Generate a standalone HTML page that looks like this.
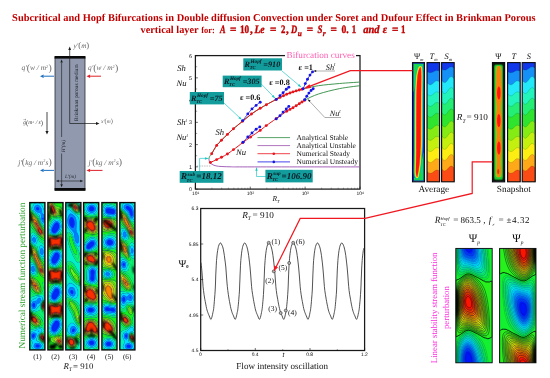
<!DOCTYPE html>
<html><head><meta charset="utf-8"><title>Graphical abstract</title>
<style>
html,body{margin:0;padding:0;background:#fff;}
body{width:550px;height:378px;overflow:hidden;font-family:"Liberation Serif", "DejaVu Serif", serif;}
svg{display:block;}
text{white-space:pre;text-rendering:geometricPrecision;}
</style></head><body>
<svg width="550" height="378" viewBox="0 0 550 378">
<defs>
<filter id="b1" x="-50%" y="-50%" width="200%" height="200%"><feGaussianBlur stdDeviation="1"/></filter>
<filter id="b15" x="-50%" y="-50%" width="200%" height="200%"><feGaussianBlur stdDeviation="1.5"/></filter>
<filter id="b2" x="-50%" y="-50%" width="200%" height="200%"><feGaussianBlur stdDeviation="2"/></filter>
<filter id="b3" x="-50%" y="-50%" width="200%" height="200%"><feGaussianBlur stdDeviation="3"/></filter>
<filter id="b4" x="-50%" y="-50%" width="200%" height="200%"><feGaussianBlur stdDeviation="4"/></filter>
<filter id="b05" x="-50%" y="-50%" width="200%" height="200%"><feGaussianBlur stdDeviation="0.5"/></filter>
<filter id="soft" x="-60%" y="-10%" width="220%" height="120%"><feGaussianBlur stdDeviation="0.35"/></filter>
</defs>
<rect x="0" y="0" width="550" height="378" fill="#fff"/>
<g id="title">
<text x="273.8" y="21.2" font-size="10.42" font-family='"Liberation Serif", "DejaVu Serif", serif' fill="#c00000" font-weight="bold" font-style="normal" text-anchor="middle" textLength="523.4" lengthAdjust="spacingAndGlyphs">Subcritical and Hopf Bifurcations in Double diffusion Convection under Soret and Dufour Effect in Brinkman Porous</text>
<text x="140.6" y="33.3" font-size="10.42" font-family='"Liberation Serif", "DejaVu Serif", serif' fill="#c00000" font-weight="bold" font-style="normal" text-anchor="start" textLength="58" lengthAdjust="spacingAndGlyphs">vertical layer</text>
<text x="201.3" y="33.3" font-size="9.0" font-family='"Liberation Serif", "DejaVu Serif", serif' fill="#c00000" font-weight="bold" font-style="normal" text-anchor="start" textLength="13.6" lengthAdjust="spacingAndGlyphs">for:</text>
<text x="220" y="33.3" font-size="11.3" font-family='"Liberation Serif", "DejaVu Serif", serif' fill="#c00000" font-weight="bold" font-style="italic" text-anchor="start" textLength="5.6" lengthAdjust="spacingAndGlyphs" stroke="#c00000" stroke-width="0.35">A</text>
<text x="230" y="33.3" font-size="11.3" font-family='"Liberation Serif", "DejaVu Serif", serif' fill="#c00000" font-weight="bold" font-style="normal" text-anchor="start" textLength="6.4" lengthAdjust="spacingAndGlyphs" stroke="#c00000" stroke-width="0.35">=</text>
<text x="240" y="33.3" font-size="11.3" font-family='"Liberation Serif", "DejaVu Serif", serif' fill="#c00000" font-weight="bold" font-style="normal" text-anchor="start" textLength="9.2" lengthAdjust="spacingAndGlyphs" stroke="#c00000" stroke-width="0.35">10</text>
<text x="250" y="33.3" font-size="11.3" font-family='"Liberation Serif", "DejaVu Serif", serif' fill="#c00000" font-weight="bold" font-style="normal" text-anchor="start" stroke="#c00000" stroke-width="0.35">,</text>
<text x="254.4" y="33.3" font-size="11.3" font-family='"Liberation Serif", "DejaVu Serif", serif' fill="#c00000" font-weight="bold" font-style="italic" text-anchor="start" textLength="10.2" lengthAdjust="spacingAndGlyphs" stroke="#c00000" stroke-width="0.35">Le</text>
<text x="270" y="33.3" font-size="11.3" font-family='"Liberation Serif", "DejaVu Serif", serif' fill="#c00000" font-weight="bold" font-style="normal" text-anchor="start" textLength="6.4" lengthAdjust="spacingAndGlyphs" stroke="#c00000" stroke-width="0.35">=</text>
<text x="281" y="33.3" font-size="11.3" font-family='"Liberation Serif", "DejaVu Serif", serif' fill="#c00000" font-weight="bold" font-style="normal" text-anchor="start" textLength="4.4" lengthAdjust="spacingAndGlyphs" stroke="#c00000" stroke-width="0.35">2</text>
<text x="286" y="33.3" font-size="11.3" font-family='"Liberation Serif", "DejaVu Serif", serif' fill="#c00000" font-weight="bold" font-style="normal" text-anchor="start" stroke="#c00000" stroke-width="0.35">,</text>
<text x="291" y="33.3" font-size="11.3" font-family='"Liberation Serif", "DejaVu Serif", serif' fill="#c00000" font-weight="bold" font-style="italic" text-anchor="start" textLength="6.2" lengthAdjust="spacingAndGlyphs" stroke="#c00000" stroke-width="0.35">D</text>
<text x="297.8" y="35.8" font-size="8.0" font-family='"Liberation Serif", "DejaVu Serif", serif' fill="#c00000" font-weight="bold" font-style="italic" text-anchor="start" textLength="4.0" lengthAdjust="spacingAndGlyphs" stroke="#c00000" stroke-width="0.35">u</text>
<text x="306.8" y="33.3" font-size="11.3" font-family='"Liberation Serif", "DejaVu Serif", serif' fill="#c00000" font-weight="bold" font-style="normal" text-anchor="start" textLength="6.4" lengthAdjust="spacingAndGlyphs" stroke="#c00000" stroke-width="0.35">=</text>
<text x="317.4" y="33.3" font-size="11.3" font-family='"Liberation Serif", "DejaVu Serif", serif' fill="#c00000" font-weight="bold" font-style="italic" text-anchor="start" textLength="5.0" lengthAdjust="spacingAndGlyphs" stroke="#c00000" stroke-width="0.35">S</text>
<text x="322.8" y="35.8" font-size="8.0" font-family='"Liberation Serif", "DejaVu Serif", serif' fill="#c00000" font-weight="bold" font-style="italic" text-anchor="start" textLength="2.8" lengthAdjust="spacingAndGlyphs" stroke="#c00000" stroke-width="0.35">r</text>
<text x="330.5" y="33.3" font-size="11.3" font-family='"Liberation Serif", "DejaVu Serif", serif' fill="#c00000" font-weight="bold" font-style="normal" text-anchor="start" textLength="6.4" lengthAdjust="spacingAndGlyphs" stroke="#c00000" stroke-width="0.35">=</text>
<text x="341.4" y="33.3" font-size="11.3" font-family='"Liberation Serif", "DejaVu Serif", serif' fill="#c00000" font-weight="bold" font-style="normal" text-anchor="start" textLength="7.2" lengthAdjust="spacingAndGlyphs" stroke="#c00000" stroke-width="0.35">0.</text>
<text x="351.8" y="33.3" font-size="11.3" font-family='"Liberation Serif", "DejaVu Serif", serif' fill="#c00000" font-weight="bold" font-style="normal" text-anchor="start" textLength="4.4" lengthAdjust="spacingAndGlyphs" stroke="#c00000" stroke-width="0.35">1</text>
<text x="363.2" y="33.3" font-size="11.3" font-family='"Liberation Serif", "DejaVu Serif", serif' fill="#c00000" font-weight="bold" font-style="italic" text-anchor="start" textLength="16.4" lengthAdjust="spacingAndGlyphs" stroke="#c00000" stroke-width="0.35">and</text>
<text x="382.8" y="33.3" font-size="11.3" font-family='"Liberation Serif", "DejaVu Serif", serif' fill="#c00000" font-weight="bold" font-style="italic" text-anchor="start" textLength="4.2" lengthAdjust="spacingAndGlyphs" stroke="#c00000" stroke-width="0.35">ε</text>
<text x="392" y="33.3" font-size="11.3" font-family='"Liberation Serif", "DejaVu Serif", serif' fill="#c00000" font-weight="bold" font-style="normal" text-anchor="start" textLength="6.4" lengthAdjust="spacingAndGlyphs" stroke="#c00000" stroke-width="0.35">=</text>
<text x="401.0" y="33.3" font-size="11.3" font-family='"Liberation Serif", "DejaVu Serif", serif' fill="#c00000" font-weight="bold" font-style="normal" text-anchor="start" textLength="4.4" lengthAdjust="spacingAndGlyphs" stroke="#c00000" stroke-width="0.35">1</text>
</g>
<g id="schematic">
<rect x="55" y="57" width="30" height="133" fill="#9099ae" stroke="#2a2d36" stroke-width="0.8"/>
<rect x="54.6" y="56" width="30.8" height="2.6" fill="#0a0a0a"/>
<rect x="54.6" y="188" width="30.8" height="2.8" fill="#0a0a0a"/>
<line x1="69.7" y1="123.5" x2="69.70" y2="50.00" stroke="#1a1a1a" stroke-width="0.7"/>
<polygon points="69.7,46.5 71.10,50.00 68.30,50.00" fill="#1a1a1a"/>
<line x1="69.7" y1="123.5" x2="96.00" y2="123.50" stroke="#1a1a1a" stroke-width="0.7"/>
<polygon points="99.5,123.5 96.00,124.90 96.00,122.10" fill="#1a1a1a"/>
<line x1="61.6" y1="137" x2="61.60" y2="62.50" stroke="#1a1a1a" stroke-width="0.6"/>
<polygon points="61.6,59.5 62.80,62.50 60.40,62.50" fill="#1a1a1a"/>
<line x1="61.6" y1="153.5" x2="61.60" y2="184.30" stroke="#1a1a1a" stroke-width="0.6"/>
<polygon points="61.6,187.3 60.40,184.30 62.80,184.30" fill="#1a1a1a"/>
<line x1="70" y1="181" x2="58.80" y2="181.00" stroke="#1a1a1a" stroke-width="0.6"/>
<polygon points="55.8,181 58.80,179.80 58.80,182.20" fill="#1a1a1a"/>
<line x1="70" y1="181" x2="80.20" y2="181.00" stroke="#1a1a1a" stroke-width="0.6"/>
<polygon points="83.2,181 80.20,182.20 80.20,179.80" fill="#1a1a1a"/>
<line x1="101" y1="76.2" x2="90.10" y2="76.20" stroke="#e0202a" stroke-width="1.0"/>
<polygon points="86.5,76.2 90.10,74.50 90.10,77.90" fill="#e0202a"/>
<line x1="54" y1="76.2" x2="43.60" y2="76.20" stroke="#1f6fc0" stroke-width="1.0"/>
<polygon points="40,76.2 43.60,74.50 43.60,77.90" fill="#1f6fc0"/>
<line x1="102.5" y1="170.4" x2="90.10" y2="170.40" stroke="#e0202a" stroke-width="1.0"/>
<polygon points="86.5,170.4 90.10,168.70 90.10,172.10" fill="#e0202a"/>
<line x1="54" y1="170.4" x2="43.60" y2="170.40" stroke="#1f6fc0" stroke-width="1.0"/>
<polygon points="40,170.4 43.60,168.70 43.60,172.10" fill="#1f6fc0"/>
<line x1="47" y1="112" x2="47.00" y2="130.90" stroke="#1a1a1a" stroke-width="0.8"/>
<polygon points="47,134.5 45.40,130.90 48.60,130.90" fill="#1a1a1a"/>
<text x="73.5" y="47.5" font-size="7.2" font-family='"Liberation Serif", "DejaVu Serif", serif' fill="#666" font-style="italic">y′<tspan font-size="8.6" font-style="normal" dy="0.8">(</tspan><tspan dy="-0.8">m</tspan><tspan font-size="8.6" font-style="normal" dy="0.8">)</tspan></text>
<text x="101" y="122.6" font-size="5.4" font-family='"Liberation Serif", "DejaVu Serif", serif' fill="#666" font-style="italic">x′<tspan font-size="6.4" font-style="normal" dy="0.8">(</tspan><tspan dy="-0.8">m</tspan><tspan font-size="6.4" font-style="normal" dy="0.8">)</tspan></text>
<text x="21.5" y="70.2" font-size="7.4" font-family='"Liberation Serif", "DejaVu Serif", serif' fill="#666" font-style="italic">q′<tspan font-size="9.8" font-style="normal" dy="0.8">(</tspan><tspan dy="-0.8">w / m<tspan font-size="4.2" dy="-2.4">2</tspan><tspan dy="2.4" font-size="1"> </tspan></tspan><tspan font-size="9.8" font-style="normal" dy="0.8">)</tspan></text>
<text x="88" y="70.2" font-size="7.4" font-family='"Liberation Serif", "DejaVu Serif", serif' fill="#666" font-style="italic">q′<tspan font-size="9.8" font-style="normal" dy="0.8">(</tspan><tspan dy="-0.8">w / m<tspan font-size="4.2" dy="-2.4">2</tspan><tspan dy="2.4" font-size="1"> </tspan></tspan><tspan font-size="9.8" font-style="normal" dy="0.8">)</tspan></text>
<text x="23.3" y="124.3" font-size="5.6" font-family='"Liberation Serif", "DejaVu Serif", serif' fill="#444" font-style="italic">g<tspan font-size="6.8" font-style="normal" dy="0.8">(</tspan><tspan dy="-0.8">m<tspan font-size="3.2" dy="-1.8">2</tspan><tspan dy="1.8" font-size="1"> </tspan> / s</tspan><tspan font-size="6.8" font-style="normal" dy="0.8">)</tspan></text>
<path d="M23.4,119.6 h2.6 m-0.9,-0.7 l0.9,0.7 l-0.9,0.7" stroke="#555" stroke-width="0.35" fill="none"/>
<text x="18.2" y="164.6" font-size="7.4" font-family='"Liberation Serif", "DejaVu Serif", serif' fill="#666" font-style="italic">j′<tspan font-size="9.8" font-style="normal" dy="0.8">(</tspan><tspan dy="-0.8">kg / m<tspan font-size="4.2" dy="-2.4">2</tspan><tspan dy="2.4" font-size="1"> </tspan>s</tspan><tspan font-size="9.8" font-style="normal" dy="0.8">)</tspan></text>
<text x="88.6" y="164.6" font-size="7.4" font-family='"Liberation Serif", "DejaVu Serif", serif' fill="#666" font-style="italic">j′<tspan font-size="9.8" font-style="normal" dy="0.8">(</tspan><tspan dy="-0.8">kg / m<tspan font-size="4.2" dy="-2.4">2</tspan><tspan dy="2.4" font-size="1"> </tspan>s</tspan><tspan font-size="9.8" font-style="normal" dy="0.8">)</tspan></text>
<text x="0" y="0" font-size="5.4" font-family='"Liberation Serif", "DejaVu Serif", serif' fill="#14161c" font-weight="normal" font-style="normal" text-anchor="start" transform="translate(77.6,121) rotate(-90)">Brinkman porous medium</text>
<text x="0" y="0" font-size="5.3" font-family='"Liberation Serif", "DejaVu Serif", serif' fill="#22252c" font-weight="normal" font-style="italic" text-anchor="start" transform="translate(65.0,152.2) rotate(-90)">H′(m)</text>
<text x="65" y="178.3" font-size="5.0" font-family='"Liberation Serif", "DejaVu Serif", serif' fill="#22252c" font-weight="normal" font-style="italic" text-anchor="start" >L′(m)</text>
</g>
<g id="bif">
<rect x="195.4" y="55.6" width="164.6" height="133.5" fill="#fff" stroke="#1a1a1a" stroke-width="1.25"/>
<line x1="195.4" y1="189.1" x2="197.9" y2="189.1" stroke="#111" stroke-width="0.6"/>
<text x="192.0" y="191.0" font-size="5.4" font-family='"Liberation Sans", "DejaVu Sans", sans-serif' fill="#111" font-weight="normal" font-style="normal" text-anchor="end" >0</text>
<line x1="195.4" y1="177.97" x2="197.20000000000002" y2="177.97" stroke="#111" stroke-width="0.4"/>
<line x1="195.4" y1="166.85" x2="197.9" y2="166.85" stroke="#111" stroke-width="0.6"/>
<text x="192.0" y="168.75" font-size="5.4" font-family='"Liberation Sans", "DejaVu Sans", sans-serif' fill="#111" font-weight="normal" font-style="normal" text-anchor="end" >1</text>
<line x1="195.4" y1="155.72" x2="197.20000000000002" y2="155.72" stroke="#111" stroke-width="0.4"/>
<line x1="195.4" y1="144.6" x2="197.9" y2="144.6" stroke="#111" stroke-width="0.6"/>
<text x="192.0" y="146.5" font-size="5.4" font-family='"Liberation Sans", "DejaVu Sans", sans-serif' fill="#111" font-weight="normal" font-style="normal" text-anchor="end" >2</text>
<line x1="195.4" y1="133.47" x2="197.20000000000002" y2="133.47" stroke="#111" stroke-width="0.4"/>
<line x1="195.4" y1="122.35" x2="197.9" y2="122.35" stroke="#111" stroke-width="0.6"/>
<text x="192.0" y="124.25" font-size="5.4" font-family='"Liberation Sans", "DejaVu Sans", sans-serif' fill="#111" font-weight="normal" font-style="normal" text-anchor="end" >3</text>
<line x1="195.4" y1="111.22" x2="197.20000000000002" y2="111.22" stroke="#111" stroke-width="0.4"/>
<line x1="195.4" y1="100.1" x2="197.9" y2="100.1" stroke="#111" stroke-width="0.6"/>
<text x="192.0" y="102.0" font-size="5.4" font-family='"Liberation Sans", "DejaVu Sans", sans-serif' fill="#111" font-weight="normal" font-style="normal" text-anchor="end" >4</text>
<line x1="195.4" y1="88.97" x2="197.20000000000002" y2="88.97" stroke="#111" stroke-width="0.4"/>
<line x1="195.4" y1="77.85" x2="197.9" y2="77.85" stroke="#111" stroke-width="0.6"/>
<text x="192.0" y="79.75" font-size="5.4" font-family='"Liberation Sans", "DejaVu Sans", sans-serif' fill="#111" font-weight="normal" font-style="normal" text-anchor="end" >5</text>
<line x1="195.4" y1="66.72" x2="197.20000000000002" y2="66.72" stroke="#111" stroke-width="0.4"/>
<line x1="195.4" y1="55.599999999999994" x2="197.9" y2="55.599999999999994" stroke="#111" stroke-width="0.6"/>
<text x="192.0" y="57.49999999999999" font-size="5.4" font-family='"Liberation Sans", "DejaVu Sans", sans-serif' fill="#111" font-weight="normal" font-style="normal" text-anchor="end" >6</text>
<line x1="195.4" y1="189.1" x2="195.4" y2="186.6" stroke="#111" stroke-width="0.6"/>
<text x="195.6" y="195.2" font-size="4.9" font-family='"Liberation Sans", "DejaVu Sans", sans-serif' fill="#000" text-anchor="middle">10<tspan font-size="3.3" dy="-1.7">1</tspan></text>
<line x1="211.9" y1="189.1" x2="211.9" y2="187.7" stroke="#111" stroke-width="0.35"/>
<line x1="221.6" y1="189.1" x2="221.6" y2="187.7" stroke="#111" stroke-width="0.35"/>
<line x1="228.4" y1="189.1" x2="228.4" y2="187.7" stroke="#111" stroke-width="0.35"/>
<line x1="233.8" y1="189.1" x2="233.8" y2="187.7" stroke="#111" stroke-width="0.35"/>
<line x1="238.1" y1="189.1" x2="238.1" y2="187.7" stroke="#111" stroke-width="0.35"/>
<line x1="241.8" y1="189.1" x2="241.8" y2="187.7" stroke="#111" stroke-width="0.35"/>
<line x1="244.9" y1="189.1" x2="244.9" y2="187.7" stroke="#111" stroke-width="0.35"/>
<line x1="247.8" y1="189.1" x2="247.8" y2="187.7" stroke="#111" stroke-width="0.35"/>
<line x1="250.26666666666668" y1="189.1" x2="250.26666666666668" y2="186.6" stroke="#111" stroke-width="0.6"/>
<text x="250.5" y="195.2" font-size="4.9" font-family='"Liberation Sans", "DejaVu Sans", sans-serif' fill="#000" text-anchor="middle">10<tspan font-size="3.3" dy="-1.7">2</tspan></text>
<line x1="266.8" y1="189.1" x2="266.8" y2="187.7" stroke="#111" stroke-width="0.35"/>
<line x1="276.4" y1="189.1" x2="276.4" y2="187.7" stroke="#111" stroke-width="0.35"/>
<line x1="283.3" y1="189.1" x2="283.3" y2="187.7" stroke="#111" stroke-width="0.35"/>
<line x1="288.6" y1="189.1" x2="288.6" y2="187.7" stroke="#111" stroke-width="0.35"/>
<line x1="293.0" y1="189.1" x2="293.0" y2="187.7" stroke="#111" stroke-width="0.35"/>
<line x1="296.6" y1="189.1" x2="296.6" y2="187.7" stroke="#111" stroke-width="0.35"/>
<line x1="299.8" y1="189.1" x2="299.8" y2="187.7" stroke="#111" stroke-width="0.35"/>
<line x1="302.6" y1="189.1" x2="302.6" y2="187.7" stroke="#111" stroke-width="0.35"/>
<line x1="305.1333333333333" y1="189.1" x2="305.1333333333333" y2="186.6" stroke="#111" stroke-width="0.6"/>
<text x="305.3" y="195.2" font-size="4.9" font-family='"Liberation Sans", "DejaVu Sans", sans-serif' fill="#000" text-anchor="middle">10<tspan font-size="3.3" dy="-1.7">3</tspan></text>
<line x1="321.6" y1="189.1" x2="321.6" y2="187.7" stroke="#111" stroke-width="0.35"/>
<line x1="331.3" y1="189.1" x2="331.3" y2="187.7" stroke="#111" stroke-width="0.35"/>
<line x1="338.2" y1="189.1" x2="338.2" y2="187.7" stroke="#111" stroke-width="0.35"/>
<line x1="343.5" y1="189.1" x2="343.5" y2="187.7" stroke="#111" stroke-width="0.35"/>
<line x1="347.8" y1="189.1" x2="347.8" y2="187.7" stroke="#111" stroke-width="0.35"/>
<line x1="351.5" y1="189.1" x2="351.5" y2="187.7" stroke="#111" stroke-width="0.35"/>
<line x1="354.7" y1="189.1" x2="354.7" y2="187.7" stroke="#111" stroke-width="0.35"/>
<line x1="357.5" y1="189.1" x2="357.5" y2="187.7" stroke="#111" stroke-width="0.35"/>
<line x1="360.0" y1="189.1" x2="360.0" y2="186.6" stroke="#111" stroke-width="0.6"/>
<text x="360.2" y="195.2" font-size="4.9" font-family='"Liberation Sans", "DejaVu Sans", sans-serif' fill="#000" text-anchor="middle">10<tspan font-size="3.3" dy="-1.7">4</tspan></text>
<text x="177.2" y="70.8" font-size="8.6" font-family='"Liberation Serif", "DejaVu Serif", serif' fill="#111" font-style="italic" font-weight="normal" text-anchor="start">Sh</text>
<text x="176.6" y="85.8" font-size="8.6" font-family='"Liberation Serif", "DejaVu Serif", serif' fill="#111" font-style="italic" font-weight="normal" text-anchor="start">Nu</text>
<text x="177.0" y="125.2" font-size="8.6" font-family='"Liberation Serif", "DejaVu Serif", serif' fill="#111" font-style="italic" font-weight="normal" text-anchor="start">Sh<tspan font-size="5.159999999999999" dy="-3.61">t</tspan><tspan dy="3.61" font-size="0.5"> </tspan></text>
<text x="176.4" y="140.2" font-size="8.6" font-family='"Liberation Serif", "DejaVu Serif", serif' fill="#111" font-style="italic" font-weight="normal" text-anchor="start">Nu<tspan font-size="5.159999999999999" dy="-3.61">t</tspan><tspan dy="3.61" font-size="0.5"> </tspan></text>
<text x="272.5" y="201" font-size="7.5" font-family='"Liberation Serif", "DejaVu Serif", serif' fill="#111" font-style="italic" font-weight="normal" text-anchor="start">R<tspan font-size="4.5" dy="1.88">T</tspan></text>
<line x1="195.4" y1="166" x2="211" y2="166" stroke="#555" stroke-width="0.5" stroke-dasharray="0.8,0.9"/>
<path d="M208.9,158.9 C209.0,158.5 209.1,157.4 209.6,156.5 C210.1,155.6 210.5,155.5 211.7,153.7 C212.9,151.8 215.1,147.7 216.7,145.4 C218.3,143.2 219.7,142.0 221.5,140.2 C223.3,138.4 225.4,136.3 227.4,134.4 C229.4,132.5 231.0,130.9 233.5,128.7 C236.0,126.5 239.5,123.8 242.5,121.3 C245.5,118.8 248.6,116.2 251.5,114.0 C254.4,111.8 257.7,109.8 260.2,108.3 C262.7,106.8 263.7,106.2 266.4,104.7 C269.1,103.2 272.8,101.2 276.2,99.4 C279.6,97.7 283.5,95.6 286.7,94.2 C289.9,92.8 292.4,92.1 295.2,91.2 C297.9,90.3 301.9,89.2 303.2,88.8" fill="none" stroke="#2e8b40" stroke-width="0.9"/>
<path d="M295.2,91.2 C296.5,90.8 299.3,89.7 303.2,88.8 C307.1,87.9 312.4,86.6 318.5,85.7 C324.6,84.8 332.7,84.1 339.6,83.5 C346.5,82.9 356.4,82.3 359.7,82.1" fill="none" stroke="#2e8b40" stroke-width="0.9"/>
<path d="M295.2,106.4 C296.8,105.4 300.8,102.3 304.7,100.2 C308.6,98.1 312.7,95.9 318.5,94.0 C324.3,92.1 332.7,90.0 339.6,88.6 C346.5,87.2 356.4,86.2 359.7,85.7" fill="none" stroke="#2e8b40" stroke-width="0.9"/>
<path d="M208.9,158.9 C209.0,159.3 209.0,160.7 209.4,161.5 C209.8,162.3 210.6,163.3 211.5,164.0 C212.4,164.7 213.6,165.2 215.0,165.6 C216.4,166.0 217.5,166.2 220.0,166.4 C222.5,166.6 225.0,166.7 230.0,166.8 C235.0,166.9 228.4,166.9 250.0,166.9 C271.6,166.9 341.4,166.9 359.7,166.9" fill="none" stroke="#9b4fb0" stroke-width="0.9"/>
<path d="M211.7,153.7 C212.5,152.3 215.1,147.7 216.7,145.4 C218.3,143.2 219.7,142.0 221.5,140.2 C223.3,138.4 225.4,136.3 227.4,134.4 C229.4,132.5 231.0,130.9 233.5,128.7 C236.0,126.5 239.5,123.8 242.5,121.3 C245.5,118.8 248.6,116.2 251.5,114.0 C254.4,111.8 257.7,109.8 260.2,108.3 C262.7,106.8 263.7,106.2 266.4,104.7 C269.1,103.2 272.8,101.2 276.2,99.4 C279.6,97.7 283.5,95.6 286.7,94.2 C289.9,92.8 292.4,92.1 295.2,91.2 C297.9,90.3 301.9,89.2 303.2,88.8" fill="none" stroke="#e8131b" stroke-width="1.0"/>
<path d="M210.4,162.5 C211.4,162.0 214.8,160.5 216.7,159.6 C218.5,158.7 219.7,158.1 221.5,157.2 C223.3,156.3 225.4,155.3 227.4,154.0 C229.4,152.7 230.9,151.5 233.5,149.6 C236.1,147.7 240.0,144.7 242.8,142.6 C245.7,140.5 247.7,139.0 250.6,137.0 C253.5,135.0 257.6,132.3 260.2,130.4 C262.8,128.5 263.6,127.6 266.3,125.6 C269.0,123.6 272.8,121.0 276.2,118.6 C279.6,116.2 283.5,113.2 286.7,111.2 C289.9,109.2 292.2,108.2 295.2,106.4 C298.2,104.6 303.1,101.2 304.7,100.2" fill="none" stroke="#e8131b" stroke-width="1.0"/>
<circle cx="211.7" cy="153.7" r="1.45" fill="#e8131b"/>
<circle cx="216.7" cy="145.4" r="1.45" fill="#e8131b"/>
<circle cx="221.5" cy="140.2" r="1.45" fill="#e8131b"/>
<circle cx="227.4" cy="134.4" r="1.45" fill="#e8131b"/>
<circle cx="233.5" cy="128.7" r="1.45" fill="#e8131b"/>
<circle cx="242.5" cy="121.3" r="1.45" fill="#e8131b"/>
<circle cx="251.5" cy="114.0" r="1.45" fill="#e8131b"/>
<circle cx="260.2" cy="108.3" r="1.45" fill="#e8131b"/>
<circle cx="266.4" cy="104.7" r="1.45" fill="#e8131b"/>
<circle cx="276.2" cy="99.4" r="1.45" fill="#e8131b"/>
<circle cx="280" cy="97.4" r="1.45" fill="#e8131b"/>
<circle cx="283.5" cy="95.8" r="1.45" fill="#e8131b"/>
<circle cx="286.7" cy="94.2" r="1.45" fill="#e8131b"/>
<circle cx="290" cy="93" r="1.45" fill="#e8131b"/>
<circle cx="293" cy="91.9" r="1.45" fill="#e8131b"/>
<circle cx="296.2" cy="90.9" r="1.45" fill="#e8131b"/>
<circle cx="299.3" cy="90" r="1.45" fill="#e8131b"/>
<circle cx="302" cy="89.2" r="1.45" fill="#e8131b"/>
<circle cx="210.4" cy="162.5" r="1.45" fill="#e8131b"/>
<circle cx="216.7" cy="159.6" r="1.45" fill="#e8131b"/>
<circle cx="221.5" cy="157.2" r="1.45" fill="#e8131b"/>
<circle cx="227.4" cy="154.0" r="1.45" fill="#e8131b"/>
<circle cx="233.5" cy="149.6" r="1.45" fill="#e8131b"/>
<circle cx="242.8" cy="142.6" r="1.45" fill="#e8131b"/>
<circle cx="250.6" cy="137.0" r="1.45" fill="#e8131b"/>
<circle cx="260.2" cy="130.4" r="1.45" fill="#e8131b"/>
<circle cx="266.3" cy="125.6" r="1.45" fill="#e8131b"/>
<circle cx="276.2" cy="118.6" r="1.45" fill="#e8131b"/>
<circle cx="286.7" cy="111.2" r="1.45" fill="#e8131b"/>
<circle cx="290" cy="109.4" r="1.45" fill="#e8131b"/>
<circle cx="293" cy="107.7" r="1.45" fill="#e8131b"/>
<circle cx="296.2" cy="105.8" r="1.45" fill="#e8131b"/>
<circle cx="299.3" cy="103.8" r="1.45" fill="#e8131b"/>
<circle cx="302" cy="102" r="1.45" fill="#e8131b"/>
<circle cx="304.7" cy="100.2" r="1.45" fill="#e8131b"/>
<path d="M242.8,120.6 C243.6,119.5 246.3,115.9 247.8,113.9 C249.3,112.0 250.6,110.3 252.0,108.9 C253.4,107.5 254.7,106.5 256.1,105.4 C257.5,104.3 259.5,102.7 260.2,102.2" fill="none" stroke="#1414e6" stroke-width="0.8"/>
<circle cx="242.8" cy="120.6" r="1.45" fill="#1414e6"/>
<circle cx="247.8" cy="113.9" r="1.45" fill="#1414e6"/>
<circle cx="252" cy="108.9" r="1.45" fill="#1414e6"/>
<circle cx="256.1" cy="105.4" r="1.45" fill="#1414e6"/>
<circle cx="260.2" cy="102.2" r="1.45" fill="#1414e6"/>
<path d="M243.1,142.2 C243.9,141.3 246.3,138.5 247.8,137.0 C249.3,135.5 250.6,134.3 252.0,133.0 C253.4,131.7 254.8,130.3 256.1,129.3 C257.4,128.3 259.2,127.3 259.8,126.9" fill="none" stroke="#1414e6" stroke-width="0.8"/>
<circle cx="243.1" cy="142.2" r="1.45" fill="#1414e6"/>
<circle cx="247.8" cy="137" r="1.45" fill="#1414e6"/>
<circle cx="252" cy="133" r="1.45" fill="#1414e6"/>
<circle cx="256.1" cy="129.3" r="1.45" fill="#1414e6"/>
<circle cx="259.8" cy="126.9" r="1.45" fill="#1414e6"/>
<path d="M276.2,99.4 C276.8,98.8 278.9,96.7 280.0,95.6 C281.1,94.5 282.1,93.8 283.1,92.7 C284.2,91.7 285.4,90.2 286.3,89.3 C287.2,88.4 288.4,87.5 288.8,87.2" fill="none" stroke="#1414e6" stroke-width="0.8"/>
<circle cx="276.2" cy="99.4" r="1.45" fill="#1414e6"/>
<circle cx="280" cy="95.6" r="1.45" fill="#1414e6"/>
<circle cx="283.1" cy="92.7" r="1.45" fill="#1414e6"/>
<circle cx="286.3" cy="89.3" r="1.45" fill="#1414e6"/>
<circle cx="288.8" cy="87.2" r="1.45" fill="#1414e6"/>
<path d="M276.2,118.9 C276.8,118.4 278.9,116.8 280.0,115.7 C281.1,114.6 282.1,113.2 283.1,112.1 C284.2,111.0 285.4,110.0 286.3,109.0 C287.2,108.0 288.4,106.8 288.8,106.4" fill="none" stroke="#1414e6" stroke-width="0.8"/>
<circle cx="276.2" cy="118.9" r="1.45" fill="#1414e6"/>
<circle cx="280" cy="115.7" r="1.45" fill="#1414e6"/>
<circle cx="283.1" cy="112.1" r="1.45" fill="#1414e6"/>
<circle cx="286.3" cy="109" r="1.45" fill="#1414e6"/>
<circle cx="288.8" cy="106.4" r="1.45" fill="#1414e6"/>
<path d="M303.2,88.8 C303.6,87.9 304.6,85.2 305.3,83.6 C306.0,82.0 306.7,80.7 307.5,79.3 C308.3,77.9 309.2,76.3 310.0,75.1 C310.8,73.9 312.1,72.4 312.5,71.9" fill="none" stroke="#1414e6" stroke-width="0.8"/>
<circle cx="303.2" cy="88.8" r="1.45" fill="#1414e6"/>
<circle cx="305.3" cy="83.6" r="1.45" fill="#1414e6"/>
<circle cx="307.5" cy="79.3" r="1.45" fill="#1414e6"/>
<circle cx="310" cy="75.1" r="1.45" fill="#1414e6"/>
<circle cx="312.5" cy="71.9" r="1.45" fill="#1414e6"/>
<path d="M304.7,99.8 C305.1,99.2 306.1,97.4 306.8,96.3 C307.5,95.2 308.2,94.1 308.9,93.1 C309.6,92.1 310.4,91.2 311.1,90.5 C311.8,89.8 312.9,89.1 313.2,88.8" fill="none" stroke="#1414e6" stroke-width="0.8"/>
<circle cx="304.7" cy="99.8" r="1.45" fill="#1414e6"/>
<circle cx="306.8" cy="96.3" r="1.45" fill="#1414e6"/>
<circle cx="308.9" cy="93.1" r="1.45" fill="#1414e6"/>
<circle cx="311.1" cy="90.5" r="1.45" fill="#1414e6"/>
<circle cx="313.2" cy="88.8" r="1.45" fill="#1414e6"/>
<line x1="257.5" y1="137.6" x2="290" y2="137.6" stroke="#2e8b40" stroke-width="0.8"/>
<text x="296.6" y="139.9" font-size="7.45" font-family='"Liberation Serif", "DejaVu Serif", serif' fill="#111" font-weight="normal" font-style="normal" text-anchor="start" >Analytical Stable</text>
<line x1="257.5" y1="145.6" x2="290" y2="145.6" stroke="#9b4fb0" stroke-width="0.8"/>
<text x="296.6" y="147.9" font-size="7.45" font-family='"Liberation Serif", "DejaVu Serif", serif' fill="#111" font-weight="normal" font-style="normal" text-anchor="start" >Analytical Unstable</text>
<line x1="257.5" y1="153.7" x2="290" y2="153.7" stroke="#e8131b" stroke-width="0.8"/>
<circle cx="273.8" cy="153.7" r="1.3" fill="#e8131b"/>
<text x="296.6" y="156.0" font-size="7.45" font-family='"Liberation Serif", "DejaVu Serif", serif' fill="#111" font-weight="normal" font-style="normal" text-anchor="start" >Numerical Steady</text>
<line x1="257.5" y1="161.9" x2="290" y2="161.9" stroke="#1414e6" stroke-width="0.8"/>
<circle cx="273.8" cy="161.9" r="1.3" fill="#1414e6"/>
<text x="296.6" y="164.20000000000002" font-size="7.45" font-family='"Liberation Serif", "DejaVu Serif", serif' fill="#111" font-weight="normal" font-style="normal" text-anchor="start" >Numerical Unsteady</text>
<path d="M282,71 L301,87" fill="none" stroke="#18c4c4" stroke-width="0.65"/>
<polygon points="301,87 297.75,85.89 299.36,83.98" fill="#18c4c4"/>
<path d="M261.3,84 L275,98.2" fill="none" stroke="#18c4c4" stroke-width="0.65"/>
<polygon points="275,98.2 271.88,96.76 273.68,95.03" fill="#18c4c4"/>
<path d="M224,103 L241.5,119.5" fill="none" stroke="#18c4c4" stroke-width="0.65"/>
<polygon points="241.5,119.5 238.31,118.21 240.03,116.40" fill="#18c4c4"/>
<path d="M199.6,171 L199.6,158.4 L208.2,158.4" fill="none" stroke="#18c4c4" stroke-width="0.65"/>
<polygon points="208.2,158.4 205.00,159.65 205.00,157.15" fill="#18c4c4"/>
<path d="M268,176.5 L256.5,176.5 L256.5,167.6" fill="none" stroke="#18c4c4" stroke-width="0.65"/>
<polygon points="256.5,167.6 257.75,170.80 255.25,170.80" fill="#18c4c4"/>
<rect x="243.3" y="58.3" width="38.7" height="12.2" fill="#129c9c"/>
<text x="244.6" y="66.8" font-size="8.2" font-family='"Liberation Serif", "DejaVu Serif", serif' fill="#0a1822" font-style="italic" font-weight="bold">R</text>
<text x="249.7" y="69.0" font-size="4.6" font-family='"Liberation Serif", "DejaVu Serif", serif' fill="#0a1822" font-style="italic" font-weight="bold">TC</text>
<text x="250.5" y="63.4" font-size="5.2" font-family='"Liberation Serif", "DejaVu Serif", serif' fill="#0a1822" font-style="italic" font-weight="bold">Hopf</text>
<text x="263.3" y="66.8" font-size="8.2" font-family='"Liberation Serif", "DejaVu Serif", serif' fill="#0a1822" font-style="italic" font-weight="bold">=910</text>
<rect x="222.7" y="75.6" width="38.9" height="11.6" fill="#129c9c"/>
<text x="224.0" y="83.7" font-size="8.2" font-family='"Liberation Serif", "DejaVu Serif", serif' fill="#0a1822" font-style="italic" font-weight="bold">R</text>
<text x="229.1" y="85.9" font-size="4.6" font-family='"Liberation Serif", "DejaVu Serif", serif' fill="#0a1822" font-style="italic" font-weight="bold">TC</text>
<text x="229.9" y="80.3" font-size="5.2" font-family='"Liberation Serif", "DejaVu Serif", serif' fill="#0a1822" font-style="italic" font-weight="bold">Hopf</text>
<text x="242.7" y="83.7" font-size="8.2" font-family='"Liberation Serif", "DejaVu Serif", serif' fill="#0a1822" font-style="italic" font-weight="bold">=305</text>
<rect x="189.8" y="92" width="34.2" height="12.4" fill="#129c9c"/>
<text x="191.1" y="100.7" font-size="8.2" font-family='"Liberation Serif", "DejaVu Serif", serif' fill="#0a1822" font-style="italic" font-weight="bold">R</text>
<text x="196.2" y="102.9" font-size="4.6" font-family='"Liberation Serif", "DejaVu Serif", serif' fill="#0a1822" font-style="italic" font-weight="bold">TC</text>
<text x="197.0" y="97.2" font-size="5.2" font-family='"Liberation Serif", "DejaVu Serif", serif' fill="#0a1822" font-style="italic" font-weight="bold">Hopf</text>
<text x="209.8" y="100.7" font-size="8.2" font-family='"Liberation Serif", "DejaVu Serif", serif' fill="#0a1822" font-style="italic" font-weight="bold">=75</text>
<rect x="179.7" y="171" width="43.7" height="11.8" fill="#129c9c"/>
<text x="181.0" y="179.3" font-size="9.0" font-family='"Liberation Serif", "DejaVu Serif", serif' fill="#0a1822" font-style="italic" font-weight="bold">R</text>
<text x="186.6" y="181.5" font-size="4.6" font-family='"Liberation Serif", "DejaVu Serif", serif' fill="#0a1822" font-style="italic" font-weight="bold">TC</text>
<text x="187.5" y="175.5" font-size="5.2" font-family='"Liberation Serif", "DejaVu Serif", serif' fill="#0a1822" font-style="italic" font-weight="bold">sub</text>
<text x="196.3" y="179.3" font-size="9.0" font-family='"Liberation Serif", "DejaVu Serif", serif' fill="#0a1822" font-style="italic" font-weight="bold">=18.12</text>
<rect x="265.4" y="169.8" width="47.3" height="12.6" fill="#129c9c"/>
<text x="266.7" y="178.6" font-size="9.0" font-family='"Liberation Serif", "DejaVu Serif", serif' fill="#0a1822" font-style="italic" font-weight="bold">R</text>
<text x="272.3" y="180.8" font-size="4.6" font-family='"Liberation Serif", "DejaVu Serif", serif' fill="#0a1822" font-style="italic" font-weight="bold">TC</text>
<text x="273.2" y="174.8" font-size="5.2" font-family='"Liberation Serif", "DejaVu Serif", serif' fill="#0a1822" font-style="italic" font-weight="bold">sup</text>
<text x="281.6" y="178.6" font-size="9.0" font-family='"Liberation Serif", "DejaVu Serif", serif' fill="#0a1822" font-style="italic" font-weight="bold">=106.90</text>
<text x="240" y="100" font-size="8.2" font-family='"Liberation Serif", "DejaVu Serif", serif' fill="#111" font-weight="bold" font-style="normal" text-anchor="start" >ε =0.6</text>
<text x="269.3" y="85" font-size="8.2" font-family='"Liberation Serif", "DejaVu Serif", serif' fill="#111" font-weight="bold" font-style="normal" text-anchor="start" >ε =0.8</text>
<text x="298.6" y="70" font-size="8.2" font-family='"Liberation Serif", "DejaVu Serif", serif' fill="#111" font-weight="bold" font-style="normal" text-anchor="start" >ε =1</text>
<text x="215.5" y="135.4" font-size="8.6" font-family='"Liberation Serif", "DejaVu Serif", serif' fill="#111" font-style="italic" font-weight="normal" text-anchor="start">Sh</text>
<text x="236" y="154.8" font-size="8.6" font-family='"Liberation Serif", "DejaVu Serif", serif' fill="#111" font-style="italic" font-weight="normal" text-anchor="start">Nu</text>
<text x="325.8" y="69.6" font-size="8.2" font-family='"Liberation Serif", "DejaVu Serif", serif' fill="#111" font-style="italic" font-weight="normal" text-anchor="start">Sh<tspan font-size="4.919999999999999" dy="-3.44">t</tspan><tspan dy="3.44" font-size="0.5"> </tspan></text>
<line x1="315.5" y1="71" x2="335" y2="71" stroke="#333" stroke-width="0.4"/>
<polygon points="313,71 316.2,70 316.2,72" fill="#111"/>
<text x="329.8" y="116.2" font-size="8.2" font-family='"Liberation Serif", "DejaVu Serif", serif' fill="#111" font-style="italic" font-weight="normal" text-anchor="start">Nu<tspan font-size="4.919999999999999" dy="-3.44">t</tspan><tspan dy="3.44" font-size="0.5"> </tspan></text>
<path d="M341,117.5 L324.8,117.5 L308.6,100.2" stroke="#333" stroke-width="0.4" fill="none"/>
<polygon points="307.6,99.2 310.6,100.6 309.2,102.0" fill="#111"/>
<rect x="285" y="50" width="71" height="9" fill="#fff"/>
<text x="286.6" y="58.2" font-size="9.2" font-family='"Liberation Serif", "DejaVu Serif", serif' fill="#ff5cb0" font-weight="normal" font-style="normal" text-anchor="start" >Bifurcation curves</text>
</g>
<g id="osc">
<rect x="200.7" y="208.5" width="163.90000000000003" height="142.0" fill="#fff" stroke="#1a1a1a" stroke-width="1.25"/>
<line x1="200.7" y1="350.5" x2="203.2" y2="350.5" stroke="#111" stroke-width="0.6"/>
<text x="198.39999999999998" y="352.3" font-size="4.9" font-family='"Liberation Sans", "DejaVu Sans", sans-serif' fill="#000" font-weight="normal" font-style="normal" text-anchor="end" >4.5</text>
<line x1="200.7" y1="315.0" x2="203.2" y2="315.0" stroke="#111" stroke-width="0.6"/>
<text x="198.39999999999998" y="316.8" font-size="4.9" font-family='"Liberation Sans", "DejaVu Sans", sans-serif' fill="#000" font-weight="normal" font-style="normal" text-anchor="end" >4.95</text>
<line x1="200.7" y1="279.5" x2="203.2" y2="279.5" stroke="#111" stroke-width="0.6"/>
<text x="198.39999999999998" y="281.3" font-size="4.9" font-family='"Liberation Sans", "DejaVu Sans", sans-serif' fill="#000" font-weight="normal" font-style="normal" text-anchor="end" >5.4</text>
<line x1="200.7" y1="244.0" x2="203.2" y2="244.0" stroke="#111" stroke-width="0.6"/>
<text x="198.39999999999998" y="245.8" font-size="4.9" font-family='"Liberation Sans", "DejaVu Sans", sans-serif' fill="#000" font-weight="normal" font-style="normal" text-anchor="end" >5.85</text>
<line x1="200.7" y1="208.5" x2="203.2" y2="208.5" stroke="#111" stroke-width="0.6"/>
<text x="198.39999999999998" y="210.3" font-size="4.9" font-family='"Liberation Sans", "DejaVu Sans", sans-serif' fill="#000" font-weight="normal" font-style="normal" text-anchor="end" >6.3</text>
<line x1="200.7" y1="350.5" x2="200.7" y2="348.0" stroke="#111" stroke-width="0.6"/>
<text x="200.39999999999998" y="356.1" font-size="4.9" font-family='"Liberation Sans", "DejaVu Sans", sans-serif' fill="#000" font-weight="normal" font-style="normal" text-anchor="middle" >0</text>
<line x1="228.0" y1="350.5" x2="228.0" y2="349.0" stroke="#111" stroke-width="0.4"/>
<line x1="255.3" y1="350.5" x2="255.3" y2="348.0" stroke="#111" stroke-width="0.6"/>
<text x="255.03333333333333" y="356.1" font-size="4.9" font-family='"Liberation Sans", "DejaVu Sans", sans-serif' fill="#000" font-weight="normal" font-style="normal" text-anchor="middle" >0.4</text>
<line x1="282.7" y1="350.5" x2="282.7" y2="349.0" stroke="#111" stroke-width="0.4"/>
<line x1="310.0" y1="350.5" x2="310.0" y2="348.0" stroke="#111" stroke-width="0.6"/>
<text x="309.6666666666667" y="356.1" font-size="4.9" font-family='"Liberation Sans", "DejaVu Sans", sans-serif' fill="#000" font-weight="normal" font-style="normal" text-anchor="middle" >0.8</text>
<line x1="337.3" y1="350.5" x2="337.3" y2="349.0" stroke="#111" stroke-width="0.4"/>
<line x1="364.6" y1="350.5" x2="364.6" y2="348.0" stroke="#111" stroke-width="0.6"/>
<text x="364.3" y="356.1" font-size="4.9" font-family='"Liberation Sans", "DejaVu Sans", sans-serif' fill="#000" font-weight="normal" font-style="normal" text-anchor="middle" >1.2</text>
<path d="M201.0,262.7 C201.1,263.4 201.3,265.0 201.5,267.0 C201.7,269.0 202.0,272.3 202.2,275.0 C202.4,277.7 202.6,280.4 202.8,283.0 C203.0,285.6 203.1,287.8 203.5,290.5 C203.8,293.2 204.3,296.2 204.8,299.2 C205.4,302.2 206.1,306.2 206.6,308.5 C207.2,310.8 207.6,312.0 208.1,313.2 C208.5,314.4 208.9,315.1 209.2,315.9 C209.6,316.7 209.8,317.5 210.1,318.1 C210.3,318.7 210.6,319.4 210.8,319.4 C211.1,319.4 211.3,318.9 211.5,318.3 C211.8,317.7 212.0,316.9 212.2,315.9 C212.5,314.9 212.7,313.7 212.9,312.5 C213.2,311.3 213.4,310.7 213.7,308.5 C213.9,306.3 214.3,302.3 214.5,299.2 C214.8,296.1 215.0,293.2 215.2,290.0 C215.4,286.8 215.5,283.3 215.6,280.0 C215.7,276.7 215.8,273.2 216.0,270.0 C216.2,266.8 216.3,263.5 216.5,260.5 C216.8,257.5 217.1,254.3 217.4,252.0 C217.8,249.7 218.1,248.0 218.4,246.6 C218.8,245.2 219.2,244.4 219.5,243.8 C219.9,243.2 220.1,242.9 220.4,242.9 C220.8,242.9 221.1,243.3 221.4,244.0 C221.8,244.7 222.2,245.5 222.7,246.8 C223.1,248.1 223.5,250.0 223.8,252.0 C224.2,254.0 224.5,256.5 224.8,259.0 C225.2,261.5 225.5,264.3 225.8,267.0 C226.0,269.7 226.2,272.3 226.4,275.0 C226.7,277.7 226.8,280.4 227.0,283.0 C227.3,285.6 227.4,287.8 227.8,290.5 C228.1,293.2 228.6,296.2 229.1,299.2 C229.6,302.2 230.4,306.2 230.9,308.5 C231.5,310.8 231.9,312.0 232.3,313.2 C232.8,314.4 233.2,315.1 233.5,315.9 C233.9,316.7 234.1,317.5 234.3,318.1 C234.6,318.7 234.9,319.4 235.1,319.4 C235.4,319.4 235.6,318.9 235.8,318.3 C236.1,317.7 236.3,316.9 236.5,315.9 C236.8,314.9 237.0,313.7 237.2,312.5 C237.5,311.3 237.7,310.7 237.9,308.5 C238.2,306.3 238.6,302.3 238.8,299.2 C239.1,296.1 239.3,293.2 239.5,290.0 C239.6,286.8 239.7,283.3 239.9,280.0 C240.0,276.7 240.1,273.2 240.3,270.0 C240.4,266.8 240.6,263.5 240.8,260.5 C241.1,257.5 241.4,254.3 241.7,252.0 C242.0,249.7 242.4,248.0 242.7,246.6 C243.1,245.2 243.5,244.4 243.8,243.8 C244.2,243.2 244.4,242.9 244.7,242.9 C245.0,242.9 245.4,243.3 245.7,244.0 C246.1,244.7 246.5,245.5 246.9,246.8 C247.3,248.1 247.8,250.0 248.1,252.0 C248.5,254.0 248.8,256.5 249.1,259.0 C249.4,261.5 249.8,264.3 250.0,267.0 C250.3,269.7 250.5,272.3 250.7,275.0 C250.9,277.7 251.1,280.4 251.3,283.0 C251.5,285.6 251.7,287.8 252.0,290.5 C252.4,293.2 252.9,296.2 253.4,299.2 C253.9,302.2 254.7,306.2 255.2,308.5 C255.7,310.8 256.2,312.0 256.6,313.2 C257.1,314.4 257.5,315.1 257.8,315.9 C258.1,316.7 258.4,317.5 258.6,318.1 C258.9,318.7 259.1,319.4 259.4,319.4 C259.6,319.4 259.9,318.9 260.1,318.3 C260.3,317.7 260.6,316.9 260.8,315.9 C261.0,314.9 261.3,313.7 261.5,312.5 C261.7,311.3 261.9,310.7 262.2,308.5 C262.5,306.3 262.8,302.3 263.1,299.2 C263.3,296.1 263.6,293.2 263.7,290.0 C263.9,286.8 264.0,283.3 264.1,280.0 C264.3,276.7 264.4,273.2 264.5,270.0 C264.7,266.8 264.8,263.5 265.1,260.5 C265.3,257.5 265.7,254.3 266.0,252.0 C266.3,249.7 266.6,248.0 267.0,246.6 C267.3,245.2 267.8,244.4 268.1,243.8 C268.4,243.2 268.7,242.9 269.0,242.9 C269.3,242.9 269.6,243.3 270.0,244.0 C270.4,244.7 270.8,245.5 271.2,246.8 C271.6,248.1 272.0,250.0 272.4,252.0 C272.8,254.0 273.1,256.5 273.4,259.0 C273.7,261.5 274.0,264.3 274.3,267.0 C274.6,269.7 274.8,272.3 275.0,275.0 C275.2,277.7 275.4,280.4 275.6,283.0 C275.8,285.6 275.9,287.8 276.3,290.5 C276.6,293.2 277.1,296.2 277.7,299.2 C278.2,302.2 278.9,306.2 279.5,308.5 C280.0,310.8 280.5,312.0 280.9,313.2 C281.3,314.4 281.7,315.1 282.1,315.9 C282.4,316.7 282.6,317.5 282.9,318.1 C283.2,318.7 283.4,319.4 283.7,319.4 C283.9,319.4 284.1,318.9 284.4,318.3 C284.6,317.7 284.8,316.9 285.1,315.9 C285.3,314.9 285.5,313.7 285.8,312.5 C286.0,311.3 286.2,310.7 286.5,308.5 C286.7,306.3 287.1,302.3 287.4,299.2 C287.6,296.1 287.8,293.2 288.0,290.0 C288.2,286.8 288.3,283.3 288.4,280.0 C288.5,276.7 288.7,273.2 288.8,270.0 C289.0,266.8 289.1,263.5 289.4,260.5 C289.6,257.5 289.9,254.3 290.3,252.0 C290.6,249.7 290.9,248.0 291.3,246.6 C291.6,245.2 292.0,244.4 292.4,243.8 C292.7,243.2 292.9,242.9 293.3,242.9 C293.6,242.9 293.9,243.3 294.3,244.0 C294.6,244.7 295.1,245.5 295.5,246.8 C295.9,248.1 296.3,250.0 296.7,252.0 C297.0,254.0 297.3,256.5 297.7,259.0 C298.0,261.5 298.3,264.3 298.6,267.0 C298.8,269.7 299.0,272.3 299.3,275.0 C299.5,277.7 299.6,280.4 299.9,283.0 C300.1,285.6 300.2,287.8 300.6,290.5 C300.9,293.2 301.4,296.2 301.9,299.2 C302.5,302.2 303.2,306.2 303.7,308.5 C304.3,310.8 304.7,312.0 305.2,313.2 C305.6,314.4 306.0,315.1 306.3,315.9 C306.7,316.7 306.9,317.5 307.2,318.1 C307.4,318.7 307.7,319.4 307.9,319.4 C308.2,319.4 308.4,318.9 308.6,318.3 C308.9,317.7 309.1,316.9 309.3,315.9 C309.6,314.9 309.8,313.7 310.0,312.5 C310.3,311.3 310.5,310.7 310.7,308.5 C311.0,306.3 311.4,302.3 311.6,299.2 C311.9,296.1 312.1,293.2 312.3,290.0 C312.5,286.8 312.5,283.3 312.7,280.0 C312.8,276.7 312.9,273.2 313.1,270.0 C313.2,266.8 313.4,263.5 313.6,260.5 C313.9,257.5 314.2,254.3 314.5,252.0 C314.8,249.7 315.2,248.0 315.5,246.6 C315.9,245.2 316.3,244.4 316.6,243.8 C317.0,243.2 317.2,242.9 317.5,242.9 C317.8,242.9 318.2,243.3 318.5,244.0 C318.9,244.7 319.3,245.5 319.7,246.8 C320.1,248.1 320.6,250.0 320.9,252.0 C321.3,254.0 321.6,256.5 321.9,259.0 C322.2,261.5 322.6,264.3 322.8,267.0 C323.1,269.7 323.3,272.3 323.5,275.0 C323.7,277.7 323.9,280.4 324.1,283.0 C324.3,285.6 324.5,287.8 324.8,290.5 C325.2,293.2 325.7,296.2 326.2,299.2 C326.7,302.2 327.5,306.2 328.0,308.5 C328.5,310.8 329.0,312.0 329.4,313.2 C329.9,314.4 330.3,315.1 330.6,315.9 C330.9,316.7 331.2,317.5 331.4,318.1 C331.7,318.7 332.0,319.4 332.2,319.4 C332.4,319.4 332.7,318.9 332.9,318.3 C333.1,317.7 333.4,316.9 333.6,315.9 C333.8,314.9 334.1,313.7 334.3,312.5 C334.5,311.3 334.7,310.7 335.0,308.5 C335.3,306.3 335.6,302.3 335.9,299.2 C336.2,296.1 336.4,293.2 336.6,290.0 C336.7,286.8 336.8,283.3 336.9,280.0 C337.1,276.7 337.2,273.2 337.3,270.0 C337.5,266.8 337.7,263.5 337.9,260.5 C338.1,257.5 338.5,254.3 338.8,252.0 C339.1,249.7 339.5,248.0 339.8,246.6 C340.1,245.2 340.6,244.4 340.9,243.8 C341.2,243.2 341.5,242.9 341.8,242.9 C342.1,242.9 342.4,243.3 342.8,244.0 C343.2,244.7 343.6,245.5 344.0,246.8 C344.4,248.1 344.8,250.0 345.2,252.0 C345.6,254.0 345.9,256.5 346.2,259.0 C346.5,261.5 346.8,264.3 347.1,267.0 C347.4,269.7 347.6,272.3 347.8,275.0 C348.0,277.7 348.2,280.4 348.4,283.0 C348.6,285.6 348.8,287.8 349.1,290.5 C349.4,293.2 349.9,296.2 350.5,299.2 C351.0,302.2 351.7,306.2 352.3,308.5 C352.8,310.8 353.3,312.0 353.7,313.2 C354.1,314.4 354.5,315.1 354.9,315.9 C355.2,316.7 355.4,317.5 355.7,318.1 C356.0,318.7 356.2,319.4 356.5,319.4 C356.7,319.4 356.9,318.9 357.2,318.3 C357.4,317.7 357.6,316.9 357.9,315.9 C358.1,314.9 358.3,313.7 358.6,312.5 C358.8,311.3 359.0,310.7 359.3,308.5 C359.5,306.3 359.9,302.3 360.2,299.2 C360.4,296.1 360.6,293.2 360.8,290.0 C361.0,286.8 361.1,283.3 361.2,280.0 C361.4,276.7 361.5,273.2 361.6,270.0 C361.8,266.8 361.9,263.5 362.2,260.5 C362.4,257.5 362.8,254.1 363.1,252.0 C363.3,249.9 363.7,248.7 363.8,248.1" fill="none" stroke="#333" stroke-width="0.85" stroke-linejoin="round"/>
<circle cx="268.7" cy="242.8" r="1.5" fill="#b8b8b8" stroke="#222" stroke-width="0.55"/>
<circle cx="273.8" cy="271.3" r="1.5" fill="#b8b8b8" stroke="#222" stroke-width="0.55"/>
<circle cx="280.7" cy="313" r="1.5" fill="#b8b8b8" stroke="#222" stroke-width="0.55"/>
<circle cx="285.8" cy="310.5" r="1.5" fill="#b8b8b8" stroke="#222" stroke-width="0.55"/>
<circle cx="289.2" cy="263" r="1.5" fill="#b8b8b8" stroke="#222" stroke-width="0.55"/>
<circle cx="293.2" cy="242.8" r="1.5" fill="#b8b8b8" stroke="#222" stroke-width="0.55"/>
<text x="271.6" y="243.8" font-size="7.5" font-family='"Liberation Serif", "DejaVu Serif", serif' fill="#111" font-weight="normal" font-style="normal" text-anchor="start" >(1)</text>
<text x="265.2" y="282.6" font-size="7.5" font-family='"Liberation Serif", "DejaVu Serif", serif' fill="#111" font-weight="normal" font-style="normal" text-anchor="start" >(2)</text>
<text x="268.2" y="311.4" font-size="7.5" font-family='"Liberation Serif", "DejaVu Serif", serif' fill="#111" font-weight="normal" font-style="normal" text-anchor="start" >(3)</text>
<text x="288.0" y="314.6" font-size="7.5" font-family='"Liberation Serif", "DejaVu Serif", serif' fill="#111" font-weight="normal" font-style="normal" text-anchor="start" >(4)</text>
<text x="278.4" y="270.0" font-size="7.5" font-family='"Liberation Serif", "DejaVu Serif", serif' fill="#111" font-weight="normal" font-style="normal" text-anchor="start" >(5)</text>
<text x="296.0" y="244.4" font-size="7.5" font-family='"Liberation Serif", "DejaVu Serif", serif' fill="#111" font-weight="normal" font-style="normal" text-anchor="start" >(6)</text>
<text x="242.2" y="217.6" font-size="9.2" font-family='"Liberation Serif", "DejaVu Serif", serif' fill="#111" font-style="italic" font-weight="normal" text-anchor="start">R<tspan font-size="5.52" dy="2.30">T</tspan></text>
<text x="252.6" y="217.6" font-size="9.2" font-family='"Liberation Serif", "DejaVu Serif", serif' fill="#111" font-weight="normal" font-style="normal" text-anchor="start" >= 910</text>
<text x="178.6" y="266.5" font-size="10.5" font-family='"Liberation Serif", "DejaVu Serif", serif' fill="#111">Ψ<tspan font-size="4.6" dy="1.8" font-weight="bold">0</tspan></text>
<text x="283.4" y="356.8" font-size="6.5" font-family='"Liberation Sans", "DejaVu Sans", sans-serif' fill="#111" font-weight="normal" font-style="italic" text-anchor="middle" >t</text>
<text x="282.2" y="368.6" font-size="9.03" font-family='"Liberation Serif", "DejaVu Serif", serif' fill="#111" font-weight="normal" font-style="normal" text-anchor="middle" >Flow intensity oscillation</text>
</g>
<g id="avg">
<clipPath id="cp1"><rect x="412.5" y="62.6" width="12.0" height="119.2"/></clipPath>
<g clip-path="url(#cp1)">
<rect x="412.5" y="62.6" width="12.0" height="119.2" fill="#0a2ad0"/>
<path d="M413.5,63.800000000000004 L423.5,63.800000000000004 L423.5,70.6 L418.5,68.6 L415.5,84.6 L413.5,92.6 Z" fill="#18d848" filter="url(#b05)"/>
<path d="M423.5,180.60000000000002 L414.0,180.60000000000002 L414.0,177.8 L418.5,175.8 L421.5,161.8 L423.5,151.8 Z" fill="#18d848" filter="url(#b05)"/>
<path d="M420.0,67.4 C419.8,67.8 419.2,68.6 418.8,70.0 C418.4,71.4 417.9,73.5 417.6,76.0 C417.3,78.5 417.1,81.0 416.9,85.0 C416.7,89.0 416.6,89.2 416.5,100.0 C416.4,110.8 416.4,138.8 416.3,150.0 C416.2,161.2 416.1,163.2 416.0,167.0 C415.9,170.8 415.9,171.5 416.0,173.0 C416.1,174.5 416.4,175.6 416.6,176.2 C416.8,176.8 417.1,177.3 417.4,176.4 C417.7,175.5 418.0,173.2 418.4,171.0 C418.8,168.8 419.2,166.2 419.5,163.0 C419.8,159.8 420.1,156.2 420.3,152.0 C420.5,147.8 420.7,146.7 420.8,138.0 C420.9,129.3 420.9,110.3 421.0,100.0 C421.1,89.7 421.2,81.1 421.2,76.0 C421.2,70.9 421.1,71.0 421.0,69.5 C420.9,68.0 420.7,67.6 420.6,67.2 Z" fill="#10b0e8" stroke="#10b0e8" stroke-width="4.6" stroke-linejoin="round" filter="url(#soft)"/>
<path d="M420.0,67.4 C419.8,67.8 419.2,68.6 418.8,70.0 C418.4,71.4 417.9,73.5 417.6,76.0 C417.3,78.5 417.1,81.0 416.9,85.0 C416.7,89.0 416.6,89.2 416.5,100.0 C416.4,110.8 416.4,138.8 416.3,150.0 C416.2,161.2 416.1,163.2 416.0,167.0 C415.9,170.8 415.9,171.5 416.0,173.0 C416.1,174.5 416.4,175.6 416.6,176.2 C416.8,176.8 417.1,177.3 417.4,176.4 C417.7,175.5 418.0,173.2 418.4,171.0 C418.8,168.8 419.2,166.2 419.5,163.0 C419.8,159.8 420.1,156.2 420.3,152.0 C420.5,147.8 420.7,146.7 420.8,138.0 C420.9,129.3 420.9,110.3 421.0,100.0 C421.1,89.7 421.2,81.1 421.2,76.0 C421.2,70.9 421.1,71.0 421.0,69.5 C420.9,68.0 420.7,67.6 420.6,67.2 Z" fill="#14dc50" stroke="#14dc50" stroke-width="3.6" stroke-linejoin="round" filter="url(#soft)"/>
<path d="M420.0,67.4 C419.8,67.8 419.2,68.6 418.8,70.0 C418.4,71.4 417.9,73.5 417.6,76.0 C417.3,78.5 417.1,81.0 416.9,85.0 C416.7,89.0 416.6,89.2 416.5,100.0 C416.4,110.8 416.4,138.8 416.3,150.0 C416.2,161.2 416.1,163.2 416.0,167.0 C415.9,170.8 415.9,171.5 416.0,173.0 C416.1,174.5 416.4,175.6 416.6,176.2 C416.8,176.8 417.1,177.3 417.4,176.4 C417.7,175.5 418.0,173.2 418.4,171.0 C418.8,168.8 419.2,166.2 419.5,163.0 C419.8,159.8 420.1,156.2 420.3,152.0 C420.5,147.8 420.7,146.7 420.8,138.0 C420.9,129.3 420.9,110.3 421.0,100.0 C421.1,89.7 421.2,81.1 421.2,76.0 C421.2,70.9 421.1,71.0 421.0,69.5 C420.9,68.0 420.7,67.6 420.6,67.2 Z" fill="#a8f018" stroke="#a8f018" stroke-width="2.6" stroke-linejoin="round" filter="url(#soft)"/>
<path d="M420.0,67.4 C419.8,67.8 419.2,68.6 418.8,70.0 C418.4,71.4 417.9,73.5 417.6,76.0 C417.3,78.5 417.1,81.0 416.9,85.0 C416.7,89.0 416.6,89.2 416.5,100.0 C416.4,110.8 416.4,138.8 416.3,150.0 C416.2,161.2 416.1,163.2 416.0,167.0 C415.9,170.8 415.9,171.5 416.0,173.0 C416.1,174.5 416.4,175.6 416.6,176.2 C416.8,176.8 417.1,177.3 417.4,176.4 C417.7,175.5 418.0,173.2 418.4,171.0 C418.8,168.8 419.2,166.2 419.5,163.0 C419.8,159.8 420.1,156.2 420.3,152.0 C420.5,147.8 420.7,146.7 420.8,138.0 C420.9,129.3 420.9,110.3 421.0,100.0 C421.1,89.7 421.2,81.1 421.2,76.0 C421.2,70.9 421.1,71.0 421.0,69.5 C420.9,68.0 420.7,67.6 420.6,67.2 Z" fill="#f4f010" stroke="#f4f010" stroke-width="1.8" stroke-linejoin="round" filter="url(#soft)"/>
<path d="M420.0,67.4 C419.8,67.8 419.2,68.6 418.8,70.0 C418.4,71.4 417.9,73.5 417.6,76.0 C417.3,78.5 417.1,81.0 416.9,85.0 C416.7,89.0 416.6,89.2 416.5,100.0 C416.4,110.8 416.4,138.8 416.3,150.0 C416.2,161.2 416.1,163.2 416.0,167.0 C415.9,170.8 415.9,171.5 416.0,173.0 C416.1,174.5 416.4,175.6 416.6,176.2 C416.8,176.8 417.1,177.3 417.4,176.4 C417.7,175.5 418.0,173.2 418.4,171.0 C418.8,168.8 419.2,166.2 419.5,163.0 C419.8,159.8 420.1,156.2 420.3,152.0 C420.5,147.8 420.7,146.7 420.8,138.0 C420.9,129.3 420.9,110.3 421.0,100.0 C421.1,89.7 421.2,81.1 421.2,76.0 C421.2,70.9 421.1,71.0 421.0,69.5 C420.9,68.0 420.7,67.6 420.6,67.2 Z" fill="#ffa010" stroke="#ffa010" stroke-width="1.0" stroke-linejoin="round" filter="url(#soft)"/>
<path d="M420.0,67.4 C419.8,67.8 419.2,68.6 418.8,70.0 C418.4,71.4 417.9,73.5 417.6,76.0 C417.3,78.5 417.1,81.0 416.9,85.0 C416.7,89.0 416.6,89.2 416.5,100.0 C416.4,110.8 416.4,138.8 416.3,150.0 C416.2,161.2 416.1,163.2 416.0,167.0 C415.9,170.8 415.9,171.5 416.0,173.0 C416.1,174.5 416.4,175.6 416.6,176.2 C416.8,176.8 417.1,177.3 417.4,176.4 C417.7,175.5 418.0,173.2 418.4,171.0 C418.8,168.8 419.2,166.2 419.5,163.0 C419.8,159.8 420.1,156.2 420.3,152.0 C420.5,147.8 420.7,146.7 420.8,138.0 C420.9,129.3 420.9,110.3 421.0,100.0 C421.1,89.7 421.2,81.1 421.2,76.0 C421.2,70.9 421.1,71.0 421.0,69.5 C420.9,68.0 420.7,67.6 420.6,67.2 Z" fill="#ff1810" filter="url(#soft)"/>
</g>
<rect x="412.5" y="62.6" width="12.0" height="119.2" fill="none" stroke="#0a0a14" stroke-width="1.1"/>
<clipPath id="cp2"><rect x="427.0" y="62.6" width="12.6" height="119.2"/></clipPath>
<g clip-path="url(#cp2)">
<rect x="427.0" y="62.6" width="12.6" height="119.2" fill="#1038ea"/>
<path d="M427.0,71.6 C427.2,71.7 427.7,72.0 428.1,72.1 C428.4,72.3 428.8,72.4 429.1,72.5 C429.5,72.6 429.8,72.7 430.1,72.7 C430.5,72.7 430.8,72.7 431.2,72.6 C431.6,72.5 431.9,72.4 432.2,72.2 C432.6,72.1 432.9,71.9 433.3,71.8 C433.7,71.6 434.0,71.4 434.4,71.2 C434.7,71.0 435.1,70.9 435.4,70.8 C435.8,70.6 436.1,70.6 436.5,70.5 C436.8,70.5 437.1,70.5 437.5,70.5 C437.9,70.6 438.2,70.7 438.6,70.8 C438.9,70.9 439.4,71.2 439.6,71.2 L439.6,182.8 L427.0,182.8 Z" fill="#1490f6" stroke="#103018" stroke-opacity="0.45" stroke-width="0.35"/>
<path d="M427.0,82.8 C427.2,83.0 427.7,83.5 428.1,83.8 C428.4,84.0 428.8,84.3 429.1,84.5 C429.5,84.7 429.8,84.8 430.1,84.8 C430.5,84.8 430.8,84.8 431.2,84.6 C431.6,84.5 431.9,84.3 432.2,84.0 C432.6,83.8 432.9,83.4 433.3,83.1 C433.7,82.8 434.0,82.4 434.4,82.1 C434.7,81.8 435.1,81.5 435.4,81.3 C435.8,81.1 436.1,80.9 436.5,80.9 C436.8,80.8 437.1,80.8 437.5,80.9 C437.9,81.0 438.2,81.1 438.6,81.3 C438.9,81.6 439.4,82.0 439.6,82.2 L439.6,182.8 L427.0,182.8 Z" fill="#22e8fa" stroke="#103018" stroke-opacity="0.45" stroke-width="0.35"/>
<path d="M427.0,93.8 C427.2,94.0 427.7,94.5 428.1,94.8 C428.4,95.0 428.8,95.3 429.1,95.5 C429.5,95.7 429.8,95.8 430.1,95.8 C430.5,95.8 430.8,95.8 431.2,95.6 C431.6,95.5 431.9,95.3 432.2,95.0 C432.6,94.8 432.9,94.4 433.3,94.1 C433.7,93.8 434.0,93.4 434.4,93.1 C434.7,92.8 435.1,92.5 435.4,92.3 C435.8,92.1 436.1,91.9 436.5,91.9 C436.8,91.8 437.1,91.8 437.5,91.9 C437.9,92.0 438.2,92.1 438.6,92.3 C438.9,92.6 439.4,93.0 439.6,93.2 L439.6,182.8 L427.0,182.8 Z" fill="#22f4bc" stroke="#103018" stroke-opacity="0.45" stroke-width="0.35"/>
<path d="M427.0,104.4 C427.2,104.6 427.7,105.1 428.1,105.4 C428.4,105.6 428.8,105.9 429.1,106.1 C429.5,106.3 429.8,106.4 430.1,106.4 C430.5,106.4 430.8,106.4 431.2,106.2 C431.6,106.1 431.9,105.9 432.2,105.6 C432.6,105.4 432.9,105.0 433.3,104.7 C433.7,104.4 434.0,104.0 434.4,103.7 C434.7,103.4 435.1,103.1 435.4,102.9 C435.8,102.7 436.1,102.5 436.5,102.5 C436.8,102.4 437.1,102.4 437.5,102.5 C437.9,102.6 438.2,102.7 438.6,102.9 C438.9,103.2 439.4,103.6 439.6,103.8 L439.6,182.8 L427.0,182.8 Z" fill="#24ee74" stroke="#103018" stroke-opacity="0.45" stroke-width="0.35"/>
<path d="M427.0,115.2 C427.2,115.4 427.7,115.9 428.1,116.2 C428.4,116.4 428.8,116.7 429.1,116.9 C429.5,117.1 429.8,117.2 430.1,117.2 C430.5,117.2 430.8,117.2 431.2,117.0 C431.6,116.9 431.9,116.7 432.2,116.4 C432.6,116.2 432.9,115.8 433.3,115.5 C433.7,115.2 434.0,114.8 434.4,114.5 C434.7,114.2 435.1,113.9 435.4,113.7 C435.8,113.5 436.1,113.3 436.5,113.3 C436.8,113.2 437.1,113.2 437.5,113.3 C437.9,113.4 438.2,113.5 438.6,113.7 C438.9,114.0 439.4,114.4 439.6,114.6 L439.6,182.8 L427.0,182.8 Z" fill="#2ee42e" stroke="#103018" stroke-opacity="0.45" stroke-width="0.35"/>
<path d="M427.0,127.2 C427.2,127.4 427.7,127.9 428.1,128.2 C428.4,128.4 428.8,128.7 429.1,128.9 C429.5,129.1 429.8,129.2 430.1,129.2 C430.5,129.2 430.8,129.2 431.2,129.0 C431.6,128.9 431.9,128.7 432.2,128.4 C432.6,128.2 432.9,127.8 433.3,127.5 C433.7,127.2 434.0,126.8 434.4,126.5 C434.7,126.2 435.1,125.9 435.4,125.7 C435.8,125.5 436.1,125.3 436.5,125.3 C436.8,125.2 437.1,125.2 437.5,125.3 C437.9,125.4 438.2,125.5 438.6,125.7 C438.9,126.0 439.4,126.4 439.6,126.6 L439.6,182.8 L427.0,182.8 Z" fill="#84ec14" stroke="#103018" stroke-opacity="0.45" stroke-width="0.35"/>
<path d="M427.0,138.4 C427.2,138.6 427.7,139.1 428.1,139.4 C428.4,139.6 428.8,139.9 429.1,140.1 C429.5,140.3 429.8,140.4 430.1,140.4 C430.5,140.4 430.8,140.4 431.2,140.2 C431.6,140.1 431.9,139.9 432.2,139.6 C432.6,139.4 432.9,139.0 433.3,138.7 C433.7,138.4 434.0,138.0 434.4,137.7 C434.7,137.4 435.1,137.1 435.4,136.9 C435.8,136.7 436.1,136.5 436.5,136.5 C436.8,136.4 437.1,136.4 437.5,136.5 C437.9,136.6 438.2,136.7 438.6,136.9 C438.9,137.2 439.4,137.6 439.6,137.8 L439.6,182.8 L427.0,182.8 Z" fill="#c4f010" stroke="#103018" stroke-opacity="0.45" stroke-width="0.35"/>
<path d="M427.0,149.6 C427.2,149.8 427.7,150.3 428.1,150.6 C428.4,150.8 428.8,151.1 429.1,151.3 C429.5,151.5 429.8,151.6 430.1,151.6 C430.5,151.6 430.8,151.6 431.2,151.4 C431.6,151.3 431.9,151.1 432.2,150.8 C432.6,150.6 432.9,150.2 433.3,149.9 C433.7,149.6 434.0,149.2 434.4,148.9 C434.7,148.6 435.1,148.3 435.4,148.1 C435.8,147.9 436.1,147.7 436.5,147.7 C436.8,147.6 437.1,147.6 437.5,147.7 C437.9,147.8 438.2,147.9 438.6,148.1 C438.9,148.4 439.4,148.8 439.6,149.0 L439.6,182.8 L427.0,182.8 Z" fill="#fcee12" stroke="#103018" stroke-opacity="0.45" stroke-width="0.35"/>
<path d="M427.0,160.6 C427.2,160.8 427.7,161.3 428.1,161.6 C428.4,161.8 428.8,162.1 429.1,162.3 C429.5,162.5 429.8,162.6 430.1,162.6 C430.5,162.6 430.8,162.6 431.2,162.4 C431.6,162.3 431.9,162.1 432.2,161.8 C432.6,161.6 432.9,161.2 433.3,160.9 C433.7,160.6 434.0,160.2 434.4,159.9 C434.7,159.6 435.1,159.3 435.4,159.1 C435.8,158.9 436.1,158.7 436.5,158.7 C436.8,158.6 437.1,158.6 437.5,158.7 C437.9,158.8 438.2,158.9 438.6,159.1 C438.9,159.4 439.4,159.8 439.6,160.0 L439.6,182.8 L427.0,182.8 Z" fill="#ffa818" stroke="#103018" stroke-opacity="0.45" stroke-width="0.35"/>
<path d="M427.0,171.7 C427.2,171.8 427.7,172.2 428.1,172.4 C428.4,172.7 428.8,172.9 429.1,173.0 C429.5,173.2 429.8,173.3 430.1,173.3 C430.5,173.3 430.8,173.2 431.2,173.1 C431.6,173.0 431.9,172.9 432.2,172.7 C432.6,172.5 432.9,172.2 433.3,171.9 C433.7,171.7 434.0,171.4 434.4,171.1 C434.7,170.9 435.1,170.7 435.4,170.5 C435.8,170.3 436.1,170.2 436.5,170.1 C436.8,170.1 437.1,170.1 437.5,170.1 C437.9,170.2 438.2,170.3 438.6,170.5 C438.9,170.7 439.4,171.1 439.6,171.2 L439.6,182.8 L427.0,182.8 Z" fill="#fa4c14" stroke="#103018" stroke-opacity="0.45" stroke-width="0.35"/>
</g>
<rect x="427.0" y="62.6" width="12.6" height="119.2" fill="none" stroke="#0a0a14" stroke-width="1.1"/>
<clipPath id="cp3"><rect x="441.6" y="62.6" width="12.6" height="119.2"/></clipPath>
<g clip-path="url(#cp3)">
<rect x="441.6" y="62.6" width="12.6" height="119.2" fill="#1038ea"/>
<path d="M441.6,68.7 C441.8,68.8 442.3,69.2 442.7,69.4 C443.0,69.6 443.4,69.8 443.7,70.0 C444.1,70.1 444.4,70.1 444.8,70.1 C445.1,70.1 445.4,70.0 445.8,69.9 C446.2,69.7 446.5,69.5 446.9,69.3 C447.2,69.1 447.5,68.8 447.9,68.5 C448.2,68.3 448.6,68.0 448.9,67.7 C449.3,67.5 449.6,67.3 450.0,67.1 C450.4,67.0 450.7,66.9 451.1,66.8 C451.4,66.8 451.8,66.8 452.1,66.9 C452.5,67.0 452.8,67.2 453.1,67.4 C453.5,67.6 454.0,68.0 454.2,68.2 L454.2,182.8 L441.6,182.8 Z" fill="#1490f6" stroke="#103018" stroke-opacity="0.45" stroke-width="0.35"/>
<path d="M441.6,80.0 C441.8,80.2 442.3,81.0 442.7,81.4 C443.0,81.7 443.4,82.1 443.7,82.3 C444.1,82.5 444.4,82.6 444.8,82.6 C445.1,82.6 445.4,82.4 445.8,82.2 C446.2,81.9 446.5,81.5 446.9,81.1 C447.2,80.7 447.5,80.2 447.9,79.7 C448.2,79.2 448.6,78.7 448.9,78.3 C449.3,77.8 449.6,77.4 450.0,77.1 C450.4,76.9 450.7,76.7 451.1,76.6 C451.4,76.6 451.8,76.6 452.1,76.8 C452.5,77.0 452.8,77.3 453.1,77.7 C453.5,78.1 454.0,78.8 454.2,79.0 L454.2,182.8 L441.6,182.8 Z" fill="#22e8fa" stroke="#103018" stroke-opacity="0.45" stroke-width="0.35"/>
<path d="M441.6,91.0 C441.8,91.2 442.3,92.0 442.7,92.4 C443.0,92.7 443.4,93.1 443.7,93.3 C444.1,93.5 444.4,93.6 444.8,93.6 C445.1,93.6 445.4,93.4 445.8,93.2 C446.2,92.9 446.5,92.5 446.9,92.1 C447.2,91.7 447.5,91.2 447.9,90.7 C448.2,90.2 448.6,89.7 448.9,89.3 C449.3,88.8 449.6,88.4 450.0,88.1 C450.4,87.9 450.7,87.7 451.1,87.6 C451.4,87.6 451.8,87.6 452.1,87.8 C452.5,88.0 452.8,88.3 453.1,88.7 C453.5,89.1 454.0,89.8 454.2,90.0 L454.2,182.8 L441.6,182.8 Z" fill="#22f4bc" stroke="#103018" stroke-opacity="0.45" stroke-width="0.35"/>
<path d="M441.6,101.6 C441.8,101.8 442.3,102.6 442.7,103.0 C443.0,103.3 443.4,103.7 443.7,103.9 C444.1,104.1 444.4,104.2 444.8,104.2 C445.1,104.2 445.4,104.0 445.8,103.8 C446.2,103.5 446.5,103.1 446.9,102.7 C447.2,102.3 447.5,101.8 447.9,101.3 C448.2,100.8 448.6,100.3 448.9,99.9 C449.3,99.4 449.6,99.0 450.0,98.7 C450.4,98.5 450.7,98.3 451.1,98.2 C451.4,98.2 451.8,98.2 452.1,98.4 C452.5,98.6 452.8,98.9 453.1,99.3 C453.5,99.7 454.0,100.4 454.2,100.6 L454.2,182.8 L441.6,182.8 Z" fill="#24ee74" stroke="#103018" stroke-opacity="0.45" stroke-width="0.35"/>
<path d="M441.6,112.4 C441.8,112.6 442.3,113.4 442.7,113.8 C443.0,114.1 443.4,114.5 443.7,114.7 C444.1,114.9 444.4,115.0 444.8,115.0 C445.1,115.0 445.4,114.8 445.8,114.6 C446.2,114.3 446.5,113.9 446.9,113.5 C447.2,113.1 447.5,112.6 447.9,112.1 C448.2,111.6 448.6,111.1 448.9,110.7 C449.3,110.2 449.6,109.8 450.0,109.5 C450.4,109.3 450.7,109.1 451.1,109.0 C451.4,109.0 451.8,109.0 452.1,109.2 C452.5,109.4 452.8,109.7 453.1,110.1 C453.5,110.5 454.0,111.2 454.2,111.4 L454.2,182.8 L441.6,182.8 Z" fill="#2ee42e" stroke="#103018" stroke-opacity="0.45" stroke-width="0.35"/>
<path d="M441.6,124.4 C441.8,124.6 442.3,125.4 442.7,125.8 C443.0,126.1 443.4,126.5 443.7,126.7 C444.1,126.9 444.4,127.0 444.8,127.0 C445.1,127.0 445.4,126.8 445.8,126.6 C446.2,126.3 446.5,125.9 446.9,125.5 C447.2,125.1 447.5,124.6 447.9,124.1 C448.2,123.6 448.6,123.1 448.9,122.7 C449.3,122.2 449.6,121.8 450.0,121.5 C450.4,121.3 450.7,121.1 451.1,121.0 C451.4,121.0 451.8,121.0 452.1,121.2 C452.5,121.4 452.8,121.7 453.1,122.1 C453.5,122.5 454.0,123.2 454.2,123.4 L454.2,182.8 L441.6,182.8 Z" fill="#84ec14" stroke="#103018" stroke-opacity="0.45" stroke-width="0.35"/>
<path d="M441.6,135.6 C441.8,135.8 442.3,136.6 442.7,137.0 C443.0,137.3 443.4,137.7 443.7,137.9 C444.1,138.1 444.4,138.2 444.8,138.2 C445.1,138.2 445.4,138.0 445.8,137.8 C446.2,137.5 446.5,137.1 446.9,136.7 C447.2,136.3 447.5,135.8 447.9,135.3 C448.2,134.8 448.6,134.3 448.9,133.9 C449.3,133.4 449.6,133.0 450.0,132.7 C450.4,132.5 450.7,132.3 451.1,132.2 C451.4,132.2 451.8,132.2 452.1,132.4 C452.5,132.6 452.8,132.9 453.1,133.3 C453.5,133.7 454.0,134.4 454.2,134.6 L454.2,182.8 L441.6,182.8 Z" fill="#c4f010" stroke="#103018" stroke-opacity="0.45" stroke-width="0.35"/>
<path d="M441.6,146.8 C441.8,147.0 442.3,147.8 442.7,148.2 C443.0,148.5 443.4,148.9 443.7,149.1 C444.1,149.3 444.4,149.4 444.8,149.4 C445.1,149.4 445.4,149.2 445.8,149.0 C446.2,148.7 446.5,148.3 446.9,147.9 C447.2,147.5 447.5,147.0 447.9,146.5 C448.2,146.0 448.6,145.5 448.9,145.1 C449.3,144.6 449.6,144.2 450.0,143.9 C450.4,143.7 450.7,143.5 451.1,143.4 C451.4,143.4 451.8,143.4 452.1,143.6 C452.5,143.8 452.8,144.1 453.1,144.5 C453.5,144.9 454.0,145.6 454.2,145.8 L454.2,182.8 L441.6,182.8 Z" fill="#fcee12" stroke="#103018" stroke-opacity="0.45" stroke-width="0.35"/>
<path d="M441.6,157.8 C441.8,158.0 442.3,158.8 442.7,159.2 C443.0,159.5 443.4,159.9 443.7,160.1 C444.1,160.3 444.4,160.4 444.8,160.4 C445.1,160.4 445.4,160.2 445.8,160.0 C446.2,159.7 446.5,159.3 446.9,158.9 C447.2,158.5 447.5,158.0 447.9,157.5 C448.2,157.0 448.6,156.5 448.9,156.1 C449.3,155.6 449.6,155.2 450.0,154.9 C450.4,154.7 450.7,154.5 451.1,154.4 C451.4,154.4 451.8,154.4 452.1,154.6 C452.5,154.8 452.8,155.1 453.1,155.5 C453.5,155.9 454.0,156.6 454.2,156.8 L454.2,182.8 L441.6,182.8 Z" fill="#ffa818" stroke="#103018" stroke-opacity="0.45" stroke-width="0.35"/>
<path d="M441.6,168.8 C441.8,169.0 442.3,169.6 442.7,169.9 C443.0,170.2 443.4,170.5 443.7,170.7 C444.1,170.8 444.4,170.9 444.8,170.9 C445.1,170.9 445.4,170.8 445.8,170.6 C446.2,170.4 446.5,170.1 446.9,169.7 C447.2,169.4 447.5,169.0 447.9,168.6 C448.2,168.2 448.6,167.8 448.9,167.4 C449.3,167.1 449.6,166.8 450.0,166.5 C450.4,166.3 450.7,166.2 451.1,166.1 C451.4,166.1 451.8,166.2 452.1,166.3 C452.5,166.4 452.8,166.7 453.1,167.0 C453.5,167.3 454.0,167.9 454.2,168.1 L454.2,182.8 L441.6,182.8 Z" fill="#fa4c14" stroke="#103018" stroke-opacity="0.45" stroke-width="0.35"/>
</g>
<rect x="441.6" y="62.6" width="12.6" height="119.2" fill="none" stroke="#0a0a14" stroke-width="1.1"/>
<clipPath id="cp4"><rect x="492.5" y="62.6" width="12.1" height="119.2"/></clipPath>
<g clip-path="url(#cp4)">
<rect x="492.5" y="62.6" width="12.1" height="119.2" fill="#0a1408"/>
<rect x="494.0" y="64.2" width="9.1" height="116.0" rx="2" fill="#14781e" filter="url(#b05)"/>
<rect x="494.6" y="64.9" width="7.9" height="114.4" rx="2.2" fill="#20c832" filter="url(#b05)"/>
<rect x="495.5" y="65.8" width="6.1" height="111.8" rx="2.5" fill="#8cc81a" filter="url(#b05)"/>
<path d="M497.9,66.0 C497.7,67.0 496.9,69.7 496.7,72.0 C496.4,74.3 496.5,77.7 496.5,80.0 C496.4,82.3 496.3,83.8 496.2,86.0 C496.1,88.2 495.8,90.7 495.9,93.0 C495.9,95.3 496.1,97.7 496.2,100.0 C496.4,102.3 497.0,104.7 497.1,107.0 C497.1,109.3 496.6,111.7 496.4,114.0 C496.2,116.3 495.9,118.7 495.9,121.0 C495.9,123.3 496.1,125.8 496.4,128.0 C496.6,130.2 497.2,132.3 497.2,134.5 C497.2,136.7 496.6,138.8 496.4,141.0 C496.2,143.2 495.9,145.7 496.0,148.0 C496.0,150.3 496.3,152.7 496.6,155.0 C496.8,157.3 497.2,159.8 497.2,162.0 C497.3,164.2 496.9,166.2 496.8,168.0 C496.6,169.8 496.4,171.5 496.7,173.0 C496.9,174.5 497.8,176.3 498.1,177.0 L499.7,177.0 C499.9,176.3 500.8,174.5 501.1,173.0 C501.3,171.5 501.1,169.8 501.0,168.0 C500.9,166.2 500.4,164.2 500.5,162.0 C500.5,159.8 500.9,157.3 501.2,155.0 C501.4,152.7 501.7,150.3 501.8,148.0 C501.8,145.7 501.6,143.2 501.4,141.0 C501.2,138.8 500.6,136.7 500.6,134.5 C500.6,132.3 501.1,130.2 501.4,128.0 C501.6,125.8 501.9,123.3 501.9,121.0 C501.9,118.7 501.6,116.3 501.4,114.0 C501.2,111.7 500.6,109.3 500.7,107.0 C500.7,104.7 501.3,102.3 501.5,100.0 C501.7,97.7 501.8,95.3 501.9,93.0 C501.9,90.7 501.7,88.2 501.6,86.0 C501.4,83.8 501.3,82.3 501.2,80.0 C501.2,77.7 501.3,74.3 501.1,72.0 C500.8,69.7 500.1,67.0 499.9,66.0 Z" fill="#ff7c10" filter="url(#b05)"/>
<ellipse cx="498.85" cy="93" rx="1.7" ry="6.6" fill="#ff1410" filter="url(#b05)"/>
<ellipse cx="498.85" cy="120.5" rx="1.7" ry="6.6" fill="#ff1410" filter="url(#b05)"/>
<ellipse cx="498.85" cy="148" rx="1.7" ry="6.6" fill="#ff1410" filter="url(#b05)"/>
<ellipse cx="498.25" cy="171.5" rx="1.0" ry="2.6" fill="#e03010" filter="url(#b05)"/>
</g>
<rect x="492.5" y="62.6" width="12.1" height="119.2" fill="none" stroke="#0a0a14" stroke-width="1.2"/>
<clipPath id="cp5"><rect x="507.6" y="62.6" width="12.6" height="119.2"/></clipPath>
<g clip-path="url(#cp5)">
<rect x="507.6" y="62.6" width="12.6" height="119.2" fill="#1038ea"/>
<path d="M507.6,71.6 C507.8,71.7 508.3,72.0 508.7,72.1 C509.0,72.3 509.4,72.4 509.7,72.5 C510.1,72.6 510.4,72.7 510.8,72.7 C511.1,72.7 511.4,72.7 511.8,72.6 C512.1,72.5 512.5,72.4 512.9,72.2 C513.2,72.1 513.6,71.9 513.9,71.8 C514.3,71.6 514.6,71.4 515.0,71.2 C515.3,71.0 515.6,70.9 516.0,70.8 C516.4,70.6 516.7,70.6 517.1,70.5 C517.4,70.5 517.8,70.5 518.1,70.5 C518.5,70.6 518.8,70.7 519.2,70.8 C519.5,70.9 520.0,71.2 520.2,71.2 L520.2,182.8 L507.6,182.8 Z" fill="#1490f6" stroke="#103018" stroke-opacity="0.45" stroke-width="0.35"/>
<path d="M507.6,82.8 C507.8,83.0 508.3,83.5 508.7,83.8 C509.0,84.0 509.4,84.3 509.7,84.5 C510.1,84.7 510.4,84.8 510.8,84.8 C511.1,84.8 511.4,84.8 511.8,84.6 C512.1,84.5 512.5,84.3 512.9,84.0 C513.2,83.8 513.6,83.4 513.9,83.1 C514.3,82.8 514.6,82.4 515.0,82.1 C515.3,81.8 515.6,81.5 516.0,81.3 C516.4,81.1 516.7,80.9 517.1,80.9 C517.4,80.8 517.8,80.8 518.1,80.9 C518.5,81.0 518.8,81.1 519.2,81.3 C519.5,81.6 520.0,82.0 520.2,82.2 L520.2,182.8 L507.6,182.8 Z" fill="#22e8fa" stroke="#103018" stroke-opacity="0.45" stroke-width="0.35"/>
<path d="M507.6,93.8 C507.8,94.0 508.3,94.5 508.7,94.8 C509.0,95.0 509.4,95.3 509.7,95.5 C510.1,95.7 510.4,95.8 510.8,95.8 C511.1,95.8 511.4,95.8 511.8,95.6 C512.1,95.5 512.5,95.3 512.9,95.0 C513.2,94.8 513.6,94.4 513.9,94.1 C514.3,93.8 514.6,93.4 515.0,93.1 C515.3,92.8 515.6,92.5 516.0,92.3 C516.4,92.1 516.7,91.9 517.1,91.9 C517.4,91.8 517.8,91.8 518.1,91.9 C518.5,92.0 518.8,92.1 519.2,92.3 C519.5,92.6 520.0,93.0 520.2,93.2 L520.2,182.8 L507.6,182.8 Z" fill="#22f4bc" stroke="#103018" stroke-opacity="0.45" stroke-width="0.35"/>
<path d="M507.6,104.4 C507.8,104.6 508.3,105.1 508.7,105.4 C509.0,105.6 509.4,105.9 509.7,106.1 C510.1,106.3 510.4,106.4 510.8,106.4 C511.1,106.4 511.4,106.4 511.8,106.2 C512.1,106.1 512.5,105.9 512.9,105.6 C513.2,105.4 513.6,105.0 513.9,104.7 C514.3,104.4 514.6,104.0 515.0,103.7 C515.3,103.4 515.6,103.1 516.0,102.9 C516.4,102.7 516.7,102.5 517.1,102.5 C517.4,102.4 517.8,102.4 518.1,102.5 C518.5,102.6 518.8,102.7 519.2,102.9 C519.5,103.2 520.0,103.6 520.2,103.8 L520.2,182.8 L507.6,182.8 Z" fill="#24ee74" stroke="#103018" stroke-opacity="0.45" stroke-width="0.35"/>
<path d="M507.6,115.2 C507.8,115.4 508.3,115.9 508.7,116.2 C509.0,116.4 509.4,116.7 509.7,116.9 C510.1,117.1 510.4,117.2 510.8,117.2 C511.1,117.2 511.4,117.2 511.8,117.0 C512.1,116.9 512.5,116.7 512.9,116.4 C513.2,116.2 513.6,115.8 513.9,115.5 C514.3,115.2 514.6,114.8 515.0,114.5 C515.3,114.2 515.6,113.9 516.0,113.7 C516.4,113.5 516.7,113.3 517.1,113.3 C517.4,113.2 517.8,113.2 518.1,113.3 C518.5,113.4 518.8,113.5 519.2,113.7 C519.5,114.0 520.0,114.4 520.2,114.6 L520.2,182.8 L507.6,182.8 Z" fill="#2ee42e" stroke="#103018" stroke-opacity="0.45" stroke-width="0.35"/>
<path d="M507.6,127.2 C507.8,127.4 508.3,127.9 508.7,128.2 C509.0,128.4 509.4,128.7 509.7,128.9 C510.1,129.1 510.4,129.2 510.8,129.2 C511.1,129.2 511.4,129.2 511.8,129.0 C512.1,128.9 512.5,128.7 512.9,128.4 C513.2,128.2 513.6,127.8 513.9,127.5 C514.3,127.2 514.6,126.8 515.0,126.5 C515.3,126.2 515.6,125.9 516.0,125.7 C516.4,125.5 516.7,125.3 517.1,125.3 C517.4,125.2 517.8,125.2 518.1,125.3 C518.5,125.4 518.8,125.5 519.2,125.7 C519.5,126.0 520.0,126.4 520.2,126.6 L520.2,182.8 L507.6,182.8 Z" fill="#84ec14" stroke="#103018" stroke-opacity="0.45" stroke-width="0.35"/>
<path d="M507.6,138.4 C507.8,138.6 508.3,139.1 508.7,139.4 C509.0,139.6 509.4,139.9 509.7,140.1 C510.1,140.3 510.4,140.4 510.8,140.4 C511.1,140.4 511.4,140.4 511.8,140.2 C512.1,140.1 512.5,139.9 512.9,139.6 C513.2,139.4 513.6,139.0 513.9,138.7 C514.3,138.4 514.6,138.0 515.0,137.7 C515.3,137.4 515.6,137.1 516.0,136.9 C516.4,136.7 516.7,136.5 517.1,136.5 C517.4,136.4 517.8,136.4 518.1,136.5 C518.5,136.6 518.8,136.7 519.2,136.9 C519.5,137.2 520.0,137.6 520.2,137.8 L520.2,182.8 L507.6,182.8 Z" fill="#c4f010" stroke="#103018" stroke-opacity="0.45" stroke-width="0.35"/>
<path d="M507.6,149.6 C507.8,149.8 508.3,150.3 508.7,150.6 C509.0,150.8 509.4,151.1 509.7,151.3 C510.1,151.5 510.4,151.6 510.8,151.6 C511.1,151.6 511.4,151.6 511.8,151.4 C512.1,151.3 512.5,151.1 512.9,150.8 C513.2,150.6 513.6,150.2 513.9,149.9 C514.3,149.6 514.6,149.2 515.0,148.9 C515.3,148.6 515.6,148.3 516.0,148.1 C516.4,147.9 516.7,147.7 517.1,147.7 C517.4,147.6 517.8,147.6 518.1,147.7 C518.5,147.8 518.8,147.9 519.2,148.1 C519.5,148.4 520.0,148.8 520.2,149.0 L520.2,182.8 L507.6,182.8 Z" fill="#fcee12" stroke="#103018" stroke-opacity="0.45" stroke-width="0.35"/>
<path d="M507.6,160.6 C507.8,160.8 508.3,161.3 508.7,161.6 C509.0,161.8 509.4,162.1 509.7,162.3 C510.1,162.5 510.4,162.6 510.8,162.6 C511.1,162.6 511.4,162.6 511.8,162.4 C512.1,162.3 512.5,162.1 512.9,161.8 C513.2,161.6 513.6,161.2 513.9,160.9 C514.3,160.6 514.6,160.2 515.0,159.9 C515.3,159.6 515.6,159.3 516.0,159.1 C516.4,158.9 516.7,158.7 517.1,158.7 C517.4,158.6 517.8,158.6 518.1,158.7 C518.5,158.8 518.8,158.9 519.2,159.1 C519.5,159.4 520.0,159.8 520.2,160.0 L520.2,182.8 L507.6,182.8 Z" fill="#ffa818" stroke="#103018" stroke-opacity="0.45" stroke-width="0.35"/>
<path d="M507.6,171.7 C507.8,171.8 508.3,172.2 508.7,172.4 C509.0,172.7 509.4,172.9 509.7,173.0 C510.1,173.2 510.4,173.3 510.8,173.3 C511.1,173.3 511.4,173.2 511.8,173.1 C512.1,173.0 512.5,172.9 512.9,172.7 C513.2,172.5 513.6,172.2 513.9,171.9 C514.3,171.7 514.6,171.4 515.0,171.1 C515.3,170.9 515.6,170.7 516.0,170.5 C516.4,170.3 516.7,170.2 517.1,170.1 C517.4,170.1 517.8,170.1 518.1,170.1 C518.5,170.2 518.8,170.3 519.2,170.5 C519.5,170.7 520.0,171.1 520.2,171.2 L520.2,182.8 L507.6,182.8 Z" fill="#fa4c14" stroke="#103018" stroke-opacity="0.45" stroke-width="0.35"/>
</g>
<rect x="507.6" y="62.6" width="12.6" height="119.2" fill="none" stroke="#0a0a14" stroke-width="1.1"/>
<clipPath id="cp6"><rect x="522.2" y="62.6" width="13.0" height="119.2"/></clipPath>
<g clip-path="url(#cp6)">
<rect x="522.2" y="62.6" width="13.0" height="119.2" fill="#1038ea"/>
<path d="M522.2,68.7 C522.4,68.8 522.9,69.2 523.3,69.4 C523.6,69.6 524.0,69.8 524.4,70.0 C524.7,70.1 525.1,70.1 525.5,70.1 C525.8,70.1 526.2,70.0 526.5,69.9 C526.9,69.7 527.3,69.5 527.6,69.3 C528.0,69.1 528.3,68.8 528.7,68.5 C529.1,68.3 529.4,68.0 529.8,67.7 C530.1,67.5 530.5,67.3 530.9,67.1 C531.2,67.0 531.6,66.9 532.0,66.8 C532.3,66.8 532.7,66.8 533.0,66.9 C533.4,67.0 533.8,67.2 534.1,67.4 C534.5,67.6 535.0,68.0 535.2,68.2 L535.2,182.8 L522.2,182.8 Z" fill="#1490f6" stroke="#103018" stroke-opacity="0.45" stroke-width="0.35"/>
<path d="M522.2,80.0 C522.4,80.2 522.9,81.0 523.3,81.4 C523.6,81.7 524.0,82.1 524.4,82.3 C524.7,82.5 525.1,82.6 525.5,82.6 C525.8,82.6 526.2,82.4 526.5,82.2 C526.9,81.9 527.3,81.5 527.6,81.1 C528.0,80.7 528.3,80.2 528.7,79.7 C529.1,79.2 529.4,78.7 529.8,78.3 C530.1,77.8 530.5,77.4 530.9,77.1 C531.2,76.9 531.6,76.7 532.0,76.6 C532.3,76.6 532.7,76.6 533.0,76.8 C533.4,77.0 533.8,77.3 534.1,77.7 C534.5,78.1 535.0,78.8 535.2,79.0 L535.2,182.8 L522.2,182.8 Z" fill="#22e8fa" stroke="#103018" stroke-opacity="0.45" stroke-width="0.35"/>
<path d="M522.2,91.0 C522.4,91.2 522.9,92.0 523.3,92.4 C523.6,92.7 524.0,93.1 524.4,93.3 C524.7,93.5 525.1,93.6 525.5,93.6 C525.8,93.6 526.2,93.4 526.5,93.2 C526.9,92.9 527.3,92.5 527.6,92.1 C528.0,91.7 528.3,91.2 528.7,90.7 C529.1,90.2 529.4,89.7 529.8,89.3 C530.1,88.8 530.5,88.4 530.9,88.1 C531.2,87.9 531.6,87.7 532.0,87.6 C532.3,87.6 532.7,87.6 533.0,87.8 C533.4,88.0 533.8,88.3 534.1,88.7 C534.5,89.1 535.0,89.8 535.2,90.0 L535.2,182.8 L522.2,182.8 Z" fill="#22f4bc" stroke="#103018" stroke-opacity="0.45" stroke-width="0.35"/>
<path d="M522.2,101.6 C522.4,101.8 522.9,102.6 523.3,103.0 C523.6,103.3 524.0,103.7 524.4,103.9 C524.7,104.1 525.1,104.2 525.5,104.2 C525.8,104.2 526.2,104.0 526.5,103.8 C526.9,103.5 527.3,103.1 527.6,102.7 C528.0,102.3 528.3,101.8 528.7,101.3 C529.1,100.8 529.4,100.3 529.8,99.9 C530.1,99.4 530.5,99.0 530.9,98.7 C531.2,98.5 531.6,98.3 532.0,98.2 C532.3,98.2 532.7,98.2 533.0,98.4 C533.4,98.6 533.8,98.9 534.1,99.3 C534.5,99.7 535.0,100.4 535.2,100.6 L535.2,182.8 L522.2,182.8 Z" fill="#24ee74" stroke="#103018" stroke-opacity="0.45" stroke-width="0.35"/>
<path d="M522.2,112.4 C522.4,112.6 522.9,113.4 523.3,113.8 C523.6,114.1 524.0,114.5 524.4,114.7 C524.7,114.9 525.1,115.0 525.5,115.0 C525.8,115.0 526.2,114.8 526.5,114.6 C526.9,114.3 527.3,113.9 527.6,113.5 C528.0,113.1 528.3,112.6 528.7,112.1 C529.1,111.6 529.4,111.1 529.8,110.7 C530.1,110.2 530.5,109.8 530.9,109.5 C531.2,109.3 531.6,109.1 532.0,109.0 C532.3,109.0 532.7,109.0 533.0,109.2 C533.4,109.4 533.8,109.7 534.1,110.1 C534.5,110.5 535.0,111.2 535.2,111.4 L535.2,182.8 L522.2,182.8 Z" fill="#2ee42e" stroke="#103018" stroke-opacity="0.45" stroke-width="0.35"/>
<path d="M522.2,124.4 C522.4,124.6 522.9,125.4 523.3,125.8 C523.6,126.1 524.0,126.5 524.4,126.7 C524.7,126.9 525.1,127.0 525.5,127.0 C525.8,127.0 526.2,126.8 526.5,126.6 C526.9,126.3 527.3,125.9 527.6,125.5 C528.0,125.1 528.3,124.6 528.7,124.1 C529.1,123.6 529.4,123.1 529.8,122.7 C530.1,122.2 530.5,121.8 530.9,121.5 C531.2,121.3 531.6,121.1 532.0,121.0 C532.3,121.0 532.7,121.0 533.0,121.2 C533.4,121.4 533.8,121.7 534.1,122.1 C534.5,122.5 535.0,123.2 535.2,123.4 L535.2,182.8 L522.2,182.8 Z" fill="#84ec14" stroke="#103018" stroke-opacity="0.45" stroke-width="0.35"/>
<path d="M522.2,135.6 C522.4,135.8 522.9,136.6 523.3,137.0 C523.6,137.3 524.0,137.7 524.4,137.9 C524.7,138.1 525.1,138.2 525.5,138.2 C525.8,138.2 526.2,138.0 526.5,137.8 C526.9,137.5 527.3,137.1 527.6,136.7 C528.0,136.3 528.3,135.8 528.7,135.3 C529.1,134.8 529.4,134.3 529.8,133.9 C530.1,133.4 530.5,133.0 530.9,132.7 C531.2,132.5 531.6,132.3 532.0,132.2 C532.3,132.2 532.7,132.2 533.0,132.4 C533.4,132.6 533.8,132.9 534.1,133.3 C534.5,133.7 535.0,134.4 535.2,134.6 L535.2,182.8 L522.2,182.8 Z" fill="#c4f010" stroke="#103018" stroke-opacity="0.45" stroke-width="0.35"/>
<path d="M522.2,146.8 C522.4,147.0 522.9,147.8 523.3,148.2 C523.6,148.5 524.0,148.9 524.4,149.1 C524.7,149.3 525.1,149.4 525.5,149.4 C525.8,149.4 526.2,149.2 526.5,149.0 C526.9,148.7 527.3,148.3 527.6,147.9 C528.0,147.5 528.3,147.0 528.7,146.5 C529.1,146.0 529.4,145.5 529.8,145.1 C530.1,144.6 530.5,144.2 530.9,143.9 C531.2,143.7 531.6,143.5 532.0,143.4 C532.3,143.4 532.7,143.4 533.0,143.6 C533.4,143.8 533.8,144.1 534.1,144.5 C534.5,144.9 535.0,145.6 535.2,145.8 L535.2,182.8 L522.2,182.8 Z" fill="#fcee12" stroke="#103018" stroke-opacity="0.45" stroke-width="0.35"/>
<path d="M522.2,157.8 C522.4,158.0 522.9,158.8 523.3,159.2 C523.6,159.5 524.0,159.9 524.4,160.1 C524.7,160.3 525.1,160.4 525.5,160.4 C525.8,160.4 526.2,160.2 526.5,160.0 C526.9,159.7 527.3,159.3 527.6,158.9 C528.0,158.5 528.3,158.0 528.7,157.5 C529.1,157.0 529.4,156.5 529.8,156.1 C530.1,155.6 530.5,155.2 530.9,154.9 C531.2,154.7 531.6,154.5 532.0,154.4 C532.3,154.4 532.7,154.4 533.0,154.6 C533.4,154.8 533.8,155.1 534.1,155.5 C534.5,155.9 535.0,156.6 535.2,156.8 L535.2,182.8 L522.2,182.8 Z" fill="#ffa818" stroke="#103018" stroke-opacity="0.45" stroke-width="0.35"/>
<path d="M522.2,168.8 C522.4,169.0 522.9,169.6 523.3,169.9 C523.6,170.2 524.0,170.5 524.4,170.7 C524.7,170.8 525.1,170.9 525.5,170.9 C525.8,170.9 526.2,170.8 526.5,170.6 C526.9,170.4 527.3,170.1 527.6,169.7 C528.0,169.4 528.3,169.0 528.7,168.6 C529.1,168.2 529.4,167.8 529.8,167.4 C530.1,167.1 530.5,166.8 530.9,166.5 C531.2,166.3 531.6,166.2 532.0,166.1 C532.3,166.1 532.7,166.2 533.0,166.3 C533.4,166.4 533.8,166.7 534.1,167.0 C534.5,167.3 535.0,167.9 535.2,168.1 L535.2,182.8 L522.2,182.8 Z" fill="#fa4c14" stroke="#103018" stroke-opacity="0.45" stroke-width="0.35"/>
</g>
<rect x="522.2" y="62.6" width="13.0" height="119.2" fill="none" stroke="#0a0a14" stroke-width="1.1"/>
<text x="418.8" y="59.4" font-size="8.4" font-family='"Liberation Serif", "DejaVu Serif", serif' fill="#111" text-anchor="middle">Ψ<tspan font-size="4.4" dy="1.6" font-style="italic">m</tspan></text>
<text x="433.6" y="59.4" font-size="8.4" font-family='"Liberation Serif", "DejaVu Serif", serif' fill="#111" font-style="italic" text-anchor="middle">T<tspan font-size="4.6" dy="1.6">m</tspan></text>
<text x="448.2" y="59.4" font-size="8.4" font-family='"Liberation Serif", "DejaVu Serif", serif' fill="#111" font-style="italic" text-anchor="middle">S<tspan font-size="4.6" dy="1.6">m</tspan></text>
<text x="498.4" y="59.4" font-size="8.4" font-family='"Liberation Serif", "DejaVu Serif", serif' fill="#111" text-anchor="middle">Ψ</text>
<text x="513.8" y="59.4" font-size="8.4" font-family='"Liberation Serif", "DejaVu Serif", serif' fill="#111" font-style="italic" text-anchor="middle">T</text>
<text x="528.8" y="59.4" font-size="8.4" font-family='"Liberation Serif", "DejaVu Serif", serif' fill="#111" font-style="italic" text-anchor="middle">S</text>
<text x="433.8" y="192.4" font-size="9.3" font-family='"Liberation Serif", "DejaVu Serif", serif' fill="#111" font-weight="normal" font-style="normal" text-anchor="middle" >Average</text>
<text x="513.9" y="192.4" font-size="9.3" font-family='"Liberation Serif", "DejaVu Serif", serif' fill="#111" font-weight="normal" font-style="normal" text-anchor="middle" >Snapshot</text>
<text x="456.8" y="120.4" font-size="9.2" font-family='"Liberation Serif", "DejaVu Serif", serif' fill="#111" font-style="italic" font-weight="normal" text-anchor="start">R<tspan font-size="5.52" dy="2.30">T</tspan></text>
<text x="466.6" y="120.4" font-size="9.2" font-family='"Liberation Serif", "DejaVu Serif", serif' fill="#111" font-weight="normal" font-style="normal" text-anchor="start" >= 910</text>
</g>
<g id="pert">
<clipPath id="cp7"><rect x="29.8" y="202.6" width="15.1" height="147.3"/></clipPath>
<g clip-path="url(#cp7)">
<g filter="url(#b05)">
<rect x="29.8" y="202.6" width="15.1" height="147.3" fill="#0000fa"/>
<path d="M36.3,207.7 37.4,207.0 38.2,207.2 39.2,208.6 39.0,209.8 38.2,210.4 37.2,210.3 36.3,209.4 36.1,208.6 36.3,207.7ZM42.4,217.9 43.2,217.4 43.4,217.9 43.6,218.8 43.2,220.0 42.4,218.9 42.4,217.9ZM33.5,303.1 34.0,302.9 34.8,303.4 35.2,304.8 34.9,306.5 34.0,307.4 33.2,307.3 32.4,305.6 32.7,303.9 33.5,303.1ZM32.4,334.6 33.2,334.1 34.0,334.1 34.5,334.6 34.8,335.4 34.7,336.3 34.0,337.6 33.2,337.9 32.2,337.1 32.0,335.4 32.4,334.6ZM36.2,344.8 37.4,344.5 38.9,344.8 39.6,345.6 39.5,346.5 39.0,347.1 38.2,347.5 36.5,347.3 35.6,346.5 35.6,345.6 36.2,344.8Z" fill="#002cfb" fill-rule="evenodd"/>
<path d="M36.0,205.2 37.4,204.8 39.0,205.3 40.0,206.0 41.1,207.7 41.5,209.4 41.8,212.0 42.1,212.8 44.1,215.0 44.9,217.2 44.9,220.6 44.1,222.2 43.2,222.5 42.4,222.0 41.6,220.5 41.1,217.9 41.0,214.5 40.7,213.5 39.9,212.9 36.5,211.8 34.8,210.2 34.3,208.6 34.5,206.9 35.0,206.0 36.0,205.2ZM36.5,207.4 36.1,208.6 36.5,209.7 37.4,210.3 38.6,210.3 39.2,209.4 39.2,208.6 38.7,207.7 38.2,207.2 37.4,207.0 36.5,207.4ZM42.4,217.9 42.4,218.9 43.2,220.0 43.6,218.8 43.4,217.9 43.2,217.4 42.4,217.9ZM32.9,237.5 34.0,237.0 34.8,237.4 35.7,238.9 35.8,240.9 35.5,241.8 34.8,242.5 34.0,242.6 33.2,242.0 32.6,240.9 32.3,239.2 32.9,237.5ZM40.6,248.6 41.5,248.1 42.4,248.5 43.3,250.3 43.4,252.8 43.2,253.8 42.4,254.9 41.5,254.9 41.2,254.5 40.7,254.0 40.3,252.8 40.0,250.3 40.6,248.6ZM32.0,266.5 32.3,266.1 33.2,266.1 34.0,267.0 34.4,268.2 34.5,270.7 34.0,271.8 33.2,272.2 32.1,271.6 31.4,269.9 31.3,268.2 32.0,266.5ZM38.6,298.0 39.9,297.7 40.7,298.3 40.9,298.8 40.7,300.5 39.9,302.5 39.0,303.4 37.4,303.8 35.9,307.3 34.8,308.7 34.0,309.1 33.2,309.0 32.2,308.2 31.5,306.5 31.4,304.8 31.8,303.1 32.3,302.0 33.2,301.3 34.0,301.0 36.5,300.8 37.7,298.8 38.6,298.0ZM34.0,302.9 33.2,303.2 32.7,303.9 32.4,305.6 33.2,307.3 34.0,307.4 34.9,306.5 35.2,304.8 34.8,303.4 34.0,302.9ZM37.9,331.2 39.0,330.4 39.3,331.2 38.2,332.1 37.8,332.0 37.9,331.2ZM32.4,332.9 33.2,332.5 34.8,332.6 35.8,332.9 36.5,333.7 35.7,337.1 34.8,338.7 34.0,339.4 33.2,339.5 32.3,339.2 31.5,338.2 31.0,337.1 31.1,334.6 31.5,333.7 32.4,332.9ZM33.2,334.1 32.3,334.7 32.0,336.3 32.3,337.3 33.2,337.9 34.0,337.6 34.3,337.1 34.8,335.4 34.5,334.6 34.0,334.1 33.2,334.1ZM36.1,343.1 37.4,343.0 39.0,343.3 40.7,344.5 41.4,345.6 41.4,346.5 40.7,347.7 39.9,348.4 38.2,348.9 36.5,348.8 34.8,348.1 34.0,347.1 33.7,345.6 33.9,344.8 34.5,343.9 36.1,343.1ZM36.5,344.6 35.6,345.6 35.6,346.5 36.5,347.3 38.2,347.5 39.0,347.1 39.5,346.5 39.6,345.6 38.9,344.8 37.4,344.5 36.5,344.6Z" fill="#0083fd" fill-rule="evenodd"/>
<path d="M34.9,203.5 36.5,202.8 39.0,203.1 41.0,204.3 42.8,206.9 44.9,212.9 44.9,217.2 44.1,215.0 42.1,212.8 41.8,212.0 41.4,208.6 40.6,206.9 39.9,205.9 38.2,204.9 37.4,204.8 36.0,205.2 34.8,206.2 34.3,207.7 34.3,208.6 34.8,210.2 35.7,211.2 37.4,212.2 39.9,212.9 40.8,213.7 41.2,218.8 42.0,221.3 42.4,222.0 43.2,222.5 44.1,222.2 44.9,220.6 44.9,223.6 44.1,224.1 43.2,224.1 42.4,223.5 41.5,222.5 40.7,220.4 39.8,216.2 39.0,214.8 34.8,212.0 34.0,211.0 33.1,209.4 32.8,207.7 33.0,206.0 33.9,204.3 34.9,203.5ZM32.1,235.8 33.2,235.0 34.0,235.0 35.3,235.8 36.5,237.5 37.0,239.2 37.1,241.8 36.5,243.3 35.7,244.0 34.8,244.2 34.0,244.0 33.1,243.5 31.9,241.8 31.3,240.1 31.2,238.4 31.5,237.0 32.1,235.8ZM33.2,237.2 32.5,238.4 32.3,239.2 32.6,240.9 33.2,242.0 34.0,242.6 34.8,242.5 35.5,241.8 35.8,240.9 35.7,238.9 34.8,237.4 34.0,237.0 33.2,237.2ZM40.1,246.0 40.7,245.6 41.5,245.6 42.5,246.0 43.9,247.7 44.7,250.3 44.9,252.8 44.6,254.5 43.7,256.2 42.4,256.9 41.5,256.7 40.7,255.9 39.9,254.5 39.3,252.8 39.1,251.1 39.1,248.6 39.5,246.9 40.1,246.0ZM40.7,248.4 40.0,250.3 40.3,252.8 40.7,254.0 41.2,254.5 41.5,254.9 42.4,254.9 43.2,253.8 43.4,252.8 43.3,250.3 42.4,248.5 41.5,248.1 40.7,248.4ZM31.4,264.8 32.3,264.3 33.2,264.5 34.0,265.2 35.0,267.3 35.5,269.9 35.3,271.6 34.8,272.9 34.0,273.6 33.2,273.7 32.1,273.3 31.3,272.4 30.5,270.7 30.2,269.0 30.2,267.3 30.8,265.6 31.4,264.8ZM32.3,266.1 31.5,267.3 31.4,269.9 32.1,271.6 33.2,272.2 34.2,271.6 34.5,270.7 34.6,269.0 34.0,267.0 33.2,266.1 32.3,266.1ZM37.0,297.1 39.0,296.3 40.7,296.4 42.0,297.1 42.5,298.0 42.5,298.8 40.8,302.2 39.9,305.2 39.0,306.3 38.2,306.8 35.6,309.9 34.0,310.5 33.2,310.3 32.3,309.9 31.5,309.0 30.6,307.3 30.3,305.6 30.5,303.1 31.1,301.4 32.3,299.9 35.7,298.2 37.0,297.1ZM39.0,297.8 37.7,298.8 36.5,300.8 34.0,301.0 33.2,301.3 32.2,302.2 31.5,303.9 31.5,306.4 32.2,308.2 33.2,309.0 34.0,309.1 34.8,308.7 35.9,307.3 37.4,303.8 39.0,303.4 39.9,302.5 40.7,300.5 40.9,298.8 40.3,298.0 39.0,297.8ZM39.3,328.6 40.7,328.8 41.6,329.5 41.9,330.3 41.6,331.2 39.4,332.9 38.2,334.6 36.5,338.8 36.2,340.5 37.4,341.3 39.9,342.4 41.9,343.9 42.7,344.8 43.2,346.5 42.6,348.2 40.7,349.7 40.1,349.9 35.1,349.9 33.2,348.7 32.1,347.3 31.8,345.6 32.5,342.2 30.6,339.3 30.1,338.0 29.8,336.3 30.0,334.6 30.6,332.9 31.5,331.9 32.3,331.3 35.7,330.5 37.4,329.3 39.3,328.6ZM36.5,343.0 34.8,343.6 33.9,344.8 33.7,346.5 34.1,347.3 35.0,348.2 36.5,348.8 38.2,348.9 40.2,348.2 41.1,347.3 41.4,346.5 41.4,345.6 41.0,344.8 40.2,343.9 39.0,343.3 36.5,343.0ZM33.2,332.5 32.3,332.9 31.5,333.8 31.1,334.6 30.9,336.3 31.5,338.2 32.3,339.2 33.2,339.5 34.0,339.4 35.3,338.0 36.0,336.3 36.5,333.7 35.8,332.9 34.0,332.5 33.2,332.5ZM38.2,330.9 37.8,332.0 38.2,332.1 39.3,331.2 39.0,330.4 38.2,330.9Z" fill="#00daff" fill-rule="evenodd"/>
<path d="M31.5,202.6 44.5,202.6 44.9,203.1 44.9,212.9 42.4,206.0 40.7,204.0 39.0,203.1 36.5,202.8 34.8,203.5 33.3,205.2 33.0,206.0 32.8,207.7 33.1,209.4 34.1,211.1 35.7,212.7 38.7,214.5 39.4,215.4 40.7,220.5 41.5,222.5 42.4,223.5 43.2,224.1 44.1,224.1 44.9,223.6 44.9,226.0 43.2,225.6 41.5,224.0 40.6,222.2 39.0,217.2 38.5,216.2 37.7,215.4 34.2,212.8 32.2,210.3 31.2,207.7 30.9,206.0 31.0,204.3 31.5,202.6ZM31.2,233.3 32.3,232.7 33.2,232.7 34.8,233.5 35.7,234.2 37.4,236.7 39.0,240.7 39.7,241.8 43.2,243.7 44.9,245.5 44.9,258.4 44.1,258.7 42.4,258.6 40.7,257.4 39.9,256.2 38.8,253.7 37.8,247.7 37.4,246.4 36.5,245.9 34.8,245.6 33.2,244.8 31.3,242.6 30.3,240.1 30.0,237.5 30.3,235.0 31.2,233.3ZM32.3,235.5 31.6,236.7 31.2,238.4 31.3,240.1 31.9,241.8 33.1,243.5 34.0,244.0 34.8,244.2 35.7,244.0 36.5,243.3 37.1,241.8 37.2,240.1 36.5,237.6 35.7,236.2 34.8,235.4 34.0,235.0 33.2,235.0 32.3,235.5ZM40.7,245.6 39.9,246.2 39.2,247.7 39.0,249.4 39.2,252.0 39.9,254.5 40.7,255.9 41.5,256.7 42.4,256.9 43.7,256.2 44.6,254.5 44.9,252.8 44.7,250.3 44.3,248.6 43.2,246.7 42.4,245.9 41.5,245.6 40.7,245.6ZM29.9,263.1 31.5,262.5 33.2,263.0 34.7,264.8 35.5,266.5 36.2,269.0 36.4,271.6 36.1,273.3 35.7,274.2 34.8,275.0 34.0,275.2 32.3,274.8 30.6,273.3 29.8,271.9 29.9,263.1ZM31.5,264.7 30.8,265.6 30.2,267.3 30.2,269.0 30.5,270.7 31.3,272.4 32.1,273.3 33.2,273.7 34.0,273.6 34.8,272.9 35.3,271.6 35.5,269.9 35.0,267.3 34.0,265.2 33.2,264.5 32.3,264.3 31.5,264.7ZM37.0,295.4 42.4,294.8 43.2,294.9 44.1,295.4 44.9,296.5 44.9,300.4 43.2,300.4 42.4,300.8 41.4,302.2 40.8,303.9 40.2,309.0 39.9,310.2 35.7,311.8 34.0,311.9 32.8,311.6 31.5,310.8 29.8,308.9 29.8,298.7 30.6,297.7 31.6,297.1 37.0,295.4ZM37.4,296.9 35.7,298.2 32.3,299.9 31.5,300.8 30.8,302.2 30.3,304.8 30.6,307.3 31.5,309.0 32.3,309.9 33.2,310.3 34.0,310.5 35.6,309.9 38.2,306.8 39.0,306.3 39.9,305.2 40.8,302.2 42.5,298.8 42.5,298.0 42.0,297.1 40.7,296.4 39.0,296.3 37.4,296.9ZM38.3,327.8 40.7,327.4 42.1,327.8 43.2,328.6 44.1,330.3 44.1,331.2 43.2,332.0 41.5,332.4 39.6,333.7 38.6,335.4 38.3,338.0 38.6,339.7 40.0,341.4 42.4,343.1 44.9,344.5 44.9,349.9 40.1,349.9 41.5,349.2 42.6,348.2 43.0,347.3 43.1,345.6 42.7,344.8 40.8,343.1 36.2,340.5 36.5,338.8 38.2,334.6 39.4,332.9 41.6,331.2 41.9,330.3 41.5,329.4 40.7,328.8 39.9,328.6 38.2,328.9 34.8,330.8 32.3,331.3 31.3,332.0 30.2,333.7 29.8,335.4 30.1,338.0 30.6,339.3 32.5,342.2 31.9,344.8 31.8,346.5 32.1,347.3 33.2,348.7 35.1,349.9 29.8,349.9 29.8,330.3 31.5,329.5 34.8,329.0 38.3,327.8Z" fill="#05f0c2" fill-rule="evenodd"/>
<path d="M29.8,202.6 31.5,202.6 31.0,204.3 30.9,206.0 31.2,207.7 32.2,210.3 34.2,212.8 37.7,215.4 38.5,216.2 39.0,217.2 40.6,222.2 41.5,224.0 43.2,225.6 44.9,226.0 44.9,229.0 41.5,225.5 40.2,223.0 38.6,218.8 37.7,217.1 33.0,212.8 29.8,208.9 29.8,202.6ZM44.5,202.6 44.9,202.6 44.9,203.1 44.5,202.6ZM29.8,224.7 29.8,224.2 30.9,226.4 32.5,229.0 35.7,232.3 39.9,237.9 41.5,239.4 44.9,241.3 44.9,245.5 43.2,243.7 39.9,241.9 39.0,240.7 37.8,237.5 36.5,235.2 34.8,233.5 33.2,232.7 32.3,232.7 31.5,233.0 30.6,234.1 30.1,235.8 30.0,237.5 30.5,240.9 31.8,243.5 34.0,245.3 36.5,245.9 37.4,246.4 37.8,247.7 38.8,253.7 39.9,256.2 40.7,257.4 42.4,258.6 44.1,258.7 44.9,258.4 44.9,263.0 43.5,261.3 41.5,259.8 39.9,257.6 38.5,254.5 36.5,248.4 35.7,247.4 32.2,245.2 29.8,242.5 29.8,224.7ZM29.8,257.1 31.4,259.6 33.2,261.4 34.8,263.6 36.2,266.5 37.1,269.9 38.0,275.0 38.0,275.8 37.2,276.7 34.8,276.9 33.2,276.5 31.5,275.6 29.8,274.2 29.8,271.9 30.6,273.3 32.3,274.8 34.0,275.2 34.8,275.0 35.7,274.2 36.1,273.3 36.4,271.6 36.3,269.9 35.8,267.3 34.8,265.0 34.0,263.8 33.2,263.0 31.5,262.5 30.6,262.6 29.8,263.1 29.8,257.1ZM42.7,282.6 43.2,282.1 44.9,282.5 44.9,296.5 44.1,295.4 43.2,294.9 37.4,295.3 31.6,297.1 30.6,297.7 29.8,298.7 29.8,288.5 32.1,292.0 34.0,293.5 37.4,294.2 39.9,294.1 40.6,293.7 41.5,292.9 43.0,290.3 43.3,287.7 42.7,282.6ZM43.0,300.5 44.9,300.4 44.9,302.5 44.1,301.7 43.2,301.4 42.4,301.7 41.2,303.9 41.0,306.5 41.4,309.0 42.4,311.2 43.2,312.1 44.1,312.5 44.9,312.3 44.9,334.5 43.2,333.2 41.5,333.1 40.7,333.4 39.6,334.6 39.2,335.4 39.0,337.1 39.2,338.8 40.2,340.5 42.4,342.3 44.1,342.8 44.9,342.6 44.9,344.5 42.4,343.1 40.0,341.4 38.6,339.7 38.3,338.8 38.4,336.3 39.6,333.7 41.5,332.4 43.2,332.0 44.1,331.2 43.8,329.5 43.2,328.6 41.5,327.5 39.9,327.4 38.2,327.8 34.8,329.0 31.5,329.5 29.8,330.3 29.8,323.8 30.9,325.2 32.3,326.5 33.2,327.0 34.8,327.4 36.5,327.2 40.7,326.1 42.6,325.2 43.2,324.4 43.1,322.7 42.2,320.1 40.5,317.5 39.0,315.8 36.5,314.1 29.8,311.8 29.8,308.9 31.5,310.8 32.8,311.6 34.0,311.9 35.7,311.8 39.9,310.2 41.0,303.1 41.9,301.4 42.4,300.8 43.0,300.5Z" fill="#0df070" fill-rule="evenodd"/>
<path d="M29.8,209.4 29.8,208.9 33.0,212.8 37.7,217.1 38.6,218.8 40.2,223.0 41.5,225.5 44.9,229.0 44.9,241.3 41.5,239.4 39.9,237.9 36.5,233.3 31.9,228.1 30.0,224.7 29.8,224.2 29.8,218.4 31.1,222.2 32.7,225.6 37.0,232.4 39.0,235.2 41.5,237.3 43.2,237.9 44.2,237.5 44.6,236.7 44.8,235.0 44.5,232.4 43.9,230.7 40.7,225.5 37.6,218.8 36.3,217.1 32.3,213.5 30.6,212.2 29.8,212.0 29.8,209.4ZM29.8,242.6 32.2,245.2 35.7,247.4 36.5,248.4 38.5,254.5 39.9,257.6 41.5,259.8 43.5,261.3 44.9,263.0 44.9,270.3 44.0,266.5 43.0,263.9 39.0,257.4 35.9,249.4 34.2,247.7 31.5,246.2 30.6,246.3 30.1,247.7 30.3,251.1 31.6,256.2 32.8,258.8 36.1,264.8 39.2,273.3 40.7,275.4 42.4,276.8 43.2,277.3 44.1,277.3 44.9,276.5 44.9,282.5 43.2,282.1 42.7,282.6 43.3,287.7 43.0,290.3 41.5,292.9 40.6,293.7 39.9,294.1 37.4,294.2 34.0,293.5 32.1,292.0 29.8,288.5 29.8,283.9 31.1,286.9 32.6,289.4 34.0,291.2 35.7,292.5 38.2,293.3 39.7,292.9 40.4,292.0 40.9,289.4 40.6,286.9 40.0,285.2 38.7,282.6 37.5,280.9 34.8,278.7 31.5,276.9 29.8,276.2 29.8,274.2 32.3,276.1 34.8,276.9 37.4,276.6 38.0,275.8 38.0,275.0 36.9,269.0 35.7,265.2 34.0,262.4 30.8,258.8 29.8,256.8 29.8,242.6ZM42.0,302.2 42.4,301.7 43.2,301.4 44.1,301.7 44.9,302.5 44.9,303.8 44.1,302.6 43.2,302.1 42.4,302.4 41.6,303.9 41.4,305.6 41.7,308.2 42.4,309.8 43.2,310.8 44.1,311.2 44.9,310.7 44.9,312.3 44.1,312.5 43.2,312.1 42.1,310.7 41.4,309.0 41.0,305.6 41.2,303.9 42.0,302.2ZM29.8,312.4 29.8,311.8 35.7,313.7 37.4,314.5 39.0,315.8 41.1,318.4 42.9,321.8 43.2,323.5 43.2,324.4 42.6,325.2 40.7,326.1 35.7,327.4 34.0,327.3 33.2,327.0 31.5,325.8 29.8,323.8 29.8,320.5 31.0,322.7 32.4,324.4 34.0,325.6 35.7,326.2 37.4,326.1 39.6,325.2 40.4,324.4 40.8,322.7 40.4,321.0 39.5,319.2 37.4,316.7 35.7,315.3 34.0,314.5 31.5,313.8 29.8,314.1 29.8,312.4ZM40.3,333.7 41.5,333.1 42.4,333.0 44.1,333.7 44.9,334.5 44.9,336.0 44.1,334.7 43.2,334.0 41.5,333.7 40.7,334.0 39.7,335.4 39.5,337.1 39.9,338.8 40.9,340.5 42.4,341.6 43.2,341.9 44.1,341.8 44.9,341.2 44.9,342.6 44.1,342.8 42.4,342.3 40.7,341.1 39.6,339.7 39.1,338.0 39.1,336.3 39.6,334.6 40.3,333.7Z" fill="#14f01e" fill-rule="evenodd"/>
<path d="M29.8,212.0 30.6,212.2 32.3,213.5 36.3,217.1 37.6,218.8 40.7,225.5 43.5,229.8 44.3,231.5 44.8,235.0 44.6,236.7 44.1,237.6 43.2,237.9 42.4,237.7 39.9,236.1 37.6,233.3 32.7,225.6 31.1,222.2 29.8,218.4 29.8,212.0ZM31.5,214.5 30.7,215.4 31.1,218.8 32.7,223.0 34.4,226.4 37.7,232.4 39.0,234.2 39.9,235.1 41.5,236.2 42.4,236.3 43.2,235.8 43.8,234.1 43.3,231.5 42.6,229.8 39.9,225.2 37.4,219.9 34.8,216.8 33.2,215.4 31.5,214.5ZM30.2,246.9 30.6,246.3 31.5,246.2 34.2,247.7 35.7,249.2 36.5,250.7 39.0,257.4 43.0,263.9 44.0,266.5 44.9,270.3 44.9,276.5 44.1,277.3 43.2,277.3 41.5,276.2 39.9,274.3 38.8,272.4 36.1,264.8 32.8,258.8 31.6,256.2 30.2,250.3 30.0,248.6 30.2,246.9ZM32.3,248.2 31.8,248.6 31.5,249.4 31.5,251.1 32.0,253.7 33.4,257.9 36.8,264.8 39.6,272.4 41.5,274.8 42.4,275.3 43.2,275.4 44.1,274.5 44.3,272.4 43.8,269.9 42.1,264.8 38.7,257.9 35.7,250.8 34.0,248.8 33.2,248.3 32.3,248.2ZM29.8,276.7 29.8,276.2 30.6,276.5 35.6,279.2 37.4,280.8 38.7,282.6 40.3,286.0 40.9,288.6 40.7,291.2 40.4,292.0 39.7,292.9 38.2,293.3 35.7,292.5 34.0,291.1 32.1,288.6 29.8,283.9 29.8,276.7ZM30.6,278.2 30.1,279.2 30.3,281.8 31.1,284.3 32.8,287.7 34.7,290.3 35.7,291.2 37.4,292.2 38.2,292.3 38.9,292.0 39.5,291.2 39.7,290.3 39.6,288.6 38.9,286.0 37.5,283.5 35.7,281.1 34.0,279.5 32.3,278.5 31.5,278.2 30.6,278.2ZM43.0,302.2 43.2,302.1 44.1,302.6 44.9,303.8 44.9,304.9 44.1,303.3 43.2,302.7 42.4,303.1 41.8,304.8 41.9,307.3 42.5,309.0 43.2,309.9 44.1,310.2 44.9,309.4 44.9,310.7 44.1,311.2 43.2,310.8 42.4,309.8 41.7,308.2 41.4,306.5 41.6,303.9 42.4,302.4 43.0,302.2ZM29.8,314.1 31.5,313.8 34.0,314.5 36.4,315.8 38.2,317.5 39.5,319.2 40.6,321.8 40.7,323.5 40.4,324.4 39.6,325.2 37.4,326.1 35.7,326.2 34.0,325.6 32.3,324.2 31.0,322.7 29.8,320.5 29.8,314.1ZM32.3,315.0 31.5,315.0 30.6,315.4 29.9,316.7 30.0,318.4 31.0,321.0 33.0,323.5 34.8,324.9 36.5,325.3 38.2,324.8 39.0,324.1 39.5,322.7 38.7,320.1 37.6,318.4 35.7,316.5 34.0,315.4 32.3,315.0ZM41.4,333.7 42.4,333.7 43.2,334.0 44.1,334.7 44.9,336.0 44.9,337.7 44.5,336.3 44.0,335.4 43.1,334.6 42.4,334.2 41.5,334.2 40.7,334.6 40.2,335.4 39.9,336.3 40.0,338.0 40.8,339.7 42.4,341.0 43.2,341.2 44.1,341.0 44.9,339.6 44.9,341.2 44.1,341.8 43.2,341.9 41.5,341.1 40.3,339.7 39.6,338.0 39.5,336.3 39.7,335.4 40.7,334.0 41.4,333.7Z" fill="#68f217" fill-rule="evenodd"/>
<path d="M31.5,214.5 33.2,215.4 34.8,216.8 37.4,219.9 39.9,225.2 42.6,229.8 43.3,231.5 43.8,234.1 43.2,235.8 42.4,236.3 41.5,236.2 39.9,235.1 39.0,234.2 37.7,232.4 34.4,226.4 32.7,223.0 31.1,218.8 30.7,215.4 31.5,214.5ZM32.3,216.7 32.0,217.9 32.8,221.3 37.8,231.5 39.9,234.3 41.5,235.3 42.4,235.1 43.0,234.1 42.8,231.5 42.0,229.8 39.8,226.4 37.4,221.3 34.8,217.9 33.2,216.7 32.3,216.7ZM31.8,248.6 32.3,248.2 33.2,248.3 34.8,249.6 35.7,250.8 38.7,257.9 41.7,263.9 43.6,269.0 44.2,271.6 44.2,274.1 43.7,275.0 43.2,275.4 42.4,275.3 41.5,274.8 40.1,273.3 39.2,271.6 37.1,265.6 32.8,256.2 31.5,251.1 31.5,249.4 31.8,248.6ZM33.2,250.1 32.7,251.1 32.7,252.0 33.4,255.4 34.6,258.8 37.8,265.6 39.4,270.7 40.9,273.3 41.5,273.9 42.4,274.3 42.8,274.1 43.2,273.9 43.6,272.4 43.4,270.7 42.9,269.0 35.7,252.4 34.0,250.3 33.2,250.1ZM30.5,278.4 31.5,278.2 34.0,279.5 35.7,281.1 37.5,283.5 38.9,286.0 39.6,288.6 39.7,290.3 39.0,292.0 38.2,292.3 36.5,291.8 34.7,290.3 32.8,287.7 31.1,284.3 30.3,281.8 30.1,279.2 30.5,278.4ZM31.5,280.1 31.3,280.9 31.5,282.6 32.4,285.2 33.8,287.7 35.0,289.4 36.5,290.8 37.4,291.1 38.2,291.0 38.6,290.3 38.7,288.6 38.2,286.9 37.0,284.3 35.7,282.5 34.0,280.8 32.3,279.9 31.5,280.1ZM42.5,303.1 43.2,302.7 44.1,303.3 44.9,304.9 44.9,306.9 44.5,304.8 44.1,304.0 43.2,303.4 42.4,303.9 42.1,304.8 42.2,307.3 43.2,309.2 44.1,309.4 44.8,308.2 44.9,307.5 44.9,309.4 44.1,310.2 43.2,309.9 42.5,309.0 41.9,307.3 41.8,304.8 42.5,303.1ZM31.8,315.0 33.2,315.1 34.8,315.9 36.9,317.5 38.2,319.2 39.1,321.0 39.5,322.7 39.0,324.1 38.2,324.8 36.5,325.3 34.8,324.9 33.0,323.5 31.0,321.0 30.0,318.4 29.9,316.7 30.6,315.4 31.8,315.0ZM32.3,315.8 31.5,316.0 30.9,316.7 30.6,317.5 30.9,319.2 31.7,321.0 33.2,322.7 34.8,324.0 36.5,324.4 37.4,324.2 38.1,323.5 38.4,322.7 38.1,321.0 37.3,319.2 35.9,317.5 34.8,316.7 34.0,316.2 32.3,315.8ZM40.8,334.6 41.5,334.2 42.4,334.2 43.2,334.6 44.5,336.3 44.9,337.7 44.9,339.6 44.1,341.0 43.2,341.2 42.4,341.0 41.5,340.5 40.3,338.8 39.9,336.3 40.2,335.4 40.8,334.6ZM40.7,335.3 40.3,337.1 40.7,338.8 41.5,339.9 42.4,340.5 43.5,340.5 44.1,340.1 44.5,338.8 44.4,337.1 44.0,336.3 43.2,335.2 42.4,334.7 41.5,334.7 40.7,335.3Z" fill="#bbf40f" fill-rule="evenodd"/>
<path d="M32.1,217.1 32.3,216.7 33.2,216.7 34.0,217.2 35.7,218.8 37.4,221.3 39.8,226.4 42.0,229.8 42.8,231.5 43.0,234.1 42.4,235.1 41.5,235.3 39.9,234.3 37.8,231.5 32.8,221.3 32.1,218.8 32.1,217.1ZM34.0,218.7 33.4,219.6 34.0,222.2 37.0,228.1 38.3,231.5 39.9,233.7 40.7,234.3 41.5,234.4 42.1,234.1 42.5,233.3 41.9,230.7 39.1,226.4 36.5,221.3 34.8,219.3 34.0,218.7ZM33.0,250.3 34.0,250.3 35.7,252.4 40.4,263.1 43.4,270.7 43.5,273.3 43.2,273.9 42.8,274.1 42.4,274.3 41.5,273.9 40.9,273.3 39.4,270.7 37.8,265.6 33.7,256.2 32.8,252.8 32.7,251.1 33.0,250.3ZM34.8,253.1 34.0,253.7 34.8,257.2 38.7,265.6 39.7,269.9 40.3,271.6 41.5,273.1 42.4,273.3 42.9,272.4 43.0,271.6 42.6,269.9 40.4,265.6 39.0,261.8 36.5,255.9 34.8,253.1ZM31.5,280.1 32.3,279.9 34.0,280.8 35.7,282.5 37.0,284.3 38.2,286.9 38.7,288.6 38.6,290.3 38.2,291.0 37.3,291.1 36.5,290.8 35.0,289.4 33.8,287.7 31.7,283.5 31.3,281.8 31.5,280.1ZM33.2,281.6 32.8,281.8 32.5,282.6 32.9,284.3 33.6,286.0 35.7,289.0 36.5,289.6 37.3,289.7 37.7,288.6 37.6,287.7 36.6,285.2 34.8,282.8 33.2,281.6ZM42.4,303.9 43.2,303.4 44.1,304.0 44.7,305.6 44.8,308.2 44.1,309.4 43.2,309.2 42.2,307.3 42.0,305.6 42.4,303.9ZM43.2,304.0 42.4,304.8 42.3,306.5 43.2,308.5 44.1,308.6 44.5,307.3 44.4,305.6 44.1,304.7 43.2,304.0ZM32.1,315.8 33.2,315.9 34.8,316.7 35.9,317.5 37.3,319.2 38.1,321.0 38.4,322.7 38.1,323.5 37.4,324.2 36.5,324.4 34.8,324.0 33.2,322.7 31.7,321.0 30.9,319.2 30.6,317.5 30.9,316.7 31.5,316.0 32.1,315.8ZM32.3,316.5 31.3,317.5 31.2,318.4 31.7,320.1 33.0,321.8 34.0,322.6 35.7,323.4 36.5,323.4 37.3,322.7 37.5,321.8 36.6,319.2 34.8,317.3 33.2,316.5 32.3,316.5ZM40.6,335.4 41.5,334.7 42.4,334.7 43.2,335.2 44.0,336.3 44.4,337.1 44.5,338.8 44.1,340.1 43.5,340.5 42.4,340.5 41.5,339.9 40.7,338.8 40.3,337.1 40.6,335.4ZM41.5,335.2 40.7,336.3 40.8,338.0 41.5,339.3 42.4,340.0 43.2,340.0 44.1,338.8 43.9,337.1 43.5,336.3 42.7,335.4 41.5,335.2Z" fill="#fadf09" fill-rule="evenodd"/>
<path d="M33.8,218.8 34.8,219.3 36.5,221.3 39.1,226.4 41.9,230.7 42.5,233.3 42.1,234.1 41.5,234.4 40.7,234.3 39.9,233.7 38.3,231.5 37.0,228.1 34.0,222.2 33.4,219.6 33.8,218.8ZM35.7,222.1 35.7,223.5 36.5,225.1 37.0,225.6 37.4,226.6 37.7,226.4 37.4,224.9 36.5,223.2 35.7,222.1ZM38.2,226.6 37.8,227.3 38.2,229.8 38.8,231.5 39.9,233.0 40.7,233.6 41.5,233.5 41.9,232.4 41.4,230.7 40.7,229.5 38.2,226.6ZM34.0,253.7 34.8,253.1 35.7,254.3 39.0,261.8 40.4,265.6 42.4,269.3 43.0,271.6 42.9,272.4 42.4,273.3 41.5,273.1 40.9,272.4 39.9,270.7 38.7,265.6 34.8,257.2 34.0,253.7ZM40.7,268.3 40.4,269.0 40.5,270.7 41.5,272.2 42.4,271.6 42.3,270.7 41.5,269.1 40.7,268.3ZM32.8,281.8 33.2,281.6 34.0,282.1 34.8,282.8 36.6,285.2 37.6,287.7 37.7,288.6 37.4,289.7 36.5,289.6 35.7,289.0 34.0,286.7 32.6,283.5 32.5,282.6 32.8,281.8ZM34.8,284.6 34.4,285.2 34.7,286.0 35.7,287.2 36.0,286.9 35.8,286.0 34.8,284.6ZM42.4,304.8 43.2,304.0 44.1,304.8 44.5,306.5 44.5,307.3 44.1,308.6 43.2,308.5 42.6,307.3 42.3,306.5 42.4,304.8ZM43.2,304.7 42.8,305.6 42.8,306.5 43.2,307.7 44.1,307.5 44.2,306.5 44.0,305.6 43.2,304.7ZM31.9,316.7 33.2,316.5 34.0,316.8 35.2,317.5 36.6,319.2 37.5,321.8 37.4,322.7 36.5,323.4 34.8,323.2 33.2,322.0 32.3,321.0 31.7,320.1 31.2,318.4 31.3,317.5 31.9,316.7ZM32.3,317.2 31.7,318.4 31.8,319.2 32.8,321.0 34.8,322.4 35.7,322.5 36.5,322.0 36.6,321.0 36.4,320.1 35.4,318.4 34.0,317.3 33.2,317.0 32.3,317.2ZM41.2,335.4 41.5,335.2 42.4,335.2 43.2,335.8 43.9,337.1 44.1,338.8 43.2,340.0 42.4,340.0 41.5,339.3 40.8,338.0 40.7,336.3 41.2,335.4ZM41.5,335.8 41.1,337.1 41.2,338.0 41.5,338.7 42.4,339.4 43.2,339.3 43.7,338.0 43.2,336.5 42.4,335.7 41.5,335.8Z" fill="#fa8605" fill-rule="evenodd"/>
<path d="M35.6,222.2 36.5,223.2 37.4,224.9 37.7,226.4 37.4,226.6 37.0,225.6 36.5,225.1 35.7,223.5 35.6,222.2ZM37.8,227.3 38.2,226.6 40.9,229.8 41.8,231.5 41.9,232.4 41.5,233.5 40.7,233.6 39.9,233.0 39.0,231.9 38.2,229.8 37.8,227.3ZM40.4,269.0 40.7,268.3 41.5,269.1 42.3,270.7 42.4,271.6 41.5,272.2 40.5,270.7 40.4,269.0ZM34.4,285.2 34.8,284.6 35.7,285.7 36.0,286.9 35.7,287.2 34.8,286.3 34.4,285.2ZM43.1,304.8 44.0,305.6 44.2,306.5 44.1,307.5 43.2,307.7 42.8,306.5 42.8,305.6 43.1,304.8ZM32.0,317.5 32.3,317.2 33.2,317.0 34.8,317.8 36.0,319.2 36.4,320.1 36.6,321.0 36.5,322.0 35.7,322.5 34.8,322.4 33.2,321.3 31.8,319.2 31.7,318.4 32.0,317.5ZM41.2,336.3 41.5,335.8 42.4,335.7 43.2,336.5 43.7,338.0 43.2,339.3 42.4,339.4 41.5,338.7 41.1,337.1 41.2,336.3Z" fill="#fa2d02" fill-rule="evenodd"/>
</g>
<path d="M29.8,206.4 31.1,209.4 32.8,212.0 38.2,216.7 39.0,218.5 40.3,222.2 41.5,224.7 43.2,226.4 44.9,227.2M29.8,240.3 30.7,242.6 32.0,244.3 34.0,245.8 36.3,246.9 37.0,247.7 38.8,254.5 39.9,256.9 40.7,258.1 42.4,259.5 44.9,260.4M44.9,243.4 40.2,240.1 37.0,235.0 34.8,232.5 29.8,229.5M29.8,273.1 30.7,274.1 32.3,275.4 34.0,275.9 34.8,275.9 36.2,275.0 36.7,274.1 36.9,272.4 36.3,268.2 34.8,264.3 33.2,262.3 29.8,260.5M44.9,292.9 43.2,293.1 40.7,294.4 39.9,294.7 34.0,295.0 32.3,294.6 31.5,294.1 29.8,292.3M29.8,310.4 31.4,311.6 33.2,312.3 37.4,312.8 39.0,313.5 41.7,315.8 43.6,318.4 44.9,320.7M44.9,313.9 44.1,314.0 43.2,313.7 42.1,312.4 41.1,309.9 40.8,306.5 41.3,303.1 42.4,301.3 43.2,300.9 44.1,301.1 44.9,301.7M44.9,328.1 43.2,327.1 41.5,326.8 39.9,326.9 34.8,328.2 33.2,328.2 31.3,327.8 29.8,326.8M44.9,343.4 44.1,343.4 42.4,342.7 40.6,341.4 39.2,339.7 38.8,338.8 38.6,337.1 39.3,334.6 40.7,333.1 42.4,332.6 44.9,333.2M36.9,202.6 34.8,203.2 34.0,203.9 33.2,205.1 32.7,206.9 33.0,209.4 33.9,211.1 34.8,212.1 38.5,214.5 39.3,215.4 41.0,221.3 42.4,223.7 43.2,224.2 44.1,224.3 44.9,223.9M44.9,212.4 43.0,206.9 42.1,205.2 39.9,203.2 37.7,202.6M33.2,234.8 32.3,235.3 31.5,236.7 31.1,238.4 31.4,240.9 32.2,242.6 33.2,243.7 34.8,244.3 35.7,244.1 36.6,243.5 37.3,241.8 37.3,240.1 36.9,238.4 35.5,235.8 34.0,234.8 33.2,234.8M44.9,250.5 44.4,248.6 43.6,246.9 42.4,245.7 41.5,245.3 40.7,245.4 39.8,246.0 39.1,247.7 38.9,249.4 39.1,252.0 39.8,254.5 40.7,256.1 41.5,256.8 42.4,257.1 43.2,256.9 43.9,256.2 44.4,255.4 44.9,253.8M31.5,264.5 30.6,265.6 30.1,267.3 30.1,269.0 30.4,270.7 31.2,272.4 32.0,273.3 33.2,273.9 34.0,273.8 34.8,273.1 35.4,271.6 35.6,269.9 35.1,267.3 34.0,265.1 33.2,264.4 32.3,264.2 31.5,264.5M39.0,296.2 37.4,296.7 35.7,298.0 33.2,299.1 32.3,299.7 31.0,301.4 30.2,303.9 30.3,306.5 31.3,309.0 32.3,310.0 33.2,310.5 34.8,310.5 35.7,310.0 38.2,307.1 39.0,306.6 39.9,305.5 40.9,302.2 42.7,298.8 42.7,298.0 42.3,297.1 40.7,296.3 39.0,296.2M29.8,337.2 30.2,338.8 32.2,342.2 31.6,345.6 31.9,347.3 33.2,349.0 34.7,349.9M40.5,349.9 42.0,349.0 42.8,348.2 43.4,346.5 43.3,345.6 42.8,344.8 41.0,343.1 36.6,340.5 36.4,339.7 37.8,335.4 38.8,333.7 39.9,332.6 41.8,331.2 42.1,330.3 41.8,329.5 40.7,328.6 39.0,328.5 34.8,330.6 32.3,331.2 31.5,331.7 30.6,332.6 29.8,334.9M35.7,206.0 35.0,206.9 34.7,207.7 34.8,209.2 35.3,210.3 36.2,211.1 37.4,211.8 39.0,212.1 40.0,212.0 40.7,211.4 41.0,210.3 40.8,208.6 40.0,206.9 39.0,205.9 38.2,205.5 36.5,205.5 35.7,206.0M42.4,214.4 41.5,215.4 41.4,218.8 42.3,221.3 43.2,221.9 44.1,221.5 44.5,220.5 44.7,217.9 44.1,215.9 43.2,214.8 42.4,214.4M33.2,238.0 32.7,239.2 33.0,240.9 34.0,242.0 34.8,241.8 35.3,240.9 35.4,240.1 35.0,238.4 34.0,237.6 33.2,238.0M40.7,249.4 40.4,251.1 40.7,253.2 41.5,254.2 42.4,254.1 43.0,252.8 43.1,252.0 42.8,250.3 42.4,249.4 41.5,248.8 40.7,249.4M32.3,266.7 31.7,268.2 31.7,269.9 32.3,271.2 33.2,271.7 34.0,271.1 34.3,269.0 33.8,267.3 33.2,266.6 32.3,266.7M39.0,298.4 38.0,299.7 37.7,301.4 38.2,302.2 39.0,302.4 39.9,301.7 40.5,299.7 40.3,298.8 39.9,298.4 39.0,298.4M33.2,301.8 32.1,303.1 31.7,305.6 32.3,307.7 33.2,308.5 34.0,308.6 34.9,308.2 35.9,306.5 36.4,304.8 36.5,303.1 36.2,302.2 34.8,301.5 34.0,301.5 33.2,301.8M32.3,333.3 31.4,334.6 31.2,335.4 31.3,337.1 32.3,338.7 33.2,339.1 34.0,338.9 34.8,338.1 35.4,337.1 35.8,335.4 35.7,334.0 34.8,333.2 34.0,332.9 33.2,332.9 32.3,333.3M35.7,343.7 34.4,344.8 34.2,345.6 34.2,346.5 34.8,347.5 35.8,348.2 37.4,348.6 39.0,348.3 40.5,347.3 40.9,346.5 40.9,345.6 40.5,344.8 39.9,344.2 38.2,343.4 36.5,343.4 35.7,343.7" fill="none" stroke="#04203a" stroke-width="0.3" stroke-opacity="0.3"/>
<path d="M29.8,211.5 31.5,212.5 35.6,216.2 37.4,218.1 40.7,225.3 43.7,229.8 44.5,231.5 44.9,233.5M44.9,236.8 44.1,238.2 43.2,238.3 40.7,237.0 39.0,235.4 32.9,226.4 31.2,223.0 29.8,219.2M29.8,247.3 30.2,246.0 30.6,245.8 31.5,245.9 34.5,247.7 35.7,248.9 36.5,250.4 39.0,257.2 40.7,260.1 42.8,263.1 43.7,264.8 44.9,269.2M29.8,275.9 35.7,278.9 37.9,280.9 39.6,283.5 40.3,285.2 41.0,287.7 41.2,289.4 40.6,292.0 39.9,293.0 38.2,293.4 36.1,292.9 34.6,292.0 33.0,290.3 31.3,287.7 29.8,284.5M44.9,277.4 44.1,277.9 42.4,277.2 40.7,275.7 39.5,274.1 38.6,272.4 36.7,266.5 35.7,264.0 31.7,257.1 30.4,252.8 29.8,248.9M44.9,310.9 44.1,311.3 43.2,311.0 42.4,310.0 41.6,308.2 41.3,305.6 41.6,303.9 42.4,302.3 43.2,302.0 43.7,302.2 44.9,303.6M29.8,313.8 30.6,313.6 32.3,313.8 34.8,314.7 36.5,315.7 38.4,317.5 39.7,319.2 40.6,321.0 41.1,322.7 40.7,324.4 39.9,325.2 38.1,326.1 35.7,326.4 34.0,325.9 32.3,324.5 30.8,322.7 29.8,320.9M44.9,341.4 44.1,342.0 43.2,342.0 41.5,341.2 40.2,339.7 39.4,337.1 39.6,335.4 40.1,334.6 40.7,333.9 41.5,333.6 43.2,333.9 44.1,334.6 44.9,335.8M30.3,213.7 30.6,213.5 31.5,213.7 33.2,214.8 35.7,217.1 37.6,219.6 39.9,224.7 43.0,229.8 43.7,231.5 44.1,235.0 44.0,235.8 43.2,236.8 42.4,236.9 41.5,236.6 40.7,236.2 39.0,234.6 36.9,231.5 33.4,225.6 31.8,222.2 30.4,217.9 29.9,215.4 30.0,214.5 30.3,213.7M31.2,247.7 31.5,247.4 32.3,247.3 33.2,247.7 34.8,249.0 35.7,250.0 39.0,258.1 42.6,264.8 44.2,269.9 44.7,272.4 44.5,275.0 44.1,275.8 43.2,276.2 41.5,275.4 40.3,274.1 39.2,272.4 36.5,264.8 32.6,257.1 31.0,251.1 30.9,249.4 31.2,247.7M29.8,277.5 30.6,277.3 32.3,278.0 34.4,279.2 36.3,280.9 37.7,282.6 39.1,285.2 39.8,286.9 40.2,289.4 40.1,291.2 39.7,292.0 39.0,292.6 37.4,292.6 35.7,291.8 33.4,289.4 31.8,286.9 30.3,283.5 29.8,281.7M44.9,310.0 44.1,310.6 43.2,310.3 42.8,309.9 41.9,308.2 41.6,305.6 41.8,303.9 42.2,303.1 43.2,302.5 44.1,303.0 44.9,304.4M29.8,315.4 30.6,314.6 32.3,314.5 34.0,315.0 35.7,316.0 37.4,317.5 38.7,319.2 39.6,321.0 40.0,322.7 39.5,324.4 38.5,325.2 36.5,325.7 34.8,325.4 33.2,324.3 31.7,322.7 30.1,320.1 29.8,319.1M44.9,340.5 44.1,341.4 43.2,341.5 41.5,340.8 40.1,338.8 39.7,337.1 40.0,335.4 40.7,334.3 41.5,333.9 42.4,333.9 43.5,334.6 44.3,335.4 44.9,336.8M31.2,215.4 31.5,215.0 32.3,215.2 34.0,216.3 35.7,217.9 37.4,220.2 39.9,225.6 42.9,230.7 43.4,232.4 43.6,234.1 43.2,235.4 42.8,235.8 41.5,235.9 40.7,235.5 39.0,234.0 37.9,232.4 33.7,224.7 32.2,221.3 31.1,217.9 31.0,216.2 31.2,215.4M31.8,249.4 32.3,248.6 33.2,248.6 34.0,249.1 35.1,250.3 41.1,263.1 43.9,270.7 44.1,273.3 43.9,274.1 43.2,275.1 42.4,275.1 41.5,274.6 40.3,273.3 39.3,271.6 37.3,265.6 33.0,256.2 31.9,252.0 31.8,249.4M30.4,279.2 30.6,278.8 31.5,278.5 33.2,279.2 34.8,280.5 36.7,282.6 38.2,285.2 39.2,287.7 39.5,290.3 39.0,291.5 38.2,292.0 36.5,291.6 35.0,290.3 33.6,288.6 32.1,286.0 31.0,283.5 30.4,280.9 30.4,279.2M44.9,309.1 44.1,310.0 43.2,309.8 42.2,308.2 41.8,305.6 42.4,303.3 43.2,302.9 44.1,303.4 44.9,305.2M30.5,315.8 31.5,315.2 33.2,315.3 34.8,316.1 36.6,317.5 38.5,320.1 39.1,321.8 39.1,323.5 38.5,324.4 37.4,325.0 35.7,325.0 34.0,324.2 32.4,322.7 31.1,321.0 30.4,319.2 30.0,317.5 30.5,315.8M41.0,334.6 41.5,334.3 42.4,334.3 43.2,334.7 44.4,336.3 44.9,338.8 44.8,339.7 44.1,340.8 43.2,341.1 42.4,340.9 41.5,340.4 40.4,338.8 40.1,338.0 40.0,336.3 40.3,335.4 41.0,334.6M31.9,217.1 32.3,216.4 33.2,216.6 34.0,217.1 35.7,218.8 37.4,221.2 39.5,225.6 42.1,229.8 42.8,231.5 43.0,234.1 42.4,235.2 41.5,235.3 39.9,234.4 37.8,231.5 33.1,222.2 32.0,218.8 31.9,217.1M32.8,250.3 33.2,249.9 34.0,250.2 35.7,252.3 40.1,262.2 43.5,270.7 43.7,272.4 43.6,273.3 43.1,274.1 42.4,274.4 41.5,274.0 40.7,273.2 39.7,271.6 37.8,265.6 33.6,256.2 32.7,252.8 32.6,251.1 32.8,250.3M31.3,280.1 32.3,279.7 34.0,280.7 35.7,282.4 37.1,284.3 38.3,286.9 38.8,288.6 38.8,290.3 38.2,291.2 37.4,291.2 35.8,290.3 33.7,287.7 31.6,283.5 31.2,281.8 31.3,280.1M44.9,307.9 44.1,309.5 43.2,309.3 42.4,308.0 42.0,305.6 42.4,303.8 43.2,303.3 44.1,303.9 44.9,306.4M31.8,315.8 33.2,315.8 34.8,316.6 36.0,317.5 37.4,319.2 38.2,321.0 38.5,322.7 38.2,323.5 37.4,324.3 36.5,324.5 34.8,324.0 33.2,322.8 31.6,321.0 30.8,319.2 30.6,317.5 30.8,316.7 31.8,315.8M40.6,335.4 41.5,334.6 42.4,334.6 43.2,335.2 44.0,336.3 44.4,337.1 44.6,338.8 44.4,339.7 43.6,340.5 42.4,340.5 41.5,340.0 40.7,338.8 40.2,337.1 40.6,335.4M33.0,217.9 34.0,218.0 34.8,218.7 36.5,220.7 39.4,226.4 42.1,230.7 42.7,233.3 42.4,234.3 41.5,234.8 40.7,234.6 39.9,234.0 38.1,231.5 36.7,228.1 33.7,222.2 32.9,219.6 33.0,217.9M33.6,252.0 34.0,251.6 34.8,252.2 35.7,253.5 42.5,269.0 43.1,270.7 43.3,272.4 42.9,273.3 42.4,273.7 41.5,273.4 40.7,272.6 39.7,270.7 38.6,266.5 35.5,259.6 34.0,255.7 33.6,253.7 33.6,252.0M32.3,280.9 33.2,281.0 34.0,281.5 35.7,283.3 36.9,285.2 38.2,288.6 38.2,289.5 37.6,290.3 36.5,290.1 35.7,289.5 33.7,286.9 32.2,283.5 32.0,281.8 32.3,280.9M42.9,303.9 43.2,303.7 44.1,304.4 44.5,305.6 44.7,307.3 44.1,308.9 43.2,308.8 42.4,307.2 42.3,304.8 42.9,303.9M31.4,316.7 32.3,316.2 34.0,316.5 36.3,318.4 37.7,321.0 37.8,322.7 37.4,323.4 36.5,323.8 35.7,323.8 34.0,323.0 32.7,321.8 31.2,319.2 31.0,317.5 31.4,316.7M41.0,335.4 41.5,335.0 42.4,335.0 43.2,335.6 43.7,336.3 44.1,337.1 44.3,338.8 44.0,339.7 43.2,340.3 42.4,340.2 41.0,338.8 40.5,337.1 40.5,336.3 41.0,335.4M33.9,219.6 34.0,219.4 34.8,219.7 35.7,220.5 37.4,223.2 38.9,226.4 41.8,230.7 42.3,232.4 42.3,233.3 41.5,234.2 40.7,234.1 39.9,233.5 38.5,231.5 36.9,227.3 34.6,223.0 34.0,221.3 33.9,219.6M34.7,254.5 34.8,254.0 35.7,254.9 36.5,256.6 39.0,262.5 40.3,266.5 41.5,268.1 42.4,269.7 42.8,271.6 42.4,273.0 41.5,272.9 40.7,272.0 40.1,270.7 39.7,269.0 39.5,266.5 35.7,258.7 34.8,256.2 34.7,254.5M32.9,282.6 33.2,282.3 34.0,282.5 35.7,284.2 37.1,286.9 37.4,287.7 37.4,288.9 36.5,289.2 34.8,287.6 33.1,284.3 32.9,282.6M42.6,304.8 43.2,304.2 44.1,305.0 44.4,306.5 44.1,308.3 43.2,308.3 42.7,307.3 42.4,305.6 42.6,304.8M32.3,316.7 34.0,316.9 35.0,317.5 36.4,319.2 37.2,321.0 37.2,321.8 37.0,322.7 36.5,323.1 35.7,323.2 34.8,322.9 33.2,321.8 32.3,320.8 31.4,318.4 31.5,317.5 32.3,316.7M41.4,335.4 42.5,335.4 43.2,336.0 43.8,337.1 43.9,338.8 43.2,339.8 42.4,339.8 41.5,339.2 40.9,338.0 40.8,336.3 41.4,335.4M35.5,222.2 35.7,222.0 36.5,223.1 38.0,226.4 40.7,229.5 41.4,230.7 41.9,232.4 41.5,233.6 40.7,233.6 39.9,233.1 38.8,231.5 38.2,229.8 37.7,227.3 35.7,223.6 35.5,222.2M40.3,269.0 40.7,268.3 41.5,269.0 42.3,270.7 42.4,271.7 41.5,272.2 40.5,270.7 40.3,269.0M34.4,285.2 34.8,284.4 35.7,285.6 36.1,286.9 35.7,287.3 34.8,286.4 34.4,285.2M43.1,304.8 44.0,305.6 44.2,306.5 44.1,307.5 43.2,307.7 42.8,306.5 42.8,305.6 43.1,304.8M31.9,317.5 32.3,317.2 33.2,317.0 34.8,317.8 36.0,319.2 36.4,320.1 36.7,321.0 36.5,322.0 35.7,322.6 34.8,322.4 33.2,321.4 31.8,319.2 31.7,318.4 31.9,317.5M41.2,336.3 41.5,335.8 42.4,335.7 43.2,336.5 43.7,338.0 43.2,339.3 42.4,339.4 41.5,338.7 41.0,337.1 41.2,336.3M38.7,229.0 39.0,228.6 39.9,229.1 41.1,230.7 41.5,232.4 40.7,233.1 39.9,232.6 39.2,231.5 38.7,229.8 38.7,229.0M41.4,270.7 41.5,270.4 41.5,271.0 41.4,270.7M43.1,305.6 43.2,305.4 43.4,305.6 43.5,306.5 43.2,306.9 43.1,305.6M32.6,317.5 33.2,317.4 34.0,317.6 35.0,318.4 35.7,319.2 36.2,321.0 35.7,321.9 34.8,322.0 34.0,321.6 32.5,320.1 32.0,318.4 32.6,317.5M41.6,336.3 42.4,336.1 43.2,337.1 43.4,338.0 43.2,338.6 42.9,338.8 42.4,339.0 41.5,338.1 41.3,337.1 41.6,336.3" fill="none" stroke="#050505" stroke-width="0.32" stroke-opacity="0.6"/>
<g filter="url(#b1)">
<ellipse cx="30.8" cy="217" rx="1.6" ry="5.4" fill="#060606" transform="rotate(-10 30.8 217)"/>
<ellipse cx="30.8" cy="250" rx="1.6" ry="6.4" fill="#060606" transform="rotate(-8 30.8 250)"/>
<ellipse cx="30.9" cy="316" rx="1.6" ry="5.0" fill="#060606" transform="rotate(-8 30.9 316)"/>
<ellipse cx="44.3" cy="303.6" rx="1.0" ry="3.8" fill="#060606" transform="rotate(-8 44.3 303.6)"/>
<ellipse cx="44.0" cy="339.2" rx="1.3" ry="3.0" fill="#060606" transform="rotate(-20 44.0 339.2)"/>
<ellipse cx="31.0" cy="282" rx="1.0" ry="3.5" fill="#060606" transform="rotate(-10 31.0 282)"/>
</g>
</g>
<rect x="29.8" y="202.6" width="15.1" height="147.3" fill="none" stroke="#0a0a0a" stroke-width="1.4"/>
<clipPath id="cp8"><rect x="47.9" y="202.6" width="15.1" height="147.3"/></clipPath>
<g clip-path="url(#cp8)">
<g filter="url(#b05)">
<rect x="47.9" y="202.6" width="15.1" height="147.3" fill="#0000fa"/>
<path d="M55.3,223.0 56.3,222.5 57.1,222.5 58.0,222.9 58.8,223.9 59.1,224.7 59.3,226.4 58.8,228.3 56.7,231.5 55.4,232.7 54.6,232.9 53.8,232.9 52.8,232.4 52.1,231.6 51.8,229.8 52.6,227.3 54.5,223.9 55.3,223.0ZM55.9,252.8 57.1,252.7 58.0,253.1 58.6,253.7 59.3,255.4 59.2,257.1 58.6,258.8 56.3,262.4 55.4,263.2 54.6,263.6 53.8,263.6 52.9,263.2 52.1,262.2 51.8,261.3 51.8,259.6 52.3,257.9 53.8,255.2 54.8,253.7 55.9,252.8ZM55.9,288.6 57.1,288.4 58.0,288.8 58.5,289.4 59.2,291.2 59.3,292.9 58.3,295.4 56.3,298.3 55.4,299.1 54.6,299.5 53.8,299.4 52.9,299.1 52.0,298.0 51.8,297.1 51.8,295.4 52.4,293.7 54.3,290.3 55.9,288.6ZM55.6,321.0 57.1,320.7 58.0,321.0 58.7,321.8 59.3,323.5 59.2,325.2 58.5,326.9 56.3,330.4 55.4,331.2 54.6,331.5 53.8,331.6 52.9,331.2 52.2,330.3 51.9,329.5 51.7,327.8 52.1,326.3 52.9,324.6 54.6,321.9 55.6,321.0Z" fill="#002cfb" fill-rule="evenodd"/>
<path d="M55.3,221.3 57.1,221.1 58.8,221.9 60.0,223.9 60.4,226.4 59.8,229.0 58.7,230.7 56.3,233.3 54.6,233.9 52.9,233.5 51.4,232.4 50.9,231.5 50.7,229.8 51.3,227.6 52.9,224.3 54.3,222.2 55.3,221.3ZM55.4,222.9 53.8,225.1 51.9,229.0 51.8,230.7 52.1,231.5 52.8,232.4 53.8,232.9 54.6,232.9 55.4,232.7 56.3,232.0 58.0,229.8 59.2,227.3 59.1,224.7 58.1,223.0 57.1,222.5 56.3,222.5 55.4,222.9ZM54.9,252.0 56.3,251.5 57.1,251.5 58.8,252.3 59.6,253.2 60.2,254.5 60.3,257.1 59.4,259.6 57.1,263.2 55.4,264.7 53.8,264.9 52.1,264.0 51.4,263.1 50.8,261.3 50.7,259.6 51.1,257.9 52.1,255.9 53.8,253.1 54.9,252.0ZM56.3,252.7 55.4,253.0 54.6,253.9 51.9,258.8 51.7,260.5 52.1,262.2 52.9,263.2 53.8,263.6 54.6,263.6 55.4,263.2 56.3,262.4 58.6,258.8 59.2,257.1 59.3,255.4 58.6,253.7 57.5,252.8 56.3,252.7ZM54.7,287.7 56.3,286.9 57.1,287.0 58.6,287.7 59.9,289.4 60.4,292.0 60.0,294.6 58.6,297.1 56.5,299.7 55.4,300.4 54.6,300.6 52.9,300.3 52.0,299.7 50.9,298.0 50.7,296.3 50.9,294.6 51.6,292.9 53.8,288.9 54.7,287.7ZM56.3,288.4 55.4,288.8 54.6,289.8 52.4,293.7 51.8,295.4 51.8,297.1 52.0,298.0 52.9,299.1 53.8,299.4 54.6,299.5 55.5,299.1 56.3,298.3 58.3,295.4 59.3,292.9 59.2,291.2 58.5,289.4 57.5,288.6 56.3,288.4ZM54.8,320.1 56.3,319.5 57.1,319.5 58.8,320.3 60.0,321.8 60.4,324.4 59.6,327.3 57.1,331.1 55.4,332.5 53.8,332.8 52.1,332.0 51.4,331.2 50.8,329.5 50.7,327.8 51.1,326.1 51.8,324.4 53.3,321.8 54.8,320.1ZM56.3,320.7 55.4,321.0 54.6,321.9 52.9,324.6 51.9,326.9 51.7,328.6 52.1,330.1 52.9,331.2 53.8,331.6 54.6,331.5 55.4,331.2 56.3,330.4 58.5,326.9 59.2,325.2 59.3,323.5 58.7,321.8 57.8,321.0 56.3,320.7Z" fill="#0083fd" fill-rule="evenodd"/>
<path d="M54.3,220.5 56.3,219.9 58.0,220.0 58.9,220.5 59.8,221.3 60.9,223.0 61.4,224.7 61.5,226.4 61.0,229.0 59.5,231.5 56.5,234.1 54.6,234.6 52.9,234.3 51.0,233.3 49.9,231.5 49.7,229.8 49.9,228.1 51.0,225.6 52.9,222.0 54.3,220.5ZM55.4,221.3 54.3,222.2 52.9,224.3 51.3,227.6 50.7,229.8 50.9,231.5 51.4,232.4 52.9,233.5 54.6,233.9 56.3,233.3 58.7,230.7 59.8,229.0 60.4,226.4 60.0,223.9 58.8,221.9 57.1,221.1 55.4,221.3ZM54.4,251.1 56.3,250.5 58.0,250.8 59.6,251.7 60.5,252.5 61.1,253.7 61.5,256.2 61.3,257.9 60.8,259.6 58.7,263.1 57.2,264.8 56.3,265.5 54.6,266.0 52.9,265.7 51.3,264.6 50.2,263.1 49.7,260.5 50.0,257.9 51.1,255.4 52.6,252.8 54.4,251.1ZM55.4,251.7 54.0,252.8 52.9,254.4 51.3,257.6 50.7,259.6 50.8,261.3 51.4,263.1 52.1,264.0 53.8,264.9 55.5,264.7 57.1,263.2 59.4,259.6 60.3,257.1 60.2,254.5 59.4,252.8 58.4,252.0 57.1,251.5 55.4,251.7ZM55.0,286.0 56.3,285.7 57.1,285.8 58.8,286.4 59.6,287.1 61.0,289.4 61.4,291.2 61.5,292.9 60.9,295.4 58.7,298.8 56.3,301.0 54.6,301.5 52.1,300.8 50.7,299.7 49.9,298.0 49.7,296.3 50.1,293.7 51.6,290.3 53.1,287.7 53.8,286.9 55.0,286.0ZM55.4,287.2 54.6,287.8 53.4,289.4 51.3,293.6 50.7,295.4 50.7,297.1 51.3,298.8 52.1,299.8 53.8,300.6 55.4,300.4 57.3,298.8 59.6,295.4 60.4,292.9 60.2,290.3 59.6,289.0 58.8,287.9 57.1,287.0 55.4,287.2ZM54.2,319.2 55.4,318.6 56.3,318.5 58.0,318.8 59.6,319.7 60.5,320.5 61.1,321.8 61.5,324.4 61.3,326.1 60.7,327.8 58.5,331.2 56.3,333.2 55.0,333.7 53.8,333.8 52.1,333.3 50.7,332.0 50.0,330.3 49.7,327.8 50.0,326.1 51.0,323.5 52.5,321.0 54.2,319.2ZM55.5,319.7 53.9,321.0 52.9,322.4 51.3,325.6 50.7,327.8 50.8,329.5 51.4,331.2 52.1,332.0 53.8,332.8 55.4,332.5 57.1,331.2 59.4,327.8 60.3,325.2 60.2,322.7 59.5,321.0 58.6,320.1 57.1,319.5 55.5,319.7Z" fill="#00daff" fill-rule="evenodd"/>
<path d="M55.8,218.8 58.0,218.7 58.8,218.9 59.6,219.3 60.8,220.5 61.9,222.2 62.4,223.9 62.7,227.3 62.1,229.8 61.1,231.5 60.2,232.4 56.4,235.0 54.6,235.3 50.9,234.1 49.6,233.3 48.7,231.5 48.5,229.0 49.5,225.6 52.3,220.5 53.8,219.2 55.8,218.8ZM54.6,220.3 53.8,220.9 52.9,222.0 51.0,225.6 49.9,228.1 49.7,229.8 49.9,231.5 51.0,233.3 52.9,234.3 54.6,234.6 56.5,234.1 59.5,231.5 61.0,229.0 61.5,226.4 61.2,223.9 60.4,222.2 59.6,221.1 58.8,220.4 57.1,219.9 54.6,220.3ZM54.1,250.3 55.5,249.7 56.3,249.6 60.7,251.1 61.6,252.0 62.1,252.8 62.6,254.5 62.8,256.2 62.7,257.9 62.2,259.6 60.4,263.1 59.0,264.8 57.1,266.2 56.3,266.6 54.6,267.0 52.3,266.5 50.4,265.4 49.8,264.8 49.0,263.1 48.5,260.5 48.9,257.1 50.0,254.5 51.8,252.0 54.1,250.3ZM54.6,251.0 52.6,252.8 51.1,255.4 50.0,257.9 49.7,260.5 50.2,263.1 51.3,264.6 52.9,265.7 54.6,266.0 56.3,265.5 57.2,264.8 58.7,263.1 60.8,259.6 61.3,257.9 61.5,256.2 61.1,253.7 60.5,252.5 59.6,251.7 57.1,250.6 55.5,250.6 54.6,251.0ZM54.0,285.2 55.4,284.6 57.1,284.7 58.9,285.2 60.4,286.0 61.7,287.7 62.7,291.2 62.6,294.6 62.0,296.3 61.1,298.0 58.6,300.5 57.1,301.6 55.4,302.3 52.9,302.0 51.3,301.4 50.0,300.5 48.9,298.8 48.5,297.1 48.6,294.6 49.7,291.2 52.0,286.9 54.0,285.2ZM55.4,285.8 53.8,286.9 52.6,288.6 50.4,292.9 49.7,295.4 49.9,298.0 50.7,299.7 52.1,300.8 54.6,301.5 56.3,301.0 58.7,298.8 60.9,295.4 61.5,292.9 61.4,291.2 61.0,289.4 59.6,287.1 58.0,286.0 56.3,285.7 55.4,285.8ZM54.0,318.4 55.4,317.7 56.3,317.6 59.0,318.4 60.8,319.2 61.7,320.1 62.1,321.0 62.6,322.7 62.8,324.4 62.5,326.9 61.9,328.6 59.5,332.0 57.1,333.9 55.4,334.6 53.8,334.8 52.1,334.6 51.3,334.2 49.9,332.9 48.8,330.3 48.5,327.8 48.9,325.2 50.4,321.8 51.6,320.1 54.0,318.4ZM54.6,319.0 53.2,320.1 51.5,322.7 50.2,325.2 49.7,327.8 50.0,330.3 50.7,332.0 52.1,333.3 53.8,333.8 55.0,333.7 56.3,333.2 58.5,331.2 60.7,327.8 61.3,326.1 61.5,324.4 61.1,321.8 60.5,320.5 59.6,319.7 57.1,318.6 55.4,318.6 54.6,319.0Z" fill="#05f0c2" fill-rule="evenodd"/>
<path d="M52.4,217.9 55.4,217.8 58.8,217.3 61.3,218.3 63.0,220.2 63.0,232.5 55.5,235.9 53.8,235.8 48.6,234.1 47.9,233.6 47.9,224.0 50.3,219.6 51.1,218.8 52.4,217.9ZM56.3,218.7 53.8,219.2 52.3,220.5 49.5,225.6 48.5,229.0 48.7,231.5 49.6,233.3 50.9,234.1 54.6,235.3 56.4,235.0 60.2,232.4 61.1,231.5 62.1,229.8 62.7,227.3 62.4,223.9 61.9,222.2 60.8,220.5 59.6,219.3 58.8,218.9 56.3,218.7ZM54.1,249.4 55.5,248.8 56.3,248.8 59.6,249.8 61.9,250.3 63.0,250.8 63.0,263.3 61.8,264.8 60.5,265.6 57.1,267.4 55.4,267.8 53.8,267.7 49.5,266.5 47.9,265.1 47.9,254.1 48.5,252.8 49.6,251.6 54.1,249.4ZM54.6,250.0 52.8,251.1 51.0,252.8 49.2,256.2 48.5,259.6 48.7,262.2 49.8,264.8 50.7,265.6 52.1,266.4 54.6,267.0 56.3,266.6 57.1,266.2 59.0,264.8 60.4,263.1 62.2,259.6 62.7,257.9 62.8,256.2 62.6,254.5 62.1,252.8 61.6,252.0 60.7,251.1 56.3,249.6 54.6,250.0ZM53.2,284.3 55.4,283.5 56.3,283.5 61.3,284.8 62.2,285.2 63.0,286.1 63.0,299.1 61.2,300.5 57.1,302.5 55.4,303.1 53.8,302.9 49.6,301.7 47.9,300.6 47.9,290.0 50.0,286.0 51.2,285.2 53.2,284.3ZM54.6,284.9 52.8,286.0 51.5,287.7 49.0,292.9 48.5,296.3 48.9,298.8 50.0,300.5 52.1,301.7 54.6,302.3 55.6,302.2 57.1,301.6 60.4,298.8 62.0,296.3 62.6,294.6 62.8,292.9 62.3,289.4 61.7,287.7 60.5,286.2 58.9,285.2 57.1,284.7 55.4,284.6 54.6,284.9ZM53.9,317.5 55.4,316.8 56.3,316.8 62.2,318.4 63.0,318.9 63.0,331.3 61.6,332.9 58.3,334.6 54.6,335.7 52.1,335.9 49.6,335.1 47.9,333.2 47.9,322.1 49.0,320.1 49.6,319.6 53.9,317.5ZM54.6,318.0 52.7,319.2 51.0,321.0 49.2,324.4 48.6,326.9 48.6,329.5 49.4,332.0 50.6,333.7 52.1,334.6 52.9,334.8 55.4,334.6 57.5,333.7 58.7,332.9 60.3,331.2 61.9,328.6 62.5,326.9 62.7,325.2 62.4,321.8 61.7,320.1 60.8,319.2 57.1,317.8 55.4,317.7 54.6,318.0Z" fill="#0df070" fill-rule="evenodd"/>
<path d="M47.9,202.6 48.1,202.6 48.5,207.7 47.9,210.2 47.9,202.6ZM53.4,202.6 63.0,202.6 63.0,210.1 61.8,208.6 60.6,207.7 56.3,206.2 55.4,205.6 53.4,202.6ZM47.9,213.7 49.6,215.1 53.8,216.6 55.5,216.8 58.0,215.6 61.3,214.9 62.2,214.4 63.0,213.6 63.0,220.2 61.9,218.8 59.6,217.4 58.0,217.3 55.4,217.8 52.9,217.8 51.3,218.6 50.3,219.6 47.9,224.0 47.9,213.7ZM61.4,233.3 63.0,232.5 63.0,234.9 62.2,234.6 60.5,234.5 55.4,236.6 50.4,235.4 47.9,235.7 47.9,233.6 48.6,234.1 53.8,235.8 55.5,235.9 56.3,235.7 59.6,233.9 61.4,233.3ZM47.9,248.6 49.6,249.4 51.3,249.7 52.9,249.2 55.4,247.9 56.3,247.9 58.8,248.9 60.5,249.2 62.2,248.9 63.0,248.5 63.0,250.8 61.9,250.3 59.6,249.8 57.1,249.0 55.4,248.8 49.6,251.6 48.5,252.8 47.9,254.1 47.9,248.6ZM62.6,263.9 63.0,263.3 63.0,267.9 62.2,267.5 60.5,267.3 55.4,268.7 50.4,267.8 47.9,268.5 47.9,265.1 49.5,266.5 53.8,267.7 55.4,267.8 57.1,267.4 60.5,265.6 62.6,263.9ZM47.9,282.6 47.9,282.1 49.6,283.3 51.3,283.7 52.9,283.4 55.5,282.5 59.6,283.4 61.3,283.2 63.0,282.4 63.0,286.1 62.2,285.2 61.3,284.8 57.1,283.7 55.4,283.5 51.2,285.2 50.0,286.0 47.9,290.0 47.9,282.6ZM62.5,299.7 63.0,299.1 63.0,302.6 60.5,302.1 55.4,303.8 50.4,302.8 47.9,303.2 47.9,300.6 49.6,301.7 53.8,302.9 55.4,303.1 57.1,302.5 62.5,299.7ZM47.9,316.7 47.9,316.4 49.6,317.4 51.3,317.7 52.9,317.2 55.4,315.9 56.3,315.9 58.8,316.9 60.5,317.2 62.2,316.9 63.0,316.5 63.0,318.9 62.2,318.4 57.1,317.0 55.5,316.8 50.1,319.2 49.0,320.1 47.9,322.1 47.9,316.7ZM62.4,332.0 63.0,331.3 63.0,337.3 61.3,335.9 59.6,335.6 58.0,335.8 52.1,337.5 51.2,338.0 50.6,338.8 50.5,339.7 50.8,340.5 52.1,341.9 55.5,343.7 58.8,346.2 60.5,346.6 61.3,346.5 62.2,346.3 63.0,345.6 63.0,349.9 47.9,349.9 47.9,333.2 49.6,335.1 51.3,335.8 52.9,335.9 55.4,335.5 58.3,334.6 60.3,333.7 62.4,332.0Z" fill="#14f01e" fill-rule="evenodd"/>
<path d="M48.1,202.6 49.3,202.6 49.3,205.2 50.6,212.0 51.5,213.7 52.9,215.0 54.6,215.9 55.4,215.8 56.3,215.4 57.0,214.5 58.3,212.0 58.2,211.1 55.4,207.9 52.1,202.6 53.4,202.6 54.6,204.6 56.3,206.2 59.6,207.2 62.2,208.9 63.0,210.1 62.9,213.7 62.1,214.5 61.3,214.9 58.0,215.6 55.5,216.8 53.8,216.6 50.3,215.4 48.7,214.6 47.9,213.5 47.9,210.2 48.5,207.7 48.1,202.6ZM59.1,235.0 61.3,234.5 63.0,234.9 63.0,236.4 62.2,235.8 60.5,235.3 58.8,235.7 56.3,237.0 55.4,237.2 50.4,236.0 48.7,236.5 47.9,237.2 47.9,235.7 48.7,235.4 51.3,235.5 53.8,236.3 55.4,236.6 56.3,236.4 59.1,235.0ZM47.9,246.9 47.9,246.2 49.6,248.2 51.3,248.8 52.9,248.4 55.4,247.1 56.3,247.1 58.8,248.2 60.5,248.4 62.1,247.7 63.0,246.8 63.0,248.5 62.2,248.9 60.5,249.2 58.8,248.9 56.3,247.9 55.4,247.9 52.1,249.5 50.4,249.7 48.7,249.1 47.9,248.4 47.9,246.9ZM60.4,267.3 62.2,267.5 63.0,267.9 63.0,269.7 62.2,269.0 60.5,268.4 58.8,268.5 55.5,269.5 51.3,268.7 49.6,269.0 47.9,270.3 47.9,268.5 49.6,267.9 51.3,267.9 55.5,268.7 60.4,267.3ZM47.9,280.1 47.9,279.7 49.6,281.9 51.3,282.6 52.9,282.5 55.4,281.4 56.3,281.5 58.8,282.5 60.5,282.4 61.8,281.8 63.0,280.5 63.0,282.4 62.2,282.9 60.5,283.4 58.8,283.3 56.3,282.5 55.4,282.5 52.1,283.6 50.4,283.6 48.7,282.8 47.9,282.1 47.9,280.1ZM59.8,302.2 61.3,302.1 63.0,302.6 63.0,304.2 62.2,303.6 60.5,303.0 58.8,303.3 56.3,304.4 55.5,304.5 52.1,303.7 50.4,303.5 49.1,303.9 47.9,304.9 47.9,303.2 48.7,302.9 51.3,302.9 55.4,303.8 59.8,302.2ZM47.9,315.0 47.9,314.2 49.6,316.2 51.3,316.8 52.9,316.4 55.4,315.1 56.3,315.1 58.8,316.2 60.5,316.4 61.9,315.8 63.0,314.8 63.0,316.5 62.2,316.9 60.5,317.2 58.8,316.9 56.3,315.9 55.5,315.9 52.1,317.5 50.4,317.7 48.7,317.1 47.9,316.4 47.9,315.0ZM55.8,336.3 58.8,335.7 60.5,335.7 62.0,336.3 63.0,337.3 63.0,345.6 62.2,346.3 60.5,346.6 58.8,346.2 55.5,343.7 52.1,341.9 50.8,340.5 50.5,339.7 50.6,338.8 51.2,338.0 52.9,337.1 55.8,336.3ZM57.1,336.9 54.6,338.0 53.9,338.8 53.9,339.7 54.4,340.5 58.0,344.2 59.6,345.1 61.3,345.0 62.2,344.4 62.8,343.1 62.9,341.4 62.2,339.2 61.3,338.0 60.1,337.1 58.8,336.8 57.1,336.9Z" fill="#68f217" fill-rule="evenodd"/>
<path d="M49.3,202.6 52.1,202.6 55.4,207.9 58.2,211.1 58.3,212.0 57.5,213.7 56.3,215.3 55.4,215.8 54.6,215.9 52.9,215.0 51.0,212.8 50.0,209.4 49.3,205.2 49.3,202.6ZM50.4,203.0 50.0,204.3 50.1,206.0 50.7,209.4 51.5,212.0 52.6,213.7 53.8,214.7 54.6,215.0 55.4,214.8 56.2,213.7 56.4,212.8 55.9,210.3 54.1,206.9 52.1,203.7 51.3,203.0 50.4,203.0ZM58.7,235.8 60.5,235.3 62.2,235.8 63.0,236.4 63.0,237.8 62.0,236.7 60.5,236.1 58.8,236.4 57.1,237.3 55.4,237.8 52.1,236.8 50.4,236.7 48.8,237.5 47.9,239.0 47.9,237.2 49.6,236.1 51.3,236.1 55.5,237.2 56.3,237.0 58.7,235.8ZM47.9,243.5 47.9,242.9 48.5,245.2 49.4,246.9 50.4,247.7 51.3,248.0 52.7,247.7 54.6,246.5 55.4,246.2 57.1,246.6 58.8,247.5 60.5,247.7 61.8,246.9 62.4,246.0 63.0,244.7 63.0,246.8 62.1,247.7 60.5,248.4 58.8,248.2 56.3,247.1 55.4,247.1 52.9,248.4 51.3,248.8 49.6,248.2 48.3,246.9 47.9,246.2 47.9,243.5ZM49.5,269.0 51.3,268.7 55.4,269.5 58.8,268.5 60.5,268.4 62.2,269.0 63.0,269.7 63.0,271.2 61.9,269.9 60.5,269.2 58.8,269.3 56.3,270.3 55.5,270.3 51.3,269.4 49.6,269.9 48.7,270.7 47.9,272.2 47.9,270.3 49.5,269.0ZM47.9,276.7 48.3,278.4 49.1,280.1 50.4,281.4 51.3,281.8 52.9,281.6 55.5,280.4 56.3,280.4 58.8,281.6 60.5,281.6 61.3,281.1 62.2,280.2 63.0,278.3 63.0,280.5 61.8,281.8 60.5,282.4 58.8,282.5 56.3,281.5 55.4,281.4 52.9,282.5 51.3,282.6 49.6,281.9 48.1,280.1 47.9,276.7ZM60.0,303.1 61.3,303.2 62.7,303.9 63.0,304.2 63.0,305.7 62.2,304.6 60.5,303.8 58.8,304.0 56.3,305.1 55.4,305.2 51.3,304.2 50.4,304.2 49.3,304.8 48.4,305.6 47.9,306.8 47.9,304.9 49.6,303.7 51.3,303.5 55.5,304.5 60.0,303.1ZM47.9,311.6 47.9,311.0 48.5,313.3 49.5,315.0 50.4,315.7 51.3,316.0 52.4,315.8 55.4,314.2 57.1,314.6 58.8,315.5 60.5,315.7 61.3,315.3 62.2,314.4 63.0,312.7 63.0,314.8 61.9,315.8 60.5,316.4 58.8,316.2 56.3,315.1 55.4,315.1 52.9,316.4 51.3,316.8 49.6,316.2 48.4,315.0 47.9,314.2 47.9,311.6ZM56.3,337.1 58.0,336.8 59.6,336.9 60.5,337.3 62.0,338.8 62.7,340.5 62.9,342.2 62.5,343.9 61.7,344.8 60.5,345.2 58.8,344.7 57.7,343.9 54.4,340.5 53.9,339.7 53.9,338.8 54.6,338.0 56.3,337.1ZM58.0,337.8 57.1,338.0 56.1,338.8 55.9,339.7 56.6,341.4 57.9,343.1 58.8,343.8 60.5,344.3 61.2,343.9 61.9,343.1 62.1,342.2 61.8,340.5 61.4,339.7 60.5,338.5 59.6,338.0 58.0,337.8Z" fill="#bbf40f" fill-rule="evenodd"/>
<path d="M50.2,203.5 50.4,203.0 51.3,203.0 52.1,203.7 54.1,206.9 55.9,210.3 56.4,212.8 56.2,213.7 55.4,214.8 54.6,215.0 53.8,214.7 52.6,213.7 51.5,212.0 50.9,210.3 50.2,206.9 50.0,205.2 50.2,203.5ZM51.3,204.1 50.6,205.2 50.6,206.0 51.5,210.3 52.9,213.1 53.8,213.9 54.6,214.1 55.2,213.7 55.6,212.8 55.2,210.3 52.9,205.8 52.1,204.7 51.3,204.1ZM58.3,236.7 59.6,236.1 61.3,236.3 62.2,236.8 63.0,237.8 63.0,244.7 62.2,246.4 61.3,247.3 60.5,247.7 58.8,247.5 57.1,246.6 55.4,246.2 52.1,248.0 50.4,247.7 48.9,246.0 48.2,244.3 47.9,242.9 47.9,239.0 48.1,238.4 48.8,237.5 50.4,236.7 52.1,236.8 55.4,237.8 56.3,237.7 58.3,236.7ZM50.4,237.4 49.1,238.4 48.5,240.1 49.1,244.3 49.6,245.6 50.4,246.7 51.3,247.1 52.1,247.1 54.6,245.6 55.4,245.4 57.1,245.7 59.6,246.9 60.5,246.8 61.5,246.0 62.2,244.3 62.8,240.1 62.4,238.4 61.3,237.1 60.5,236.8 59.6,236.8 57.1,238.0 55.4,238.4 53.8,238.1 52.1,237.4 50.4,237.4ZM49.6,269.9 50.4,269.5 52.1,269.4 55.4,270.3 59.6,269.2 61.3,269.5 62.2,270.1 63.0,271.2 63.0,278.3 62.2,280.1 61.5,280.9 60.5,281.6 59.6,281.8 58.8,281.6 56.3,280.4 55.5,280.4 52.1,281.8 51.3,281.8 49.8,280.9 48.7,279.2 47.9,276.6 47.9,272.2 48.7,270.7 49.6,269.9ZM50.4,270.3 49.0,271.6 48.6,272.4 48.5,274.1 49.2,278.4 50.4,280.4 51.3,280.9 52.1,281.0 54.6,279.6 55.5,279.4 56.3,279.4 58.8,280.8 59.6,280.9 60.5,280.7 61.2,280.1 62.1,278.4 62.8,274.1 62.7,272.4 61.7,270.7 60.5,270.0 59.6,269.9 56.3,271.1 55.4,271.1 52.1,270.1 50.4,270.3ZM59.3,303.9 60.5,303.8 61.3,304.1 62.3,304.8 63.0,305.7 63.0,312.7 62.2,314.4 61.3,315.3 59.6,315.7 56.3,314.3 54.6,314.5 52.1,316.0 50.8,315.8 49.6,315.0 48.5,313.3 47.9,311.0 47.9,306.8 48.7,305.3 50.4,304.2 52.1,304.3 55.5,305.2 56.3,305.1 59.3,303.9ZM58.8,304.8 56.3,305.8 54.6,305.8 51.3,304.8 50.4,305.0 49.4,305.6 48.6,307.3 48.5,309.0 49.4,313.3 50.4,314.7 51.3,315.1 52.1,315.1 54.6,313.6 55.4,313.4 57.1,313.7 59.6,314.9 60.5,314.8 61.4,314.1 62.2,312.4 62.8,309.0 62.8,307.3 62.2,305.8 61.3,305.0 60.5,304.6 58.8,304.8ZM57.2,338.0 58.8,337.8 59.6,338.0 60.5,338.5 61.3,339.5 61.8,340.5 62.1,342.2 61.9,343.1 61.3,343.9 60.5,344.3 59.6,344.2 58.8,343.8 57.2,342.2 55.9,339.7 56.1,338.8 57.2,338.0ZM58.8,338.8 58.0,338.9 57.3,339.7 57.6,341.4 58.8,343.0 59.6,343.4 60.5,343.4 61.4,342.2 61.1,340.5 60.5,339.6 59.6,339.0 58.8,338.8Z" fill="#fadf09" fill-rule="evenodd"/>
<path d="M51.1,204.3 51.3,204.1 52.1,204.7 52.9,205.8 55.2,210.3 55.6,212.8 55.2,213.7 54.6,214.1 53.8,213.9 52.9,213.1 51.8,211.1 50.7,206.9 50.6,205.2 51.1,204.3ZM51.3,205.8 51.2,207.7 52.1,210.7 52.9,212.2 53.8,213.0 54.6,213.0 54.9,212.0 54.9,211.1 54.0,208.6 52.9,206.6 52.1,205.6 51.3,205.8ZM50.1,237.5 51.3,237.3 55.5,238.4 57.1,238.0 59.6,236.8 60.5,236.8 61.3,237.1 62.4,238.4 62.8,240.1 62.2,244.3 61.5,246.0 60.5,246.8 59.6,246.9 57.1,245.7 55.4,245.4 54.6,245.6 52.1,247.1 51.3,247.1 50.4,246.7 49.4,245.2 48.5,240.9 48.7,239.1 49.1,238.4 50.1,237.5ZM50.4,238.2 49.6,239.2 49.4,240.9 50.4,245.2 51.2,246.0 52.1,246.0 53.8,245.0 55.4,244.6 57.1,244.7 59.6,245.8 60.8,245.2 61.3,243.5 62.0,240.1 61.9,239.2 61.3,238.2 60.5,237.6 59.6,237.6 57.1,238.8 55.4,239.1 53.8,238.8 52.1,238.2 51.3,238.0 50.4,238.2ZM49.7,270.7 51.3,270.1 52.1,270.1 55.4,271.1 56.3,271.1 59.6,269.9 61.3,270.4 62.4,271.6 62.8,273.3 62.2,278.2 61.3,280.0 60.5,280.7 59.6,280.9 58.8,280.8 56.3,279.4 54.6,279.6 52.1,281.0 51.3,280.9 50.4,280.4 49.2,278.4 48.5,274.1 48.6,272.4 49.7,270.7ZM59.6,270.7 56.3,271.9 54.6,271.8 52.1,270.8 51.3,270.8 50.0,271.6 49.5,272.4 49.3,274.1 50.2,278.4 50.6,279.2 51.3,279.8 52.1,279.9 54.6,278.5 56.3,278.4 59.6,279.8 60.5,279.4 61.3,277.6 62.0,273.3 61.3,271.4 60.5,270.9 59.6,270.7ZM58.8,304.8 60.5,304.6 61.3,305.0 62.2,305.8 62.8,307.3 62.8,309.0 62.2,312.4 61.4,314.1 60.5,314.8 59.6,314.9 57.1,313.7 55.4,313.4 54.6,313.6 52.1,315.1 51.3,315.1 50.4,314.7 49.4,313.3 48.5,309.0 48.6,307.3 49.4,305.6 50.4,305.0 51.3,304.8 54.6,305.8 56.3,305.8 58.8,304.8ZM51.3,305.5 50.4,305.8 49.8,306.5 49.3,308.2 50.1,312.4 50.4,313.3 51.3,314.0 52.1,314.0 53.8,313.0 55.4,312.6 57.1,312.7 59.6,313.8 60.7,313.3 61.3,311.6 62.0,308.2 61.9,307.3 61.3,306.0 60.5,305.4 59.6,305.4 57.1,306.4 55.4,306.7 52.1,305.6 51.3,305.5ZM58.3,338.8 59.6,339.0 60.5,339.6 61.1,340.5 61.4,342.2 60.5,343.4 59.6,343.4 58.8,343.0 57.6,341.4 57.3,339.7 58.0,338.9 58.3,338.8ZM58.8,340.0 58.4,340.5 58.8,341.9 59.6,342.5 60.4,342.2 60.6,341.4 60.1,340.5 59.6,340.1 58.8,340.0Z" fill="#fa8605" fill-rule="evenodd"/>
<path d="M51.2,206.0 51.3,205.8 52.1,205.6 52.9,206.6 54.0,208.6 54.9,211.1 54.9,212.0 54.6,213.0 53.8,213.0 52.9,212.2 52.1,210.7 51.2,207.7 51.2,206.0ZM50.2,238.4 51.3,238.0 52.1,238.2 53.8,238.8 55.4,239.1 57.1,238.8 59.6,237.6 60.5,237.6 61.3,238.2 61.9,239.2 62.0,240.1 61.3,243.5 60.8,245.2 59.6,245.8 57.1,244.7 55.4,244.6 53.8,245.0 52.1,246.0 51.2,246.0 50.4,245.2 49.4,240.9 49.6,239.2 50.2,238.4ZM59.6,270.7 60.5,270.9 61.3,271.4 62.0,273.3 61.3,277.6 60.5,279.4 59.6,279.8 56.3,278.4 54.6,278.5 52.1,279.9 51.3,279.8 50.6,279.2 50.2,278.4 49.3,274.1 49.5,272.4 50.0,271.6 51.3,270.8 52.1,270.8 54.6,271.8 56.3,271.9 59.6,270.7ZM50.9,305.6 52.1,305.6 55.5,306.7 57.1,306.4 59.6,305.4 60.8,305.6 61.6,306.5 62.0,308.2 61.3,311.6 60.7,313.3 59.6,313.8 57.1,312.7 55.4,312.6 53.8,313.0 52.1,314.0 51.3,314.0 50.4,313.3 50.1,312.4 49.3,308.2 49.8,306.5 50.9,305.6ZM58.4,340.5 58.8,340.0 59.6,340.1 60.6,341.4 60.4,342.2 59.6,342.5 59.2,342.2 58.5,341.4 58.4,340.5Z" fill="#fa2d02" fill-rule="evenodd"/>
</g>
<path d="M63.0,223.2 61.8,220.5 59.6,218.5 58.0,218.0 53.8,218.5 52.1,219.4 50.7,221.3 48.7,225.6 47.9,228.4M47.9,231.1 48.2,232.4 48.8,233.3 50.1,234.1 53.8,235.4 55.5,235.6 57.1,235.0 61.3,232.4 62.2,231.5 63.0,229.9M63.0,253.2 62.5,252.0 61.3,250.9 57.1,249.4 55.5,249.3 51.9,251.1 50.1,252.8 48.4,256.2 47.9,258.4M47.9,261.5 48.5,263.9 49.7,265.6 51.1,266.5 52.9,267.1 55.4,267.4 57.7,266.5 60.0,264.8 62.0,262.2 63.0,260.0M63.0,289.1 62.1,286.9 61.4,286.0 60.2,285.2 56.3,284.1 54.6,284.4 52.1,285.7 51.0,286.9 48.5,292.0 47.9,294.4M47.9,297.4 48.5,299.7 49.6,300.9 52.7,302.2 55.4,302.6 57.1,302.0 60.7,299.7 62.1,298.0 63.0,296.0M63.0,321.2 62.6,320.1 61.3,318.9 57.1,317.4 55.4,317.3 51.7,319.2 50.7,320.1 49.1,322.7 48.4,324.4 47.9,326.4M47.9,329.5 48.6,332.0 49.6,333.7 51.3,334.9 53.8,335.3 56.8,334.6 59.7,332.9 61.9,330.3 63.0,328.0M54.6,220.1 53.8,220.7 52.9,221.8 50.9,225.6 49.8,228.1 49.6,229.8 49.8,231.5 50.9,233.3 52.4,234.1 54.6,234.7 55.4,234.6 56.6,234.1 59.6,231.5 61.1,229.0 61.6,226.4 61.5,224.7 61.0,223.0 59.6,220.9 58.8,220.3 57.1,219.7 54.6,220.1M54.6,250.9 52.5,252.8 51.0,255.4 49.9,257.9 49.6,260.5 50.1,263.1 51.2,264.8 52.9,265.8 54.6,266.1 56.3,265.6 57.4,264.8 58.8,263.1 60.9,259.6 61.4,257.9 61.6,256.2 61.2,253.7 60.5,252.4 59.6,251.6 57.1,250.5 55.4,250.5 54.6,250.9M55.5,285.7 53.8,286.7 52.4,288.6 50.3,292.9 49.6,295.4 49.8,298.0 50.6,299.7 52.1,300.9 54.6,301.6 56.3,301.1 57.2,300.5 58.9,298.8 61.0,295.4 61.6,292.9 61.5,291.2 61.1,289.4 59.6,286.9 58.0,285.9 56.3,285.6 55.5,285.7M56.3,318.4 54.6,318.9 52.9,320.3 50.9,323.5 49.9,326.1 49.6,328.6 50.2,331.2 51.3,332.9 52.9,333.8 55.4,333.7 57.1,332.8 59.9,329.5 60.8,327.8 61.4,326.1 61.6,323.5 60.9,321.0 60.3,320.1 59.1,319.2 56.3,318.4M55.4,221.7 54.6,222.3 53.8,223.5 51.7,227.3 51.1,229.0 51.0,230.7 51.3,231.6 52.1,232.7 53.8,233.6 55.4,233.5 56.9,232.4 58.9,229.8 60.0,227.3 60.0,224.7 59.6,223.7 58.8,222.4 57.1,221.4 55.4,221.7M56.3,251.8 55.4,252.0 54.6,252.6 53.8,253.6 51.8,257.1 51.1,258.8 51.0,260.5 51.3,262.2 52.1,263.6 52.9,264.2 53.8,264.5 55.4,264.3 56.8,263.1 59.1,259.6 60.0,257.1 59.9,254.5 59.0,252.8 58.0,252.1 56.3,251.8M55.4,287.6 53.8,289.5 51.5,293.7 51.0,295.4 51.0,297.1 51.6,298.8 52.4,299.7 53.8,300.3 55.4,300.1 57.0,298.8 59.2,295.4 60.1,292.9 59.9,290.3 58.8,288.4 58.0,287.7 57.1,287.4 55.4,287.6M55.4,320.0 54.3,321.0 52.9,323.0 51.4,326.1 51.0,327.8 51.1,329.5 51.8,331.2 52.9,332.2 53.8,332.5 55.4,332.2 56.7,331.2 59.0,327.8 60.0,325.2 59.9,322.7 59.1,321.0 58.0,320.1 57.1,319.8 55.4,320.0M56.3,223.7 55.4,224.2 54.6,225.4 52.7,229.0 52.6,230.7 53.1,231.5 53.8,232.0 54.6,232.1 55.6,231.5 57.1,229.6 58.3,227.3 58.4,225.6 58.2,224.7 57.1,223.7 56.3,223.7M55.4,254.3 53.2,257.9 52.6,259.6 52.7,261.3 53.8,262.5 54.6,262.5 55.4,262.0 57.1,259.6 58.3,257.1 58.4,255.4 58.0,254.4 57.1,253.7 56.3,253.7 55.4,254.3M55.4,290.2 53.8,292.9 52.6,295.4 52.6,297.1 53.1,298.0 53.8,298.4 54.6,298.5 55.4,298.0 56.2,297.1 57.7,294.6 58.4,292.9 58.3,291.2 58.0,290.3 57.1,289.6 56.3,289.6 55.4,290.2M56.3,321.7 55.4,322.3 54.6,323.4 52.7,326.9 52.5,328.6 52.7,329.5 53.8,330.5 54.6,330.5 55.9,329.5 57.5,326.9 58.3,325.2 58.4,323.5 58.1,322.7 57.1,321.7 56.3,321.7" fill="none" stroke="#04203a" stroke-width="0.3" stroke-opacity="0.3"/>
<path d="M53.7,202.6 55.4,205.1 56.3,205.5 60.5,206.7 63.0,208.4M47.9,208.2 48.1,206.9 47.9,203.4M63.0,214.9 61.3,215.5 58.0,215.9 55.4,217.0 49.6,215.9 47.9,215.1M47.9,235.4 50.4,235.3 54.6,236.4 55.4,236.5 56.3,236.3 59.6,234.6 61.3,234.3 63.0,234.6M63.0,248.8 61.3,249.2 59.6,249.2 56.3,248.1 55.5,248.1 52.1,249.7 50.4,249.9 49.6,249.7 47.9,248.9M47.9,268.1 50.4,267.7 55.4,268.6 60.5,267.1 63.0,267.5M63.0,282.8 61.3,283.4 59.6,283.5 55.4,282.6 52.9,283.6 51.3,283.9 49.6,283.6 47.9,282.6M47.9,302.9 50.4,302.7 55.5,303.7 60.5,301.9 62.2,302.0 63.0,302.3M63.0,316.7 61.3,317.3 59.6,317.2 56.3,316.1 55.4,316.1 52.1,317.7 50.4,317.9 49.1,317.5 47.9,316.9M63.0,346.2 62.2,346.7 60.5,347.0 58.0,346.1 55.0,343.9 51.3,342.0 49.9,340.5 49.7,339.7 49.7,338.8 50.3,338.0 51.3,337.5 57.1,335.8 60.5,335.4 62.2,335.9 63.0,336.4M52.6,202.6 55.4,207.0 56.3,207.9 59.2,209.4 60.1,210.3 60.6,211.1 60.6,212.0 60.3,212.8 56.3,215.9 55.4,216.3 53.8,216.0 52.6,215.4 50.6,213.7 50.1,212.8 49.7,211.1 48.8,202.6M47.9,236.5 48.7,236.0 50.4,235.7 55.4,236.9 56.4,236.7 58.8,235.4 60.5,235.0 62.2,235.3 63.0,235.7M63.0,247.5 62.2,248.2 60.5,248.8 58.8,248.6 56.3,247.5 55.4,247.5 52.9,248.8 51.3,249.2 49.6,248.7 47.9,247.2M47.9,269.5 48.7,268.9 50.4,268.3 52.1,268.4 55.4,269.2 58.8,268.1 60.5,267.9 62.2,268.4 63.0,268.9M63.0,281.3 62.2,282.1 60.5,282.9 58.8,282.8 56.3,281.9 55.4,281.9 52.9,282.9 51.3,283.1 49.6,282.5 47.9,280.8M47.9,304.1 48.7,303.6 50.4,303.2 55.4,304.2 56.3,304.0 58.8,302.9 60.5,302.6 61.3,302.7 63.0,303.5M63.0,315.6 62.2,316.2 60.5,316.8 58.8,316.6 56.3,315.5 55.4,315.5 52.9,316.8 51.3,317.2 49.5,316.7 47.9,315.2M63.0,344.1 62.2,345.2 61.3,345.6 60.5,345.7 58.8,345.3 53.0,340.5 52.5,339.7 52.5,338.8 53.2,338.0 56.3,336.7 58.8,336.3 60.5,336.6 61.3,337.1 62.2,338.0 63.0,339.8M51.8,202.6 56.9,210.3 57.6,212.0 56.7,214.5 55.4,215.6 54.6,215.7 52.6,214.5 51.8,213.7 50.9,212.0 49.7,206.9 49.4,204.3 49.5,202.6M47.9,237.5 48.8,236.7 50.4,236.2 55.4,237.3 57.1,236.8 58.8,235.9 60.5,235.5 61.8,235.8 63.0,236.7M63.0,246.4 61.8,247.7 60.5,248.2 58.8,248.1 56.3,246.9 55.4,246.9 52.9,248.2 51.3,248.6 50.4,248.4 49.3,247.7 47.9,245.6M47.9,270.6 49.6,269.2 51.3,268.8 55.4,269.7 58.8,268.7 60.5,268.5 61.8,269.0 63.0,270.0M63.0,280.1 62.2,281.2 60.5,282.2 58.8,282.3 56.3,281.2 55.5,281.2 52.9,282.3 51.3,282.4 49.6,281.6 47.9,279.2M47.9,305.2 48.7,304.4 50.4,303.7 52.1,303.8 55.4,304.6 59.6,303.2 61.3,303.4 63.0,304.5M63.0,314.4 62.2,315.4 60.5,316.3 58.8,316.1 56.3,314.9 55.4,314.9 52.9,316.2 51.3,316.6 49.5,315.8 47.9,313.6M57.1,337.1 58.8,337.0 59.6,337.2 60.5,337.6 61.7,338.8 62.5,340.5 62.7,342.2 62.2,343.9 61.3,344.7 60.5,345.0 59.6,344.9 58.0,343.9 54.9,340.5 54.4,339.7 54.4,338.8 55.1,338.0 57.1,337.1M50.1,203.5 50.4,202.8 51.3,202.9 52.1,203.6 54.2,206.9 56.0,210.3 56.5,212.8 56.3,213.7 55.4,214.9 54.6,215.1 53.8,214.8 52.5,213.7 51.5,212.0 50.8,210.3 50.1,206.9 49.9,205.2 50.1,203.5M47.9,238.8 48.7,237.4 50.4,236.6 52.1,236.8 55.4,237.7 57.1,237.3 58.8,236.4 60.5,236.0 62.1,236.7 63.0,237.7M63.0,244.9 61.9,246.9 60.5,247.7 58.8,247.6 57.1,246.6 55.5,246.3 54.6,246.6 52.9,247.7 51.3,248.1 50.4,247.8 49.3,246.9 48.4,245.2 47.9,243.4M47.9,272.0 48.6,270.7 49.5,269.9 51.3,269.3 55.4,270.2 56.3,270.2 58.8,269.2 60.5,269.1 62.0,269.9 63.0,271.0M63.0,278.6 62.2,280.3 61.3,281.2 60.5,281.7 58.8,281.7 56.3,280.5 55.4,280.5 52.9,281.7 51.3,281.9 50.4,281.5 49.0,280.1 47.9,277.0M47.9,306.5 49.2,304.8 50.4,304.2 51.3,304.1 55.4,305.1 56.3,305.0 58.8,304.0 60.5,303.8 62.2,304.5 63.0,305.5M63.0,312.9 62.5,314.1 61.8,315.0 60.5,315.7 58.8,315.6 57.1,314.6 55.4,314.3 52.6,315.8 51.3,316.1 50.4,315.8 49.4,315.0 48.4,313.3 47.9,311.4M56.9,338.0 58.0,337.7 59.6,337.9 60.5,338.4 61.3,339.4 61.9,340.5 62.2,342.2 62.0,343.1 61.3,344.0 60.5,344.3 59.6,344.3 58.0,343.2 57.1,342.2 55.8,339.7 55.9,338.8 56.9,338.0M50.4,204.3 51.3,203.7 52.1,204.3 53.3,206.0 55.1,209.4 55.7,211.1 55.9,212.8 55.4,214.0 54.6,214.5 53.8,214.2 52.9,213.5 51.5,211.1 50.6,207.7 50.4,204.3M63.0,242.0 62.3,245.2 61.3,246.7 60.5,247.2 59.6,247.3 58.8,247.0 57.1,246.0 55.4,245.7 54.6,246.0 52.1,247.5 51.3,247.5 50.1,246.9 49.0,245.2 48.2,240.9 48.3,239.2 48.7,238.4 49.5,237.5 50.4,237.1 52.1,237.2 55.4,238.2 57.1,237.7 59.3,236.7 60.5,236.5 61.3,236.8 62.2,237.4 63.0,239.0M63.0,275.6 62.2,279.2 61.3,280.4 60.5,281.1 59.6,281.3 58.8,281.1 56.3,279.8 55.5,279.8 54.6,280.0 52.9,281.1 52.1,281.3 51.3,281.3 50.4,280.8 49.2,279.2 48.6,277.5 48.1,274.1 48.3,272.4 48.7,271.4 49.6,270.4 51.3,269.8 55.4,270.8 56.3,270.7 58.8,269.8 60.5,269.7 62.1,270.7 63.0,272.4M63.0,310.0 62.3,313.3 61.3,314.7 60.5,315.2 58.8,315.0 57.1,314.0 55.4,313.8 54.6,314.0 52.1,315.5 51.3,315.5 50.2,315.0 49.0,313.3 48.4,310.7 48.1,308.2 48.5,306.5 49.0,305.6 50.2,304.8 51.3,304.5 55.4,305.6 57.1,305.2 58.8,304.5 60.5,304.3 61.3,304.6 62.2,305.3 63.0,307.0M57.2,338.8 58.0,338.4 58.8,338.4 60.5,339.2 61.3,340.4 61.7,341.4 61.7,342.2 61.3,343.2 60.5,343.7 59.6,343.7 58.8,343.3 58.0,342.5 56.9,340.5 56.8,339.7 57.2,338.8M50.9,205.2 51.3,204.5 52.1,204.9 53.4,206.9 54.7,209.4 55.4,212.0 55.3,212.8 54.6,213.8 53.8,213.7 52.9,212.9 51.9,211.1 50.9,207.7 50.9,205.2M50.9,237.5 52.1,237.6 55.4,238.6 57.1,238.2 59.6,237.0 60.5,237.0 61.5,237.5 62.2,238.4 62.6,240.1 61.9,244.3 61.1,246.0 60.5,246.5 59.6,246.7 57.1,245.4 55.4,245.2 53.8,245.8 52.1,246.8 51.3,246.9 50.4,246.4 49.4,244.3 48.8,240.1 49.4,238.4 50.4,237.6 50.9,237.5M50.1,270.7 51.3,270.3 52.1,270.3 55.4,271.3 56.3,271.3 59.6,270.1 61.3,270.7 62.1,271.6 62.6,273.3 62.0,277.5 61.3,279.5 60.5,280.4 59.6,280.6 58.8,280.5 56.3,279.1 54.6,279.3 52.1,280.7 51.3,280.6 50.4,280.1 49.5,278.4 48.7,274.1 48.9,272.4 49.3,271.6 50.1,270.7M59.6,304.8 60.5,304.8 61.3,305.2 62.2,306.2 62.5,307.3 62.5,309.0 61.9,312.4 61.0,314.1 59.6,314.7 57.1,313.4 55.5,313.2 53.8,313.8 52.1,314.8 51.3,314.9 50.4,314.4 49.4,312.4 48.8,309.0 48.8,307.3 49.6,305.8 50.4,305.2 51.3,305.0 54.6,306.0 56.3,306.0 59.6,304.8M57.7,339.7 58.8,339.1 59.6,339.3 60.5,340.0 61.1,341.4 61.1,342.2 60.5,343.1 59.6,343.2 58.3,342.2 57.6,340.5 57.7,339.7M51.2,206.0 51.3,205.7 52.1,205.6 52.9,206.6 54.0,208.6 54.9,211.1 54.9,212.0 54.6,213.0 53.8,213.0 52.9,212.3 52.1,210.7 51.2,207.7 51.2,206.0M50.2,238.4 51.3,238.0 55.4,239.1 57.1,238.8 59.6,237.6 60.5,237.6 61.3,238.1 61.9,239.2 62.0,240.1 61.3,243.7 60.8,245.2 60.5,245.6 59.6,245.9 57.1,244.7 55.5,244.6 53.8,245.0 52.1,246.0 51.2,246.0 50.4,245.2 49.4,240.9 49.5,239.2 50.2,238.4M59.5,270.7 60.5,270.8 61.3,271.4 61.9,272.4 62.0,273.3 61.3,277.7 60.5,279.5 59.6,279.9 56.3,278.5 54.6,278.6 52.1,279.9 51.3,279.8 50.6,279.2 50.1,278.4 49.3,274.1 49.4,272.4 49.9,271.6 51.3,270.8 52.1,270.8 54.6,271.8 56.3,271.9 59.5,270.7M50.8,305.6 52.1,305.6 55.4,306.6 57.1,306.3 59.6,305.3 60.9,305.6 61.7,306.5 62.0,308.2 61.3,311.8 60.7,313.3 59.6,313.9 57.1,312.7 55.4,312.6 53.8,313.0 52.1,314.0 51.3,314.1 50.4,313.3 50.1,312.4 49.3,308.2 49.7,306.5 50.8,305.6M58.4,340.5 58.8,339.9 59.6,340.1 60.5,341.1 60.5,342.2 59.6,342.5 59.1,342.2 58.5,341.4 58.4,340.5M51.7,206.9 52.1,206.4 52.9,207.2 54.0,209.4 54.5,211.1 54.3,212.0 53.8,212.4 52.9,211.6 52.1,209.9 51.7,207.7 51.7,206.9M59.3,238.4 60.5,238.4 61.2,239.2 61.3,240.1 60.5,243.1 59.6,244.4 55.4,243.9 53.8,244.2 52.1,244.8 51.3,244.6 50.2,240.9 50.1,240.1 50.4,239.1 51.3,238.7 54.6,239.6 56.3,239.6 59.3,238.4M50.9,271.6 52.1,271.4 55.4,272.5 57.1,272.3 59.6,271.3 60.5,271.6 61.2,272.4 61.3,274.1 60.5,277.3 59.9,278.4 59.6,278.6 57.1,277.8 55.4,277.8 53.8,278.0 52.1,278.8 51.3,278.6 50.4,276.1 49.9,273.3 50.1,272.4 50.9,271.6M50.5,306.5 51.3,306.1 52.1,306.2 55.4,307.2 57.1,307.0 59.6,306.0 60.5,306.2 61.3,307.3 61.4,308.2 60.3,311.6 59.6,312.5 57.1,312.0 55.4,312.0 53.8,312.2 52.1,312.8 51.3,312.6 49.9,308.2 50.0,307.3 50.5,306.5" fill="none" stroke="#050505" stroke-width="0.32" stroke-opacity="0.6"/>
<g filter="url(#b1)">
<ellipse cx="49.0" cy="242.5" rx="1.4" ry="6" fill="#060606"/>
<ellipse cx="62.3" cy="242.5" rx="1.4" ry="6" fill="#060606"/>
<ellipse cx="55.5" cy="247.8" rx="5.2" ry="1.5" fill="#060606"/>
<ellipse cx="55.5" cy="236.8" rx="3.5" ry="1.0" fill="#060606"/>
<ellipse cx="49.0" cy="276.0" rx="1.4" ry="6" fill="#060606"/>
<ellipse cx="62.3" cy="276.0" rx="1.4" ry="6" fill="#060606"/>
<ellipse cx="55.5" cy="281.3" rx="5.2" ry="1.5" fill="#060606"/>
<ellipse cx="55.5" cy="270.3" rx="3.5" ry="1.0" fill="#060606"/>
<ellipse cx="49.0" cy="310.5" rx="1.4" ry="6" fill="#060606"/>
<ellipse cx="62.3" cy="310.5" rx="1.4" ry="6" fill="#060606"/>
<ellipse cx="55.5" cy="315.8" rx="5.2" ry="1.5" fill="#060606"/>
<ellipse cx="55.5" cy="304.8" rx="3.5" ry="1.0" fill="#060606"/>
<ellipse cx="51.1" cy="210.5" rx="1.3" ry="4.6" fill="#060606" transform="rotate(-20 51.1 210.5)"/>
<ellipse cx="61.0" cy="213" rx="1.4" ry="4.6" fill="#060606" transform="rotate(-12 61.0 213)"/>
<ellipse cx="49.0" cy="216" rx="1.1" ry="5" fill="#060606"/>
<ellipse cx="52.5" cy="346.8" rx="3.6" ry="2.6" fill="#060606"/>
<ellipse cx="60.8" cy="346.8" rx="2.2" ry="2.2" fill="#060606"/>
<ellipse cx="56" cy="344.4" rx="2.6" ry="1.2" fill="#060606"/>
<ellipse cx="49.0" cy="340" rx="1.0" ry="4" fill="#060606"/>
</g>
</g>
<rect x="47.9" y="202.6" width="15.1" height="147.3" fill="none" stroke="#0a0a0a" stroke-width="1.4"/>
<clipPath id="cp9"><rect x="65.8" y="202.6" width="15.1" height="147.3"/></clipPath>
<g clip-path="url(#cp9)">
<g filter="url(#b05)">
<rect x="65.8" y="202.6" width="15.1" height="147.3" fill="#0000fa"/>
<path d="M70.2,217.9 70.8,217.3 71.7,217.1 72.5,217.4 73.3,218.3 74.2,220.1 74.5,222.2 74.5,224.7 74.1,226.4 73.3,227.7 72.5,228.0 71.7,227.6 70.8,226.8 69.7,224.7 69.3,223.0 69.2,221.2 69.4,219.6 70.2,217.9ZM76.6,238.4 76.7,238.0 76.8,238.4 76.7,239.3 76.6,238.4ZM70.8,290.3 71.7,289.9 72.5,290.2 73.2,291.2 73.4,292.9 73.1,293.7 72.5,294.2 71.7,294.1 70.6,292.9 70.4,291.2 70.8,290.3ZM73.1,328.6 74.2,328.7 74.7,329.5 74.7,330.3 74.4,331.2 73.3,332.1 72.5,331.9 72.1,331.2 72.0,330.3 72.5,329.0 73.1,328.6Z" fill="#002cfb" fill-rule="evenodd"/>
<path d="M70.4,213.7 71.7,213.7 73.9,215.4 75.3,217.1 76.2,219.6 76.6,223.0 76.3,229.8 76.7,231.5 78.4,235.5 79.0,238.4 78.7,241.8 78.4,242.7 77.5,243.5 76.7,243.2 75.9,242.1 75.4,240.9 74.9,239.2 74.1,234.1 73.6,232.4 69.8,228.1 68.8,226.4 67.8,223.9 67.4,220.5 67.9,217.1 69.2,214.5 70.4,213.7ZM70.8,217.3 70.0,218.2 69.4,219.6 69.1,221.3 69.3,223.0 69.7,224.7 70.6,226.4 71.7,227.6 72.5,228.0 73.3,227.7 74.2,226.2 74.6,223.9 74.4,221.3 74.0,219.6 73.0,217.9 72.5,217.4 71.7,217.1 70.8,217.3ZM76.7,238.0 76.7,239.3 76.7,238.0ZM70.8,286.9 71.7,286.8 73.3,287.5 74.4,288.6 75.1,290.3 75.5,292.9 75.2,294.6 74.2,296.1 73.3,296.4 71.7,296.1 70.5,295.4 69.7,294.6 68.7,292.9 68.4,291.2 68.6,289.4 69.5,287.7 70.8,286.9ZM70.8,290.3 70.4,291.2 70.6,292.9 71.7,294.1 72.5,294.2 73.1,293.7 73.4,292.9 73.2,291.2 72.5,290.2 71.7,289.9 70.8,290.3ZM72.5,326.1 73.3,325.9 75.0,326.8 75.9,327.8 76.5,329.5 76.1,331.2 74.2,333.6 73.3,334.0 72.0,333.7 70.9,332.9 70.0,331.2 70.1,329.5 70.7,327.8 71.7,326.5 72.5,326.1ZM73.3,328.5 72.5,329.0 72.0,330.3 72.1,331.2 72.5,331.9 73.3,332.1 74.2,331.5 74.7,330.3 74.7,329.5 74.2,328.7 73.3,328.5Z" fill="#0083fd" fill-rule="evenodd"/>
<path d="M67.3,210.3 68.3,209.4 69.2,209.4 70.0,209.9 77.1,216.2 77.9,217.1 78.9,218.8 79.4,222.2 79.5,229.0 80.9,237.4 80.9,241.8 80.7,243.5 80.1,245.2 79.2,246.2 78.4,246.4 77.5,246.0 75.9,244.3 74.7,241.8 72.6,234.1 71.5,232.4 67.8,228.1 66.1,224.7 65.8,223.7 65.8,213.4 66.3,212.0 67.3,210.3ZM70.8,213.6 70.0,213.8 69.2,214.5 67.9,217.1 67.4,220.5 67.8,223.9 68.8,226.4 69.8,228.1 73.6,232.4 74.1,234.1 74.9,239.2 75.4,240.9 75.9,242.1 76.7,243.2 77.5,243.5 78.4,242.7 78.7,241.8 79.0,238.4 78.4,235.5 76.7,231.5 76.3,229.8 76.6,223.0 76.2,219.6 75.3,217.1 74.2,215.7 72.5,214.2 70.8,213.6ZM69.5,283.5 70.8,283.3 73.3,284.5 75.2,286.0 77.1,288.6 77.9,291.2 77.9,294.6 76.9,297.1 75.9,298.0 75.0,298.2 73.3,298.1 70.9,297.1 68.5,295.4 66.9,293.7 66.5,292.9 66.0,290.3 66.2,287.7 67.5,285.2 68.3,284.2 69.5,283.5ZM70.8,286.9 69.5,287.7 68.6,289.4 68.4,291.2 68.7,292.9 69.7,294.6 70.5,295.4 71.7,296.1 73.3,296.4 74.2,296.1 75.2,294.6 75.5,292.9 75.1,290.3 74.4,288.6 73.3,287.5 72.5,287.0 70.8,286.9ZM70.6,323.5 71.7,323.0 72.5,323.0 74.2,323.9 76.8,326.9 78.1,329.5 78.1,330.3 77.7,331.2 74.2,335.0 73.3,335.2 72.5,335.1 69.7,333.7 68.6,332.9 67.6,331.2 67.5,329.5 68.1,326.9 69.2,324.9 70.6,323.5ZM73.3,325.9 72.5,326.1 71.7,326.5 70.8,327.5 70.3,328.6 70.0,330.3 70.3,332.0 70.9,332.9 72.0,333.7 73.3,334.0 74.2,333.6 76.1,331.2 76.5,329.5 75.9,327.8 75.2,326.9 74.2,326.2 73.3,325.9Z" fill="#00daff" fill-rule="evenodd"/>
<path d="M65.8,202.6 69.9,202.6 69.8,205.2 70.2,206.9 71.0,208.6 72.7,211.1 75.9,213.8 77.5,214.5 79.2,214.5 80.3,213.7 80.9,212.5 80.9,237.4 79.5,229.0 79.4,222.2 78.9,218.8 77.9,217.1 77.1,216.2 70.8,210.6 69.2,209.4 68.3,209.4 67.5,210.0 66.6,211.3 65.8,213.4 65.8,202.6ZM78.2,202.6 80.9,202.6 80.9,208.1 79.9,205.2 78.2,202.6ZM65.8,223.9 66.4,225.6 67.8,228.1 71.5,232.4 72.5,233.9 73.2,235.8 75.0,242.6 76.7,245.3 78.4,246.4 79.5,246.0 80.5,244.3 80.9,241.8 80.9,274.9 77.5,270.3 74.4,264.8 72.9,263.1 71.7,262.0 70.8,261.6 69.2,261.1 67.5,261.7 66.5,263.1 65.9,265.6 66.1,269.0 67.1,272.4 68.8,275.8 71.1,279.2 74.2,282.6 76.7,284.5 78.4,285.3 79.2,285.4 80.9,284.8 80.9,309.0 79.7,305.6 78.8,303.9 77.5,302.2 75.9,300.9 70.0,297.9 68.3,297.4 67.5,297.4 66.6,297.9 66.0,299.7 66.1,302.2 67.1,305.6 68.6,309.0 71.7,314.6 73.7,320.1 75.7,323.5 78.4,327.0 80.1,328.6 80.9,328.8 80.9,333.5 80.1,332.7 79.2,332.4 77.5,332.7 76.3,333.7 75.0,335.7 74.2,336.2 68.3,334.8 66.6,335.1 65.8,335.7 65.8,223.9ZM67.5,232.4 67.1,233.3 66.9,235.0 67.2,238.4 68.6,244.3 70.4,249.4 72.9,255.4 75.8,260.5 77.5,262.4 78.4,262.9 79.2,262.7 80.0,261.3 80.2,258.8 79.8,254.5 78.9,251.1 74.9,244.3 72.5,236.7 71.7,234.8 70.8,233.7 69.2,232.3 68.3,232.0 67.5,232.4ZM70.0,283.3 69.2,283.6 68.2,284.3 66.5,286.9 66.1,288.6 66.0,290.3 66.5,292.9 66.9,293.7 68.5,295.4 70.9,297.1 73.3,298.1 75.0,298.2 75.9,298.0 76.9,297.1 77.9,294.6 78.0,292.0 77.5,289.4 76.0,286.9 74.2,285.1 71.7,283.5 70.0,283.3ZM70.8,323.4 69.2,324.9 68.1,326.9 67.5,329.5 67.6,331.2 68.6,332.9 69.7,333.7 72.5,335.1 73.3,335.2 74.2,335.0 77.7,331.2 78.1,330.3 78.1,329.5 76.8,326.9 74.2,323.9 72.5,323.0 71.7,323.0 70.8,323.4ZM80.6,341.4 80.9,341.1 80.9,349.9 75.4,349.9 76.7,348.9 77.9,347.3 79.2,343.0 80.6,341.4ZM65.8,346.5 67.5,348.4 69.8,349.9 65.8,349.9 65.8,346.5Z" fill="#05f0c2" fill-rule="evenodd"/>
<path d="M69.9,202.6 71.6,202.6 71.0,204.3 71.0,206.0 71.9,208.6 72.9,210.3 75.0,212.4 76.7,213.2 77.5,213.3 78.4,213.1 79.2,212.4 79.9,210.3 79.7,207.7 79.1,206.0 78.1,204.3 76.5,202.6 78.2,202.6 79.9,205.2 80.9,208.1 80.9,212.5 80.1,214.0 79.2,214.5 78.4,214.7 76.7,214.3 75.0,213.3 72.7,211.1 71.5,209.4 70.2,206.9 69.8,204.3 69.9,202.6ZM67.4,232.4 68.3,232.0 69.2,232.3 70.8,233.7 71.7,234.8 72.5,236.7 74.9,244.3 78.9,251.1 79.8,254.5 80.2,258.8 80.0,261.3 79.2,262.7 78.4,262.9 77.5,262.4 75.8,260.5 72.9,255.4 70.4,249.4 68.6,244.3 67.2,238.4 66.9,235.0 67.4,232.4ZM70.0,235.7 69.2,236.7 69.1,238.4 69.7,241.8 70.8,245.2 72.5,249.5 74.2,252.9 75.9,255.0 76.7,255.0 77.0,253.7 76.7,251.1 73.8,244.3 71.7,237.6 70.8,236.3 70.0,235.7ZM68.2,261.3 69.2,261.1 70.8,261.6 73.3,263.5 74.9,265.6 77.5,270.3 80.9,274.9 80.9,284.8 80.1,285.2 79.2,285.4 77.5,285.0 74.2,282.6 71.1,279.2 67.9,274.1 66.3,269.9 65.9,266.5 66.0,264.8 66.5,263.1 67.5,261.7 68.2,261.3ZM70.0,264.7 69.2,265.0 68.7,265.6 68.1,267.3 68.3,269.9 69.6,273.3 73.2,279.2 75.0,281.4 76.7,282.6 77.5,282.9 78.4,282.9 79.2,282.6 80.1,281.8 80.5,280.1 80.3,278.4 79.7,276.7 78.7,275.0 75.9,271.6 72.5,266.2 70.8,264.9 70.0,264.7ZM66.5,298.0 67.5,297.4 69.2,297.6 75.9,300.9 78.2,303.1 79.7,305.6 80.9,309.0 80.9,316.9 79.9,312.4 78.8,309.0 77.2,305.6 75.5,303.1 72.5,300.5 70.0,299.4 69.2,299.4 68.3,300.0 68.0,302.2 68.9,305.6 72.7,312.4 75.2,320.1 76.5,322.7 77.5,324.1 79.2,325.5 80.1,325.5 80.9,324.4 80.9,328.8 80.1,328.6 78.4,327.0 74.6,321.8 73.7,320.1 71.7,314.6 67.7,307.3 66.1,302.2 66.0,299.7 66.5,298.0ZM77.3,332.9 78.4,332.4 79.2,332.4 80.1,332.7 80.9,333.5 80.9,341.1 79.2,343.0 77.9,347.3 76.7,348.9 75.4,349.9 69.8,349.9 69.2,349.6 67.5,348.4 65.8,346.4 65.8,343.2 66.9,345.6 69.2,347.8 71.7,348.8 74.2,348.5 75.9,347.3 76.5,346.5 77.2,344.8 77.5,341.3 77.9,340.5 79.5,339.7 80.4,338.8 80.7,338.0 80.7,336.3 79.9,334.6 79.2,334.0 78.4,333.7 77.5,333.8 76.7,334.5 75.9,336.4 75.0,337.3 70.8,336.1 69.2,335.9 67.5,336.5 66.6,337.2 65.8,338.7 65.8,335.7 66.6,335.1 68.3,334.8 74.2,336.2 75.0,335.7 76.3,333.7 77.3,332.9Z" fill="#0df070" fill-rule="evenodd"/>
<path d="M71.6,202.6 73.2,202.6 72.2,203.5 71.7,205.2 71.9,206.9 72.5,208.6 74.2,210.9 75.0,211.7 76.7,212.4 77.5,212.3 78.2,212.0 78.9,211.1 79.2,209.4 78.9,207.7 78.3,206.0 77.2,204.3 75.9,203.1 74.8,202.6 76.5,202.6 78.1,204.3 79.4,206.9 79.9,209.4 79.5,212.0 78.4,213.1 76.7,213.2 75.0,212.4 73.6,211.1 72.3,209.4 71.5,207.7 71.0,206.0 71.0,204.3 71.6,202.6ZM69.9,235.8 70.8,236.3 71.7,237.6 73.8,244.3 76.7,251.1 77.0,253.7 76.7,255.0 75.9,255.0 74.2,252.9 72.5,249.5 70.8,245.2 69.7,241.8 69.1,238.4 69.2,236.7 69.9,235.8ZM70.0,264.8 70.8,264.9 72.5,266.2 75.9,271.6 78.7,275.0 79.7,276.7 80.3,278.4 80.5,280.1 80.1,281.8 79.2,282.6 78.4,282.9 77.5,282.9 76.7,282.6 75.0,281.4 73.2,279.2 69.6,273.3 68.3,269.9 68.1,267.3 68.7,265.6 69.2,265.0 70.0,264.8ZM70.8,268.2 70.3,269.0 70.3,269.9 70.7,271.6 74.3,278.4 75.7,280.1 76.7,280.8 77.5,280.9 78.4,280.5 78.9,279.2 78.6,277.5 78.1,276.7 74.3,272.4 72.5,269.4 71.7,268.4 70.8,268.2ZM68.6,299.7 69.2,299.4 70.8,299.6 73.7,301.4 76.2,303.9 78.1,307.3 79.7,311.6 80.9,316.9 80.9,324.4 80.1,325.5 79.2,325.5 78.4,325.0 76.7,323.0 75.6,321.0 72.7,312.4 69.7,307.3 68.6,304.8 68.1,303.1 68.0,301.4 68.1,300.5 68.6,299.7ZM70.8,301.3 70.0,301.5 69.6,302.2 70.0,304.8 70.8,306.5 73.1,309.9 74.0,311.6 75.8,318.4 76.7,320.8 77.5,322.1 78.4,322.8 79.2,322.9 79.9,321.8 80.1,319.2 79.5,315.8 78.4,312.1 76.7,308.2 74.2,303.9 72.5,302.1 70.8,301.3ZM78.2,333.7 79.2,334.0 80.1,334.8 80.7,336.3 80.7,338.0 80.1,339.2 77.9,340.5 77.5,341.3 77.2,344.8 76.5,346.5 75.0,348.1 73.3,348.8 70.8,348.7 69.2,347.8 67.5,346.3 66.0,343.9 65.8,343.2 65.8,338.7 66.1,338.0 67.5,336.5 69.2,335.9 70.8,336.1 75.0,337.3 75.9,336.4 76.7,334.5 77.5,333.8 78.2,333.7ZM68.3,337.1 67.5,337.8 66.8,338.8 66.3,340.5 66.4,342.2 67.4,344.8 69.2,346.7 70.8,347.6 72.5,347.9 74.2,347.4 75.0,346.7 75.8,345.6 76.4,343.9 76.4,341.4 75.8,339.7 75.2,338.8 74.2,338.2 71.7,337.0 70.0,336.7 68.3,337.1ZM77.5,335.1 77.0,336.3 77.0,337.1 77.5,338.1 78.4,338.4 79.3,338.0 79.6,337.1 79.5,336.3 79.1,335.4 78.4,334.9 77.5,335.1Z" fill="#14f01e" fill-rule="evenodd"/>
<path d="M72.2,203.5 73.2,202.6 75.0,202.6 76.7,203.8 77.8,205.2 78.7,206.9 79.2,209.4 78.9,211.1 78.2,212.0 77.5,212.3 75.9,212.1 74.2,210.9 73.0,209.4 72.1,207.7 71.8,206.0 71.9,204.3 72.2,203.5ZM74.2,203.3 73.3,203.5 72.5,204.8 72.3,206.0 72.7,207.7 73.5,209.4 75.0,211.0 76.7,211.6 77.5,211.4 78.4,210.3 78.5,209.4 78.1,206.9 77.1,205.2 76.3,204.3 75.0,203.4 74.2,203.3ZM70.3,269.0 70.8,268.2 71.7,268.4 72.5,269.4 74.3,272.4 77.5,275.8 78.4,277.2 78.8,278.4 78.9,279.2 78.4,280.5 77.5,280.9 76.7,280.8 74.9,279.2 70.8,271.8 70.3,269.9 70.3,269.0ZM70.2,301.4 70.8,301.3 71.7,301.6 73.5,303.1 75.3,305.6 77.5,310.1 79.2,314.7 80.0,318.4 80.0,321.0 79.9,321.8 79.2,322.9 78.4,322.8 77.5,322.1 76.7,320.8 75.8,318.4 74.0,311.6 73.1,309.9 70.8,306.5 70.0,304.8 69.6,302.2 70.2,301.4ZM77.5,315.0 76.8,315.8 76.9,316.7 77.5,318.8 78.4,318.8 78.4,317.4 77.5,315.0ZM77.3,335.4 78.4,334.9 79.2,335.5 79.6,337.1 79.2,338.0 78.4,338.4 77.4,338.0 77.0,337.1 77.3,335.4ZM68.3,337.1 70.0,336.7 71.7,337.0 74.2,338.2 75.2,338.8 75.8,339.7 76.4,341.4 76.4,343.9 75.8,345.6 75.0,346.7 74.2,347.4 72.5,347.9 70.8,347.6 69.2,346.7 67.4,344.8 66.4,342.2 66.3,340.5 66.8,338.8 67.5,337.8 68.3,337.1ZM69.2,337.6 68.3,338.0 67.2,339.7 67.0,341.4 67.7,343.9 68.9,345.6 70.0,346.5 71.7,347.0 73.3,346.9 74.2,346.4 75.4,344.8 75.8,343.1 75.3,340.5 74.2,339.0 72.5,337.9 70.8,337.4 69.2,337.6Z" fill="#68f217" fill-rule="evenodd"/>
<path d="M73.6,203.5 75.0,203.4 75.9,203.9 77.7,206.0 78.3,207.7 78.5,209.4 78.4,210.3 77.5,211.4 76.7,211.6 75.0,211.0 74.2,210.2 73.0,208.6 72.5,206.9 72.4,205.2 72.7,204.3 73.6,203.5ZM74.2,204.1 73.3,204.7 73.1,205.2 72.9,206.0 73.2,207.7 74.1,209.4 75.0,210.3 75.9,210.8 76.7,210.9 77.5,210.3 77.9,209.4 77.9,208.6 77.5,206.9 76.7,205.5 75.9,204.6 75.0,204.2 74.2,204.1ZM77.5,315.0 78.4,317.4 78.4,318.8 77.5,318.8 76.9,316.7 76.8,315.8 77.5,315.0ZM68.4,338.0 70.0,337.4 71.7,337.6 73.3,338.4 74.8,339.7 75.6,341.4 75.8,343.1 75.4,344.8 74.2,346.4 72.5,347.1 70.8,346.9 69.2,345.9 68.2,344.8 67.3,343.1 67.0,341.4 67.2,339.7 68.4,338.0ZM70.8,338.0 69.2,338.3 68.3,339.0 67.7,340.5 67.7,342.2 68.3,343.9 69.2,345.0 70.8,346.2 72.5,346.3 74.0,345.6 74.7,344.8 75.0,343.9 75.1,342.2 74.6,340.5 74.0,339.7 72.5,338.5 70.8,338.0Z" fill="#bbf40f" fill-rule="evenodd"/>
<path d="M73.8,204.3 75.0,204.2 75.9,204.6 76.7,205.5 77.5,206.9 77.9,208.6 77.9,209.4 77.5,210.3 76.7,210.9 75.9,210.8 75.0,210.3 74.1,209.4 73.3,208.1 72.9,206.0 73.1,205.2 73.8,204.3ZM74.2,205.0 73.6,206.0 73.5,206.9 74.1,208.6 75.0,209.6 75.9,210.1 76.7,210.0 77.2,209.4 77.4,208.6 77.0,206.9 75.9,205.4 75.0,204.9 74.2,205.0ZM70.7,338.0 71.7,338.1 73.3,339.0 74.2,339.9 75.0,341.4 75.2,343.1 74.7,344.8 74.0,345.6 72.5,346.3 70.8,346.2 69.2,345.0 68.3,343.9 67.7,342.2 67.7,340.5 68.3,339.0 69.2,338.3 70.7,338.0ZM70.0,338.6 69.2,339.1 68.3,340.5 68.2,341.4 68.5,343.1 69.2,344.2 70.0,345.0 70.8,345.5 72.5,345.7 73.3,345.3 74.4,343.9 74.6,343.1 74.4,341.4 73.3,339.7 72.5,339.1 70.8,338.5 70.0,338.6Z" fill="#fadf09" fill-rule="evenodd"/>
<path d="M74.0,205.2 75.0,204.9 75.9,205.4 76.7,206.4 77.4,208.6 77.2,209.4 76.7,210.0 75.9,210.1 75.0,209.6 74.1,208.6 73.5,206.9 73.6,206.0 74.0,205.2ZM75.0,205.8 74.6,206.0 74.2,207.0 74.8,208.6 75.9,209.2 76.7,208.6 76.6,207.7 75.9,206.3 75.0,205.8ZM69.6,338.8 70.8,338.5 71.7,338.7 73.3,339.7 74.0,340.5 74.4,341.4 74.6,343.1 74.2,344.4 73.3,345.3 72.5,345.7 70.8,345.5 70.0,345.0 69.0,343.9 68.5,343.1 68.2,341.4 68.6,339.7 69.6,338.8ZM70.0,339.3 68.9,340.5 68.7,341.4 69.1,343.1 70.0,344.3 70.8,344.9 72.5,345.0 73.7,343.9 74.0,343.1 73.8,341.4 73.4,340.5 72.5,339.7 70.8,339.1 70.0,339.3Z" fill="#fa8605" fill-rule="evenodd"/>
<path d="M74.6,206.0 75.0,205.8 75.9,206.3 76.6,207.7 76.7,208.6 75.9,209.2 75.0,208.8 74.4,207.7 74.2,206.9 74.6,206.0ZM69.5,339.7 70.8,339.1 71.7,339.3 72.5,339.7 73.4,340.5 73.8,341.4 74.0,343.1 73.7,343.9 72.9,344.8 71.7,345.1 70.8,344.9 70.0,344.3 69.2,343.2 68.7,341.4 68.9,340.5 69.5,339.7Z" fill="#fa2d02" fill-rule="evenodd"/>
</g>
<path d="M77.3,202.6 78.7,204.3 79.6,206.0 80.4,208.6 80.5,210.3 80.2,212.0 79.8,212.8 78.9,213.7 77.5,213.9 75.9,213.4 74.2,212.1 71.9,209.4 71.1,207.7 70.5,206.0 70.4,204.3 70.8,202.6M68.5,234.1 69.2,233.7 70.0,234.0 71.7,236.0 74.4,244.3 77.8,251.1 78.4,253.7 78.6,256.2 78.4,258.1 77.5,258.9 76.7,258.6 75.9,257.8 74.2,255.3 72.2,251.1 70.4,246.9 68.8,241.8 68.2,238.4 68.0,235.8 68.5,234.1M80.9,282.6 80.1,283.6 79.2,284.0 77.5,283.9 75.9,283.0 73.6,280.9 71.1,277.5 68.6,273.3 67.4,269.9 67.0,267.3 67.5,264.8 68.3,263.5 69.2,263.1 70.0,263.1 71.7,263.8 74.0,266.5 76.7,271.1 79.7,275.0 80.9,277.3M80.9,326.8 80.1,327.0 78.4,326.0 76.7,324.0 75.3,321.8 74.5,320.1 72.5,314.1 68.0,305.6 67.3,303.1 67.0,301.4 67.5,299.1 68.3,298.4 69.2,298.4 71.7,299.3 74.9,301.4 76.7,303.1 78.4,305.6 79.8,309.0 80.9,313.1M65.8,337.1 66.6,336.2 68.3,335.5 70.0,335.5 74.2,336.7 75.0,336.5 76.7,333.9 77.5,333.3 78.4,333.1 79.2,333.2 80.0,333.7 80.9,335.0M80.9,339.5 78.8,341.4 78.4,342.0 77.9,344.8 76.8,347.3 75.9,348.4 74.2,349.4 71.7,349.6 69.2,348.6 67.5,347.3 65.8,344.9M65.8,224.8 67.0,227.3 71.4,232.4 72.5,234.1 75.0,242.6 76.7,245.5 78.4,246.7 79.2,246.7 80.1,246.0 80.9,243.9M80.9,234.8 79.9,229.0 79.7,220.5 78.9,217.9 77.4,216.2 74.2,213.6 69.2,208.9 68.3,208.7 67.5,209.0 66.6,210.0 65.8,211.8M65.8,291.6 66.7,293.7 68.2,295.4 71.7,297.6 74.2,298.4 75.9,298.3 76.6,298.0 77.4,297.1 78.2,295.4 78.4,292.9 78.1,290.3 76.9,287.7 74.6,285.2 71.7,283.2 70.0,282.8 68.3,283.5 66.8,285.2 65.8,287.9M71.7,322.6 70.0,323.3 68.4,325.2 67.4,327.8 67.1,330.3 67.6,332.0 68.3,332.9 71.0,334.6 73.3,335.3 74.2,335.1 77.9,331.2 78.3,330.3 78.2,329.5 77.0,326.9 75.0,324.5 73.3,323.0 71.7,322.6M70.0,215.0 69.0,216.2 68.1,218.8 67.9,221.3 68.3,223.9 69.2,226.2 70.4,228.1 71.7,229.6 74.1,231.5 74.8,232.4 74.8,236.7 75.2,239.2 75.9,241.4 76.7,242.5 77.5,242.6 78.4,240.9 78.4,237.5 77.5,234.8 75.3,231.5 76.0,223.9 75.6,219.6 74.6,217.1 73.3,215.6 71.7,214.6 70.8,214.5 70.0,215.0M70.8,287.7 70.0,288.3 69.2,289.6 68.9,291.2 69.2,292.9 70.0,294.3 70.8,295.1 72.5,295.9 73.3,295.8 74.2,295.2 74.8,293.7 74.9,292.0 74.5,290.3 73.6,288.6 72.5,287.8 71.7,287.6 70.8,287.7M72.5,326.8 71.7,327.4 70.9,328.6 70.5,330.3 70.6,331.2 71.5,332.9 72.5,333.5 73.3,333.6 74.2,333.1 75.1,332.0 76.0,330.3 76.1,329.5 75.9,328.6 75.0,327.4 74.2,326.8 73.3,326.6 72.5,326.8M71.7,220.4 70.8,221.3 70.7,222.2 70.8,223.3 71.7,224.7 72.5,224.5 72.8,223.0 72.5,221.1 71.7,220.4" fill="none" stroke="#04203a" stroke-width="0.3" stroke-opacity="0.3"/>
<path d="M75.2,202.6 76.7,203.6 77.9,205.2 78.8,206.9 79.2,208.6 79.2,210.3 78.5,212.0 77.5,212.5 76.7,212.5 75.9,212.3 74.2,211.0 72.9,209.4 72.0,207.7 71.7,206.0 71.7,204.3 72.1,203.5 72.9,202.6M70.0,268.2 70.8,267.5 71.7,267.9 72.5,268.7 74.7,272.4 78.4,276.6 79.2,279.2 79.0,280.1 78.4,281.0 77.5,281.3 76.5,280.9 75.0,279.8 74.0,278.4 70.4,271.6 69.9,269.9 70.0,268.2M69.6,301.4 70.0,301.0 70.8,301.0 71.8,301.4 73.3,302.5 75.1,304.8 77.5,309.4 79.2,314.0 80.2,318.4 80.1,321.8 79.9,322.7 79.2,323.4 78.4,323.2 77.5,322.4 76.2,320.1 73.8,311.6 70.8,307.0 69.8,304.8 69.3,303.1 69.6,301.4M77.1,335.4 77.5,334.9 78.4,334.7 79.4,335.4 79.8,337.1 79.2,338.3 78.4,338.7 77.5,338.5 77.0,338.0 76.8,337.1 77.1,335.4M68.0,337.1 70.0,336.6 71.7,336.9 75.0,338.5 76.1,339.7 76.6,342.2 76.4,344.8 75.4,346.5 74.2,347.5 72.5,348.0 70.8,347.8 69.2,346.9 67.3,344.8 66.3,342.2 66.2,340.5 66.6,338.8 67.1,338.0 68.0,337.1M72.9,203.5 73.3,203.1 74.2,202.9 75.0,203.1 76.7,204.2 78.0,206.0 78.6,207.7 78.8,209.4 78.4,211.1 77.5,211.8 76.7,212.0 75.0,211.3 73.9,210.3 72.8,208.6 72.1,206.0 72.3,204.3 72.9,203.5M74.5,275.8 75.0,275.3 76.7,276.3 77.6,277.5 77.8,278.4 77.5,279.3 76.7,279.5 75.9,279.0 74.9,277.5 74.5,275.8M70.8,303.1 71.7,302.8 73.3,304.3 78.4,314.4 79.2,317.5 79.3,319.2 79.2,320.6 78.4,321.4 77.5,320.7 76.7,319.1 74.7,309.9 71.7,306.1 70.8,304.4 70.8,303.1M78.1,336.3 78.4,336.1 78.5,336.3 78.4,337.2 78.1,336.3M69.6,337.1 71.7,337.3 73.3,338.1 74.5,338.8 75.7,340.5 76.1,343.1 75.8,344.8 74.6,346.5 73.3,347.2 71.7,347.4 70.0,346.8 68.3,345.4 67.0,343.1 66.7,340.5 67.2,338.8 68.3,337.6 69.6,337.1M72.9,204.3 73.3,203.8 74.2,203.5 75.0,203.6 75.9,204.1 77.0,205.2 78.0,206.9 78.4,208.6 78.2,210.3 77.5,211.2 76.7,211.5 75.9,211.3 75.0,210.8 73.7,209.4 72.6,206.9 72.5,205.2 72.9,204.3M68.7,338.0 70.0,337.5 71.7,337.7 73.3,338.5 74.6,339.7 75.5,341.4 75.6,343.1 75.3,344.8 74.2,346.2 72.5,346.9 70.8,346.7 69.2,345.7 68.3,344.7 67.2,342.2 67.2,340.5 67.8,338.8 68.7,338.0M73.6,204.3 74.2,204.0 75.0,204.1 75.9,204.6 76.7,205.4 77.6,206.9 78.0,208.6 78.0,209.4 77.5,210.4 76.7,210.9 75.9,210.8 75.0,210.4 73.5,208.6 72.9,206.0 73.0,205.2 73.6,204.3M69.9,338.0 70.8,337.9 72.5,338.4 74.1,339.7 74.7,340.5 75.2,342.2 75.1,343.9 74.2,345.5 73.3,346.1 71.7,346.4 70.0,345.8 68.9,344.8 67.9,343.1 67.6,341.4 67.9,339.7 68.4,338.8 69.9,338.0M73.6,205.2 74.2,204.6 75.0,204.6 75.9,205.1 76.7,206.0 77.5,207.7 77.6,208.6 77.5,209.4 76.7,210.4 75.9,210.4 75.0,209.9 73.9,208.6 73.3,206.9 73.3,206.0 73.6,205.2M69.1,338.8 70.0,338.4 71.7,338.5 73.3,339.4 74.2,340.5 74.6,341.4 74.8,343.1 74.2,344.8 73.3,345.6 72.5,345.9 70.8,345.8 70.0,345.3 68.7,343.9 68.3,343.1 67.9,341.4 68.3,339.8 69.1,338.8M74.9,205.2 75.9,205.6 76.8,206.9 77.2,208.6 76.7,209.7 75.9,209.8 75.0,209.4 73.9,207.7 73.8,206.0 74.2,205.3 74.9,205.2M70.0,338.8 70.8,338.7 72.5,339.3 73.3,339.9 74.2,341.4 74.4,343.1 74.2,343.9 73.3,345.1 72.5,345.5 70.8,345.3 70.0,344.8 68.7,343.1 68.3,341.4 68.5,340.5 69.2,339.3 70.0,338.8M74.5,206.0 75.0,205.8 75.9,206.3 76.7,207.7 76.7,208.6 75.9,209.2 75.0,208.8 74.3,207.7 74.1,206.9 74.5,206.0M69.4,339.7 70.8,339.1 71.7,339.3 72.5,339.7 73.4,340.5 73.8,341.4 74.0,343.1 73.7,343.9 72.9,344.8 71.7,345.1 70.8,344.9 69.6,343.9 69.1,343.1 68.7,341.4 68.9,340.5 69.4,339.7M75.0,206.9 75.9,207.4 75.9,208.1 75.0,207.8 75.0,206.9M70.3,339.7 71.7,339.7 72.9,340.5 73.4,341.4 73.6,343.1 73.2,343.9 72.5,344.5 71.7,344.6 70.8,344.4 69.5,343.1 69.2,341.3 69.4,340.5 70.3,339.7" fill="none" stroke="#050505" stroke-width="0.32" stroke-opacity="0.6"/>
<g filter="url(#b1)">
<ellipse cx="80.2" cy="208.6" rx="1.3" ry="4.2" fill="#060606" transform="rotate(-10 80.2 208.6)"/>
<ellipse cx="70.6" cy="205.2" rx="3.2" ry="1.6" fill="#060606" transform="rotate(-10 70.6 205.2)"/>
<ellipse cx="80.6" cy="283.5" rx="0.9" ry="3.4" fill="#060606" transform="rotate(-5 80.6 283.5)"/>
<ellipse cx="80.4" cy="320.5" rx="1.0" ry="4.4" fill="#060606" transform="rotate(-5 80.4 320.5)"/>
<ellipse cx="76.6" cy="340.5" rx="1.4" ry="4.4" fill="#060606" transform="rotate(-25 76.6 340.5)"/>
<ellipse cx="67.4" cy="340" rx="0.9" ry="3.8" fill="#060606" transform="rotate(-10 67.4 340)"/>
<ellipse cx="72.5" cy="347.8" rx="3.2" ry="1.0" fill="#060606" transform="rotate(-10 72.5 347.8)"/>
</g>
</g>
<rect x="65.8" y="202.6" width="15.1" height="147.3" fill="none" stroke="#0a0a0a" stroke-width="1.4"/>
<clipPath id="cp10"><rect x="83.6" y="202.6" width="15.1" height="147.3"/></clipPath>
<g clip-path="url(#cp10)">
<g filter="url(#b05)">
<rect x="83.6" y="202.6" width="15.1" height="147.3" fill="#0000fa"/>
<path d="M89.8,206.9 91.1,206.3 92.0,206.3 93.4,206.9 94.1,207.7 94.3,208.6 94.3,209.4 93.8,210.3 92.8,211.1 92.0,211.3 90.6,211.1 89.5,210.4 88.9,209.4 88.9,208.6 89.1,207.7 89.8,206.9ZM90.8,241.8 92.0,241.3 92.8,241.3 93.7,241.7 94.2,242.6 94.3,244.3 93.1,246.0 90.3,248.2 88.6,248.9 87.8,248.9 86.7,247.7 86.6,246.9 87.0,245.6 87.8,244.3 90.8,241.8ZM91.6,269.9 92.8,269.6 93.7,269.9 94.4,270.7 94.7,271.6 94.7,273.3 94.2,275.8 94.2,279.2 93.7,280.3 92.8,280.9 92.0,281.0 91.1,280.5 90.4,279.2 90.7,275.8 90.5,271.6 90.8,270.7 91.6,269.9ZM89.2,308.2 91.1,307.9 92.4,308.2 93.5,309.0 93.8,309.9 93.6,310.7 92.8,311.7 91.1,312.3 89.5,312.0 88.6,311.6 88.0,310.7 87.8,309.9 88.1,309.0 89.2,308.2ZM89.6,341.4 91.1,340.6 92.8,340.8 93.6,341.4 94.1,342.2 94.2,343.1 93.9,343.9 92.9,344.8 92.0,345.0 90.3,344.8 89.3,343.9 89.0,343.1 89.1,342.2 89.6,341.4Z" fill="#002cfb" fill-rule="evenodd"/>
<path d="M89.8,205.2 91.1,204.8 92.8,204.9 94.5,205.8 95.4,206.9 95.8,207.7 95.9,209.4 95.1,211.1 94.2,212.0 92.0,212.7 90.3,212.5 88.6,211.6 87.8,210.6 87.3,209.4 87.4,207.7 88.5,206.0 89.8,205.2ZM90.3,206.6 89.5,207.2 88.9,208.6 88.9,209.4 89.4,210.3 90.3,211.0 91.1,211.3 92.8,211.1 93.8,210.3 94.3,209.4 94.3,208.6 94.1,207.7 92.8,206.5 91.1,206.3 90.3,206.6ZM91.3,240.1 92.8,239.8 93.7,240.1 94.8,240.9 95.6,242.6 95.6,244.3 95.3,245.2 94.0,246.9 90.3,249.3 88.6,249.8 87.0,249.5 86.1,248.6 85.8,247.7 85.8,246.9 86.2,245.2 87.0,243.9 88.6,242.1 90.3,240.6 91.3,240.1ZM91.1,241.5 88.6,243.5 87.0,245.6 86.6,246.9 86.7,247.7 87.8,248.9 88.6,248.9 90.3,248.2 93.1,246.0 94.3,244.3 94.2,242.6 93.7,241.7 92.8,241.3 91.1,241.5ZM90.4,269.0 92.0,268.2 93.7,268.3 94.5,268.8 95.3,269.6 96.0,271.6 95.3,280.1 94.5,281.3 93.7,282.0 92.8,282.2 91.1,282.0 90.3,281.5 89.5,280.4 89.1,279.2 89.2,271.6 89.7,269.9 90.4,269.0ZM92.0,269.7 91.1,270.2 90.5,271.6 90.7,275.8 90.3,278.4 90.7,280.1 92.0,281.0 92.8,280.9 93.7,280.3 94.2,279.2 94.2,275.8 94.7,272.4 94.5,270.9 93.7,269.9 92.8,269.6 92.0,269.7ZM87.8,307.3 89.5,306.7 91.1,306.6 93.8,307.3 94.8,308.2 95.3,309.0 95.4,310.7 95.0,311.6 93.7,312.8 92.0,313.5 89.5,313.4 87.8,312.8 86.6,311.6 86.1,309.9 86.8,308.2 87.8,307.3ZM89.5,308.1 88.1,309.0 87.8,309.9 88.0,310.7 88.6,311.6 89.5,312.0 91.1,312.3 93.0,311.6 93.6,310.7 93.8,309.9 93.5,309.0 92.0,308.0 90.3,307.9 89.5,308.1ZM89.7,339.7 92.0,339.3 93.7,339.8 94.7,340.5 95.4,341.4 95.7,343.1 95.3,344.3 94.5,345.3 92.8,346.2 91.1,346.4 89.5,345.9 88.2,344.8 87.7,343.9 87.5,342.2 88.5,340.5 89.7,339.7ZM90.3,340.9 89.6,341.4 89.1,342.2 89.0,343.1 89.5,344.1 90.3,344.8 91.1,345.0 92.8,344.8 93.7,344.2 94.2,343.1 94.1,342.2 93.6,341.4 92.0,340.6 90.3,340.9Z" fill="#0083fd" fill-rule="evenodd"/>
<path d="M91.0,203.5 92.8,203.5 94.8,204.3 96.6,206.0 97.3,207.7 97.2,210.3 96.3,212.0 94.5,213.4 92.8,213.9 90.3,213.8 87.9,212.8 86.4,211.1 85.8,209.4 85.9,207.7 87.0,205.6 88.6,204.2 91.0,203.5ZM90.3,205.0 88.6,205.9 87.8,206.9 87.3,208.6 87.6,210.3 88.6,211.6 90.3,212.5 92.0,212.7 93.7,212.3 95.1,211.1 95.6,210.3 95.9,208.6 95.4,206.9 94.5,205.8 93.4,205.2 92.0,204.8 90.3,205.0ZM90.2,239.2 91.1,238.8 92.8,238.5 94.5,239.0 95.3,239.7 96.6,241.8 96.9,243.5 96.6,245.2 95.3,247.2 93.5,248.6 89.5,250.4 87.8,250.6 87.0,250.5 86.1,250.0 85.1,248.6 84.9,247.7 85.0,246.0 85.6,244.3 86.8,242.6 88.6,240.5 90.2,239.2ZM92.0,239.9 91.1,240.1 89.5,241.3 87.3,243.5 86.2,245.2 85.8,246.9 85.8,247.7 86.1,248.6 87.0,249.5 88.6,249.8 90.3,249.3 94.0,246.9 95.3,245.2 95.7,243.5 95.3,241.8 94.5,240.6 93.7,240.1 92.0,239.9ZM91.1,267.3 93.7,267.2 95.3,267.9 96.5,269.0 97.2,271.6 96.7,279.2 96.2,280.9 95.7,281.8 94.7,282.6 92.8,283.2 91.1,283.0 89.5,282.2 88.4,280.9 87.9,279.2 88.1,270.7 88.6,269.3 89.5,268.2 91.1,267.3ZM91.1,268.5 89.7,269.9 89.2,271.6 89.1,279.2 89.5,280.4 90.3,281.5 91.1,282.0 92.8,282.2 93.7,282.0 94.5,281.3 95.3,280.1 96.0,271.6 95.5,269.9 94.5,268.8 92.8,268.2 91.1,268.5ZM89.4,305.6 92.0,305.6 93.7,306.0 94.9,306.5 96.2,307.6 97.0,309.0 97.1,310.7 96.3,312.4 95.3,313.4 92.8,314.6 90.3,314.8 87.6,314.1 86.2,313.3 85.3,312.4 84.5,310.7 84.6,309.0 85.0,308.2 85.6,307.3 86.7,306.5 89.4,305.6ZM88.6,307.0 87.0,308.0 86.3,309.0 86.2,310.7 87.3,312.4 88.9,313.3 91.1,313.6 93.7,312.8 95.0,311.6 95.4,310.7 95.3,309.0 94.8,308.2 93.8,307.3 91.1,306.6 88.6,307.0ZM88.8,338.8 91.1,338.1 92.8,338.3 94.5,338.9 96.2,340.3 96.8,341.4 97.1,343.1 96.6,344.8 95.3,346.3 93.7,347.3 91.1,347.6 88.6,346.9 87.1,345.6 86.2,343.9 86.1,342.2 86.8,340.5 88.8,338.8ZM90.3,339.4 88.6,340.4 87.8,341.4 87.5,343.1 87.8,344.1 88.6,345.3 90.3,346.2 92.0,346.4 93.7,345.9 95.0,344.8 95.5,343.9 95.7,342.2 95.4,341.4 94.7,340.5 93.5,339.7 92.0,339.3 90.3,339.4Z" fill="#00daff" fill-rule="evenodd"/>
<path d="M86.8,203.5 88.2,202.6 95.0,202.6 96.4,203.5 97.9,205.0 98.7,206.6 98.7,211.0 97.7,212.8 96.9,213.7 95.5,214.5 92.8,215.1 90.3,215.0 88.6,214.7 86.1,213.3 84.5,211.1 84.1,208.6 84.7,206.0 85.9,204.3 86.8,203.5ZM91.2,203.4 89.5,203.8 87.3,205.2 86.2,206.9 85.8,209.4 86.4,211.1 87.9,212.8 90.3,213.8 92.8,213.9 94.5,213.4 96.3,212.0 97.2,210.3 97.3,207.7 96.6,206.0 95.3,204.7 93.7,203.8 91.2,203.4ZM90.5,237.5 92.0,237.2 93.7,237.2 95.3,237.9 96.2,238.5 97.4,240.1 98.0,241.8 98.2,243.5 98.0,245.2 96.7,247.7 94.6,249.4 89.5,251.2 87.8,251.4 86.3,251.1 85.0,250.3 84.1,248.6 83.9,246.9 84.2,245.2 85.3,242.9 87.3,240.1 89.0,238.4 90.5,237.5ZM90.3,239.1 88.6,240.5 86.8,242.6 85.6,244.3 85.0,246.0 84.9,247.7 85.1,248.6 86.1,250.0 87.0,250.5 87.8,250.6 89.5,250.4 93.5,248.6 95.3,247.2 96.6,245.2 96.9,243.5 96.6,241.8 95.3,239.7 94.5,239.0 92.8,238.5 91.1,238.8 90.3,239.1ZM90.4,266.5 92.8,266.2 95.3,266.5 97.0,267.5 97.6,268.2 98.4,269.9 98.6,272.4 98.0,279.2 97.6,280.9 96.7,282.6 95.7,283.5 94.5,284.0 92.0,284.1 89.5,283.4 87.5,281.8 86.8,280.1 86.5,272.4 86.9,269.9 87.8,268.1 88.6,267.3 90.4,266.5ZM91.1,267.3 89.5,268.2 88.6,269.3 88.1,270.7 87.9,279.2 88.4,280.9 89.5,282.2 91.1,283.0 92.8,283.2 94.7,282.6 95.7,281.8 96.2,280.9 96.7,279.2 97.2,271.6 96.5,269.0 95.3,267.9 93.7,267.2 91.1,267.3ZM87.7,304.8 90.3,304.5 93.7,304.8 96.2,305.6 97.5,306.5 98.7,308.4 98.7,311.7 97.8,313.3 95.3,315.2 92.0,316.1 89.5,316.1 87.8,315.8 86.1,315.1 84.7,314.1 83.6,313.0 83.6,307.1 85.3,305.6 87.7,304.8ZM89.5,305.6 86.7,306.5 85.6,307.3 85.0,308.2 84.6,309.0 84.5,310.7 85.3,312.4 86.2,313.3 87.6,314.1 90.3,314.8 92.8,314.6 95.3,313.4 96.3,312.4 97.1,310.7 97.0,309.0 96.2,307.6 94.9,306.5 93.7,306.0 92.0,305.6 89.5,305.6ZM90.1,337.1 92.0,337.0 95.0,338.0 97.5,339.7 98.5,341.4 98.6,343.9 98.0,345.6 96.5,347.3 94.5,348.5 92.8,348.9 91.1,349.0 88.6,348.5 86.1,346.8 84.8,344.8 84.5,342.2 85.0,340.5 85.6,339.7 87.8,338.0 90.1,337.1ZM89.5,338.5 87.6,339.7 86.4,341.4 86.1,343.1 86.2,343.9 87.0,345.4 88.6,346.9 91.1,347.6 93.7,347.3 95.1,346.5 96.2,345.5 97.0,343.9 97.1,342.2 96.4,340.5 94.5,338.9 92.8,338.3 91.1,338.1 89.5,338.5Z" fill="#05f0c2" fill-rule="evenodd"/>
<path d="M83.8,202.6 88.2,202.6 85.9,204.3 84.7,206.0 84.2,207.7 84.1,209.4 84.5,211.1 86.1,213.3 87.8,214.4 89.5,214.9 92.0,215.1 93.7,215.0 95.3,214.6 96.9,213.7 97.9,212.6 98.7,211.0 98.7,215.4 96.2,216.4 92.8,216.4 87.0,215.8 85.3,215.3 83.8,214.5 83.6,214.3 83.6,202.9 83.8,202.6ZM95.0,202.6 98.7,202.6 98.7,206.6 97.3,204.3 95.0,202.6ZM90.3,235.8 93.7,235.7 96.2,236.1 97.4,236.7 98.7,238.0 98.7,248.8 97.1,250.3 95.3,250.9 87.8,252.1 85.3,251.8 83.6,250.8 83.6,242.3 84.9,240.1 86.8,237.5 88.6,236.3 90.3,235.8ZM91.1,237.3 89.5,238.0 87.8,239.5 85.4,242.6 84.2,245.2 83.9,246.9 84.1,248.6 85.0,250.3 86.3,251.1 87.8,251.4 89.5,251.2 94.5,249.5 96.2,248.3 97.7,246.0 98.1,244.3 98.2,242.6 97.8,240.9 96.8,239.2 96.0,238.4 94.5,237.5 92.8,237.1 91.1,237.3ZM89.5,265.6 92.0,265.4 96.2,265.5 97.4,265.6 98.7,266.2 98.7,283.4 97.0,284.7 95.3,285.2 93.7,285.2 89.5,284.4 87.4,283.5 86.2,282.6 84.9,280.9 84.5,279.2 84.3,272.4 84.8,269.0 86.1,267.0 87.8,266.1 89.5,265.6ZM91.1,266.3 88.6,267.3 87.7,268.2 86.9,269.9 86.5,272.4 86.6,279.2 87.0,280.9 87.5,281.8 88.6,282.8 91.1,284.0 93.7,284.1 95.3,283.7 96.2,283.1 97.0,282.2 97.6,280.9 98.6,273.3 98.5,270.7 97.6,268.2 96.2,266.9 93.7,266.2 91.1,266.3ZM84.2,303.9 86.1,303.6 89.5,303.5 97.9,304.1 98.7,304.4 98.7,308.4 97.9,306.9 96.3,305.6 94.5,305.0 92.0,304.6 89.5,304.5 87.0,304.9 85.3,305.6 83.6,307.1 83.6,304.1 84.2,303.9ZM98.4,312.4 98.7,311.7 98.7,316.1 96.2,317.4 93.7,317.8 87.8,317.7 85.3,317.3 83.6,316.5 83.6,313.0 85.3,314.6 87.0,315.5 88.6,316.0 91.2,316.2 93.7,315.8 95.3,315.2 97.0,314.1 98.4,312.4ZM89.0,336.3 90.3,335.9 92.0,335.8 98.7,338.2 98.7,342.5 98.1,340.5 96.5,338.8 92.8,337.1 90.3,337.1 87.0,338.5 85.6,339.7 85.0,340.5 84.7,341.4 84.5,343.1 84.8,344.8 85.3,345.7 86.7,347.3 88.6,348.5 90.3,348.9 92.8,348.9 95.3,348.1 97.0,346.9 98.4,344.8 98.7,343.3 98.7,348.7 97.9,349.3 97.0,349.9 86.2,349.9 85.0,349.0 83.6,347.7 83.6,338.7 84.7,338.0 89.0,336.3Z" fill="#0df070" fill-rule="evenodd"/>
<path d="M83.6,202.6 83.8,202.6 83.6,202.9 83.6,202.6ZM83.6,214.5 83.6,214.3 85.3,215.3 87.0,215.8 92.8,216.4 96.2,216.4 98.7,215.4 98.7,222.1 97.9,220.5 97.0,219.6 95.3,218.5 92.8,217.7 89.5,217.3 87.0,217.4 85.3,217.8 83.6,218.6 83.6,214.5ZM83.6,231.5 83.6,231.1 85.3,232.4 87.8,233.5 90.3,234.1 92.8,234.4 94.5,234.3 96.2,233.9 97.4,233.3 98.7,231.7 98.7,238.0 97.4,236.7 95.3,235.9 92.0,235.7 89.5,236.0 87.9,236.7 86.8,237.5 84.9,240.1 83.6,242.3 83.6,231.5ZM98.2,249.4 98.7,248.8 98.7,256.5 97.5,254.5 96.6,253.7 93.7,252.5 91.1,252.4 83.6,253.5 83.6,250.8 85.3,251.8 87.8,252.1 96.2,250.7 98.2,249.4ZM83.6,263.1 83.6,262.8 85.1,263.9 87.0,264.5 94.5,264.6 96.2,264.4 97.4,263.9 98.7,262.6 98.7,266.2 97.0,265.5 92.0,265.4 89.5,265.6 86.9,266.5 85.7,267.3 84.8,269.0 84.3,272.4 84.5,279.2 84.9,280.9 85.4,281.8 87.0,283.2 88.6,284.1 92.8,285.1 96.2,285.0 97.7,284.3 98.7,283.4 98.7,289.6 97.2,287.7 94.5,286.6 87.0,284.9 85.3,284.8 83.6,285.3 83.6,263.1ZM83.6,301.4 83.6,300.7 85.3,301.6 87.0,302.0 93.7,302.7 95.3,302.5 97.0,301.9 98.7,300.5 98.7,304.4 96.2,303.8 89.5,303.5 86.1,303.6 83.6,304.1 83.6,301.4ZM83.6,316.7 87.0,317.7 93.7,317.8 96.2,317.4 98.7,316.1 98.7,324.3 97.1,321.8 95.3,320.3 93.7,319.6 91.1,319.2 88.6,319.4 86.1,320.4 84.5,321.8 83.6,323.5 83.6,316.7ZM90.8,334.6 92.0,334.6 96.2,336.1 97.9,336.2 98.7,336.0 98.7,338.2 92.8,336.0 91.1,335.7 86.8,337.1 83.6,338.7 83.6,335.3 84.4,335.7 86.1,335.9 90.8,334.6ZM83.6,348.2 83.6,347.7 85.0,349.0 86.2,349.9 83.6,349.9 83.6,348.2ZM98.2,349.0 98.7,348.7 98.7,349.9 97.0,349.9 98.2,349.0Z" fill="#14f01e" fill-rule="evenodd"/>
<path d="M84.9,217.9 87.0,217.4 88.6,217.3 92.8,217.7 95.9,218.8 97.9,220.5 98.7,222.1 98.7,231.7 97.4,233.3 96.2,233.9 94.5,234.3 91.1,234.3 88.6,233.8 86.1,232.9 83.6,231.1 83.6,227.1 84.7,229.0 86.4,230.7 89.5,232.5 92.0,233.3 94.5,233.1 96.0,232.4 97.3,230.7 97.7,229.0 97.6,226.4 96.8,223.0 96.0,221.3 94.5,219.8 92.8,218.9 91.1,218.5 87.8,218.6 85.3,219.8 84.4,220.7 83.6,222.2 83.6,218.6 84.9,217.9ZM87.8,252.8 91.1,252.4 93.7,252.5 96.2,253.5 97.5,254.5 98.7,256.5 98.7,262.6 98.4,263.1 97.4,263.9 96.2,264.4 93.7,264.7 87.0,264.5 85.3,264.0 83.9,263.1 83.6,262.8 83.6,253.5 87.8,252.8ZM87.8,253.6 85.2,254.5 84.0,256.2 83.8,258.8 84.4,260.5 85.3,261.7 87.0,263.0 89.5,263.7 94.5,264.0 96.7,263.1 97.4,262.2 97.7,261.3 97.6,259.6 96.8,257.1 95.8,255.4 94.5,254.2 92.8,253.4 90.3,253.2 87.8,253.6ZM83.8,285.2 85.3,284.8 87.0,284.9 93.7,286.3 96.2,287.1 98.1,288.6 98.7,289.6 98.7,300.5 97.9,301.4 95.3,302.5 92.8,302.7 87.0,302.0 85.3,301.6 83.6,300.7 83.6,297.5 85.3,299.5 87.8,300.8 92.0,301.7 94.5,301.7 96.2,301.0 97.0,300.2 97.8,298.8 98.2,297.1 98.2,295.4 97.3,292.0 96.5,290.3 95.2,288.6 94.0,287.7 92.0,286.9 87.8,286.3 86.1,286.6 85.3,287.0 83.6,288.7 83.6,285.3 83.8,285.2ZM90.2,319.2 93.7,319.6 95.3,320.3 97.0,321.7 98.7,324.3 98.7,327.5 96.5,323.5 95.1,321.8 92.8,320.5 90.3,320.2 87.8,320.8 86.4,321.8 85.7,322.7 84.9,324.4 83.6,328.6 83.6,323.5 84.5,321.8 85.3,321.0 87.0,319.9 88.6,319.4 90.2,319.2ZM83.6,332.0 84.5,333.7 86.1,334.6 87.8,334.5 91.1,333.4 92.0,333.5 94.5,334.7 96.2,335.1 97.9,334.8 98.7,334.0 98.7,336.0 97.9,336.2 96.2,336.1 92.0,334.6 91.1,334.5 87.0,335.8 84.4,335.7 83.6,335.3 83.6,332.0Z" fill="#68f217" fill-rule="evenodd"/>
<path d="M87.1,218.8 89.5,218.4 92.0,218.7 94.3,219.6 96.0,221.3 96.8,223.0 97.3,224.7 97.7,227.3 97.7,229.0 97.3,230.7 96.8,231.5 95.3,232.8 92.8,233.4 90.3,232.9 86.4,230.7 85.3,229.7 84.1,228.1 83.6,227.1 83.6,222.2 84.4,220.7 85.3,219.8 87.1,218.8ZM88.6,219.5 86.4,220.5 85.0,222.2 84.5,224.7 85.1,227.3 87.0,229.5 90.3,231.8 92.8,232.5 94.5,232.1 95.4,231.5 96.1,230.7 96.7,229.0 96.5,226.4 95.5,223.0 94.4,221.3 92.8,220.1 91.1,219.5 88.6,219.5ZM87.3,253.7 90.3,253.2 92.0,253.3 93.7,253.8 95.3,254.9 96.8,257.1 97.6,259.6 97.7,261.3 97.4,262.2 96.7,263.1 95.3,263.8 92.8,264.0 87.8,263.4 85.7,262.2 84.9,261.3 84.0,259.6 83.8,257.1 84.4,255.4 85.2,254.5 87.3,253.7ZM87.8,254.4 86.0,255.4 85.1,257.1 85.0,257.9 85.4,259.6 86.5,261.3 88.6,262.6 92.8,263.5 94.5,263.4 95.5,263.1 96.2,262.5 96.7,261.3 96.6,259.6 95.5,257.1 94.2,255.4 92.8,254.4 91.1,254.0 89.5,254.0 87.8,254.4ZM85.5,286.9 87.8,286.3 91.1,286.7 94.0,287.7 96.0,289.4 97.6,292.9 98.2,296.3 97.8,298.8 97.4,299.7 96.2,301.0 94.5,301.7 92.8,301.8 88.6,301.1 86.1,300.1 83.9,298.0 83.6,297.5 83.6,288.7 84.4,287.7 85.5,286.9ZM87.0,287.7 85.6,288.6 84.9,289.4 83.9,292.0 83.9,294.6 85.0,297.1 87.0,299.1 89.5,300.3 92.8,301.0 94.5,300.8 95.3,300.5 96.3,299.7 96.8,298.8 97.2,296.3 96.6,293.7 95.0,290.3 93.2,288.6 91.4,287.7 88.6,287.4 87.0,287.7ZM87.5,321.0 89.5,320.3 92.0,320.3 94.5,321.3 95.9,322.7 98.7,327.5 98.7,334.0 98.1,334.6 97.0,335.1 95.3,335.0 92.0,333.5 91.2,333.4 87.8,334.5 86.1,334.6 85.3,334.3 84.4,333.6 83.6,331.8 83.8,327.8 84.9,324.4 85.7,322.7 87.5,321.0ZM90.3,320.9 88.6,321.3 87.8,321.7 86.2,323.5 84.5,328.6 84.4,330.3 84.8,332.0 85.4,332.9 86.1,333.4 87.0,333.6 88.6,333.3 91.1,332.4 92.0,332.5 95.3,334.1 97.0,334.0 98.2,332.9 98.6,331.2 98.3,328.6 97.5,326.9 94.5,322.4 92.8,321.3 90.3,320.9Z" fill="#bbf40f" fill-rule="evenodd"/>
<path d="M88.1,219.6 90.3,219.4 92.8,220.1 94.4,221.3 95.3,222.8 96.5,226.4 96.7,229.0 96.1,230.7 95.4,231.5 94.5,232.1 92.8,232.5 90.3,231.8 87.0,229.5 85.1,227.3 84.5,225.6 84.7,223.0 85.3,221.8 86.1,220.8 88.1,219.6ZM88.6,220.5 87.0,221.4 85.8,223.0 85.6,223.9 85.6,225.6 86.3,227.3 88.6,229.7 91.1,231.2 92.8,231.6 94.5,231.1 95.5,229.8 95.8,228.1 95.3,225.6 94.4,223.0 93.0,221.3 92.0,220.7 90.3,220.3 88.6,220.5ZM87.4,254.5 89.5,254.0 91.1,254.0 92.8,254.4 94.2,255.4 95.5,257.1 96.6,259.6 96.7,261.3 96.2,262.5 95.5,263.1 94.5,263.4 92.8,263.5 88.6,262.6 86.5,261.3 85.4,259.6 85.0,257.9 85.1,257.1 86.0,255.4 87.4,254.5ZM87.8,255.3 86.6,256.2 86.1,257.9 86.5,259.6 87.8,261.2 89.5,262.1 92.8,262.9 94.5,262.8 95.5,262.2 95.9,261.3 95.8,259.6 94.5,257.2 93.7,256.1 92.8,255.4 91.1,254.8 89.5,254.7 87.8,255.3ZM86.9,287.7 88.6,287.4 91.4,287.7 93.2,288.6 95.0,290.3 96.6,293.7 97.2,296.3 96.8,298.8 96.3,299.7 95.3,300.5 94.5,300.8 92.8,301.0 89.5,300.3 87.0,299.1 85.0,297.1 83.9,294.6 83.9,292.0 84.9,289.4 85.6,288.6 86.9,287.7ZM88.6,288.4 87.8,288.6 86.5,289.4 85.3,291.2 84.9,293.7 85.7,296.3 87.2,298.0 89.5,299.3 92.0,300.2 93.7,300.3 94.5,300.0 95.9,298.8 96.4,297.1 95.9,294.6 94.8,292.0 93.6,290.3 92.0,289.0 90.3,288.5 88.6,288.4ZM90.0,321.0 92.0,321.0 93.7,321.8 95.4,323.5 97.5,326.9 98.3,328.6 98.6,331.2 98.2,332.9 97.0,334.0 95.3,334.1 92.0,332.5 91.1,332.4 88.6,333.3 87.0,333.6 86.1,333.4 85.4,332.9 84.8,332.0 84.4,330.3 84.5,328.6 86.2,323.5 87.8,321.7 90.0,321.0ZM89.5,321.7 87.8,322.6 87.1,323.5 85.7,326.9 85.3,328.6 85.2,330.3 86.0,332.0 87.0,332.6 87.8,332.6 91.1,331.4 92.0,331.5 94.5,333.0 95.3,333.3 96.2,333.3 97.0,332.9 97.8,331.2 97.5,328.6 94.4,323.5 93.7,322.7 92.0,321.7 89.5,321.7Z" fill="#fadf09" fill-rule="evenodd"/>
<path d="M88.6,220.5 90.3,220.3 92.0,220.7 93.0,221.3 94.4,223.0 95.3,225.6 95.8,228.1 95.5,229.8 94.5,231.1 92.8,231.6 91.1,231.2 88.6,229.7 86.3,227.3 85.6,225.6 85.6,223.9 85.8,223.0 87.0,221.4 88.6,220.5ZM89.5,221.3 87.8,222.0 86.9,223.0 86.5,224.7 86.9,226.4 88.2,228.1 90.3,229.8 92.0,230.7 93.7,230.5 94.5,229.8 95.0,228.1 94.7,226.4 93.8,223.9 92.8,222.5 92.0,221.8 90.8,221.3 89.5,221.3ZM87.6,255.4 89.5,254.7 91.2,254.8 92.8,255.4 93.7,256.1 94.5,257.2 95.8,259.6 95.9,261.3 95.5,262.2 94.5,262.8 92.8,262.9 89.5,262.1 87.8,261.2 86.5,259.6 86.1,257.9 86.6,256.2 87.6,255.4ZM88.6,255.8 87.8,256.4 87.3,257.1 87.1,257.9 87.2,258.8 87.8,260.0 89.5,261.2 91.1,261.8 92.8,262.3 94.5,262.0 95.1,261.3 95.2,260.5 94.5,258.9 92.8,256.5 91.1,255.6 89.5,255.5 88.6,255.8ZM88.0,288.6 89.5,288.4 91.1,288.7 92.8,289.6 94.3,291.2 95.6,293.7 96.4,296.3 96.3,298.0 95.9,298.8 95.1,299.7 93.7,300.3 92.8,300.3 90.3,299.7 87.2,298.0 85.7,296.3 85.1,294.6 85.0,292.0 86.1,289.8 88.0,288.6ZM89.5,289.4 87.8,289.9 86.5,291.2 86.0,292.9 86.1,294.5 86.5,295.4 87.8,297.2 90.4,298.8 92.8,299.6 94.5,299.2 95.3,298.3 95.7,297.1 95.4,295.4 94.5,293.4 93.0,291.2 92.1,290.3 91.1,289.7 89.5,289.4ZM89.1,321.8 90.3,321.5 92.0,321.7 93.7,322.7 94.4,323.5 97.5,328.6 97.8,331.2 97.0,332.9 96.2,333.3 95.3,333.3 94.5,333.0 92.0,331.5 91.1,331.4 87.8,332.6 87.0,332.6 86.0,332.0 85.2,330.3 85.3,328.6 85.7,326.9 87.1,323.5 87.8,322.6 89.1,321.8ZM89.5,322.3 87.9,323.5 86.4,326.9 85.9,329.5 86.0,330.3 86.5,331.2 87.0,331.5 87.8,331.7 91.1,330.4 92.0,330.5 94.5,332.2 95.3,332.4 96.2,332.3 97.0,331.2 97.2,330.3 96.8,328.6 96.2,327.4 92.8,322.9 91.1,322.2 89.5,322.3Z" fill="#fa8605" fill-rule="evenodd"/>
<path d="M89.2,221.3 90.3,221.2 92.0,221.8 92.8,222.5 93.8,223.9 94.7,226.4 95.0,228.1 94.5,229.8 93.7,230.5 92.0,230.7 90.3,229.8 88.2,228.1 86.9,226.4 86.5,224.7 86.9,223.0 87.8,222.0 89.2,221.3ZM87.9,256.2 89.5,255.5 90.3,255.5 91.1,255.6 92.5,256.2 93.7,257.5 94.9,259.6 95.2,260.5 95.1,261.3 94.1,262.2 92.8,262.3 89.8,261.3 88.6,260.8 87.5,259.6 87.2,258.8 87.3,257.1 87.9,256.2ZM89.2,289.4 90.3,289.5 92.0,290.2 93.0,291.2 94.5,293.4 95.4,295.4 95.7,297.1 95.3,298.3 94.5,299.2 92.8,299.6 90.4,298.8 87.8,297.2 86.5,295.4 86.1,294.5 86.0,292.9 86.5,291.2 87.8,289.9 89.2,289.4ZM88.8,322.7 90.3,322.2 91.2,322.2 92.5,322.7 93.4,323.5 96.2,327.4 97.0,329.3 97.0,331.2 96.2,332.3 95.3,332.4 94.5,332.2 92.0,330.5 91.1,330.4 87.8,331.7 87.0,331.5 86.5,331.2 86.0,330.3 85.9,329.5 86.2,327.8 87.4,324.4 87.9,323.5 88.8,322.7Z" fill="#fa2d02" fill-rule="evenodd"/>
</g>
<path d="M86.3,202.6 84.6,204.3 83.6,206.0M98.7,204.4 96.9,202.6M83.6,211.5 84.4,213.0 86.1,214.4 87.8,215.1 90.3,215.6 92.8,215.7 95.3,215.4 97.3,214.5 98.7,213.2M98.7,241.2 98.3,240.1 97.2,238.4 95.3,237.0 92.8,236.5 90.3,236.8 88.6,237.6 87.0,239.3 84.7,242.6 83.6,245.2M83.6,248.9 84.3,250.3 85.3,251.2 87.0,251.7 89.5,251.5 94.2,250.3 96.1,249.4 97.8,247.7 98.7,245.6M98.7,268.4 97.9,267.2 96.2,266.2 92.8,265.8 89.5,266.2 87.8,267.0 86.7,268.2 86.0,269.9 85.7,272.4 86.0,280.1 86.7,281.8 88.7,283.5 92.0,284.5 93.7,284.6 95.4,284.3 96.9,283.5 97.7,282.6 98.5,280.9 98.7,279.9M98.7,306.3 97.9,305.6 96.2,304.7 91.1,304.0 87.0,304.3 85.2,304.8 83.6,305.7M83.6,314.5 85.3,315.7 87.0,316.4 89.5,316.9 92.0,316.9 95.3,316.2 97.0,315.3 98.7,313.8M98.7,339.8 97.7,338.8 96.3,338.0 92.8,336.6 91.1,336.4 88.5,337.1 85.4,338.8 84.0,340.5 83.6,341.8M83.6,344.0 84.6,346.5 86.1,348.0 88.6,349.4 90.3,349.8 92.8,349.8 95.3,349.1 97.0,348.1 98.7,346.2M90.3,203.4 88.2,204.3 86.5,206.0 85.8,207.7 85.9,210.3 86.8,212.0 88.6,213.4 91.2,214.0 93.7,213.8 95.6,212.8 97.0,211.1 97.5,209.4 97.2,206.9 96.1,205.2 94.5,204.0 92.8,203.4 90.3,203.4M90.3,239.0 88.6,240.4 86.7,242.6 85.6,244.3 84.9,246.0 85.0,248.6 86.1,250.1 87.0,250.6 87.8,250.7 89.5,250.5 93.7,248.6 95.8,246.9 96.7,245.2 97.0,243.5 96.7,241.8 96.2,240.5 95.3,239.5 94.5,238.9 92.8,238.4 91.1,238.6 90.3,239.0M91.1,267.2 89.4,268.2 88.6,269.0 88.0,270.7 87.8,279.2 88.3,280.9 89.5,282.3 91.1,283.1 92.8,283.3 94.9,282.6 96.3,280.9 96.8,279.2 97.3,271.6 96.6,269.0 95.3,267.7 93.7,267.1 91.1,267.2M89.5,305.5 87.8,305.9 86.5,306.5 84.8,308.2 84.4,309.0 84.4,310.7 85.1,312.4 87.0,314.0 89.5,314.8 92.8,314.7 95.3,313.5 96.5,312.4 97.2,310.7 97.2,309.0 96.8,308.2 95.3,306.6 93.7,305.9 92.0,305.5 89.5,305.5M88.6,338.8 86.6,340.5 86.0,342.2 86.0,343.1 86.4,344.8 87.8,346.5 89.5,347.4 92.0,347.7 94.5,347.0 96.2,345.7 97.1,343.9 97.2,342.2 96.5,340.5 95.8,339.7 93.7,338.4 92.0,338.0 90.3,338.1 88.6,338.8M89.5,205.8 88.3,206.9 87.7,208.6 88.0,210.3 88.6,211.1 89.9,212.0 91.1,212.3 92.8,212.2 94.5,211.2 95.2,210.3 95.5,208.6 95.3,207.7 94.5,206.4 93.7,205.7 92.0,205.2 90.3,205.4 89.5,205.8M91.1,240.5 88.6,242.5 86.5,245.2 86.1,246.1 86.0,247.7 86.4,248.6 87.4,249.4 88.6,249.6 90.3,249.0 93.5,246.9 94.9,245.2 95.3,243.4 95.3,242.6 94.5,241.1 93.7,240.5 92.8,240.2 91.1,240.5M91.1,268.9 90.1,269.9 89.5,271.6 89.4,279.2 89.7,280.1 90.3,281.1 91.5,281.8 92.8,281.9 93.7,281.6 94.4,280.9 94.9,280.1 95.7,271.6 95.1,269.9 94.2,269.0 92.8,268.5 91.1,268.9M88.6,307.3 87.3,308.2 86.7,309.0 86.5,309.9 87.0,311.4 88.0,312.4 89.5,313.1 91.1,313.2 92.8,312.8 94.5,311.6 95.1,309.9 94.5,308.5 93.7,307.7 92.8,307.3 91.1,306.9 88.6,307.3M91.1,339.6 89.5,340.2 88.3,341.4 87.9,342.2 88.1,343.9 88.7,344.8 90.3,345.8 91.1,346.0 92.8,345.9 94.5,344.8 95.1,343.9 95.3,342.2 94.9,341.4 93.7,340.2 92.4,339.7 91.1,339.6M91.2,207.7 90.4,208.6 90.6,209.4 91.1,209.8 92.0,209.8 92.6,209.4 92.8,208.6 92.0,207.7 91.2,207.7M92.0,242.5 90.3,243.3 88.1,245.2 87.6,246.0 87.4,246.9 87.8,247.9 88.6,248.1 89.5,247.9 92.6,245.2 93.1,244.3 93.2,243.5 92.8,242.7 92.0,242.5M92.0,271.4 91.7,272.4 92.0,273.8 92.8,274.1 93.4,272.4 93.2,271.6 92.8,271.2 92.0,271.4M92.0,277.6 91.8,278.4 92.0,279.2 92.9,278.4 92.8,278.1 92.0,277.6M90.3,309.2 89.5,309.9 89.9,310.7 91.1,310.9 91.7,310.7 92.0,309.7 91.1,309.1 90.3,309.2M91.1,341.9 90.7,342.2 90.5,343.1 91.1,343.7 92.0,343.7 92.7,343.1 92.5,342.2 92.0,341.9 91.1,341.9" fill="none" stroke="#04203a" stroke-width="0.3" stroke-opacity="0.3"/>
<path d="M83.6,218.1 85.3,217.4 87.0,217.2 89.5,217.1 92.8,217.5 96.7,218.8 97.8,219.6 98.7,220.7M98.7,232.5 97.9,233.4 96.5,234.1 94.5,234.5 92.8,234.6 90.3,234.4 87.0,233.7 85.3,233.1 83.6,231.9M83.6,253.1 91.2,252.3 93.7,252.3 95.7,252.8 97.0,253.5 98.7,255.3M98.7,263.2 97.0,264.3 93.7,264.8 86.1,264.6 84.4,264.1 83.6,263.5M83.6,284.6 86.1,284.5 95.3,286.5 97.0,287.1 98.7,288.4M98.7,301.1 97.9,301.8 96.2,302.5 93.7,302.8 86.8,302.2 83.6,301.3M83.6,322.5 84.8,321.0 87.0,319.6 89.5,319.1 91.1,319.0 93.7,319.4 96.2,320.5 97.7,321.8 98.7,323.4M98.7,336.3 96.2,336.3 92.0,334.8 91.1,334.7 86.1,336.1 84.4,336.1 83.6,335.8M83.6,220.5 85.3,218.9 87.8,218.0 91.1,218.0 94.5,219.0 96.3,220.5 97.3,222.2 98.1,224.7 98.4,228.1 98.0,230.7 97.0,232.3 95.3,233.4 93.7,233.8 91.1,233.6 88.6,232.8 85.3,230.8 83.6,228.9M83.6,255.2 84.1,254.5 85.3,253.8 87.0,253.4 91.1,252.8 93.7,253.2 95.3,254.1 96.7,255.4 97.6,257.1 98.4,260.5 98.0,262.2 97.0,263.4 95.3,264.2 93.7,264.3 88.6,264.0 87.0,263.7 84.7,262.2 83.6,260.5M83.6,287.2 85.3,286.0 87.0,285.7 90.3,286.1 94.5,287.3 96.3,288.6 97.5,290.3 98.2,292.0 98.7,294.5M98.7,298.0 98.1,299.7 97.0,301.0 95.3,301.9 93.7,302.2 90.3,301.9 87.0,301.2 85.3,300.4 83.6,299.0M83.6,326.4 84.6,323.5 85.6,321.8 87.8,320.3 90.3,319.8 92.8,320.1 95.3,321.3 96.7,322.7 98.7,326.2M98.7,334.9 97.8,335.4 96.2,335.6 94.5,335.1 92.0,334.0 91.1,333.9 87.8,335.0 86.1,335.2 84.4,334.6 83.6,333.6M83.6,223.4 83.9,222.2 85.0,220.5 87.0,219.1 89.5,218.6 91.1,218.7 92.8,219.2 94.9,220.5 96.1,222.2 97.2,225.6 97.5,228.1 97.3,229.8 96.2,231.9 94.5,232.9 92.0,233.1 89.5,232.2 86.1,230.0 84.5,228.1 83.6,225.9M88.1,253.7 90.3,253.4 92.0,253.5 93.7,254.0 95.4,255.4 96.5,257.1 97.4,259.6 97.5,261.3 97.1,262.2 96.5,263.1 95.3,263.7 93.7,263.9 89.5,263.5 87.0,262.7 85.3,261.3 84.7,260.5 84.1,258.8 84.1,257.1 84.3,256.2 84.8,255.4 85.7,254.5 88.1,253.7M83.6,289.4 84.9,287.7 87.0,286.7 88.6,286.5 90.3,286.7 93.5,287.7 95.3,289.2 96.6,291.2 97.5,293.7 98.0,296.3 97.8,298.0 97.0,299.8 95.3,301.2 93.7,301.6 90.3,301.3 87.0,300.2 85.0,298.8 83.6,296.8M98.7,333.5 97.9,334.5 96.2,334.9 94.5,334.5 92.0,333.3 91.1,333.2 87.8,334.3 86.1,334.3 85.0,333.7 84.3,332.9 83.7,330.3 84.2,326.9 86.0,322.7 87.8,321.0 89.5,320.4 92.0,320.5 93.7,321.0 94.8,321.8 96.8,324.4 98.7,328.0M87.8,219.6 89.5,219.3 92.0,219.6 93.7,220.5 95.2,222.2 96.4,225.6 96.8,229.0 96.2,230.7 95.5,231.5 94.5,232.2 92.8,232.5 90.3,231.9 87.0,229.7 85.0,227.3 84.3,224.7 84.6,223.0 85.3,221.6 86.1,220.6 87.8,219.6M87.1,254.5 89.5,253.9 91.1,253.9 92.8,254.3 94.4,255.4 95.6,257.1 96.7,259.6 96.8,261.3 96.5,262.2 95.3,263.2 93.7,263.5 89.5,263.0 87.0,261.9 85.7,260.5 85.0,258.8 84.9,257.9 85.3,256.2 85.9,255.4 87.1,254.5M86.7,287.7 88.6,287.3 91.1,287.6 93.4,288.6 95.1,290.3 96.7,293.7 97.3,296.3 96.9,298.8 96.4,299.7 95.4,300.5 94.5,300.9 92.8,301.1 89.5,300.4 87.0,299.2 84.8,297.1 83.8,294.6 83.8,292.0 84.7,289.4 85.4,288.6 86.7,287.7M89.5,321.0 92.0,321.0 93.9,321.8 95.5,323.5 97.6,326.9 98.3,328.6 98.7,331.2 98.3,332.9 97.0,334.1 95.3,334.2 92.0,332.6 91.1,332.5 88.6,333.4 87.0,333.7 86.1,333.5 85.3,332.9 84.7,332.0 84.3,330.3 84.4,328.6 85.8,324.4 87.0,322.4 87.8,321.6 89.5,321.0M87.6,220.5 89.5,219.9 91.1,220.0 92.8,220.7 94.3,222.2 95.5,224.7 96.2,228.1 95.9,229.8 95.5,230.7 94.5,231.5 92.8,232.0 90.3,231.2 87.3,229.0 85.8,227.3 85.1,224.7 85.4,223.0 86.4,221.3 87.6,220.5M88.9,254.5 90.3,254.4 92.0,254.6 93.4,255.4 94.3,256.2 95.8,258.8 96.3,260.5 96.2,261.5 95.3,262.7 93.7,263.2 90.3,262.6 87.8,261.7 86.5,260.5 85.7,258.8 85.8,257.1 86.1,256.2 86.9,255.4 88.9,254.5M86.8,288.6 88.6,288.0 90.3,288.1 92.8,289.1 94.2,290.3 95.6,292.9 96.7,296.3 96.6,298.0 96.2,299.0 95.3,299.9 93.7,300.6 91.1,300.3 87.8,298.9 85.8,297.1 84.6,294.6 84.6,292.0 85.3,290.2 86.8,288.6M88.5,321.8 90.3,321.3 92.0,321.4 93.7,322.3 94.8,323.5 97.5,327.8 98.0,329.5 98.0,332.0 97.0,333.3 96.2,333.7 95.3,333.6 92.0,331.9 91.2,331.8 87.8,333.0 86.5,332.9 85.5,332.0 84.9,330.3 85.1,327.8 86.7,323.5 87.4,322.7 88.5,321.8M87.5,221.3 89.5,220.6 91.1,220.7 92.5,221.3 93.7,222.4 94.8,224.7 95.5,227.3 95.5,229.0 95.3,229.8 94.5,230.8 92.8,231.4 91.1,231.0 88.6,229.3 86.6,227.3 85.9,225.6 85.9,223.9 86.6,222.2 87.5,221.3M88.1,255.4 89.5,255.0 91.1,255.0 92.3,255.4 93.4,256.2 95.5,259.6 95.7,261.3 95.2,262.2 93.7,262.7 92.0,262.5 88.6,261.5 87.4,260.5 86.8,259.6 86.4,257.9 87.0,256.2 88.1,255.4M87.0,289.4 88.6,288.7 90.3,288.7 92.0,289.3 93.7,290.8 95.3,293.7 96.2,296.3 96.1,298.0 95.3,299.2 94.5,299.8 93.7,300.1 92.0,300.0 89.0,298.8 86.7,297.1 85.6,295.4 85.2,292.9 85.6,291.2 87.0,289.4M89.8,321.8 92.0,321.9 93.3,322.7 96.4,326.9 97.3,328.6 97.7,330.3 97.3,332.0 96.5,332.9 95.3,333.1 94.5,332.8 92.0,331.3 91.1,331.1 88.6,332.2 87.0,332.3 86.1,331.8 85.7,331.2 85.4,330.3 85.5,328.6 86.9,324.4 88.0,322.7 89.8,321.8M89.1,221.3 90.3,221.2 92.0,221.8 92.8,222.5 93.8,223.9 94.7,226.4 95.0,228.1 94.5,229.8 93.7,230.6 92.0,230.7 90.3,229.9 88.2,228.1 86.9,226.4 86.5,224.7 86.9,223.0 87.8,222.0 89.1,221.3M87.9,256.2 88.6,255.8 90.3,255.4 91.1,255.6 92.5,256.2 93.7,257.5 94.9,259.6 95.2,260.5 95.1,261.3 94.2,262.2 92.8,262.3 89.7,261.3 88.6,260.8 87.5,259.6 87.1,258.8 87.3,257.1 87.9,256.2M88.9,289.4 90.3,289.4 92.0,290.1 93.1,291.2 94.2,292.9 95.4,295.4 95.7,297.1 95.3,298.3 94.5,299.2 92.8,299.6 90.4,298.8 87.8,297.2 86.4,295.4 85.9,293.7 86.1,292.0 87.2,290.3 88.9,289.4M88.8,322.7 90.3,322.1 91.1,322.2 92.5,322.7 93.5,323.5 96.2,327.4 97.0,329.2 97.1,331.2 96.2,332.3 95.3,332.5 94.5,332.2 92.0,330.5 91.1,330.4 87.8,331.7 87.0,331.6 86.5,331.2 86.0,330.3 85.9,329.5 86.1,327.8 87.4,324.4 87.9,323.5 88.8,322.7M88.8,222.2 90.3,221.9 91.2,222.1 92.8,223.5 93.7,225.2 94.3,227.3 94.2,229.0 93.7,229.7 92.8,230.1 91.1,229.7 89.1,228.1 87.8,226.6 87.3,225.6 87.3,223.9 87.8,223.0 88.8,222.2M89.2,256.2 91.1,256.2 92.5,257.1 94.3,259.6 94.6,260.5 94.4,261.3 93.7,261.7 92.0,261.5 89.5,260.6 88.6,260.0 87.9,258.8 87.8,257.9 88.1,257.1 89.2,256.2M88.7,290.3 90.3,290.2 91.1,290.5 92.1,291.2 93.7,293.2 95.1,296.3 94.9,298.0 94.1,298.8 92.8,299.1 91.1,298.5 88.8,297.1 87.2,295.4 86.7,293.7 86.9,292.0 87.8,290.8 88.7,290.3M90.0,322.7 91.3,322.7 92.8,323.5 94.4,326.1 95.8,327.8 96.6,329.5 96.6,330.3 96.2,331.5 95.3,331.8 94.5,331.6 92.0,329.7 91.1,329.6 88.6,330.9 87.8,331.0 86.7,330.3 86.5,328.6 87.8,324.6 88.6,323.4 90.0,322.7" fill="none" stroke="#050505" stroke-width="0.32" stroke-opacity="0.6"/>
<g filter="url(#b1)">
<ellipse cx="85.4" cy="219.3" rx="1.7" ry="3.8" fill="#060606" transform="rotate(-30 85.4 219.3)"/>
<ellipse cx="96.0" cy="219.6" rx="1.6" ry="3.4" fill="#060606" transform="rotate(30 96.0 219.6)"/>
<ellipse cx="85.8" cy="230" rx="1.5" ry="2.8" fill="#060606" transform="rotate(20 85.8 230)"/>
<ellipse cx="85.4" cy="254.6" rx="1.6" ry="3.2" fill="#060606" transform="rotate(30 85.4 254.6)"/>
<ellipse cx="96.6" cy="262.8" rx="1.6" ry="3.2" fill="#060606" transform="rotate(30 96.6 262.8)"/>
<ellipse cx="86.2" cy="263.4" rx="1.3" ry="2.6" fill="#060606" transform="rotate(-20 86.2 263.4)"/>
<ellipse cx="95.8" cy="254" rx="1.3" ry="2.4" fill="#060606" transform="rotate(-20 95.8 254)"/>
<ellipse cx="84.8" cy="289" rx="1.5" ry="4.2" fill="#060606" transform="rotate(-10 84.8 289)"/>
<ellipse cx="86.2" cy="300" rx="1.6" ry="2.4" fill="#060606" transform="rotate(20 86.2 300)"/>
<ellipse cx="97.0" cy="291" rx="1.1" ry="3.2" fill="#060606"/>
<ellipse cx="91.6" cy="331.4" rx="1.1" ry="3.2" fill="#060606"/>
<ellipse cx="84.9" cy="331.5" rx="1.0" ry="3.4" fill="#060606"/>
<ellipse cx="97.9" cy="332" rx="1.0" ry="3.2" fill="#060606"/>
<ellipse cx="91.5" cy="336" rx="3.8" ry="1.2" fill="#060606"/>
</g>
</g>
<rect x="83.6" y="202.6" width="15.1" height="147.3" fill="none" stroke="#0a0a0a" stroke-width="1.4"/>
<clipPath id="cp11"><rect x="101.9" y="202.6" width="15.1" height="147.3"/></clipPath>
<g clip-path="url(#cp11)">
<g filter="url(#b05)">
<rect x="101.9" y="202.6" width="15.1" height="147.3" fill="#0000fa"/>
<path d="M106.8,208.6 107.8,208.2 108.6,208.2 113.6,209.3 114.5,210.0 115.0,211.1 114.8,212.8 114.2,213.7 112.8,214.0 107.8,213.2 106.9,212.9 106.1,212.0 105.9,211.1 106.1,209.4 106.8,208.6ZM108.2,240.1 109.5,239.7 110.3,239.7 111.5,240.1 112.5,240.9 112.9,241.8 113.0,242.6 112.9,243.5 112.3,244.3 111.1,245.0 110.3,245.2 108.6,244.9 107.6,244.3 106.9,243.5 106.8,241.8 107.2,240.9 108.2,240.1ZM106.0,307.3 106.9,307.1 107.8,307.2 110.3,308.5 112.8,308.1 113.6,308.2 114.7,309.0 114.9,309.9 114.8,310.7 114.5,311.2 113.6,311.8 112.2,311.6 110.3,310.7 107.8,311.1 106.1,310.8 105.3,309.9 105.1,309.0 105.3,308.2 106.0,307.3ZM107.2,342.2 108.6,341.9 110.3,342.3 111.1,343.2 111.3,343.9 111.1,344.8 110.4,345.6 109.5,346.0 108.6,346.1 107.0,345.6 106.3,344.8 106.1,343.9 106.3,343.1 107.2,342.2Z" fill="#002cfb" fill-rule="evenodd"/>
<path d="M107.5,206.9 108.6,206.9 112.8,207.7 114.7,208.6 115.4,209.4 116.0,211.1 116.0,212.8 115.0,214.5 113.6,215.2 112.8,215.2 107.8,214.4 106.0,213.7 104.9,212.0 104.9,209.4 105.8,207.7 107.5,206.9ZM106.9,208.4 106.1,209.3 105.8,210.3 106.1,211.9 106.9,212.9 107.8,213.2 112.8,214.0 114.2,213.7 114.8,212.8 115.0,211.1 114.5,210.0 113.6,209.3 108.6,208.2 106.9,208.4ZM108.7,238.4 110.3,238.3 112.0,238.7 113.6,240.0 114.2,240.9 114.5,241.8 114.5,243.5 113.6,245.0 112.2,246.0 110.3,246.4 108.0,246.0 106.5,245.2 105.3,243.5 105.2,241.8 105.9,240.1 106.9,239.1 108.7,238.4ZM108.6,239.8 107.8,240.3 106.9,241.4 106.7,242.6 106.9,243.5 107.8,244.5 109.5,245.2 111.1,245.0 112.0,244.6 112.9,243.5 113.0,242.6 112.9,241.8 112.5,240.9 111.1,239.9 110.3,239.7 108.6,239.8ZM106.6,272.4 107.8,272.2 108.6,272.4 109.5,273.0 109.9,274.1 109.6,275.0 108.6,275.7 107.8,275.8 106.1,275.1 105.6,274.1 105.7,273.3 106.6,272.4ZM105.1,306.5 106.1,306.0 106.9,305.9 110.3,306.8 113.6,307.0 114.5,307.2 115.3,307.9 115.9,309.0 116.0,310.7 115.7,311.6 115.1,312.4 113.6,313.1 112.8,313.1 110.3,312.4 106.1,312.2 105.0,311.6 104.0,309.9 104.0,308.2 104.4,307.3 105.1,306.5ZM106.1,307.3 105.3,308.2 105.1,309.0 105.3,309.9 106.1,310.8 107.8,311.1 110.3,310.7 112.2,311.6 113.6,311.8 114.5,311.2 114.8,310.7 114.9,309.9 114.7,309.0 113.6,308.2 112.8,308.1 110.3,308.5 107.8,307.2 106.1,307.3ZM106.1,341.4 106.9,341.0 108.6,340.6 110.3,340.9 111.3,341.4 112.2,342.2 112.7,343.1 112.7,344.8 112.3,345.6 111.1,346.7 109.5,347.3 107.8,347.3 106.1,346.6 105.1,345.6 104.6,343.9 105.2,342.2 106.1,341.4ZM107.8,342.0 106.9,342.4 106.3,343.1 106.1,343.9 106.3,344.8 106.9,345.6 107.8,346.0 109.5,346.0 110.4,345.6 111.1,344.8 111.3,343.9 111.1,343.1 110.3,342.3 109.5,342.0 107.8,342.0Z" fill="#0083fd" fill-rule="evenodd"/>
<path d="M106.0,206.0 106.9,205.6 108.6,205.6 113.6,206.7 115.4,207.7 116.6,209.4 117.0,211.1 116.7,213.7 115.7,215.4 114.5,216.1 112.8,216.2 106.9,215.4 105.3,214.5 104.1,212.8 103.7,210.3 104.4,207.7 105.3,206.6 106.0,206.0ZM107.8,206.8 106.1,207.4 105.3,208.4 104.9,209.4 104.9,212.0 106.0,213.7 107.8,214.4 112.8,215.2 113.6,215.2 115.0,214.5 115.6,213.7 116.1,212.0 115.8,210.3 115.3,209.2 114.5,208.4 113.6,208.0 107.8,206.8ZM107.0,237.5 108.6,237.0 111.1,237.0 112.8,237.6 114.9,239.2 115.8,240.9 116.1,242.6 115.7,244.3 114.5,246.2 113.4,246.9 112.0,247.4 109.5,247.5 106.9,246.8 105.6,246.0 104.7,245.2 103.8,243.5 103.9,240.9 105.3,238.7 107.0,237.5ZM109.5,238.2 107.8,238.7 105.9,240.1 105.2,241.8 105.3,243.5 106.5,245.2 107.8,245.9 110.3,246.4 112.0,246.1 113.5,245.2 114.1,244.3 114.5,243.3 114.5,241.7 113.7,240.1 112.8,239.2 111.1,238.4 109.5,238.2ZM105.6,271.6 107.8,271.1 109.5,271.6 110.3,272.1 111.2,273.3 111.3,274.1 111.2,275.0 110.6,275.8 109.5,276.6 107.8,276.9 106.1,276.5 105.0,275.8 104.4,275.0 104.2,273.3 104.6,272.4 105.6,271.6ZM106.9,272.3 105.7,273.3 105.6,274.1 105.9,275.0 106.9,275.6 107.8,275.8 108.6,275.7 109.5,275.2 109.9,274.1 109.5,273.0 108.6,272.4 106.9,272.3ZM104.4,305.6 105.3,305.1 106.9,304.8 110.3,305.7 113.6,306.0 115.3,306.5 116.2,307.3 117.0,309.0 117.0,311.0 116.5,312.4 115.3,313.8 113.6,314.3 109.5,313.5 106.9,313.5 105.3,313.1 103.6,311.6 103.0,309.9 103.2,307.3 104.4,305.6ZM105.3,306.4 104.4,307.3 104.0,308.2 104.0,309.9 105.0,311.6 106.1,312.2 110.3,312.4 112.8,313.1 113.6,313.1 115.1,312.4 115.7,311.6 116.0,310.7 115.9,309.0 115.3,307.9 114.5,307.2 113.6,307.0 110.3,306.8 106.9,305.9 105.3,306.4ZM107.2,339.7 109.4,339.5 111.1,340.0 112.8,341.0 113.8,342.2 114.1,343.1 114.1,344.8 113.3,346.5 112.0,347.7 109.5,348.5 106.9,348.3 105.0,347.3 103.6,345.7 103.2,343.9 103.6,342.2 105.2,340.5 107.2,339.7ZM106.1,341.4 105.2,342.2 104.6,343.9 105.1,345.6 106.1,346.6 107.8,347.3 109.5,347.3 111.1,346.7 112.3,345.6 112.7,344.8 112.7,343.1 112.2,342.2 111.3,341.4 110.3,340.9 108.6,340.6 106.9,341.0 106.1,341.4Z" fill="#00daff" fill-rule="evenodd"/>
<path d="M106.3,204.3 108.6,204.1 113.6,205.3 115.3,206.0 117.0,207.8 117.0,211.7 116.8,210.3 116.2,208.7 114.5,207.1 108.6,205.6 106.9,205.6 105.3,206.6 104.0,208.6 103.7,211.1 104.5,213.7 105.3,214.5 106.9,215.4 113.6,216.2 115.3,215.7 116.2,214.8 116.7,213.7 117.0,212.1 117.0,215.6 116.2,216.5 115.3,217.0 113.6,217.2 110.3,216.6 106.9,216.4 105.3,216.0 103.6,214.5 102.6,212.0 102.5,210.3 102.8,208.6 104.0,206.0 105.3,204.8 106.3,204.3ZM107.2,235.8 109.5,235.4 112.0,235.6 114.5,236.7 116.3,238.4 117.0,239.4 117.0,245.7 115.3,247.5 112.8,248.5 111.1,248.6 108.6,248.4 105.3,247.3 103.6,246.2 102.7,245.2 102.3,244.3 101.9,242.6 102.3,240.1 103.3,238.4 104.1,237.5 105.3,236.6 107.2,235.8ZM107.8,237.2 105.6,238.4 104.2,240.1 103.9,240.9 103.7,242.6 104.1,244.3 105.6,246.0 106.9,246.8 108.6,247.3 111.1,247.5 113.6,246.8 115.3,245.2 116.0,243.5 116.0,241.8 115.4,240.1 114.0,238.4 112.0,237.2 110.3,236.9 107.8,237.2ZM104.7,270.7 106.1,270.3 107.8,270.2 109.5,270.5 111.1,271.4 112.1,272.4 112.6,273.3 112.6,275.0 112.3,275.8 111.1,277.0 108.6,277.8 106.1,277.6 104.4,276.8 103.4,275.8 102.9,275.0 102.8,273.3 103.6,271.6 104.7,270.7ZM106.1,271.4 104.6,272.4 104.2,273.3 104.4,275.0 105.0,275.8 106.1,276.5 107.8,276.9 109.5,276.6 110.6,275.8 111.2,275.0 111.3,274.1 111.2,273.3 110.6,272.4 109.5,271.6 108.6,271.3 106.9,271.2 106.1,271.4ZM105.1,303.9 106.9,303.8 111.1,304.8 115.3,305.3 117.0,306.4 117.0,309.1 116.2,307.3 114.5,306.1 111.1,305.8 107.8,305.0 106.1,304.9 104.4,305.6 103.6,306.6 103.0,308.2 103.2,310.7 104.4,312.5 106.1,313.4 109.5,313.5 113.6,314.3 114.6,314.1 115.9,313.3 116.5,312.4 117.0,311.0 117.0,313.9 116.8,314.1 115.3,315.3 113.6,315.7 109.5,314.9 106.1,314.6 104.4,314.0 103.6,313.4 102.7,312.4 102.0,310.7 101.9,307.6 102.8,305.6 103.6,304.7 105.1,303.9ZM105.5,338.8 107.8,338.3 110.3,338.4 112.8,339.2 114.4,340.5 115.5,342.2 115.9,343.9 115.6,345.6 114.5,347.4 113.6,348.2 112.0,349.2 109.5,349.8 107.8,349.8 106.1,349.5 103.6,348.1 102.7,347.2 101.9,345.8 101.9,342.2 102.3,341.4 103.6,339.9 105.5,338.8ZM107.8,339.6 106.1,340.0 104.2,341.4 103.3,343.1 103.3,344.8 103.6,345.6 105.0,347.3 106.9,348.3 109.4,348.5 111.1,348.1 112.8,347.0 113.9,345.6 114.2,343.9 113.8,342.2 112.8,341.0 111.1,340.0 109.5,339.5 107.8,339.6Z" fill="#05f0c2" fill-rule="evenodd"/>
<path d="M103.4,203.5 104.4,202.6 112.1,202.6 115.3,203.6 117.0,204.7 117.0,207.8 115.3,206.0 113.6,205.3 108.6,204.1 106.9,204.1 106.1,204.3 104.8,205.2 103.6,206.6 102.8,208.6 102.5,210.3 102.6,212.0 103.1,213.7 104.3,215.4 105.3,216.0 106.9,216.4 114.5,217.2 116.2,216.5 117.0,215.6 117.0,218.1 116.2,218.4 114.5,218.5 110.3,217.5 104.4,217.1 102.5,216.2 101.9,215.5 101.9,205.4 103.4,203.5ZM105.8,234.1 108.6,233.6 112.0,233.4 113.6,233.6 115.3,234.2 117.0,235.2 117.0,239.4 115.3,237.3 113.6,236.2 112.0,235.6 108.6,235.5 106.1,236.2 104.1,237.5 103.3,238.4 102.3,240.1 101.9,242.6 102.3,244.3 102.7,245.2 104.4,246.9 106.1,247.7 108.6,248.4 111.1,248.6 112.8,248.5 114.5,248.0 116.1,246.9 117.0,245.7 117.0,249.3 114.5,250.0 111.1,249.9 105.3,248.8 101.9,247.5 101.9,235.9 103.6,234.8 105.8,234.1ZM103.0,269.9 105.3,269.2 107.8,269.2 110.3,269.8 112.3,270.7 113.4,271.6 114.5,273.3 114.7,275.0 114.0,276.7 112.0,278.1 109.5,278.7 106.1,278.6 103.0,277.5 101.9,276.7 101.9,270.6 103.0,269.9ZM105.3,270.5 103.6,271.6 102.8,273.3 102.9,275.0 104.2,276.7 106.1,277.6 108.6,277.8 110.3,277.4 112.0,276.2 112.6,275.0 112.7,274.1 112.1,272.4 111.4,271.6 110.3,270.9 108.6,270.3 106.9,270.2 105.3,270.5ZM102.9,303.1 104.4,302.5 106.1,302.4 111.1,303.8 116.2,304.1 117.0,304.4 117.0,306.4 116.0,305.6 114.5,305.1 111.1,304.8 107.8,303.9 106.1,303.7 104.4,304.2 103.5,304.8 102.3,306.5 101.9,307.6 101.9,303.8 102.9,303.1ZM101.9,310.7 102.7,312.4 103.5,313.3 104.4,314.0 106.1,314.6 109.4,314.9 113.6,315.7 115.3,315.3 117.0,313.9 117.0,316.7 115.3,317.5 113.6,317.7 109.5,316.5 105.3,315.8 103.6,315.3 101.9,314.3 101.9,310.7ZM104.4,337.1 107.8,336.8 112.0,337.1 114.5,337.8 116.2,338.9 117.0,339.8 117.0,348.2 116.3,349.0 115.3,349.9 101.9,349.8 101.9,345.8 102.8,347.3 104.4,348.7 106.9,349.7 109.5,349.8 112.0,349.2 113.6,348.2 115.2,346.5 115.8,344.8 115.5,342.2 114.4,340.5 112.8,339.2 110.3,338.4 107.8,338.3 105.3,338.9 102.9,340.5 101.9,342.2 101.9,338.3 104.4,337.1Z" fill="#0df070" fill-rule="evenodd"/>
<path d="M101.9,202.6 104.4,202.6 102.7,204.2 101.9,205.4 101.9,202.6ZM112.1,202.6 117.0,202.6 117.0,204.7 115.3,203.6 112.1,202.6ZM101.9,216.2 101.9,215.5 102.7,216.4 104.4,217.1 110.3,217.5 114.5,218.5 116.2,218.4 117.0,218.1 117.0,222.8 116.4,221.3 115.5,220.5 114.0,219.6 111.1,218.6 108.6,218.2 105.3,218.3 103.6,218.5 101.9,219.3 101.9,216.2ZM116.9,225.6 117.0,235.2 115.3,234.2 113.6,233.6 110.3,233.5 105.3,234.2 103.4,235.0 101.9,235.9 101.9,230.4 103.6,231.4 106.1,231.9 108.6,231.8 111.1,231.3 113.6,230.1 115.0,229.0 116.2,227.3 116.9,225.6ZM101.9,247.7 101.9,247.5 103.6,248.3 106.1,249.0 111.1,249.9 114.5,250.0 117.0,249.3 117.0,255.3 115.9,253.7 115.0,252.8 113.4,252.0 111.1,251.2 107.8,250.6 105.3,250.4 103.6,250.5 101.9,251.0 101.9,247.7ZM101.9,266.5 101.9,266.1 102.7,266.8 104.4,267.5 113.6,269.2 115.5,269.0 117.0,267.7 117.0,284.3 115.5,281.8 113.6,280.4 111.1,280.0 101.9,279.8 101.9,276.7 103.6,277.9 105.3,278.4 107.8,278.8 110.3,278.6 112.8,277.7 114.0,276.7 114.7,275.0 114.7,274.1 114.1,272.4 113.4,271.6 112.0,270.5 109.5,269.5 106.9,269.2 105.3,269.2 103.6,269.6 101.9,270.6 101.9,266.5ZM101.9,298.8 101.9,298.4 102.7,299.1 104.4,300.1 110.3,302.5 112.0,302.9 113.6,302.9 115.3,302.5 116.2,302.0 117.0,301.1 117.0,304.4 115.3,304.0 111.1,303.8 106.1,302.4 103.6,302.7 101.9,303.8 101.9,298.8ZM101.9,315.0 101.9,314.3 102.9,315.0 104.4,315.6 109.5,316.5 113.6,317.7 115.3,317.5 117.0,316.7 117.0,339.8 116.1,338.8 114.5,337.8 111.1,337.0 107.8,336.8 105.3,336.9 103.6,337.4 101.9,338.3 101.9,332.4 103.7,333.7 106.1,334.7 109.5,335.4 112.0,335.3 113.6,334.7 114.8,333.7 115.7,332.0 116.0,329.5 115.7,326.9 114.9,324.4 114.1,322.7 112.9,321.0 110.3,318.9 107.8,317.9 104.4,317.5 101.9,317.8 101.9,315.0ZM116.3,349.0 117.0,348.2 117.0,349.9 115.3,349.9 116.3,349.0ZM101.9,349.9 102.1,349.9 101.9,349.9Z" fill="#14f01e" fill-rule="evenodd"/>
<path d="M102.9,218.8 105.3,218.3 110.3,218.4 112.8,219.1 115.5,220.5 116.4,221.3 117.0,222.8 116.9,225.6 115.7,228.1 114.5,229.5 112.8,230.6 109.5,231.7 106.9,231.9 105.3,231.8 103.6,231.4 102.2,230.7 101.9,230.4 101.9,226.5 102.7,228.2 104.4,229.7 106.9,230.4 109.5,230.2 111.1,229.6 113.2,228.1 114.4,226.4 115.0,223.9 114.6,222.2 114.1,221.3 112.8,220.2 110.3,219.2 106.9,218.9 104.4,219.2 102.7,220.2 101.9,221.5 101.9,219.3 102.9,218.8ZM101.9,251.1 102.7,250.7 104.4,250.4 109.5,250.9 113.4,252.0 115.0,252.8 115.9,253.7 117.0,255.3 117.0,267.7 116.2,268.6 114.5,269.3 112.8,269.1 104.4,267.5 102.7,266.8 101.9,266.1 101.9,251.1ZM104.4,252.7 103.3,253.7 102.8,254.5 102.2,257.1 102.5,260.5 103.8,263.9 105.3,265.6 107.8,266.8 111.1,267.2 112.8,266.9 113.5,266.5 114.7,264.8 115.2,263.1 115.4,261.3 115.0,257.9 113.9,255.4 112.0,253.4 109.5,252.3 106.9,252.0 104.4,252.7ZM101.9,280.1 101.9,279.8 103.6,279.7 112.8,280.2 114.6,280.9 116.1,282.6 117.0,284.3 117.0,301.1 115.9,302.2 113.6,302.9 111.1,302.8 103.6,299.7 101.9,298.4 101.9,292.0 103.4,295.4 104.7,297.1 106.4,298.8 110.3,301.4 112.0,301.9 113.6,301.6 114.5,301.1 115.3,299.7 115.7,292.0 115.5,289.4 114.9,286.9 113.6,284.3 112.1,282.6 111.1,282.0 109.5,281.5 106.9,281.3 105.3,281.5 104.3,281.8 103.1,282.6 101.9,284.7 101.9,280.1ZM103.2,317.5 106.9,317.7 109.5,318.4 112.0,320.1 114.1,322.7 114.9,324.4 115.7,326.9 116.0,330.3 115.7,332.0 115.3,332.9 114.8,333.7 113.9,334.6 112.8,335.1 111.1,335.4 107.8,335.1 104.4,334.1 101.9,332.4 101.9,329.3 103.6,331.4 106.1,333.1 108.6,334.1 111.1,334.2 112.5,333.7 113.5,332.9 114.1,332.0 114.5,330.3 114.4,328.6 114.0,326.9 112.5,323.5 111.3,321.8 110.3,320.8 108.6,319.7 106.1,319.0 103.6,319.4 101.9,320.6 101.9,317.8 103.2,317.5Z" fill="#68f217" fill-rule="evenodd"/>
<path d="M103.5,219.6 105.3,219.0 109.5,219.1 111.7,219.6 113.2,220.5 114.6,222.2 115.0,223.9 114.7,225.6 113.9,227.3 112.0,229.2 110.3,230.0 108.6,230.4 106.1,230.3 103.6,229.1 102.7,228.1 101.9,226.5 101.9,221.5 102.5,220.5 103.5,219.6ZM106.1,219.6 104.4,219.9 103.5,220.5 102.8,221.3 102.4,223.0 103.2,226.4 104.4,228.1 106.1,229.1 107.8,229.4 110.3,228.8 112.4,227.3 113.4,225.6 113.7,223.9 113.3,222.2 112.6,221.3 111.1,220.3 109.5,219.8 106.1,219.6ZM104.2,252.8 106.1,252.1 107.8,252.0 109.5,252.3 112.0,253.4 113.9,255.4 115.0,257.9 115.4,261.3 115.2,263.1 114.7,264.8 113.5,266.5 112.8,266.9 111.1,267.2 107.8,266.8 105.3,265.6 103.8,263.9 102.7,261.3 102.2,257.9 102.3,256.2 102.8,254.5 104.2,252.8ZM106.1,254.2 104.9,255.4 104.3,257.1 104.3,259.6 105.1,262.2 106.3,263.9 107.8,265.0 109.5,265.4 111.1,265.1 112.6,263.9 113.3,262.2 113.4,259.6 112.7,257.1 111.1,255.0 109.4,254.0 107.8,253.7 106.1,254.2ZM104.3,281.8 106.9,281.3 110.6,281.8 112.0,282.6 112.8,283.3 114.5,286.0 115.1,287.7 115.6,290.3 115.5,298.0 114.9,300.5 113.6,301.6 112.8,301.9 111.1,301.7 109.5,301.0 107.4,299.7 104.7,297.1 102.5,293.7 101.9,292.0 101.9,284.7 102.7,283.1 104.3,281.8ZM106.1,283.4 104.4,284.8 103.5,286.9 103.4,289.4 104.2,292.9 105.6,295.4 108.4,298.8 109.5,299.7 111.1,300.6 112.8,300.5 113.7,299.7 114.1,298.0 113.7,290.3 113.1,287.7 112.0,285.6 110.3,283.9 108.6,283.2 106.9,283.2 106.1,283.4ZM104.0,319.2 106.1,319.0 108.6,319.7 110.4,321.0 112.5,323.5 114.0,326.9 114.5,329.5 114.1,332.0 112.8,333.5 112.0,334.0 110.3,334.3 108.6,334.1 106.9,333.5 104.4,332.0 102.0,329.5 101.9,326.4 102.8,328.6 104.4,330.6 106.9,332.4 109.4,333.4 111.1,333.3 112.1,332.9 113.0,332.0 113.6,330.3 113.3,327.8 112.2,325.2 110.5,322.7 108.6,321.0 106.1,320.3 104.4,320.5 102.7,321.7 101.9,323.5 101.9,320.6 102.7,319.8 104.0,319.2Z" fill="#bbf40f" fill-rule="evenodd"/>
<path d="M105.7,219.6 107.8,219.6 110.3,220.0 112.0,220.8 113.3,222.2 113.7,223.9 113.4,225.6 112.4,227.3 111.1,228.4 109.5,229.1 106.9,229.3 105.3,228.8 103.7,227.3 102.7,224.7 102.5,222.2 102.8,221.3 103.6,220.4 104.4,219.9 105.7,219.6ZM105.3,220.2 104.4,220.6 103.6,221.3 103.1,223.0 103.9,225.6 105.0,227.3 106.1,228.0 107.8,228.4 109.5,228.2 111.1,227.2 112.0,226.3 112.6,224.7 112.5,223.0 112.1,222.2 111.1,221.3 109.5,220.6 106.9,220.1 105.3,220.2ZM105.6,254.5 106.9,253.8 107.8,253.7 109.4,254.0 111.1,255.0 112.7,257.1 113.4,259.6 113.3,262.2 112.6,263.9 111.1,265.1 109.4,265.4 107.8,265.0 106.3,263.9 105.1,262.2 104.4,260.4 104.2,257.9 104.5,256.2 105.6,254.5ZM107.8,256.1 106.6,257.1 106.3,257.9 106.3,259.6 106.9,261.3 107.6,262.2 108.6,262.8 109.5,262.9 110.3,262.6 111.1,261.6 111.4,260.5 111.3,258.8 110.4,257.1 109.5,256.3 108.6,256.0 107.8,256.1ZM105.9,283.5 107.8,283.1 109.5,283.5 110.3,283.9 112.0,285.6 113.1,287.7 113.7,290.3 114.1,298.0 113.7,299.7 112.8,300.5 111.1,300.6 109.5,299.7 108.4,298.8 105.6,295.4 104.2,292.9 103.4,289.4 103.5,286.9 104.4,284.8 105.9,283.5ZM106.9,285.7 105.8,286.9 105.3,288.6 105.3,290.3 105.8,292.0 107.6,295.4 109.4,298.0 111.1,299.0 112.0,298.9 112.5,298.0 112.6,297.1 111.9,290.3 111.4,288.6 110.5,286.9 109.5,285.9 107.8,285.5 106.9,285.7ZM103.6,321.0 105.3,320.3 107.8,320.6 109.5,321.6 111.2,323.5 113.0,326.9 113.6,329.5 113.4,331.2 113.0,332.0 112.1,332.9 110.3,333.4 108.6,333.2 106.1,331.9 103.4,329.5 102.0,326.9 101.9,323.5 102.7,321.8 103.6,321.0ZM104.4,321.8 103.5,322.7 102.8,324.4 103.0,326.9 103.9,328.6 106.1,330.9 108.6,332.4 110.3,332.7 112.0,332.0 112.9,330.3 112.8,328.6 112.2,326.9 110.7,324.4 109.4,322.8 107.8,321.7 106.1,321.3 104.4,321.8Z" fill="#fadf09" fill-rule="evenodd"/>
<path d="M104.6,220.5 106.1,220.1 107.8,220.2 109.5,220.6 111.2,221.3 112.1,222.2 112.7,223.9 112.4,225.6 111.9,226.4 110.3,227.8 108.6,228.4 106.9,228.3 105.3,227.5 103.9,225.6 103.1,223.0 103.6,221.3 104.6,220.5ZM104.4,221.3 103.9,222.2 104.0,223.9 104.9,225.6 106.1,226.9 106.9,227.4 108.6,227.5 110.3,226.7 111.3,225.6 111.7,223.9 111.5,223.0 110.3,221.8 106.9,220.7 105.3,220.8 104.4,221.3ZM107.5,256.2 108.6,256.0 109.5,256.3 110.4,257.1 111.3,258.8 111.4,260.5 111.1,261.6 110.3,262.6 109.5,262.9 108.6,262.8 107.8,262.4 106.9,261.4 106.5,260.5 106.2,258.8 106.3,257.9 106.6,257.1 107.5,256.2ZM106.5,286.0 107.8,285.5 108.6,285.6 110.3,286.7 111.1,287.9 111.9,290.3 112.6,297.1 112.5,298.0 112.0,298.9 111.1,299.0 109.4,298.0 107.6,295.4 106.1,292.7 105.3,290.3 105.3,288.6 105.8,286.9 106.5,286.0ZM104.4,321.8 106.1,321.3 107.8,321.7 109.5,322.8 110.7,324.4 112.2,326.9 112.8,328.6 112.9,330.3 112.0,332.0 110.3,332.7 108.6,332.4 106.1,330.9 103.9,328.6 103.0,326.9 102.8,324.4 103.5,322.7 104.4,321.8ZM105.3,322.6 104.2,323.5 103.7,325.2 103.9,326.9 104.4,327.9 105.6,329.5 107.8,331.3 109.5,332.0 111.1,331.7 112.0,330.8 112.3,329.5 111.9,327.8 111.0,326.1 109.4,324.0 107.8,322.7 106.1,322.4 105.3,322.6Z" fill="#fa8605" fill-rule="evenodd"/>
<path d="M104.3,221.3 105.3,220.8 106.9,220.7 110.3,221.8 111.5,223.0 111.7,223.9 111.3,225.6 110.3,226.7 108.6,227.5 106.9,227.4 106.1,226.9 104.9,225.6 104.0,223.9 103.9,222.2 104.3,221.3ZM105.2,322.7 106.1,322.4 107.8,322.7 109.4,324.0 111.0,326.1 111.9,327.8 112.3,329.5 112.0,330.8 111.1,331.7 110.3,332.0 108.6,331.7 106.5,330.3 104.9,328.6 103.9,326.9 103.7,325.2 104.2,323.5 105.2,322.7Z" fill="#fa2d02" fill-rule="evenodd"/>
</g>
<path d="M117.0,206.5 116.2,205.7 114.5,204.7 108.6,203.2 106.9,203.2 105.3,203.8 103.6,205.2 102.6,206.9 101.9,209.3M101.9,211.9 102.3,213.7 103.3,215.4 104.3,216.2 105.3,216.6 110.3,217.1 114.5,217.8 116.2,217.4 117.0,216.7M117.0,237.6 115.3,236.0 113.6,235.1 112.0,234.7 109.5,234.6 106.9,235.0 104.8,235.8 103.6,236.7 101.9,238.6M101.9,245.6 103.1,246.9 104.5,247.7 106.9,248.6 109.5,249.0 113.6,249.1 115.3,248.6 117.0,247.4M106.1,269.8 103.6,270.6 102.6,271.6 102.1,272.4 101.9,273.3 102.1,275.0 103.2,276.7 105.3,277.8 107.8,278.3 110.3,278.0 112.5,276.7 113.1,275.8 113.5,274.1 112.9,272.4 112.2,271.6 111.0,270.7 109.5,270.1 107.8,269.8 106.1,269.8M117.0,305.5 115.3,304.7 111.1,304.3 107.8,303.4 106.1,303.2 104.4,303.4 103.6,303.9 101.9,305.6M101.9,312.5 102.7,313.6 104.4,314.7 112.8,316.4 114.5,316.4 115.3,316.2 117.0,315.0M101.9,347.7 103.4,349.0 104.9,349.9M112.5,349.9 115.0,348.2 115.8,347.3 116.6,345.6 116.8,343.9 116.6,342.2 115.7,340.5 114.9,339.7 113.6,338.8 112.0,338.1 110.3,337.7 107.8,337.6 104.4,338.4 102.7,339.5 101.9,340.4M117.0,210.7 116.2,208.5 114.5,207.0 112.8,206.4 107.8,205.4 106.1,205.8 104.8,206.9 103.9,208.6 103.6,210.3 103.7,212.0 104.4,213.7 105.3,214.7 106.9,215.5 112.8,216.3 114.5,216.2 115.3,215.8 116.2,215.0 117.0,212.9M106.9,237.4 105.4,238.4 104.6,239.2 103.7,240.9 103.7,243.5 104.5,245.2 105.4,246.0 106.8,246.9 109.5,247.6 112.0,247.5 113.6,246.9 114.5,246.3 115.9,244.3 116.2,242.6 116.0,240.9 115.0,239.2 113.6,237.9 111.1,236.9 108.6,236.9 106.9,237.4M106.1,271.3 104.5,272.4 104.1,273.3 104.2,275.0 104.9,275.8 106.1,276.6 107.8,277.0 109.5,276.7 110.8,275.8 111.3,275.0 111.5,274.1 111.3,273.3 110.8,272.4 109.7,271.6 108.6,271.2 106.1,271.3M117.0,308.7 116.2,307.1 114.5,306.0 110.3,305.6 106.9,304.7 105.3,305.0 104.2,305.6 103.1,307.3 102.8,309.0 103.1,310.7 103.6,311.7 104.4,312.6 106.1,313.5 109.5,313.7 113.6,314.5 114.8,314.1 116.0,313.3 117.0,311.4M106.9,339.6 104.9,340.5 103.5,342.2 103.0,343.9 103.6,346.0 104.8,347.3 106.9,348.4 109.5,348.6 112.0,347.8 113.5,346.5 114.0,345.6 114.4,343.9 113.9,342.2 112.8,340.8 111.1,339.8 109.5,339.4 106.9,339.6M106.9,207.3 105.5,208.6 105.0,210.3 105.2,212.0 106.1,213.3 107.8,214.1 112.8,214.9 114.5,214.5 115.3,213.7 115.7,212.8 115.8,211.1 115.3,209.8 114.5,208.8 112.8,208.1 108.6,207.2 106.9,207.3M107.8,239.1 106.5,240.1 105.6,241.8 105.8,243.5 106.2,244.3 107.8,245.6 109.5,246.1 111.1,246.0 112.9,245.2 113.7,244.3 114.2,242.6 113.8,240.9 113.2,240.1 112.0,239.1 110.3,238.6 107.8,239.1M106.9,272.8 106.2,273.3 106.0,274.1 106.5,275.0 107.8,275.4 109.0,275.0 109.5,274.1 109.2,273.3 107.8,272.6 106.9,272.8M106.1,306.3 104.8,307.3 104.2,309.0 104.7,310.7 105.6,311.6 106.9,312.0 110.3,312.0 112.8,312.8 113.6,312.8 114.5,312.5 115.4,311.6 115.7,310.7 115.6,309.0 115.2,308.2 114.5,307.6 113.6,307.3 110.3,307.2 107.8,306.3 106.1,306.3M106.9,341.3 105.7,342.2 105.1,343.1 105.0,343.9 105.3,345.1 106.1,346.2 107.8,347.0 109.5,347.0 110.8,346.5 111.8,345.6 112.4,343.9 112.3,343.1 111.7,342.2 110.6,341.4 109.4,341.0 107.8,341.1 106.9,341.3M107.8,209.3 106.9,210.3 106.9,211.2 107.8,212.1 110.3,212.2 112.8,213.0 113.6,212.8 114.1,212.0 114.0,211.1 113.3,210.3 107.8,209.3M109.5,240.8 108.2,241.8 108.0,242.6 108.6,243.6 109.5,244.0 110.3,244.0 111.3,243.5 111.7,242.6 111.5,241.8 110.5,240.9 109.5,240.8M106.9,308.5 106.4,309.0 106.9,309.8 107.8,309.4 107.9,309.0 106.9,308.5M108.6,343.0 107.8,343.5 107.6,343.9 107.8,344.5 108.6,344.9 109.4,344.8 109.8,343.9 109.5,343.3 108.6,343.0" fill="none" stroke="#04203a" stroke-width="0.3" stroke-opacity="0.3"/>
<path d="M101.9,218.9 104.4,218.2 110.3,218.2 114.5,219.6 116.1,220.5 117.0,221.3M117.0,227.0 116.4,228.1 114.8,229.8 112.8,231.0 111.1,231.6 108.6,232.1 106.1,232.2 103.6,231.8 101.9,231.1M101.9,250.4 103.6,250.1 106.1,250.2 111.7,251.1 115.3,252.5 117.0,253.9M117.0,269.2 116.2,269.7 114.5,269.8 103.6,267.7 101.9,267.0M101.9,279.3 106.9,279.7 113.6,279.8 115.3,280.5 117.0,282.5M117.0,301.9 116.2,302.4 114.5,303.0 112.0,303.1 110.3,302.7 106.9,301.3 103.6,300.3 101.9,299.4M101.9,317.3 105.3,317.2 108.6,317.8 110.3,318.5 112.6,320.1 114.2,321.8 115.2,323.5 116.0,326.1 116.5,329.5 116.4,331.2 115.9,332.9 114.5,334.6 112.8,335.4 110.3,335.6 106.9,335.2 103.6,334.2 101.9,333.1M101.9,220.5 103.6,219.1 105.3,218.7 108.6,218.6 111.1,219.0 113.6,220.2 115.0,221.3 115.5,222.2 115.8,223.9 115.2,226.4 114.2,228.1 112.8,229.4 110.3,230.6 107.8,231.1 105.3,230.8 103.2,229.8 101.9,228.5M101.9,253.6 103.4,252.0 105.3,251.4 108.6,251.4 112.0,252.4 113.9,253.7 115.2,255.4 116.1,257.9 116.6,261.3 116.3,263.9 115.3,266.4 114.5,267.3 112.8,268.0 108.6,267.6 104.8,266.5 103.0,264.8 101.9,262.4M101.9,282.0 103.6,280.9 106.1,280.6 110.3,280.8 112.8,281.8 114.4,283.5 115.8,286.0 116.5,288.6 116.8,292.0 116.2,299.7 115.3,301.4 113.6,302.3 112.0,302.4 110.3,302.0 106.2,299.7 104.0,298.0 101.9,295.0M101.9,319.4 103.6,318.6 106.1,318.4 108.6,319.0 110.5,320.1 112.2,321.8 113.3,323.5 114.6,326.9 115.1,329.5 114.9,331.2 114.2,332.9 112.8,334.2 111.1,334.7 108.6,334.6 106.1,333.8 103.6,332.3 101.9,330.6M101.9,222.2 102.7,220.5 104.4,219.4 106.1,219.1 109.5,219.2 111.1,219.6 112.8,220.5 114.3,222.2 114.7,223.9 114.1,226.4 112.8,228.1 111.1,229.3 108.6,230.1 106.1,230.0 103.9,229.0 102.5,227.3 101.9,225.1M105.1,252.8 106.1,252.5 107.8,252.4 110.3,252.9 111.8,253.7 112.7,254.5 113.9,256.2 114.8,258.8 114.9,262.2 114.1,264.8 113.5,265.6 112.4,266.5 110.3,266.9 108.6,266.7 106.9,266.1 105.0,264.8 103.9,263.1 102.9,260.5 102.7,257.1 103.4,254.5 104.0,253.7 105.1,252.8M101.9,286.9 102.7,284.1 103.6,282.9 104.4,282.3 106.9,281.6 108.6,281.7 110.3,282.1 112.3,283.5 114.0,286.0 114.9,288.6 115.2,292.0 115.2,298.0 114.9,299.7 114.5,300.5 113.6,301.3 112.0,301.6 110.3,301.2 109.1,300.5 106.9,298.8 105.2,297.1 103.0,293.7 102.4,292.0 101.9,289.7M101.9,321.1 103.6,319.7 105.3,319.3 107.8,319.7 109.5,320.5 111.1,322.1 112.6,324.4 114.0,327.8 114.3,329.5 114.1,331.2 113.2,332.9 112.0,333.7 110.3,334.1 107.8,333.6 105.3,332.3 103.6,331.0 101.9,328.8M105.3,219.6 107.8,219.6 110.3,219.9 112.0,220.7 113.4,222.2 113.8,223.9 113.5,225.6 112.5,227.3 111.1,228.5 109.5,229.2 106.9,229.4 105.3,228.9 103.5,227.3 102.6,224.7 102.5,222.2 103.4,220.5 105.3,219.6M106.8,253.7 108.6,253.6 110.9,254.5 112.4,256.2 113.2,257.9 113.6,260.5 113.5,262.2 112.8,263.9 112.0,264.9 111.1,265.4 109.5,265.6 107.0,264.8 105.4,263.1 104.5,261.3 104.0,258.8 104.3,256.2 105.3,254.6 106.8,253.7M105.4,283.5 106.9,283.0 109.5,283.3 111.2,284.3 112.9,286.9 113.9,290.3 114.2,298.0 113.8,299.7 112.8,300.6 112.0,300.8 110.7,300.5 108.3,298.8 105.5,295.4 104.0,292.9 103.3,290.3 103.2,287.7 103.9,285.2 104.5,284.3 105.4,283.5M101.9,323.1 102.7,321.6 104.4,320.4 106.9,320.3 108.6,320.9 110.3,322.2 111.8,324.4 113.1,326.9 113.7,329.5 113.5,331.2 112.8,332.4 111.1,333.4 109.4,333.4 106.9,332.5 104.4,330.7 102.7,328.6 101.9,326.8M104.1,220.5 105.3,220.0 107.8,220.0 110.3,220.5 111.8,221.3 112.6,222.2 113.1,223.9 113.0,224.7 112.3,226.4 110.4,228.1 108.6,228.7 106.9,228.7 105.3,228.0 103.9,226.4 103.0,223.9 102.9,222.2 103.3,221.3 104.1,220.5M106.7,255.4 107.8,255.0 109.5,255.2 110.8,256.2 111.9,257.9 112.3,259.6 112.2,261.3 111.5,263.1 110.3,263.9 108.6,264.0 107.8,263.6 106.9,262.9 105.9,261.3 105.4,259.6 105.3,257.9 105.9,256.2 106.7,255.4M105.9,285.2 106.9,284.6 107.8,284.4 109.5,284.9 110.9,286.0 111.9,287.7 112.6,290.3 113.2,297.1 113.0,298.8 112.2,299.7 111.1,299.7 109.5,298.8 107.3,296.3 105.4,292.9 104.5,290.3 104.4,288.6 104.8,286.9 105.9,285.2M105.8,321.0 107.8,321.3 109.5,322.3 111.1,324.3 112.5,326.9 113.1,328.6 113.1,330.3 112.4,332.0 111.1,332.8 109.5,332.9 106.9,331.9 104.4,329.9 103.0,327.8 102.3,325.2 102.6,323.5 103.6,321.8 104.4,321.3 105.8,321.0M105.0,220.5 106.9,220.3 109.5,220.8 110.8,221.3 111.8,222.2 112.2,223.0 112.4,224.7 112.1,225.6 111.1,226.9 109.5,227.9 107.8,228.2 106.1,227.7 105.3,227.1 104.2,225.6 103.3,223.0 103.4,222.2 103.8,221.3 105.0,220.5M107.9,257.1 108.6,257.0 109.5,257.3 110.5,258.8 110.6,260.5 110.3,261.4 109.5,261.9 108.6,261.9 107.8,261.3 107.0,259.6 107.1,257.9 107.9,257.1M106.7,286.9 107.8,286.4 108.6,286.4 109.5,286.9 110.8,288.6 111.3,290.3 112.1,297.1 111.9,298.0 111.1,298.4 110.3,298.1 109.3,297.1 107.6,294.6 106.4,292.0 105.8,289.4 106.1,287.9 106.7,286.9M105.2,321.8 106.9,321.7 108.6,322.5 109.8,323.5 111.1,325.3 112.4,327.8 112.7,329.5 112.4,331.2 111.6,332.0 110.3,332.5 108.6,332.2 106.1,330.7 104.1,328.6 103.3,326.9 103.1,324.4 103.9,322.7 105.2,321.8M104.3,221.3 105.3,220.8 106.9,220.7 110.3,221.7 111.5,223.0 111.7,223.9 111.3,225.6 110.3,226.8 108.6,227.5 106.9,227.4 106.1,227.0 104.8,225.6 104.0,223.9 103.8,222.2 104.3,221.3M105.1,322.7 106.1,322.4 107.8,322.7 109.5,324.0 111.0,326.1 111.9,327.8 112.3,329.5 112.0,330.9 111.1,331.8 110.3,332.0 108.6,331.7 106.5,330.3 104.8,328.6 103.9,326.9 103.6,325.2 104.2,323.5 105.1,322.7M105.0,221.3 106.1,221.0 106.9,221.1 109.9,222.2 110.7,223.0 111.0,223.9 111.0,224.7 110.6,225.6 109.6,226.4 108.6,226.8 106.9,226.7 106.1,226.1 105.0,224.7 104.2,223.0 104.3,222.2 105.0,221.3M105.2,323.5 106.1,323.1 107.8,323.4 109.0,324.4 110.3,325.8 111.7,328.6 111.7,330.3 111.1,331.2 110.3,331.5 108.6,331.2 107.2,330.3 105.5,328.6 104.5,326.9 104.3,326.1 104.5,324.4 105.2,323.5" fill="none" stroke="#050505" stroke-width="0.32" stroke-opacity="0.6"/>
<g filter="url(#b1)">
<ellipse cx="110.6" cy="225.8" rx="1.5" ry="10" fill="#060606" transform="rotate(-52 110.6 225.8)"/>
<ellipse cx="115.0" cy="266.5" rx="1.3" ry="5.4" fill="#060606" transform="rotate(-35 115.0 266.5)"/>
<ellipse cx="115.4" cy="298.5" rx="1.3" ry="5.4" fill="#060606" transform="rotate(-35 115.4 298.5)"/>
<ellipse cx="103.4" cy="324" rx="1.2" ry="4.4" fill="#060606"/>
<ellipse cx="113.2" cy="334.8" rx="1.5" ry="6.8" fill="#060606" transform="rotate(-40 113.2 334.8)"/>
<ellipse cx="103.2" cy="256" rx="0.9" ry="4" fill="#060606"/>
<ellipse cx="103.2" cy="287" rx="0.9" ry="4" fill="#060606"/>
</g>
</g>
<rect x="101.9" y="202.6" width="15.1" height="147.3" fill="none" stroke="#0a0a0a" stroke-width="1.4"/>
<clipPath id="cp12"><rect x="119.8" y="202.6" width="15.1" height="147.3"/></clipPath>
<g clip-path="url(#cp12)">
<g filter="url(#b05)">
<rect x="119.8" y="202.6" width="15.1" height="147.3" fill="#0000fa"/>
<path d="M125.8,206.9 126.5,206.3 128.2,206.2 129.9,207.1 131.2,208.6 132.3,211.1 132.6,212.8 132.6,215.4 132.1,216.2 131.5,216.5 130.7,215.6 129.5,212.0 128.3,210.3 126.1,208.6 125.6,207.7 125.8,206.9ZM124.7,234.1 124.8,235.1 124.7,234.1ZM123.0,263.1 124.0,262.8 124.8,263.9 124.8,265.6 124.0,266.5 123.2,266.1 122.9,265.6 122.7,263.9 123.0,263.1ZM123.2,297.1 124.2,297.1 125.0,298.0 125.2,298.8 125.0,300.5 124.0,301.8 123.2,301.8 122.5,300.5 122.3,299.7 122.6,298.0 123.2,297.1ZM129.6,297.1 129.9,296.4 130.7,296.7 130.7,298.2 129.9,298.3 129.6,297.1ZM125.6,334.6 126.5,334.2 127.3,335.4 127.1,337.1 126.5,337.8 125.7,337.6 125.0,336.3 125.1,335.4 125.6,334.6ZM127.9,344.8 129.3,344.8 130.6,345.6 130.8,346.5 130.4,347.3 129.0,348.0 128.2,348.0 126.9,347.3 126.5,346.5 126.7,345.6 127.9,344.8Z" fill="#002cfb" fill-rule="evenodd"/>
<path d="M126.2,204.3 128.2,204.3 129.9,204.9 131.5,206.2 132.6,207.7 133.6,211.1 133.8,214.5 133.4,217.1 132.4,218.4 131.5,218.4 130.7,217.7 128.2,212.1 124.8,209.5 124.1,208.6 123.7,206.9 123.9,206.0 124.8,204.9 126.2,204.3ZM126.5,206.3 125.8,206.9 125.7,207.4 126.1,208.6 129.0,211.1 130.7,215.6 131.5,216.5 132.1,216.2 132.6,215.4 132.6,212.8 132.4,211.3 131.5,209.1 130.6,207.7 129.0,206.6 127.3,206.1 126.5,206.3ZM123.1,232.4 124.0,231.6 124.8,231.6 125.7,232.4 126.5,235.0 126.1,236.7 125.7,237.3 124.8,237.5 124.0,237.1 123.2,235.9 122.8,234.1 123.1,232.4ZM124.8,234.0 124.8,235.1 124.8,234.0ZM131.4,248.6 132.4,248.3 133.1,249.4 133.4,250.3 133.2,252.4 132.4,253.5 131.5,253.2 131.0,252.0 130.9,250.3 131.4,248.6ZM122.4,261.3 123.2,260.9 124.0,261.0 124.6,261.3 125.4,262.2 126.0,263.9 126.1,265.6 125.7,267.1 124.8,268.0 124.0,268.3 123.2,268.1 122.3,267.4 121.5,265.6 121.5,263.1 122.4,261.3ZM123.2,262.9 122.7,263.9 122.6,264.8 123.2,266.1 124.0,266.5 124.8,265.6 124.8,263.9 124.0,262.8 123.2,262.9ZM129.0,294.6 129.9,294.3 130.7,294.4 131.9,295.4 132.5,297.1 132.4,298.8 132.1,299.7 131.5,300.5 130.7,300.9 129.9,300.9 127.4,299.5 126.5,300.3 124.8,303.1 124.0,303.7 123.2,303.7 122.3,303.1 121.4,300.5 121.5,298.0 122.1,296.3 123.2,295.2 124.0,295.2 124.8,295.5 126.5,296.7 127.3,296.4 129.0,294.6ZM129.9,296.4 129.6,297.1 129.7,298.0 129.9,298.3 130.7,298.2 130.7,296.7 129.9,296.4ZM124.0,297.0 123.2,297.1 122.4,298.8 122.5,300.5 123.2,301.8 124.0,301.8 124.5,301.4 125.2,299.7 125.0,298.0 124.0,297.0ZM130.6,329.5 131.3,329.5 130.7,329.7 130.6,329.5ZM125.7,332.9 126.5,332.6 127.3,332.9 127.9,334.6 127.8,338.0 127.3,339.1 126.5,339.5 125.7,339.3 124.8,338.7 124.0,337.1 123.9,336.3 124.2,334.6 124.8,333.5 125.7,332.9ZM125.7,334.4 125.1,335.4 125.0,336.3 125.7,337.6 126.5,337.8 127.1,337.1 127.3,335.4 126.5,334.2 125.7,334.4ZM126.2,343.9 127.3,343.3 128.2,343.2 130.5,343.9 131.7,344.8 132.3,345.6 132.5,346.5 132.3,347.3 131.5,348.4 129.9,349.2 128.2,349.3 126.5,348.8 125.6,348.2 125.0,347.3 124.8,346.5 125.4,344.8 126.2,343.9ZM128.2,344.7 127.3,345.1 126.7,345.6 126.5,346.5 126.9,347.3 128.2,348.0 129.9,347.8 130.4,347.3 130.8,346.5 130.6,345.6 129.3,344.8 128.2,344.7Z" fill="#0083fd" fill-rule="evenodd"/>
<path d="M123.6,203.5 125.2,202.6 129.1,202.6 131.5,203.7 133.6,206.0 134.7,209.4 134.9,215.5 134.5,217.9 133.2,219.8 132.4,220.1 131.5,219.9 130.7,219.2 129.9,217.9 128.2,213.8 127.5,212.8 124.1,210.3 122.7,208.6 122.4,207.7 122.2,206.0 122.8,204.3 123.6,203.5ZM126.5,204.2 124.8,204.9 124.0,205.8 123.7,206.9 124.0,208.3 124.8,209.5 128.2,212.1 130.7,217.7 131.5,218.4 132.4,218.4 133.4,217.1 133.8,214.5 133.6,211.1 132.9,208.6 132.1,206.9 130.7,205.4 129.0,204.5 126.5,204.2ZM122.6,230.7 123.2,230.2 124.0,230.0 124.8,230.2 126.2,231.5 127.0,233.3 127.4,235.0 127.3,236.8 126.6,238.4 125.7,238.9 124.8,238.9 123.7,238.4 122.9,237.5 122.0,235.8 121.7,233.3 122.0,231.5 122.6,230.7ZM123.2,232.4 122.8,234.1 123.2,235.9 124.0,237.1 124.8,237.5 125.7,237.3 126.1,236.7 126.5,235.0 125.7,232.4 124.8,231.6 124.0,231.6 123.2,232.4ZM131.2,246.0 131.5,245.7 132.4,245.7 133.2,246.2 134.2,247.7 134.8,250.3 134.7,252.8 134.1,254.5 133.2,255.6 132.4,255.9 131.5,255.5 130.7,254.3 129.9,251.1 130.2,247.7 130.7,246.5 131.2,246.0ZM131.5,248.4 131.0,249.4 130.9,251.1 131.5,253.2 132.4,253.5 133.2,252.4 133.4,250.3 133.1,249.4 132.4,248.3 131.5,248.4ZM122.1,259.6 123.2,259.4 124.8,260.0 126.1,261.3 126.9,263.1 127.3,265.6 127.0,267.3 126.0,269.0 124.8,269.7 123.2,269.6 122.2,269.0 120.9,267.3 120.3,265.6 120.1,263.9 120.3,262.2 121.1,260.5 122.1,259.6ZM123.2,260.9 122.3,261.4 121.8,262.2 121.5,263.1 121.4,264.8 121.8,266.5 122.3,267.3 123.2,268.1 124.0,268.3 124.8,268.0 125.7,267.1 126.1,265.6 126.0,263.9 125.7,262.8 124.8,261.5 124.0,261.0 123.2,260.9ZM122.5,293.7 124.0,293.5 126.5,294.1 129.9,293.0 130.7,293.1 132.1,293.7 133.3,295.4 133.8,298.0 133.4,300.5 132.4,302.2 131.5,302.7 130.7,302.7 128.2,302.1 127.3,302.2 126.5,302.8 124.8,304.9 124.0,305.5 123.2,305.7 122.3,305.3 121.5,304.4 120.8,303.1 120.2,299.7 120.5,297.1 121.0,295.4 121.5,294.6 122.5,293.7ZM129.0,294.5 127.3,296.4 126.5,296.7 124.8,295.5 124.0,295.2 123.2,295.2 122.1,296.3 121.5,298.0 121.4,300.5 122.3,303.1 123.2,303.7 124.0,303.7 124.8,303.1 126.5,300.3 127.3,299.5 129.9,300.9 130.7,300.9 131.5,300.5 132.1,299.7 132.4,298.8 132.5,297.1 131.9,295.4 130.7,294.4 129.9,294.3 129.0,294.5ZM130.1,327.8 131.5,327.3 132.4,327.5 133.2,328.6 133.4,330.3 133.0,331.2 132.4,331.6 129.9,331.9 129.0,332.4 128.5,334.6 128.3,340.5 128.6,341.4 129.6,342.2 133.5,344.8 134.1,345.6 134.2,347.3 133.2,349.0 132.0,349.9 125.4,349.9 123.6,348.2 123.0,346.5 123.4,344.8 124.9,342.2 124.9,341.4 123.0,338.0 122.7,336.3 122.9,334.6 124.0,332.5 124.8,331.8 127.3,330.8 130.1,327.8ZM130.7,329.4 130.7,329.7 131.3,329.5 130.7,329.4ZM125.7,332.9 124.8,333.5 124.2,334.6 123.9,336.3 124.0,337.1 124.8,338.7 125.7,339.3 126.5,339.5 127.3,339.1 127.8,338.0 127.9,334.6 127.3,332.9 126.5,332.6 125.7,332.9ZM126.5,343.7 125.4,344.8 124.9,345.6 125.0,347.3 125.7,348.2 127.3,349.2 129.0,349.4 130.7,348.9 131.8,348.2 132.3,347.3 132.5,346.5 132.3,345.6 131.7,344.8 130.5,343.9 129.0,343.3 127.3,343.3 126.5,343.7Z" fill="#00daff" fill-rule="evenodd"/>
<path d="M120.6,203.5 120.8,202.6 125.2,202.6 123.6,203.5 122.4,205.2 122.2,206.9 122.7,208.6 124.1,210.3 127.5,212.8 128.5,214.5 129.9,217.9 130.7,219.2 131.5,219.9 132.4,220.1 133.2,219.8 134.1,218.8 134.7,217.1 134.9,215.5 134.9,221.3 133.2,221.8 132.4,221.7 130.7,220.6 129.5,218.8 127.4,214.1 123.2,210.6 121.5,208.6 120.5,206.0 120.6,203.5ZM129.1,202.6 134.9,202.6 134.9,211.7 134.5,208.6 133.6,206.0 131.5,203.7 129.1,202.6ZM121.0,229.0 122.3,228.4 124.0,228.5 125.7,229.6 126.5,230.6 127.7,233.3 128.5,236.7 128.5,238.4 128.2,239.2 127.4,240.1 125.7,240.4 124.0,239.8 122.4,238.4 121.2,236.7 120.2,234.1 119.9,232.4 120.0,230.7 120.3,229.8 121.0,229.0ZM123.2,230.2 122.3,231.0 121.8,232.4 121.7,234.1 122.0,235.8 122.9,237.5 123.7,238.4 124.8,238.9 125.7,238.9 126.5,238.5 127.1,237.5 127.4,235.8 127.2,234.1 126.5,232.1 125.7,230.8 124.8,230.2 124.0,230.0 123.2,230.2ZM130.3,243.5 130.7,242.9 131.5,242.6 132.4,242.8 133.6,243.5 134.9,244.7 134.9,258.1 134.1,258.6 133.2,258.7 132.4,258.5 131.5,257.8 130.7,256.5 129.9,254.3 129.3,251.1 129.2,248.6 129.6,245.2 130.3,243.5ZM131.5,245.7 130.7,246.5 130.2,247.7 129.9,251.1 130.7,254.3 131.5,255.5 132.4,255.9 133.2,255.6 134.1,254.5 134.7,252.8 134.8,250.3 134.5,248.6 133.7,246.9 132.4,245.7 131.5,245.7ZM120.0,257.9 122.3,257.6 124.0,258.1 125.7,259.3 127.3,261.3 128.6,263.9 129.2,267.3 128.6,269.9 127.8,270.7 125.7,271.4 123.2,271.1 121.2,269.9 119.8,268.2 119.8,258.0 120.0,257.9ZM122.3,259.5 121.1,260.5 120.3,262.2 120.1,263.9 120.3,265.6 120.9,267.3 122.2,269.0 123.2,269.6 124.8,269.7 126.0,269.0 127.0,267.3 127.3,265.6 127.1,263.9 126.6,262.2 125.4,260.5 124.0,259.5 122.3,259.5ZM119.9,292.0 120.6,291.5 122.3,291.3 126.5,292.3 129.9,292.0 132.2,292.0 133.9,292.9 134.9,294.5 134.9,304.8 134.1,305.1 133.2,305.0 128.2,303.8 127.3,304.0 126.6,304.8 124.8,307.5 124.0,308.2 123.2,308.4 122.3,308.2 120.9,307.3 119.8,306.2 119.9,292.0ZM123.2,293.5 122.3,293.8 121.0,295.4 120.2,298.8 120.4,301.4 120.8,303.1 121.5,304.4 122.3,305.3 123.2,305.7 124.0,305.5 124.8,304.9 126.5,302.8 127.3,302.2 128.2,302.1 130.7,302.7 131.5,302.7 132.4,302.2 133.4,300.5 133.8,298.0 133.3,295.4 132.4,294.0 131.5,293.3 129.9,293.0 126.5,294.1 123.2,293.5ZM131.3,326.1 132.4,325.8 133.2,326.0 134.3,326.9 134.9,328.5 134.9,331.7 134.1,332.8 130.7,332.6 129.9,332.9 129.3,333.7 129.0,334.6 129.0,338.8 129.5,340.5 130.7,342.0 133.2,343.3 134.9,343.6 134.9,349.9 132.0,349.9 133.2,349.0 133.8,348.2 134.3,346.5 134.1,345.6 133.5,344.8 128.6,341.4 128.3,340.5 128.5,334.6 129.0,332.4 129.9,331.9 132.4,331.6 133.0,331.2 133.4,330.3 133.2,328.6 132.4,327.5 131.5,327.3 129.9,328.0 127.3,330.8 124.6,332.0 123.7,332.9 122.9,334.6 122.7,336.3 123.0,338.0 124.9,341.4 124.9,342.2 123.4,344.8 123.0,346.5 123.6,348.2 125.4,349.9 119.8,349.9 119.8,342.5 120.3,340.5 119.8,335.4 120.3,332.9 121.7,331.2 123.4,330.3 126.5,329.3 129.7,326.9 131.3,326.1Z" fill="#05f0c2" fill-rule="evenodd"/>
<path d="M119.8,202.6 120.8,202.6 120.5,204.3 120.5,206.0 121.5,208.6 123.2,210.6 127.3,214.1 129.5,218.8 130.7,220.6 132.4,221.7 133.2,221.8 134.9,221.3 134.9,226.2 133.9,224.7 131.5,222.8 129.9,220.8 127.3,215.6 126.5,214.5 119.8,208.6 119.8,202.6ZM119.8,221.3 121.6,224.7 125.7,228.4 126.5,229.4 127.3,230.9 129.3,235.8 130.7,238.1 132.4,239.4 134.9,240.5 134.9,244.7 133.6,243.5 132.4,242.8 131.5,242.6 130.7,242.9 130.3,243.5 129.5,246.0 129.2,249.4 129.7,253.7 130.7,256.5 131.5,257.8 132.4,258.5 133.2,258.7 134.9,258.1 134.9,294.5 133.9,292.9 132.4,292.0 129.9,292.0 126.5,292.3 122.3,291.3 120.6,291.5 119.8,292.1 119.8,284.0 121.5,286.9 123.0,288.6 125.4,290.3 127.3,291.0 129.9,290.9 131.5,290.3 132.9,288.6 133.3,286.9 133.0,284.3 132.1,281.8 130.3,278.4 128.4,275.8 126.4,274.1 119.8,270.7 119.8,268.2 121.2,269.9 123.2,271.1 124.8,271.5 126.5,271.3 127.8,270.7 128.6,269.9 129.2,267.3 128.6,263.9 127.3,261.3 126.0,259.6 124.8,258.6 123.2,257.8 121.5,257.6 119.8,258.0 119.8,252.1 121.5,254.6 129.0,260.8 129.9,261.0 130.2,260.5 130.3,259.6 129.0,252.8 128.2,245.2 127.7,243.5 126.9,242.6 123.2,240.4 119.8,237.5 119.8,221.3ZM121.5,228.7 120.3,229.8 119.9,231.5 120.2,234.1 121.2,236.7 122.4,238.4 124.0,239.8 125.7,240.4 127.4,240.1 128.2,239.2 128.5,238.4 128.5,236.7 127.7,233.3 126.5,230.7 125.7,229.6 124.0,228.5 122.3,228.4 121.5,228.7ZM127.7,303.9 129.0,303.8 133.2,305.0 134.1,305.1 134.9,304.8 134.9,328.5 134.3,326.9 133.2,326.0 132.4,325.8 130.7,326.3 126.5,329.3 123.4,330.3 121.7,331.2 120.3,332.9 119.9,334.6 119.8,336.0 119.8,321.8 121.4,324.4 122.7,326.1 124.0,327.1 125.7,327.7 127.3,327.3 129.5,326.1 131.8,324.4 132.9,322.7 133.0,321.0 132.6,318.4 134.0,314.1 134.1,311.6 133.5,309.0 132.5,307.3 131.7,306.5 130.7,305.8 129.0,305.3 128.2,305.4 127.3,306.1 126.7,307.3 126.1,311.6 125.7,312.1 124.8,312.2 121.5,311.7 119.8,312.1 119.8,306.2 120.9,307.3 122.3,308.2 123.2,308.4 124.0,308.2 124.8,307.5 126.5,304.9 127.7,303.9ZM134.8,332.0 134.9,335.9 134.1,334.6 133.2,333.8 131.5,333.2 130.7,333.2 129.9,333.8 129.5,334.6 129.2,336.3 129.5,338.8 130.2,340.5 131.5,341.8 132.4,342.2 134.1,342.3 134.9,341.7 134.9,343.6 132.4,343.0 130.1,341.4 129.2,339.7 128.9,336.3 129.3,333.7 129.9,332.9 130.7,332.6 134.1,332.8 134.8,332.0ZM119.8,337.1 120.3,340.5 119.8,342.5 119.8,337.1Z" fill="#0df070" fill-rule="evenodd"/>
<path d="M119.8,209.4 119.8,208.6 126.5,214.5 127.3,215.6 129.9,220.8 131.5,222.8 133.9,224.7 134.6,225.6 134.9,226.2 134.9,232.5 133.9,229.0 132.8,226.4 129.9,222.1 126.5,215.8 124.4,213.7 121.5,211.7 120.6,211.5 120.0,212.0 119.8,212.6 119.8,209.4ZM119.8,215.4 119.8,214.6 120.8,218.8 122.6,223.0 127.3,229.6 129.9,235.5 130.7,236.5 132.4,237.6 134.1,237.8 134.9,236.9 134.9,240.5 132.4,239.4 130.7,238.1 129.3,235.8 127.3,230.9 126.5,229.4 124.8,227.6 122.4,225.6 121.1,223.9 119.8,221.2 119.8,215.4ZM119.8,237.5 123.2,240.4 126.9,242.6 127.7,243.5 128.2,245.2 129.0,253.2 130.2,258.8 130.2,260.5 129.9,261.0 129.0,260.8 128.2,260.2 125.7,258.0 122.3,255.4 120.7,253.7 119.8,252.1 119.8,246.5 121.3,251.1 123.4,254.5 125.7,256.7 127.3,257.9 128.2,257.9 128.7,257.1 128.8,256.2 127.8,248.6 126.9,245.2 125.6,243.5 122.3,241.0 120.6,240.2 119.8,240.7 119.8,237.5ZM119.8,271.6 119.8,270.7 126.5,274.2 128.4,275.8 130.3,278.4 132.5,282.6 133.3,286.0 132.9,288.6 131.5,290.3 129.0,291.0 127.3,291.0 125.7,290.4 123.0,288.6 120.9,286.0 119.8,284.0 119.8,279.2 121.1,282.6 122.5,285.2 124.4,287.7 126.5,289.4 127.3,289.8 129.0,290.0 130.3,289.4 131.1,287.7 131.2,286.0 130.4,282.6 127.9,278.4 125.7,275.9 124.0,274.6 121.5,273.3 120.6,273.0 119.8,273.2 119.8,271.6ZM127.8,305.6 129.0,305.3 129.9,305.4 131.5,306.4 132.5,307.3 133.8,309.9 134.1,313.3 133.8,315.0 132.7,317.5 132.6,318.4 133.0,321.8 132.5,323.5 131.8,324.4 129.0,326.4 127.3,327.3 125.7,327.7 124.0,327.1 122.7,326.1 121.4,324.4 119.8,321.8 119.8,312.1 121.5,311.7 124.8,312.2 125.7,312.1 126.1,311.6 126.7,307.3 127.3,306.1 127.8,305.6ZM129.0,306.9 128.4,307.3 127.9,308.2 127.8,309.9 128.2,311.6 129.0,313.2 129.9,314.1 130.7,314.4 131.5,314.2 132.3,313.3 132.6,312.4 132.4,309.9 131.5,308.2 130.7,307.4 129.9,306.9 129.0,306.9ZM121.5,314.1 120.5,315.0 120.1,315.8 120.0,317.5 120.7,320.1 122.1,322.7 124.0,324.9 125.7,326.1 127.3,326.2 129.0,325.5 130.3,324.4 130.8,323.5 131.1,321.8 130.3,319.2 129.3,317.5 127.5,315.8 124.8,314.3 123.2,313.9 121.5,314.1ZM129.9,333.7 130.7,333.2 132.4,333.4 134.1,334.5 134.7,335.4 134.9,341.7 134.1,342.3 133.2,342.4 131.5,341.8 130.2,340.5 129.7,339.7 129.3,338.0 129.2,336.3 129.5,334.6 129.9,333.7ZM130.7,333.8 129.9,334.6 129.6,335.4 129.5,337.1 129.9,338.8 130.7,340.4 131.5,341.2 133.2,341.7 134.1,341.3 134.6,340.5 134.9,338.8 134.7,337.1 133.9,335.4 133.2,334.6 131.5,333.7 130.7,333.8Z" fill="#14f01e" fill-rule="evenodd"/>
<path d="M120.0,212.0 120.6,211.5 122.3,212.1 124.8,214.0 126.2,215.4 129.9,222.1 132.8,226.4 133.9,229.0 134.9,232.5 134.9,236.9 134.1,237.8 132.4,237.6 131.5,237.2 130.1,235.8 129.1,234.1 127.3,229.6 122.6,223.0 121.1,219.6 120.1,216.2 119.8,214.6 119.8,212.6 120.0,212.0ZM121.5,213.6 121.1,214.5 121.4,217.1 122.6,220.5 123.8,223.0 127.7,229.0 129.9,234.5 131.5,236.3 132.4,236.6 133.2,236.6 134.1,235.8 134.3,235.0 134.2,233.3 133.4,230.7 131.1,225.6 127.0,217.9 125.7,215.9 123.2,213.8 122.3,213.4 121.5,213.6ZM119.8,240.9 120.6,240.2 122.3,241.0 125.6,243.5 126.9,245.2 127.7,247.7 128.6,254.5 128.7,257.1 128.2,258.0 127.3,257.9 126.5,257.3 124.8,255.9 122.8,253.7 121.7,252.0 120.3,248.6 119.8,246.5 119.8,240.9ZM121.5,242.1 120.9,242.6 120.6,244.3 120.9,246.9 122.1,250.3 123.4,252.8 124.7,254.5 126.5,256.0 127.3,256.2 127.8,255.4 127.9,252.8 127.4,249.4 126.6,246.9 125.7,245.2 124.2,243.5 122.3,242.2 121.5,242.1ZM119.8,273.3 120.6,273.0 121.5,273.3 124.5,275.0 127.3,277.5 129.1,280.1 130.4,282.6 131.2,286.0 130.9,288.6 129.9,289.8 128.2,290.0 126.5,289.4 124.4,287.7 122.5,285.2 121.1,282.6 119.8,279.2 119.8,273.3ZM121.5,274.9 120.6,275.5 120.5,277.5 121.2,280.1 122.7,283.5 124.3,286.0 125.9,287.7 127.3,288.8 128.2,289.0 129.0,288.9 129.9,287.7 130.0,286.0 129.7,284.3 128.6,281.8 127.0,279.2 124.8,276.7 123.2,275.4 121.5,274.9ZM128.4,307.3 129.0,306.9 129.9,306.9 130.7,307.4 132.0,309.0 132.6,310.7 132.6,312.4 132.3,313.3 131.5,314.2 130.7,314.4 129.9,314.1 128.6,312.4 127.8,309.9 127.9,308.2 128.4,307.3ZM129.9,309.4 129.6,309.9 129.8,310.7 130.7,311.1 130.7,309.9 129.9,309.4ZM121.4,314.1 123.2,313.9 124.8,314.3 127.5,315.8 129.3,317.5 130.3,319.2 131.1,321.8 130.8,323.5 130.3,324.4 129.0,325.5 127.3,326.2 125.7,326.1 124.0,324.9 122.1,322.7 120.7,320.1 120.0,317.5 120.1,315.8 120.6,314.7 121.4,314.1ZM122.3,315.3 121.5,316.2 121.1,317.5 121.7,320.1 122.6,321.8 124.0,323.5 125.7,324.9 127.3,325.2 129.0,324.5 129.8,323.5 130.1,321.8 129.6,320.1 128.5,318.4 126.5,316.4 124.8,315.5 123.2,315.2 122.3,315.3ZM129.9,334.6 130.7,333.8 131.5,333.7 132.4,334.0 133.9,335.4 134.7,337.1 134.9,338.8 134.6,340.5 134.0,341.4 133.2,341.7 132.4,341.6 131.5,341.2 130.2,339.7 129.5,337.1 129.6,335.4 129.9,334.6ZM130.7,334.4 130.0,335.4 129.8,336.3 130.2,338.8 131.5,340.7 132.4,341.1 133.2,341.0 134.1,340.2 134.4,338.8 133.8,336.3 132.4,334.5 131.5,334.2 130.7,334.4Z" fill="#68f217" fill-rule="evenodd"/>
<path d="M121.4,213.7 122.3,213.4 123.2,213.8 125.7,215.9 127.0,217.9 131.1,225.6 133.4,230.7 134.2,233.3 134.3,235.0 134.1,235.8 133.2,236.6 132.4,236.6 131.5,236.3 129.9,234.5 127.7,229.0 123.8,223.0 122.6,220.5 121.4,217.1 121.1,215.4 121.4,213.7ZM123.2,215.1 122.6,215.4 122.3,216.2 123.1,219.6 124.6,223.0 128.3,229.0 129.7,233.3 130.7,234.8 131.5,235.5 132.4,235.8 133.2,235.4 133.6,234.1 133.4,232.4 129.4,223.9 125.7,217.1 124.0,215.5 123.2,215.1ZM120.9,242.6 121.5,242.1 123.2,242.7 125.1,244.3 126.2,246.0 127.2,248.6 127.9,252.8 127.8,255.4 127.4,256.2 126.5,256.0 124.8,254.7 123.4,252.8 122.5,251.1 121.4,248.6 120.8,246.0 120.6,243.5 120.9,242.6ZM122.3,243.8 121.8,244.3 121.7,246.0 122.6,249.4 124.4,252.8 125.7,254.2 126.5,254.6 127.2,253.7 127.3,252.8 127.0,250.3 126.2,247.7 125.3,246.0 124.0,244.5 123.2,243.9 122.3,243.8ZM121.2,275.0 122.3,275.0 124.8,276.7 127.0,279.2 128.6,281.8 129.7,284.3 130.0,286.0 129.9,287.7 129.0,288.9 128.2,289.0 127.3,288.8 125.9,287.7 124.3,286.0 122.7,283.5 121.2,280.1 120.5,277.5 120.5,275.8 121.2,275.0ZM122.3,276.6 121.7,277.5 121.8,279.2 123.6,283.5 124.8,285.4 126.2,286.9 127.3,287.7 128.3,287.7 129.0,286.9 129.0,286.0 128.7,284.3 127.6,281.8 124.8,278.0 123.2,276.8 122.3,276.6ZM129.6,309.9 129.9,309.4 130.7,309.9 130.7,311.1 129.9,310.9 129.6,309.9ZM121.7,315.8 122.3,315.3 123.2,315.2 124.8,315.5 126.5,316.4 128.2,318.0 129.6,320.1 130.1,321.8 129.8,323.5 129.0,324.5 128.2,325.0 126.5,325.2 124.8,324.3 123.2,322.7 122.1,321.0 121.2,318.4 121.2,316.7 121.7,315.8ZM123.2,316.1 122.3,316.7 122.0,317.5 122.1,319.2 122.8,321.0 124.0,322.6 125.7,323.9 127.3,324.3 128.2,324.1 129.0,323.0 129.2,321.8 128.2,319.2 126.8,317.5 125.7,316.7 124.0,316.1 123.2,316.1ZM130.5,334.6 131.5,334.2 132.4,334.5 133.8,336.3 134.4,338.8 134.1,340.2 133.2,341.0 132.4,341.1 131.5,340.7 130.2,338.8 129.8,336.3 130.0,335.4 130.5,334.6ZM130.7,335.0 130.1,336.3 130.6,338.8 131.5,340.1 132.4,340.5 133.2,340.4 133.7,339.7 134.0,338.8 133.8,337.1 133.4,336.3 132.4,335.0 131.5,334.7 130.7,335.0Z" fill="#bbf40f" fill-rule="evenodd"/>
<path d="M122.6,215.4 123.2,215.1 124.8,216.2 125.7,217.1 127.3,219.9 133.1,231.5 133.6,234.1 133.2,235.4 132.4,235.8 131.5,235.5 130.7,234.8 129.9,233.6 127.9,228.1 125.1,223.9 123.4,220.5 122.4,217.1 122.3,216.2 122.6,215.4ZM124.0,217.2 123.7,217.9 124.0,219.7 125.7,223.4 128.9,228.1 129.9,232.7 130.7,234.1 131.5,234.8 132.4,234.9 133.0,234.1 133.0,233.3 132.5,231.5 130.3,228.1 128.2,223.0 126.5,219.7 124.8,217.6 124.0,217.2ZM121.8,244.3 122.3,243.8 123.2,243.9 124.8,245.4 125.8,246.9 126.8,249.4 127.2,252.0 127.2,253.7 126.5,254.6 125.7,254.2 124.8,253.4 122.9,250.3 121.8,246.9 121.7,245.2 121.8,244.3ZM123.2,245.6 122.8,246.0 122.7,246.9 123.2,248.9 124.0,250.8 124.8,252.1 125.7,252.8 126.5,252.0 125.8,248.6 124.8,246.7 124.0,245.8 123.2,245.6ZM122.2,276.7 123.2,276.8 124.8,278.0 127.6,281.8 128.7,284.3 129.0,286.0 129.0,286.9 128.3,287.7 127.3,287.7 126.2,286.9 124.8,285.4 123.6,283.5 121.8,279.2 121.7,277.5 122.2,276.7ZM123.2,278.5 123.0,280.1 123.9,282.6 125.7,285.2 126.5,286.0 127.3,286.3 127.7,286.0 127.9,285.2 127.5,283.5 126.7,281.8 124.8,279.3 124.0,278.6 123.2,278.5ZM122.3,316.7 123.2,316.1 124.8,316.3 126.5,317.3 127.6,318.4 128.7,320.1 129.2,321.8 129.0,323.0 128.2,324.1 127.3,324.3 125.7,323.9 123.4,321.8 122.1,319.2 122.0,317.5 122.3,316.7ZM123.2,317.0 122.7,317.5 122.5,318.4 122.6,319.2 123.4,321.0 124.8,322.6 125.7,323.2 127.3,323.5 128.2,322.8 128.5,321.8 128.4,321.0 127.6,319.2 125.7,317.3 124.0,316.8 123.2,317.0ZM130.4,335.4 130.7,335.0 131.5,334.7 132.4,335.0 133.4,336.3 133.8,337.1 134.0,338.8 133.7,339.7 133.2,340.4 132.4,340.5 131.5,340.1 130.7,339.1 130.1,337.1 130.4,335.4ZM131.5,335.2 130.7,335.6 130.5,336.3 130.6,338.0 131.5,339.6 132.4,340.0 133.2,339.6 133.6,338.0 133.0,336.3 132.4,335.6 131.5,335.2Z" fill="#fadf09" fill-rule="evenodd"/>
<path d="M123.7,217.9 124.0,217.2 124.8,217.6 125.7,218.5 127.3,221.3 130.3,228.1 132.5,231.5 133.0,233.3 133.0,234.1 132.4,234.9 131.5,234.8 130.7,234.1 130.2,233.3 129.5,231.5 128.9,228.1 126.5,224.7 124.8,221.8 124.0,219.6 123.7,217.9ZM130.7,230.2 130.2,230.7 130.3,232.4 130.7,233.3 131.5,234.0 132.4,233.4 132.2,232.4 131.5,231.0 130.7,230.2ZM122.8,246.0 123.2,245.6 124.0,245.8 124.8,246.7 125.7,248.2 126.3,250.3 126.5,252.0 125.7,252.8 124.8,252.0 123.4,249.4 122.8,247.7 122.8,246.0ZM124.8,249.4 124.8,249.4ZM122.9,279.2 123.2,278.5 124.0,278.6 124.8,279.3 126.5,281.4 127.8,284.3 127.9,285.2 127.7,286.0 127.3,286.3 126.5,286.0 124.8,284.1 123.2,280.9 122.9,279.2ZM124.8,281.6 124.8,281.9 125.0,281.8 124.8,281.6ZM125.7,282.2 125.3,282.6 125.7,283.4 125.9,282.6 125.7,282.2ZM122.7,317.5 123.2,317.0 124.0,316.8 124.8,316.9 126.5,318.0 127.6,319.2 128.4,321.0 128.5,321.8 128.2,322.8 127.3,323.5 126.5,323.5 125.7,323.2 124.0,321.8 122.9,320.1 122.6,319.2 122.7,317.5ZM124.0,317.4 123.1,318.4 123.1,319.2 123.9,321.0 125.7,322.5 126.5,322.7 127.3,322.4 127.7,321.8 127.8,321.0 127.1,319.2 125.7,317.8 124.8,317.4 124.0,317.4ZM131.0,335.4 131.5,335.2 132.4,335.6 133.2,336.8 133.6,338.0 133.5,338.8 133.2,339.7 132.4,340.0 131.5,339.6 130.7,338.3 130.5,336.3 131.0,335.4ZM131.5,335.7 130.9,336.3 130.7,337.1 131.4,338.8 132.4,339.4 133.0,338.8 133.2,338.0 132.5,336.3 131.5,335.7Z" fill="#fa8605" fill-rule="evenodd"/>
<path d="M130.2,230.7 130.7,230.2 131.5,231.0 132.2,232.4 132.4,233.4 131.5,234.0 130.7,233.3 130.3,232.4 130.2,230.7ZM124.8,249.4 124.8,249.4ZM124.8,281.8 124.8,281.6 125.0,281.8 124.8,281.8ZM125.3,282.6 125.7,282.2 125.9,282.6 125.7,283.4 125.3,282.6ZM123.7,317.5 124.8,317.4 125.7,317.8 127.1,319.2 127.8,321.0 127.7,321.8 127.3,322.4 126.5,322.7 125.7,322.5 123.9,321.0 123.1,319.2 123.1,318.4 123.7,317.5ZM130.9,336.3 131.5,335.7 132.4,336.1 133.0,337.1 133.2,338.0 133.0,338.8 132.4,339.4 131.5,339.0 130.9,338.0 130.7,337.1 130.9,336.3Z" fill="#fa2d02" fill-rule="evenodd"/>
</g>
<path d="M119.8,206.5 120.8,208.6 122.2,210.3 127.1,214.5 129.6,219.6 130.7,221.2 132.4,222.5 134.9,223.4M119.8,235.6 121.1,237.5 123.2,239.8 124.8,240.8 128.2,241.6 128.8,242.6 128.9,249.4 129.4,253.7 130.7,257.8 132.8,261.3 133.1,263.1 132.4,264.5 131.5,264.9 130.7,264.7 129.9,263.9 127.4,260.5 125.7,258.7 124.0,257.4 121.3,256.2 119.8,255.2M134.9,242.7 133.2,241.5 130.7,240.3 129.9,239.5 127.3,231.6 125.7,229.0 124.0,227.8 120.9,226.4 119.8,225.2M119.8,269.5 121.3,270.7 123.2,271.8 127.3,272.8 129.0,273.8 131.3,276.7 132.9,279.2 134.9,283.9M134.9,290.7 133.2,290.8 129.9,291.5 126.5,291.6 124.8,291.0 121.8,289.4 119.8,287.4M119.8,309.4 123.2,310.2 124.0,310.2 124.6,309.9 126.7,305.6 127.6,304.8 129.0,304.5 131.5,305.4 133.0,306.5 134.3,308.2 134.9,309.9M134.9,317.6 134.9,319.5M134.9,324.8 132.4,325.0 126.5,328.5 124.8,328.8 123.6,328.6 122.3,328.0 119.8,325.0M134.9,342.7 133.2,342.9 131.5,342.2 130.5,341.4 129.4,339.7 129.1,336.3 129.2,334.6 129.6,333.7 130.7,332.9 133.2,333.3 134.9,334.4M124.6,202.6 123.2,203.6 122.2,205.2 122.1,206.9 122.2,207.7 123.2,209.4 124.0,210.3 127.4,212.8 128.2,214.0 129.9,218.1 130.7,219.3 131.5,220.0 132.4,220.2 133.6,219.6 134.6,217.9 134.9,216.6M134.9,210.0 134.5,207.7 133.3,205.2 131.5,203.5 129.8,202.6M123.2,230.0 122.3,230.8 121.7,232.4 121.6,234.1 121.9,235.8 122.8,237.5 123.6,238.4 124.8,239.1 125.7,239.1 126.5,238.7 127.3,237.5 127.5,235.8 127.3,234.1 126.5,231.9 125.7,230.7 124.8,230.1 124.0,229.9 123.2,230.0M134.9,249.6 134.4,247.7 133.3,246.0 132.4,245.4 131.5,245.4 130.7,246.2 130.4,246.9 129.9,248.6 129.8,250.3 130.4,253.7 131.5,255.7 132.4,256.1 133.2,255.9 134.3,254.5 134.9,252.6M122.3,259.3 121.5,259.8 120.5,261.3 120.0,263.1 120.2,265.6 120.8,267.3 122.0,269.0 123.2,269.7 124.8,269.9 125.7,269.5 126.8,268.2 127.3,266.5 127.2,263.9 126.7,262.2 125.5,260.5 124.0,259.4 122.3,259.3M122.3,293.6 121.5,294.4 120.9,295.4 120.3,297.1 120.1,299.7 120.7,303.1 121.5,304.6 122.3,305.5 123.2,305.9 124.0,305.7 124.8,305.1 126.5,303.0 127.3,302.3 128.2,302.2 130.7,302.9 131.5,302.9 132.7,302.2 133.6,300.5 133.9,298.0 133.4,295.4 132.3,293.7 131.5,293.2 129.9,292.9 126.5,294.0 124.0,293.3 123.2,293.3 122.3,293.6M132.4,349.9 134.0,348.2 134.5,346.5 134.3,345.6 133.7,344.8 128.8,341.4 128.5,340.5 128.6,334.6 129.0,332.6 129.9,332.0 132.4,331.7 133.2,331.2 133.5,330.3 133.4,328.6 132.9,327.8 132.4,327.3 131.5,327.1 129.9,327.8 127.3,330.6 124.3,332.0 123.5,332.9 122.7,334.6 122.6,336.3 122.8,338.0 124.6,341.4 124.6,342.2 123.2,344.8 122.8,346.5 123.3,348.2 125.0,349.9M125.7,205.0 124.8,205.6 124.2,206.9 124.5,208.6 125.3,209.4 127.3,210.9 128.5,212.0 130.7,217.2 131.5,218.0 132.4,217.9 133.2,216.5 133.5,214.5 133.2,211.1 132.4,208.2 130.7,206.0 129.2,205.2 127.3,204.7 125.7,205.0M124.0,232.1 123.2,233.3 123.2,235.0 124.0,236.6 124.8,237.0 125.7,236.7 126.1,235.8 126.1,234.1 125.7,232.9 125.2,232.4 124.8,232.1 124.0,232.1M132.4,249.3 131.5,249.4 131.3,251.1 131.5,252.2 132.4,252.5 132.8,251.1 132.4,249.3M122.3,262.0 121.7,263.9 121.8,265.6 122.8,267.3 124.0,267.8 124.8,267.5 125.5,266.5 125.8,264.8 125.7,263.7 125.0,262.2 124.0,261.4 123.2,261.4 122.3,262.0M129.0,295.1 128.1,296.3 127.7,298.0 128.8,299.7 129.9,300.3 130.7,300.4 131.5,299.8 132.0,298.8 132.1,298.0 131.9,296.3 131.4,295.4 130.7,294.8 129.9,294.7 129.0,295.1M123.2,295.7 122.3,296.5 121.8,298.0 121.7,300.5 122.3,302.5 123.2,303.2 124.0,303.2 124.8,302.5 126.0,300.5 126.4,298.8 126.4,298.0 126.0,297.1 124.8,296.0 124.0,295.6 123.2,295.7M125.7,333.3 124.5,334.6 124.2,336.3 124.8,338.1 125.7,338.9 126.5,339.0 127.3,338.5 127.6,338.0 127.8,336.3 127.7,334.6 127.3,333.4 126.5,333.1 125.7,333.3M127.3,343.8 125.9,344.8 125.4,345.6 125.3,346.5 125.7,347.6 126.5,348.4 128.2,349.0 129.9,348.8 131.1,348.2 131.9,347.3 132.1,346.5 131.9,345.6 131.2,344.8 129.0,343.7 127.3,343.8" fill="none" stroke="#04203a" stroke-width="0.3" stroke-opacity="0.3"/>
<path d="M119.8,211.6 120.6,211.1 122.3,212.0 124.8,213.8 126.5,215.6 129.9,221.9 133.0,226.4 134.9,231.7M134.9,237.5 134.1,238.1 132.4,237.8 130.7,236.7 129.9,235.6 127.3,229.8 126.5,228.4 123.4,224.7 121.9,222.2 120.3,217.9 119.8,215.9M119.8,240.1 120.6,239.9 121.5,240.2 124.8,242.6 126.6,244.3 127.3,245.9 127.8,247.7 128.9,256.2 128.7,257.9 128.2,258.3 126.5,257.6 124.0,255.4 122.5,253.7 121.5,252.0 119.8,247.4M119.8,272.7 121.5,273.0 124.0,274.4 126.0,275.8 127.6,277.5 129.4,280.1 130.6,282.6 131.3,285.2 131.4,286.9 131.1,288.6 130.6,289.4 129.9,290.0 128.2,290.2 126.2,289.4 124.2,287.7 122.8,286.0 120.9,282.6 119.8,279.9M128.1,307.3 129.0,306.6 129.9,306.7 131.0,307.3 132.2,309.0 132.8,310.7 132.8,312.4 132.4,313.8 131.5,314.7 130.7,314.9 129.9,314.7 128.7,313.3 128.0,311.6 127.6,309.9 127.7,308.2 128.1,307.3M119.8,316.5 120.1,315.0 120.6,314.3 121.5,313.8 123.2,313.6 125.7,314.5 128.2,316.0 129.6,317.5 131.0,320.1 131.3,321.8 131.0,323.5 129.6,325.2 127.3,326.4 125.7,326.3 124.0,325.2 121.9,322.7 120.2,319.2 119.8,316.9M134.9,339.8 134.7,340.5 134.1,341.5 133.2,341.8 131.5,341.3 130.1,339.7 129.6,338.0 129.5,336.3 129.8,334.6 130.7,333.7 131.5,333.7 132.4,333.9 134.0,335.4 134.5,336.3 134.9,338.1M120.9,212.8 121.5,212.6 122.3,212.8 124.0,213.9 125.7,215.4 126.9,217.1 129.0,221.3 132.0,226.4 133.9,230.7 134.6,233.3 134.6,235.8 134.1,236.8 133.2,237.2 132.4,237.1 130.6,235.8 129.4,234.1 127.3,229.0 123.3,223.0 121.8,219.6 120.9,217.1 120.5,214.5 120.5,213.7 120.9,212.8M120.4,241.8 120.6,241.5 121.5,241.3 123.2,242.2 125.6,244.3 126.7,246.0 127.6,249.4 128.3,254.5 128.2,256.4 127.3,257.0 125.7,256.0 124.2,254.5 122.0,251.1 121.0,248.6 120.3,246.0 120.1,243.5 120.4,241.8M120.6,274.1 121.5,274.1 122.3,274.4 124.8,276.0 127.0,278.4 128.7,280.9 130.2,284.3 130.5,286.9 130.2,288.6 129.1,289.4 127.3,289.2 125.7,288.2 124.5,286.9 122.7,284.3 121.0,280.9 120.0,277.5 120.0,275.0 120.6,274.1M129.0,308.2 129.9,307.9 130.7,308.4 131.6,309.9 131.8,311.6 131.6,312.4 130.7,312.9 129.7,312.4 128.8,310.7 128.6,309.0 129.0,308.2M121.7,315.0 123.2,314.6 125.7,315.4 127.5,316.7 129.0,318.4 130.0,320.1 130.5,321.8 130.3,323.5 129.0,324.9 127.4,325.7 125.7,325.4 124.0,324.1 122.7,322.7 121.7,321.0 120.8,318.4 120.7,316.7 121.0,315.8 121.7,315.0M130.2,334.6 130.7,334.1 131.5,334.0 132.4,334.3 133.6,335.4 134.0,336.3 134.6,338.0 134.6,339.7 134.1,340.8 133.2,341.3 132.4,341.3 131.5,340.9 130.7,340.1 130.1,338.8 129.7,336.3 130.2,334.6M121.4,214.5 122.3,213.7 124.0,214.6 125.7,216.2 127.4,218.9 131.3,226.4 133.6,231.5 134.0,233.3 134.1,235.0 133.8,235.8 133.2,236.3 132.4,236.4 131.5,236.1 130.7,235.4 129.7,234.1 127.8,229.0 124.4,223.9 122.8,220.5 121.6,217.1 121.4,214.5M121.4,242.6 122.3,242.5 124.0,243.6 125.5,245.2 126.4,246.9 127.2,249.4 127.7,252.0 127.8,254.5 127.3,255.7 126.5,255.7 124.8,254.4 122.7,251.1 121.6,248.6 121.0,246.0 120.9,243.5 121.4,242.6M120.9,275.8 121.5,275.3 122.3,275.3 124.0,276.3 126.1,278.4 127.9,280.9 129.1,283.5 129.8,286.0 129.6,287.7 129.0,288.6 128.2,288.8 126.5,288.0 124.8,286.4 123.4,284.3 122.1,281.8 121.1,279.2 120.8,277.5 120.9,275.8M122.1,315.8 123.2,315.4 124.8,315.7 126.5,316.7 128.3,318.4 129.4,320.1 129.8,321.8 129.6,323.5 128.9,324.4 127.3,325.0 126.5,325.0 124.8,324.1 123.4,322.7 121.8,320.1 121.4,318.4 121.5,316.7 122.1,315.8M130.6,334.6 131.5,334.3 132.4,334.7 133.7,336.3 134.3,338.8 134.1,340.0 133.2,340.9 132.4,340.9 131.5,340.5 130.3,338.8 129.9,336.3 130.1,335.4 130.6,334.6M122.3,215.4 123.2,215.0 124.8,216.1 125.7,217.1 127.4,219.8 133.2,231.5 133.7,234.1 133.2,235.5 132.4,235.8 131.5,235.6 130.7,234.9 129.9,233.7 127.8,228.1 125.0,223.9 123.4,220.5 122.3,217.1 122.3,215.4M121.7,244.3 122.3,243.6 123.2,243.8 124.8,245.2 125.9,246.9 126.8,249.4 127.3,252.8 127.3,253.7 126.5,254.7 125.7,254.4 124.8,253.5 122.8,250.3 121.7,246.9 121.7,244.3M121.9,276.7 122.3,276.4 123.2,276.6 124.0,277.2 125.7,278.8 127.2,280.9 128.5,283.5 129.0,285.2 129.1,286.9 128.5,287.7 128.2,287.9 127.3,287.8 126.5,287.3 124.8,285.5 123.5,283.5 121.8,279.2 121.6,277.5 121.9,276.7M122.2,316.7 123.2,316.1 124.8,316.2 126.5,317.2 127.7,318.4 128.8,320.1 129.3,321.8 129.0,323.2 128.2,324.2 127.3,324.4 125.7,324.0 123.3,321.8 122.0,319.2 121.9,317.5 122.2,316.7M130.4,335.4 130.7,334.9 131.5,334.7 132.4,335.0 133.5,336.3 134.0,338.8 133.8,339.7 133.2,340.4 132.4,340.6 131.5,340.2 130.7,339.2 130.1,337.1 130.4,335.4M123.1,217.1 123.2,216.7 124.0,216.3 124.8,216.9 125.7,217.9 127.3,220.7 130.4,227.3 132.4,230.8 133.1,232.4 133.3,234.1 132.9,235.0 132.4,235.3 131.5,235.1 130.7,234.4 129.9,233.3 128.4,228.1 124.7,222.2 123.6,219.6 123.1,217.1M122.4,245.2 123.2,244.8 124.0,245.3 125.7,247.5 126.7,251.1 126.5,253.5 125.7,253.4 124.8,252.7 123.4,250.3 122.3,246.9 122.4,245.2M122.4,278.4 123.2,277.7 124.0,278.1 126.5,280.8 128.2,284.3 128.4,286.0 128.2,286.7 127.3,286.9 126.5,286.5 124.8,284.6 122.9,280.9 122.4,278.4M123.1,316.7 124.0,316.5 125.7,317.1 127.9,319.2 128.6,321.0 128.8,321.8 128.7,322.7 128.1,323.5 127.3,323.8 126.5,323.8 124.8,322.9 123.7,321.8 122.7,320.1 122.3,318.4 122.4,317.5 123.1,316.7M130.6,335.4 131.5,335.0 132.4,335.3 133.2,336.3 133.7,338.0 133.7,338.8 133.2,339.9 132.4,340.2 131.5,339.8 130.8,338.8 130.3,337.1 130.6,335.4M124.2,218.8 124.8,218.1 126.5,220.2 128.3,223.9 129.1,226.4 129.0,227.4 127.3,225.5 125.7,223.0 124.8,221.2 124.2,218.8M129.6,229.0 129.9,228.2 131.5,230.2 132.4,231.5 132.8,233.3 132.7,234.1 132.4,234.6 131.5,234.6 130.3,233.3 129.7,231.5 129.6,229.0M123.1,246.9 123.2,246.4 124.0,246.3 124.8,247.2 125.6,248.6 126.1,251.1 125.7,252.3 124.8,251.6 124.0,250.3 123.2,248.0 123.1,246.9M123.6,279.2 124.0,279.1 124.8,279.7 126.5,281.9 127.5,284.3 127.3,285.7 126.5,285.5 124.7,283.5 123.5,280.9 123.3,280.1 123.6,279.2M122.9,317.5 124.0,316.9 124.8,317.1 126.8,318.4 127.9,320.1 128.2,321.0 128.3,321.8 128.0,322.7 127.3,323.2 126.5,323.3 125.7,323.0 124.2,321.8 123.5,321.0 122.7,319.2 122.7,318.4 122.9,317.5M131.3,335.4 131.5,335.3 132.4,335.7 133.3,337.1 133.4,338.8 133.2,339.3 132.4,339.8 131.5,339.4 130.7,338.0 130.6,336.3 131.3,335.4M130.2,230.7 130.7,230.2 131.5,231.0 132.3,232.4 132.4,233.5 131.5,234.1 130.7,233.3 130.3,232.4 130.2,230.7M124.7,249.4 124.8,249.2 124.7,249.4M124.7,281.8 124.8,281.4 125.7,282.0 125.9,282.6 125.8,283.5 124.7,281.8M123.6,317.5 124.8,317.4 125.7,317.8 127.1,319.2 127.8,321.0 127.7,321.8 127.3,322.5 126.5,322.7 125.7,322.5 123.8,321.0 123.1,319.2 123.0,318.4 123.6,317.5M130.9,336.3 131.5,335.7 132.4,336.1 133.0,337.1 133.2,338.0 133.0,338.8 132.4,339.4 131.5,339.1 130.9,338.0 130.7,337.1 130.9,336.3M130.7,231.5 130.7,231.8 130.7,231.5M130.8,232.4 131.5,232.0 131.6,233.3 130.8,232.4M123.5,318.4 124.0,317.8 124.8,317.8 125.9,318.4 127.2,320.1 127.4,321.0 127.1,321.8 126.5,322.2 125.7,322.1 124.8,321.6 123.6,320.1 123.4,319.2 123.5,318.4M131.4,336.3 131.5,336.1 132.4,336.6 132.7,337.1 132.8,338.0 132.4,339.0 131.5,338.6 131.2,338.0 131.1,337.1 131.4,336.3" fill="none" stroke="#050505" stroke-width="0.32" stroke-opacity="0.6"/>
<g filter="url(#b1)">
<ellipse cx="120.8" cy="215" rx="1.5" ry="5.2" fill="#060606" transform="rotate(-10 120.8 215)"/>
<ellipse cx="120.8" cy="246" rx="1.6" ry="6.2" fill="#060606" transform="rotate(-8 120.8 246)"/>
<ellipse cx="133.8" cy="270" rx="1.1" ry="4.0" fill="#060606" transform="rotate(-10 133.8 270)"/>
<ellipse cx="134.2" cy="287.5" rx="1.0" ry="3.4" fill="#060606" transform="rotate(-5 134.2 287.5)"/>
<ellipse cx="133.9" cy="309" rx="1.0" ry="3.6" fill="#060606" transform="rotate(-5 133.9 309)"/>
<ellipse cx="120.9" cy="316.5" rx="1.6" ry="5.0" fill="#060606" transform="rotate(-8 120.9 316.5)"/>
<ellipse cx="133.6" cy="339.6" rx="1.3" ry="3.0" fill="#060606" transform="rotate(-20 133.6 339.6)"/>
</g>
</g>
<rect x="119.8" y="202.6" width="15.1" height="147.3" fill="none" stroke="#0a0a0a" stroke-width="1.4"/>
<text x="37.4" y="358.6" font-size="7.2" font-family='"Liberation Serif", "DejaVu Serif", serif' fill="#111" font-weight="normal" font-style="normal" text-anchor="middle" >(1)</text>
<text x="55.349999999999994" y="358.6" font-size="7.2" font-family='"Liberation Serif", "DejaVu Serif", serif' fill="#111" font-weight="normal" font-style="normal" text-anchor="middle" >(2)</text>
<text x="73.3" y="358.6" font-size="7.2" font-family='"Liberation Serif", "DejaVu Serif", serif' fill="#111" font-weight="normal" font-style="normal" text-anchor="middle" >(3)</text>
<text x="91.25" y="358.6" font-size="7.2" font-family='"Liberation Serif", "DejaVu Serif", serif' fill="#111" font-weight="normal" font-style="normal" text-anchor="middle" >(4)</text>
<text x="109.19999999999999" y="358.6" font-size="7.2" font-family='"Liberation Serif", "DejaVu Serif", serif' fill="#111" font-weight="normal" font-style="normal" text-anchor="middle" >(5)</text>
<text x="127.15" y="358.6" font-size="7.2" font-family='"Liberation Serif", "DejaVu Serif", serif' fill="#111" font-weight="normal" font-style="normal" text-anchor="middle" >(6)</text>
<text x="63.6" y="369.0" font-size="8.8" font-family='"Liberation Serif", "DejaVu Serif", serif' fill="#111" font-style="italic" font-weight="normal" text-anchor="start">R<tspan font-size="5.28" dy="2.20">T</tspan></text>
<text x="73" y="369.0" font-size="8.8" font-family='"Liberation Serif", "DejaVu Serif", serif' fill="#111" font-weight="normal" font-style="normal" text-anchor="start" >= 910</text>
<text x="0" y="0" font-size="9.2" font-family='"Liberation Serif", "DejaVu Serif", serif' fill="#2aa12a" font-weight="normal" font-style="normal" text-anchor="start" transform="translate(25.4,348.4) rotate(-90)">Numerical stream function perturbation</text>
</g>
<g id="lin">
<clipPath id="cp13"><rect x="455.8" y="248.4" width="36.4" height="114.4"/></clipPath>
<g clip-path="url(#cp13)">
<rect x="455.8" y="248.4" width="36.4" height="114.4" fill="#0000fa"/>
<path d="M465.0,248.4 472.7,248.4 472.7,250.0 472.2,251.6 472.0,252.1 471.2,252.9 470.4,253.2 469.6,253.2 467.9,252.6 466.3,251.4 465.5,250.1 465.0,248.4ZM466.8,351.6 467.9,351.1 468.7,351.4 469.6,352.0 470.9,354.0 471.9,356.4 472.4,358.8 472.7,361.2 472.7,362.8 465.5,362.8 464.7,359.6 464.8,356.4 465.5,353.6 466.3,352.1 466.8,351.6Z" fill="#0014fa" fill-rule="evenodd" stroke="#0014fa" stroke-width="0.3"/>
<path d="M463.3,248.4 465.0,248.4 465.5,250.0 465.9,250.8 467.1,252.1 468.7,253.0 470.4,253.2 471.2,252.9 472.0,252.1 472.2,251.6 472.7,250.0 472.7,248.4 474.6,248.4 474.6,252.4 474.3,254.0 473.6,255.4 472.8,256.2 472.0,256.5 471.2,256.5 468.7,256.0 466.3,254.9 465.3,254.0 464.3,252.4 463.7,250.8 463.3,248.4ZM466.7,348.4 467.1,348.1 467.9,348.0 468.7,348.3 470.4,349.7 471.6,351.6 472.7,354.0 473.6,356.5 474.3,359.6 474.7,362.8 472.7,362.8 472.7,361.2 472.4,358.8 472.0,356.8 471.3,354.8 470.4,353.1 469.6,352.0 468.7,351.4 467.9,351.1 467.1,351.3 466.3,352.1 465.5,353.6 465.0,355.6 464.7,357.8 464.7,359.6 465.5,362.8 463.6,362.8 463.2,358.8 463.7,354.0 464.7,350.8 465.5,349.5 466.7,348.4Z" fill="#003cfb" fill-rule="evenodd" stroke="#003cfb" stroke-width="0.3"/>
<path d="M462.1,248.4 463.3,248.4 464.0,251.6 464.7,253.2 465.5,254.2 466.3,254.9 467.9,255.7 469.6,256.3 471.2,256.5 472.0,256.5 472.8,256.2 473.6,255.4 474.3,254.0 474.6,252.4 474.6,248.4 476.0,248.4 476.3,251.6 476.3,254.0 475.8,256.4 475.0,258.0 474.4,258.7 473.6,259.1 472.0,259.3 468.7,258.4 465.5,257.1 464.0,255.6 463.1,253.8 462.4,250.8 462.1,248.4ZM466.4,346.0 467.1,345.7 467.9,345.6 468.7,345.8 470.4,347.1 472.0,349.3 473.6,352.4 474.7,355.6 475.7,359.6 476.2,362.8 474.7,362.8 474.3,359.6 473.6,356.5 472.7,354.0 471.6,351.6 470.4,349.7 469.6,348.8 468.7,348.3 467.9,348.0 467.1,348.1 466.3,348.6 465.5,349.5 464.4,351.6 463.7,354.0 463.3,357.2 463.3,360.4 463.6,362.8 462.3,362.8 462.1,357.2 462.9,352.4 463.6,350.0 464.3,348.4 465.5,346.7 466.4,346.0Z" fill="#0064fc" fill-rule="evenodd" stroke="#0064fc" stroke-width="0.3"/>
<path d="M461.2,248.4 462.1,248.4 462.4,250.8 463.1,253.8 463.9,255.5 464.7,256.5 465.6,257.2 467.4,258.0 471.2,259.1 472.8,259.3 473.6,259.1 474.4,258.7 475.5,257.2 476.0,255.6 476.3,253.2 476.0,248.4 477.3,248.4 477.8,252.4 477.7,255.6 477.1,258.8 476.3,260.4 475.2,261.3 474.4,261.6 472.8,261.7 466.3,259.8 464.3,258.8 463.1,257.4 462.2,255.6 461.5,252.4 461.2,248.4ZM467.0,343.6 467.9,343.5 469.6,344.1 471.2,345.7 473.0,348.4 474.5,351.6 476.0,355.6 476.8,358.8 477.5,362.8 476.2,362.8 475.7,359.6 475.0,356.4 473.6,352.5 472.4,350.0 470.4,347.1 469.0,346.0 467.9,345.6 467.1,345.7 466.4,346.0 465.5,346.7 464.7,347.8 463.6,350.0 462.9,352.4 462.3,355.7 462.1,359.6 462.3,362.8 461.3,362.8 461.3,356.4 461.7,353.2 462.3,350.5 463.1,348.1 464.2,346.0 465.5,344.4 467.0,343.6Z" fill="#008cfd" fill-rule="evenodd" stroke="#008cfd" stroke-width="0.3"/>
<path d="M460.3,248.4 461.2,248.4 461.5,252.1 462.0,254.8 463.0,257.2 463.9,258.5 464.7,259.1 466.3,259.8 472.0,261.5 473.6,261.7 475.2,261.3 476.0,260.7 477.1,258.8 477.6,256.6 477.8,254.0 477.3,248.4 478.5,248.4 479.1,253.2 479.2,257.2 478.6,260.4 477.6,262.5 476.8,263.3 476.0,263.7 475.2,264.0 473.6,264.0 468.7,262.4 465.5,261.7 463.9,261.0 463.1,260.3 462.3,259.2 461.5,257.2 460.7,253.2 460.3,248.4ZM466.2,342.0 467.1,341.6 467.9,341.6 469.6,342.2 471.2,343.6 473.5,346.8 475.2,350.2 476.7,354.0 477.8,358.0 478.8,362.8 477.5,362.8 476.8,358.8 476.0,355.6 474.5,351.6 473.0,348.4 472.0,346.8 470.4,344.8 468.7,343.7 467.9,343.5 467.0,343.6 465.5,344.4 463.9,346.5 463.0,348.4 462.2,350.8 461.4,354.8 461.2,358.8 461.3,362.8 460.4,362.8 460.5,355.6 461.5,349.8 462.3,347.3 463.3,345.2 464.7,343.2 466.2,342.0Z" fill="#00b4fe" fill-rule="evenodd" stroke="#00b4fe" stroke-width="0.3"/>
<path d="M459.6,248.4 460.3,248.4 460.7,253.2 461.2,256.4 462.1,258.8 463.1,260.3 463.9,261.0 465.5,261.7 468.7,262.4 472.8,263.8 474.4,264.0 476.0,263.7 476.8,263.3 477.6,262.5 478.4,260.9 479.0,258.8 479.2,255.6 479.0,252.4 478.5,248.4 479.7,248.4 480.5,254.8 480.5,259.6 479.8,262.8 479.3,264.1 478.4,265.1 476.8,266.0 474.4,266.1 468.7,264.2 464.7,263.5 463.0,262.8 462.3,262.1 461.5,260.8 460.7,258.5 459.9,254.0 459.6,248.4ZM465.8,340.4 467.1,339.9 467.9,339.8 469.6,340.3 470.7,341.2 472.0,342.5 473.9,345.2 476.0,349.1 477.6,353.2 479.0,358.0 480.0,362.8 478.8,362.8 477.8,358.0 476.7,354.0 475.2,350.2 473.6,347.0 472.0,344.6 470.4,342.8 469.2,342.0 467.9,341.6 466.3,341.9 464.7,343.2 463.3,345.2 462.3,347.3 461.4,350.0 460.7,354.0 460.4,358.0 460.4,362.8 459.6,362.8 459.8,354.8 460.2,351.6 460.9,348.4 461.7,346.0 463.1,343.3 464.7,341.3 465.8,340.4Z" fill="#00dcff" fill-rule="evenodd" stroke="#00dcff" stroke-width="0.3"/>
<path d="M458.9,248.4 459.6,248.4 459.9,254.0 460.7,258.5 461.5,260.8 462.3,262.1 463.1,262.8 464.7,263.5 468.7,264.2 473.6,265.9 475.2,266.2 476.8,266.0 478.4,265.2 479.3,264.1 479.8,262.8 480.4,260.4 480.6,257.2 480.4,253.2 479.7,248.4 480.9,248.4 481.7,254.8 481.9,260.4 481.4,264.4 480.9,265.7 480.1,267.0 479.3,267.6 478.4,268.0 477.6,268.2 476.0,268.3 473.6,267.7 468.7,265.9 463.9,265.4 462.3,264.7 461.5,263.8 460.7,262.3 459.8,259.6 459.2,254.8 458.9,248.4ZM465.6,338.8 467.1,338.2 467.9,338.1 469.6,338.6 472.0,340.5 474.9,344.4 477.0,348.4 478.6,352.4 480.0,357.2 481.1,362.8 480.0,362.8 479.0,358.0 477.9,354.0 476.4,350.0 474.4,346.0 472.8,343.5 471.2,341.6 469.6,340.3 467.9,339.8 466.3,340.1 464.7,341.3 463.1,343.3 461.7,346.0 460.7,349.3 460.0,353.2 459.6,358.0 459.6,362.8 458.9,362.8 459.2,354.0 459.7,350.0 460.4,346.8 461.5,344.0 462.6,342.0 463.9,340.3 465.6,338.8Z" fill="#02f0ec" fill-rule="evenodd" stroke="#02f0ec" stroke-width="0.3"/>
<path d="M458.3,248.4 458.9,248.4 459.2,254.8 459.9,259.6 460.7,262.3 461.5,263.8 462.0,264.4 463.1,265.2 463.9,265.4 468.7,265.9 474.4,268.0 476.8,268.3 478.4,268.0 479.3,267.6 480.1,267.0 480.9,265.7 481.4,264.4 481.8,262.0 481.9,258.0 481.6,253.2 480.9,248.4 482.1,248.4 483.1,255.6 483.3,262.0 483.2,264.4 482.7,266.8 482.0,268.4 481.4,269.2 480.4,270.0 479.3,270.3 476.8,270.3 474.4,269.7 468.7,267.5 467.1,267.3 463.1,267.4 462.3,267.2 461.5,266.6 460.7,265.6 459.8,263.8 459.0,260.4 458.5,254.8 458.3,248.4ZM465.5,337.2 467.1,336.6 467.9,336.5 468.7,336.6 470.4,337.4 472.8,339.5 475.4,342.8 477.7,346.8 479.7,351.6 481.3,357.2 482.4,362.8 481.1,362.8 480.2,358.0 478.9,353.2 477.4,349.2 475.4,345.2 473.2,342.0 471.2,339.8 469.6,338.6 467.9,338.1 466.3,338.4 465.5,338.9 463.9,340.3 462.3,342.5 461.0,345.2 460.0,348.4 459.3,352.4 459.0,357.2 458.9,362.8 458.3,362.8 458.5,353.2 459.0,349.2 459.7,346.0 460.9,342.8 462.3,340.4 463.9,338.5 465.5,337.2Z" fill="#05f0c7" fill-rule="evenodd" stroke="#05f0c7" stroke-width="0.3"/>
<path d="M457.7,248.4 458.3,248.4 458.5,255.6 459.2,261.2 460.1,264.4 460.7,265.6 461.5,266.6 462.3,267.2 463.1,267.4 467.1,267.3 468.7,267.5 475.2,270.0 476.8,270.3 478.4,270.4 480.1,270.1 481.4,269.2 482.4,267.6 482.9,266.0 483.3,262.8 483.3,258.8 482.9,254.0 482.1,248.4 483.4,248.4 484.5,256.4 484.9,263.6 484.4,268.4 483.9,270.0 482.9,271.6 481.7,272.4 480.9,272.6 479.3,272.7 476.0,271.9 470.4,269.6 468.7,269.1 467.1,269.0 463.1,269.6 461.5,269.3 460.7,268.7 459.8,267.6 459.2,266.0 458.4,262.0 457.9,256.4 457.7,248.4ZM465.6,335.6 467.1,335.0 467.9,334.9 468.7,335.0 470.4,335.7 472.0,336.8 473.3,338.0 476.6,342.0 478.9,346.0 480.5,350.0 482.2,355.6 483.7,362.8 482.4,362.8 481.3,357.2 479.9,352.4 478.1,347.6 476.4,344.4 474.2,341.2 472.0,338.7 469.6,336.9 467.9,336.5 466.3,336.8 465.5,337.2 463.9,338.5 461.8,341.2 460.2,344.4 459.3,347.6 458.7,351.6 458.3,357.2 458.3,362.8 457.7,362.8 457.7,356.4 458.0,351.6 458.4,347.6 459.1,344.4 460.1,342.0 461.5,339.6 463.5,337.2 465.6,335.6Z" fill="#08f0a1" fill-rule="evenodd" stroke="#08f0a1" stroke-width="0.3"/>
<path d="M457.1,248.4 457.7,248.4 457.9,257.2 458.6,263.6 459.5,266.8 460.7,268.7 461.5,269.3 463.1,269.6 467.1,269.0 468.7,269.1 470.4,269.6 476.0,271.9 478.4,272.5 480.1,272.7 481.7,272.4 482.9,271.6 483.9,270.0 484.4,268.4 484.8,264.4 484.8,259.6 484.3,254.0 483.4,248.4 485.0,248.4 486.1,257.2 486.5,265.2 486.4,268.4 486.1,270.8 485.6,272.4 484.7,274.0 484.1,274.6 483.3,275.0 481.7,275.2 480.1,274.9 477.6,274.2 471.2,271.4 468.7,270.7 466.3,270.8 462.3,271.9 460.7,271.8 459.8,271.2 459.0,270.0 458.5,268.4 457.8,264.4 457.3,258.0 457.1,248.4ZM465.7,334.0 467.1,333.5 467.9,333.4 469.6,333.6 471.2,334.4 474.6,337.2 476.2,338.8 478.1,341.2 480.4,345.2 482.3,350.0 483.8,355.6 485.2,362.8 483.7,362.8 482.6,357.2 481.1,351.6 479.3,346.8 477.1,342.8 474.8,339.6 472.0,336.8 469.6,335.3 467.9,334.9 467.1,335.0 465.5,335.6 463.5,337.2 461.4,339.6 459.7,342.8 458.9,345.2 458.2,349.0 457.8,354.8 457.7,362.8 457.1,362.8 457.4,350.0 457.8,346.0 458.5,342.8 459.5,340.4 461.1,338.0 463.4,335.6 465.7,334.0Z" fill="#0cf07c" fill-rule="evenodd" stroke="#0cf07c" stroke-width="0.3"/>
<path d="M456.5,248.4 457.1,248.4 457.3,258.8 458.0,266.0 458.7,269.2 459.8,271.2 460.7,271.8 462.3,271.9 466.3,270.8 468.7,270.7 471.2,271.4 477.6,274.2 480.1,274.9 481.7,275.2 483.3,275.0 484.1,274.6 484.7,274.0 485.6,272.4 486.1,270.8 486.5,266.8 486.4,261.2 485.9,254.8 485.0,248.4 487.0,248.4 488.2,259.6 488.5,268.4 488.3,271.6 488.0,274.0 487.3,276.0 486.5,277.2 485.7,277.8 484.9,278.0 484.1,278.1 482.5,277.8 476.8,275.6 471.2,273.0 468.7,272.3 466.3,272.5 462.3,274.3 460.7,274.8 459.8,274.8 459.0,274.4 458.2,273.3 457.9,272.4 457.4,270.5 457.0,267.6 456.6,260.4 456.5,248.4ZM465.9,332.4 467.1,331.9 468.7,331.9 470.4,332.3 472.0,333.1 476.5,336.4 478.2,338.0 480.2,340.4 482.1,343.6 484.3,349.2 486.0,355.6 487.2,362.8 485.2,362.8 483.8,355.6 482.3,350.0 480.4,345.2 478.6,342.0 476.2,338.8 472.8,335.6 470.4,334.0 468.7,333.4 467.9,333.4 467.1,333.5 465.5,334.1 463.1,335.9 460.5,338.8 459.5,340.4 458.8,342.0 457.9,345.2 457.4,349.2 457.1,354.8 457.1,362.8 456.5,362.8 456.7,347.6 457.1,343.6 457.6,341.2 458.7,338.8 460.0,337.2 463.1,334.3 465.9,332.4Z" fill="#0ff056" fill-rule="evenodd" stroke="#0ff056" stroke-width="0.3"/>
<path d="M455.8,248.4 456.5,248.4 456.7,261.2 457.2,269.2 457.9,272.4 458.2,273.3 459.0,274.4 459.8,274.8 460.7,274.8 462.3,274.3 466.3,272.5 468.7,272.3 471.2,273.0 480.9,277.3 482.5,277.8 484.1,278.1 485.7,277.8 486.5,277.2 487.1,276.4 487.8,274.8 488.3,271.6 488.5,267.6 488.4,262.0 487.8,254.8 487.0,248.4 492.2,248.4 492.2,362.8 487.2,362.8 486.0,355.6 484.3,349.2 482.1,343.6 479.6,339.6 476.5,336.4 472.8,333.6 470.4,332.3 468.7,331.9 467.9,331.8 467.1,331.9 465.5,332.6 462.4,334.8 459.3,338.0 457.9,340.4 457.2,342.8 456.8,346.8 456.5,354.0 456.5,362.8 455.8,362.8 455.8,248.4ZM467.9,273.9 466.3,274.3 464.7,275.1 460.7,278.0 458.2,279.5 456.6,280.0 455.8,280.4 455.8,336.4 456.6,336.5 459.0,335.4 465.5,331.0 467.1,330.4 468.7,330.3 470.4,330.6 472.8,331.6 477.7,334.0 478.4,334.6 479.2,334.8 482.5,336.8 484.9,337.9 485.9,338.0 487.3,338.6 489.0,338.6 489.8,338.0 490.6,338.0 492.2,336.4 492.2,281.2 490.6,281.2 489.8,282.0 485.7,281.9 484.7,281.2 483.3,280.8 478.5,278.0 477.6,277.7 472.0,274.8 469.6,274.0 467.9,273.9Z" fill="#12f031" fill-rule="evenodd" stroke="#12f031" stroke-width="0.3"/>
<path d="M467.3,274.0 469.6,274.0 472.0,274.8 477.6,277.7 478.5,278.0 483.3,280.8 484.7,281.2 485.7,281.9 489.8,282.0 490.6,281.2 492.2,281.2 492.2,336.4 490.6,338.0 489.8,338.0 489.0,338.6 487.3,338.6 485.9,338.0 484.9,337.9 482.5,336.8 479.2,334.8 478.4,334.6 477.7,334.0 472.8,331.6 470.4,330.6 468.7,330.3 467.1,330.4 465.5,331.0 459.0,335.4 456.6,336.5 455.8,336.4 455.8,280.4 456.6,280.0 458.2,279.5 460.7,278.0 464.7,275.1 466.3,274.3 467.3,274.0ZM467.1,275.5 465.5,276.2 463.9,277.2 462.0,278.8 459.6,281.2 458.1,283.6 457.2,286.8 456.8,290.0 456.6,295.6 456.5,310.8 456.9,322.0 457.3,326.0 457.8,328.4 458.4,330.0 459.0,330.8 459.8,331.2 461.5,331.0 466.3,328.9 468.7,328.7 471.2,329.4 476.0,331.6 481.7,334.0 483.3,334.4 484.9,334.4 485.7,334.2 486.5,333.6 487.7,331.6 488.3,328.4 488.5,322.8 488.0,314.0 487.1,306.0 486.0,299.6 484.4,293.2 483.0,289.2 481.4,286.0 479.9,283.6 477.8,281.2 475.0,278.8 471.2,276.3 468.7,275.5 467.1,275.5Z" fill="#27f01c" fill-rule="evenodd" stroke="#27f01c" stroke-width="0.3"/>
<path d="M467.0,275.6 468.7,275.5 471.2,276.3 475.0,278.8 477.8,281.2 479.9,283.6 481.4,286.0 483.0,289.2 484.4,293.2 486.0,299.6 487.1,306.0 488.0,314.0 488.5,322.8 488.3,328.4 487.7,331.6 486.5,333.6 485.7,334.2 484.9,334.4 483.3,334.4 481.7,334.0 476.0,331.6 471.2,329.4 468.7,328.7 466.3,328.9 461.5,331.0 459.8,331.2 459.0,330.8 458.4,330.0 457.8,328.4 457.3,326.0 456.9,322.0 456.5,310.8 456.6,295.6 456.8,290.0 457.2,286.8 458.1,283.6 459.6,281.2 462.0,278.8 463.9,277.2 465.5,276.2 467.0,275.6ZM467.1,277.1 465.5,277.7 463.9,278.8 462.2,280.4 460.8,282.0 459.7,283.6 458.9,285.2 457.9,289.2 457.5,292.4 457.2,297.2 457.1,310.0 457.6,319.6 458.0,322.8 458.6,325.2 459.3,326.8 459.8,327.6 460.7,328.2 462.3,328.3 466.3,327.2 468.7,327.1 471.2,327.8 475.2,329.7 478.4,330.9 481.7,331.6 483.3,331.4 484.1,331.0 484.9,330.2 485.7,328.4 486.3,325.2 486.5,320.4 486.2,314.0 485.4,307.6 484.4,302.0 482.9,295.6 481.5,291.6 480.2,288.4 478.3,285.2 476.5,282.8 473.6,279.9 471.2,278.0 468.7,277.0 467.1,277.1Z" fill="#4ef119" fill-rule="evenodd" stroke="#4ef119" stroke-width="0.3"/>
<path d="M466.7,277.2 467.9,277.0 468.7,277.0 470.4,277.6 472.8,279.2 475.8,282.0 477.8,284.4 479.8,287.6 481.2,290.8 482.6,294.8 483.9,299.6 485.3,306.8 486.2,314.0 486.5,320.4 486.3,325.2 485.7,328.4 484.9,330.2 484.1,331.0 483.3,331.4 481.7,331.6 478.4,330.9 475.2,329.7 471.2,327.8 468.7,327.1 466.3,327.2 462.3,328.3 460.7,328.2 459.8,327.6 459.3,326.8 458.6,325.2 458.0,322.8 457.6,319.6 457.1,310.0 457.2,297.2 457.5,292.4 457.9,289.2 458.9,285.2 459.7,283.6 460.8,282.0 462.2,280.4 463.9,278.8 465.5,277.7 466.7,277.2ZM467.1,278.6 466.3,278.8 464.7,279.8 463.1,281.2 461.5,283.2 460.2,285.2 459.5,286.8 458.5,290.8 457.8,298.0 457.7,307.6 458.1,316.4 459.0,321.8 459.8,324.0 460.7,325.1 461.5,325.7 463.1,326.0 467.1,325.4 468.7,325.5 470.4,326.0 474.4,327.8 476.8,328.6 480.1,329.1 481.7,328.8 482.5,328.4 483.3,327.6 484.1,325.8 484.7,322.8 484.9,318.8 484.6,313.2 483.9,307.6 482.9,302.0 481.5,296.4 480.4,293.2 478.7,289.2 476.9,286.0 475.1,283.6 472.8,281.1 470.4,279.3 468.7,278.6 467.1,278.6Z" fill="#74f216" fill-rule="evenodd" stroke="#74f216" stroke-width="0.3"/>
<path d="M466.5,278.8 467.9,278.5 468.7,278.6 470.4,279.3 472.0,280.4 474.4,282.8 476.3,285.2 478.3,288.4 479.8,291.6 481.2,295.6 482.7,301.2 483.8,306.8 484.6,313.2 484.9,318.8 484.7,322.8 484.1,325.8 483.3,327.6 482.5,328.4 481.7,328.8 480.1,329.1 476.8,328.6 474.4,327.8 470.4,326.0 468.7,325.5 467.1,325.4 463.1,326.0 461.5,325.7 460.7,325.1 460.1,324.4 459.1,322.0 458.1,316.4 457.7,307.6 457.8,298.0 458.5,290.8 459.5,286.8 461.2,283.6 462.4,282.0 463.9,280.4 465.5,279.2 466.5,278.8ZM467.1,280.2 466.3,280.4 464.7,281.4 462.3,284.0 461.1,286.0 460.4,287.6 459.2,291.6 458.5,298.0 458.3,306.0 458.7,314.0 459.0,316.8 459.7,319.6 460.7,322.0 461.5,323.0 462.3,323.6 463.9,323.9 467.1,323.7 468.7,323.9 475.2,326.4 477.6,326.8 479.3,326.8 480.9,326.1 481.7,325.3 482.2,324.4 483.0,322.0 483.3,319.6 483.3,315.6 482.9,310.0 482.0,304.4 481.0,299.6 479.8,295.6 478.3,291.6 476.6,288.4 475.1,286.0 472.8,283.1 470.7,281.2 468.7,280.2 467.1,280.2Z" fill="#9af312" fill-rule="evenodd" stroke="#9af312" stroke-width="0.3"/>
<path d="M466.3,280.4 467.9,280.1 469.6,280.5 471.2,281.5 473.6,284.0 475.7,286.8 477.5,290.0 478.9,293.2 480.3,297.2 481.5,302.0 482.6,307.6 483.1,312.4 483.4,317.2 483.1,321.2 482.6,323.6 481.7,325.3 480.9,326.1 480.1,326.5 478.4,326.8 476.8,326.7 474.4,326.1 468.7,323.9 467.1,323.7 463.9,323.9 462.4,323.6 461.5,323.0 460.7,322.0 459.8,320.2 458.9,315.6 458.3,307.6 458.4,299.6 459.0,292.6 460.1,288.4 461.5,285.2 462.6,283.6 463.9,282.1 465.0,281.2 466.3,280.4ZM467.1,281.8 466.3,282.0 464.7,283.1 462.8,285.2 461.1,288.4 459.8,292.7 459.1,298.8 458.9,305.2 459.2,311.6 459.6,314.8 460.2,317.2 460.7,318.7 461.5,320.2 462.3,321.1 463.1,321.6 464.7,321.9 468.7,322.3 475.2,324.6 476.8,324.7 478.4,324.4 479.8,323.6 480.9,322.1 481.6,319.6 481.9,317.2 481.9,313.2 481.5,309.2 480.8,304.4 479.7,299.6 478.5,295.6 477.2,292.4 475.6,289.2 474.1,286.8 472.2,284.4 470.4,282.7 468.7,281.9 467.1,281.8Z" fill="#c0f40f" fill-rule="evenodd" stroke="#c0f40f" stroke-width="0.3"/>
<path d="M466.4,282.0 467.9,281.7 469.6,282.2 471.2,283.4 472.9,285.2 474.6,287.6 476.5,290.8 478.2,294.8 479.5,298.8 480.5,302.8 481.3,307.6 481.8,312.4 481.9,316.4 481.6,319.6 480.9,322.0 480.1,323.4 479.3,324.0 478.4,324.4 476.8,324.7 475.2,324.6 468.7,322.3 464.7,321.9 463.1,321.6 462.3,321.1 461.5,320.2 460.7,318.7 460.2,317.2 459.3,312.4 458.9,306.0 459.1,298.8 459.7,293.2 460.8,289.2 462.3,286.1 464.1,283.6 465.5,282.5 466.4,282.0ZM467.1,283.5 466.3,283.7 464.7,284.9 463.1,286.9 461.5,290.2 460.4,294.0 459.8,298.8 459.6,304.4 459.8,310.0 460.7,314.9 461.5,317.2 461.9,318.0 463.1,319.2 463.9,319.7 468.7,320.6 474.4,322.5 476.0,322.6 476.8,322.4 478.4,321.5 479.3,320.5 480.0,318.8 480.4,316.4 480.6,313.2 480.3,309.2 479.8,305.2 478.9,301.2 477.8,297.2 476.6,294.0 475.1,290.8 473.6,288.3 472.0,286.1 470.4,284.5 468.7,283.6 467.1,283.5Z" fill="#e7f50c" fill-rule="evenodd" stroke="#e7f50c" stroke-width="0.3"/>
<path d="M466.7,283.6 467.9,283.4 469.6,283.9 471.2,285.2 472.8,287.1 474.6,290.0 476.2,293.2 477.5,296.4 478.7,300.4 479.6,304.4 480.2,308.4 480.5,312.4 480.5,315.6 480.1,318.5 479.3,320.4 478.4,321.5 476.8,322.4 476.0,322.6 474.4,322.5 468.7,320.6 463.9,319.7 463.1,319.2 461.9,318.0 461.5,317.2 460.7,314.9 459.8,310.0 459.6,304.4 459.8,298.8 460.4,294.0 461.5,290.2 463.1,286.9 464.7,284.9 465.5,284.2 466.7,283.6ZM467.9,285.2 466.3,285.5 465.5,286.0 464.0,287.6 462.6,290.0 461.5,293.4 460.7,297.8 460.4,302.0 460.5,307.6 461.0,311.6 461.5,313.6 462.3,315.6 463.1,316.7 463.9,317.4 465.5,318.1 468.7,318.8 472.8,320.2 474.4,320.4 475.2,320.4 476.8,319.7 477.6,318.9 478.4,317.3 478.9,315.6 479.2,313.2 479.1,310.0 478.3,303.6 477.3,299.6 476.3,296.4 475.2,293.8 473.7,290.8 472.2,288.4 470.8,286.8 469.6,285.8 467.9,285.2Z" fill="#fae109" fill-rule="evenodd" stroke="#fae109" stroke-width="0.3"/>
<path d="M467.6,285.2 468.7,285.4 470.4,286.4 472.0,288.2 473.6,290.6 474.9,293.2 476.3,296.4 478.1,302.8 478.8,306.8 479.1,310.0 479.2,313.2 478.9,315.6 478.4,317.3 477.6,318.9 476.8,319.7 475.2,320.4 474.4,320.4 472.8,320.2 468.7,318.8 465.5,318.1 463.9,317.4 463.1,316.7 462.3,315.6 461.2,312.4 460.5,308.4 460.3,303.6 460.6,298.0 461.3,294.0 462.3,290.8 463.9,287.8 465.5,286.0 466.3,285.5 467.6,285.2ZM466.3,287.5 464.7,288.9 463.5,290.8 462.5,293.2 461.7,296.4 461.3,299.6 461.1,303.6 461.4,307.6 461.9,310.8 462.3,312.1 463.1,313.8 463.9,314.9 464.7,315.5 466.3,316.2 472.0,317.9 473.6,318.1 474.4,318.0 475.9,317.2 476.5,316.4 477.3,314.8 477.7,312.4 477.8,310.0 477.6,306.8 477.1,303.6 476.3,300.4 475.3,297.2 474.0,294.0 472.8,291.6 471.2,289.3 469.6,287.7 468.7,287.3 467.9,287.1 467.1,287.1 466.3,287.5Z" fill="#fab808" fill-rule="evenodd" stroke="#fab808" stroke-width="0.3"/>
<path d="M466.1,287.6 467.1,287.1 467.9,287.1 468.7,287.3 469.6,287.7 471.2,289.3 472.8,291.6 474.0,294.0 475.3,297.2 476.3,300.4 477.1,303.6 477.6,306.8 477.8,310.0 477.7,312.4 477.3,314.8 476.5,316.4 475.9,317.2 474.4,318.0 473.6,318.1 472.0,317.9 466.3,316.2 464.9,315.6 463.9,314.9 463.1,313.8 462.1,311.6 461.5,308.5 461.2,305.2 461.2,301.2 461.6,297.2 462.3,294.0 463.1,291.6 464.7,288.9 466.1,287.6ZM467.9,289.2 467.1,289.3 466.3,289.6 465.5,290.3 464.1,292.4 463.1,295.1 462.5,298.0 462.1,301.2 462.1,304.4 462.4,307.6 463.3,310.8 463.9,311.9 465.1,313.2 466.3,314.0 468.7,314.9 471.2,315.5 472.8,315.7 473.6,315.5 474.7,314.8 475.3,314.0 475.9,312.4 476.2,310.8 476.3,308.4 475.8,303.6 474.4,298.2 472.6,294.0 471.2,291.6 470.4,290.7 468.7,289.4 467.9,289.2Z" fill="#fa8f06" fill-rule="evenodd" stroke="#fa8f06" stroke-width="0.3"/>
<path d="M467.8,289.2 468.7,289.4 469.6,289.9 470.5,290.8 472.0,292.9 473.4,295.6 474.3,298.0 475.7,302.8 476.3,307.6 476.1,311.6 475.2,314.1 474.4,315.0 473.2,315.6 472.0,315.7 470.4,315.3 467.1,314.3 465.5,313.5 464.7,312.9 463.9,311.9 463.1,310.2 462.6,308.4 462.2,305.2 462.1,302.0 462.3,298.8 463.1,295.1 463.9,292.9 465.1,290.8 466.3,289.6 467.1,289.3 467.8,289.2ZM466.3,292.2 465.5,293.1 464.7,294.5 463.9,296.8 463.5,298.8 463.2,301.2 463.2,303.6 463.8,307.6 464.7,309.6 465.5,310.6 466.3,311.3 467.9,312.1 469.6,312.7 471.2,312.9 472.0,312.9 472.8,312.6 473.6,311.8 474.1,310.8 474.6,309.2 474.6,305.2 473.7,300.4 472.0,295.9 470.4,293.3 469.5,292.4 468.7,291.9 467.9,291.6 467.1,291.7 466.3,292.2Z" fill="#fa6604" fill-rule="evenodd" stroke="#fa6604" stroke-width="0.3"/>
<path d="M466.1,292.4 467.1,291.7 467.9,291.6 468.7,291.9 469.6,292.4 470.4,293.3 471.8,295.6 473.6,300.1 474.6,305.2 474.6,309.2 474.1,310.8 473.6,311.8 472.8,312.6 472.0,312.9 471.2,312.9 469.6,312.7 467.9,312.1 466.3,311.3 465.5,310.6 464.7,309.6 463.8,307.6 463.2,303.6 463.2,301.2 463.5,298.8 463.9,296.8 464.6,294.8 465.5,293.1 466.1,292.4ZM467.9,294.7 467.1,294.9 466.4,295.6 465.5,297.2 464.9,299.6 464.7,301.2 464.9,304.4 465.5,306.4 466.3,307.8 467.0,308.4 468.7,309.4 470.4,309.6 471.3,309.2 472.0,308.5 472.4,307.6 472.7,305.2 472.5,302.8 471.7,299.6 470.4,296.7 469.6,295.6 468.7,295.0 467.9,294.7Z" fill="#fa3d02" fill-rule="evenodd" stroke="#fa3d02" stroke-width="0.3"/>
<path d="M467.6,294.8 468.7,295.0 469.6,295.6 470.4,296.7 471.4,298.8 472.4,302.0 472.7,305.2 472.4,307.6 472.0,308.5 471.3,309.2 470.4,309.6 468.7,309.4 467.0,308.4 466.3,307.8 465.5,306.4 464.9,304.4 464.7,301.2 465.2,298.0 466.3,295.7 467.1,294.9 467.6,294.8Z" fill="#fa1401" fill-rule="evenodd" stroke="#fa1401" stroke-width="0.3"/>
<path d="M456.2,248.4 456.3,261.2 456.7,269.2 457.2,273.2 457.7,274.8 458.2,275.7 459.0,276.2 459.8,276.3 460.7,276.1 466.3,273.2 467.9,272.9 468.7,272.9 471.2,273.6 482.5,278.8 484.9,279.4 486.5,279.2 487.3,278.7 488.0,278.0 488.8,276.4 489.3,273.2 489.5,268.4 489.3,262.0 488.7,254.0 488.1,248.4M488.3,362.8 487.0,354.8 485.9,350.0 484.3,345.2 482.3,341.2 479.8,338.0 478.0,336.4 475.9,334.8 471.2,331.9 469.6,331.4 467.9,331.2 467.1,331.3 465.5,332.0 462.6,334.0 459.0,337.2 457.8,338.8 457.4,339.6 456.8,342.0 456.4,346.0 456.2,362.8M456.6,248.4 456.8,259.6 457.2,266.8 457.8,270.8 458.2,272.1 459.0,273.5 459.8,274.1 460.7,274.2 461.5,274.1 466.3,272.2 468.7,272.0 471.2,272.7 476.0,274.9 480.9,276.9 482.5,277.3 484.1,277.5 484.9,277.3 485.7,276.9 486.8,275.6 487.6,273.2 487.9,270.8 488.1,266.0 487.8,260.4 487.2,253.2 486.5,248.4M486.7,362.8 485.5,355.6 484.2,350.8 482.6,346.0 480.6,342.0 478.3,338.8 474.9,335.6 471.2,333.0 469.6,332.3 467.9,332.1 467.1,332.2 465.5,332.9 463.9,333.9 461.9,335.6 460.4,337.2 459.1,338.8 457.9,341.2 457.2,344.4 456.9,348.4 456.6,362.8M456.9,248.4 457.1,258.0 457.7,265.2 458.4,269.2 459.0,270.8 459.8,271.9 460.7,272.4 461.5,272.5 463.1,272.2 466.3,271.2 468.7,271.0 471.2,271.7 475.2,273.6 478.4,274.8 480.9,275.5 482.5,275.8 484.1,275.4 484.9,274.8 485.5,274.0 486.4,271.6 486.7,269.2 486.9,265.2 486.7,260.4 486.1,254.0 485.3,248.4M485.6,362.8 484.4,356.4 482.9,350.8 481.1,346.0 479.5,342.8 478.0,340.4 476.7,338.8 473.3,335.6 470.4,333.6 468.7,333.1 467.9,333.1 467.1,333.2 465.5,333.8 463.1,335.6 460.2,338.8 459.2,340.4 458.5,342.0 457.7,345.2 457.3,349.2 457.0,354.8 456.9,362.8M457.3,248.4 457.5,257.2 458.0,263.6 458.9,267.6 459.5,269.2 460.1,270.0 461.2,270.8 462.3,271.0 466.3,270.1 468.7,270.1 470.4,270.5 476.8,273.2 480.9,274.2 482.5,274.0 483.3,273.6 484.1,272.9 485.1,270.8 485.6,268.4 485.8,264.4 485.7,259.6 485.1,254.0 484.3,248.4M484.6,362.8 483.5,357.2 482.0,351.6 480.6,347.6 478.7,343.6 476.0,339.6 472.8,336.4 470.4,334.6 468.7,334.1 467.9,334.0 467.1,334.1 465.5,334.7 463.1,336.6 460.6,339.6 459.0,342.7 458.2,346.0 457.7,350.0 457.4,355.6 457.3,362.8M457.7,248.4 457.9,256.4 458.4,262.0 459.2,266.0 459.8,267.6 460.7,268.7 461.5,269.3 463.1,269.6 467.1,269.0 468.7,269.1 470.4,269.6 476.0,271.9 478.4,272.5 480.1,272.7 481.8,272.4 482.5,272.0 483.3,271.1 484.1,269.4 484.6,266.8 484.9,263.6 484.7,258.8 484.3,254.0 483.4,248.4M483.7,362.8 482.8,358.0 481.3,352.4 479.6,347.6 478.1,344.4 475.4,340.4 472.8,337.5 470.4,335.7 468.7,335.0 467.9,334.9 467.1,335.0 465.5,335.6 463.1,337.6 460.9,340.4 459.4,343.6 458.6,346.8 458.0,350.8 457.7,356.4 457.7,362.8M458.0,248.4 458.2,255.5 458.7,260.4 459.5,264.4 460.7,266.9 461.5,267.7 462.3,268.1 463.9,268.3 467.1,268.0 468.7,268.2 470.4,268.7 475.2,270.7 477.6,271.2 479.3,271.3 480.9,271.0 482.1,270.0 483.0,268.4 483.7,266.0 483.9,262.8 483.8,258.0 483.4,253.2 482.6,248.4M482.9,362.8 482.0,358.0 480.5,352.4 479.0,348.4 477.1,344.4 474.9,341.2 472.1,338.0 469.8,336.4 467.9,335.9 467.1,335.9 465.5,336.6 463.7,338.0 461.5,340.8 459.8,344.2 458.9,347.6 458.4,351.6 458.1,356.4 458.0,362.8M458.4,248.4 458.6,254.8 459.2,260.4 460.0,263.6 460.7,265.0 461.5,266.1 462.3,266.7 463.1,267.0 467.1,267.0 468.7,267.2 474.4,269.4 477.6,270.0 479.3,269.8 480.9,269.0 481.9,267.6 482.7,265.2 483.0,262.0 483.0,258.0 482.6,253.2 481.8,248.4M482.1,362.8 481.2,358.0 479.9,353.2 478.5,349.2 476.6,345.2 474.5,342.0 472.0,339.0 469.6,337.2 467.9,336.8 466.3,337.1 464.9,338.0 463.9,338.8 462.0,341.2 460.4,344.4 459.5,347.6 458.8,351.6 458.4,357.2 458.4,362.8M458.8,248.4 459.0,254.0 459.5,258.8 460.3,262.0 461.5,264.4 462.3,265.2 463.1,265.6 464.7,265.9 467.1,266.0 468.7,266.2 474.4,268.3 476.8,268.7 478.4,268.5 480.1,267.7 480.9,266.7 481.7,264.4 482.2,261.2 482.2,258.0 481.8,253.2 481.1,248.4M481.4,362.8 480.4,358.0 479.1,353.2 477.7,349.2 476.1,346.0 474.1,342.8 472.0,340.2 469.6,338.3 467.9,337.8 466.3,338.1 465.1,338.8 463.9,339.9 462.3,342.0 460.7,345.2 459.8,348.4 459.2,352.4 458.8,357.2 458.8,362.8M459.2,248.4 459.4,253.2 459.9,258.0 460.8,261.2 461.5,262.6 462.2,263.6 463.1,264.3 463.9,264.6 468.7,265.2 473.6,267.0 476.0,267.5 477.6,267.3 479.3,266.4 480.2,265.2 481.0,262.8 481.4,259.6 481.3,256.4 481.0,252.4 480.4,248.4M480.7,362.8 479.7,358.0 478.6,354.0 477.2,350.0 475.7,346.8 473.8,343.6 471.9,341.2 469.6,339.3 467.9,338.8 466.3,339.1 465.4,339.6 463.9,341.0 462.3,343.3 461.1,346.0 460.2,349.2 459.5,353.2 459.2,358.0 459.2,362.8M459.6,248.4 459.8,253.2 460.4,257.2 461.3,260.4 462.3,262.1 463.1,262.8 464.7,263.5 468.7,264.2 473.6,265.9 475.2,266.2 476.8,266.0 478.4,265.1 479.3,264.1 480.1,262.0 480.5,259.6 480.6,256.4 480.3,252.4 479.7,248.4M480.0,362.8 479.2,358.8 478.2,354.8 476.8,350.8 475.3,347.6 473.4,344.4 471.5,342.0 469.6,340.3 467.9,339.8 466.3,340.1 464.7,341.3 463.1,343.3 461.5,346.6 460.5,350.0 459.9,354.0 459.6,358.0 459.6,362.8M460.0,248.4 460.2,252.4 460.8,256.4 461.5,258.8 462.3,260.4 462.9,261.2 463.9,261.9 464.7,262.3 468.7,263.2 473.6,264.8 475.2,264.9 476.8,264.5 477.9,263.6 478.9,262.0 479.4,260.4 479.7,258.0 479.7,254.8 479.0,248.4M479.2,362.8 478.5,358.8 477.4,354.8 476.3,351.6 474.9,348.4 473.0,345.2 471.2,342.8 469.6,341.4 467.9,340.9 466.3,341.2 464.7,342.4 463.1,344.6 461.7,347.6 460.9,350.8 460.4,354.0 460.1,358.0 460.1,362.8M460.5,248.4 460.7,252.4 461.3,255.6 462.0,258.0 463.1,259.8 463.9,260.5 465.5,261.3 468.7,262.1 472.8,263.4 474.4,263.6 476.0,263.2 476.8,262.6 477.6,261.7 478.5,259.6 478.8,257.2 478.9,254.8 478.7,251.6 478.3,248.4M478.5,362.8 477.8,358.8 477.0,355.6 475.9,352.4 474.4,349.0 472.8,346.2 471.2,344.0 469.6,342.6 467.9,341.9 466.3,342.3 464.7,343.6 463.1,346.0 462.3,347.8 461.4,350.8 460.8,354.8 460.5,358.8 460.5,362.8M461.0,248.4 461.3,252.4 461.8,254.8 462.6,257.2 463.7,258.8 464.7,259.6 465.5,260.0 472.0,262.0 473.6,262.2 475.2,261.9 476.0,261.4 476.9,260.4 477.5,258.8 478.0,256.4 478.1,254.0 477.5,248.4M477.8,362.8 477.1,358.8 476.2,355.6 475.1,352.4 473.7,349.2 472.0,346.3 470.4,344.4 468.7,343.3 467.9,343.1 467.1,343.1 466.3,343.5 464.7,344.8 463.5,346.8 462.4,349.2 461.6,352.4 461.2,355.6 461.0,359.6 461.1,362.8M461.5,248.4 461.8,251.6 462.3,253.9 463.1,256.1 463.9,257.3 464.7,258.1 466.3,259.0 471.2,260.5 472.8,260.8 474.4,260.5 475.2,260.1 476.0,259.1 476.6,258.0 477.0,256.4 477.2,254.0 477.2,251.6 476.8,248.4M477.0,362.8 476.5,359.6 475.7,356.4 474.7,353.2 473.6,350.7 472.0,347.7 470.6,346.0 469.6,345.0 467.9,344.3 467.0,344.4 465.5,345.3 463.9,347.5 463.1,349.3 462.3,352.1 461.7,355.6 461.5,359.6 461.6,362.8M462.1,248.4 462.4,250.8 463.1,253.8 463.9,255.5 464.7,256.5 465.6,257.2 467.4,258.0 471.2,259.1 472.8,259.3 473.6,259.1 474.4,258.7 475.2,257.7 475.8,256.4 476.3,253.2 476.0,248.4M476.2,362.8 475.7,359.6 475.0,356.4 473.9,353.2 472.8,350.8 471.4,348.4 470.4,347.1 469.0,346.0 467.9,345.6 467.1,345.7 466.4,346.0 465.5,346.7 464.3,348.4 463.3,350.8 462.7,353.2 462.2,356.4 462.1,359.6 462.3,362.8M462.8,248.4 463.1,250.8 463.9,253.2 464.7,254.6 465.5,255.5 467.0,256.4 468.7,257.1 470.4,257.5 472.0,257.7 472.8,257.5 473.6,257.1 474.4,256.2 475.0,254.8 475.4,251.6 475.2,248.4M475.3,362.8 475.1,360.4 474.4,357.3 472.7,352.4 471.4,350.0 470.4,348.6 469.3,347.6 467.9,347.0 467.1,347.1 466.3,347.5 465.5,348.3 464.7,349.5 463.8,351.6 463.1,354.6 462.8,357.2 462.8,360.4 463.0,362.8M463.6,248.4 463.9,250.1 464.4,251.6 465.5,253.6 466.3,254.3 467.9,255.2 469.6,255.7 471.2,255.9 472.0,255.8 472.8,255.4 473.7,254.0 474.3,251.6 474.2,248.4M474.3,362.8 473.7,358.0 472.8,354.9 472.0,353.0 471.2,351.4 470.1,350.0 468.7,348.8 467.9,348.6 467.1,348.7 466.3,349.2 465.6,350.0 464.7,351.7 464.2,353.2 463.7,355.6 463.5,358.0 463.5,360.4 463.9,362.8M464.6,248.4 465.4,250.8 466.3,252.2 467.9,253.3 469.6,253.9 470.4,253.9 471.2,253.8 472.0,253.3 472.6,252.4 473.0,250.8 473.1,248.4M473.1,362.8 472.8,358.8 471.7,354.8 470.4,352.4 469.6,351.3 468.7,350.7 467.9,350.4 467.1,350.6 466.3,351.3 465.5,352.5 464.7,354.8 464.4,358.8 464.6,361.2 465.0,362.8M466.0,248.4 466.3,249.2 467.1,250.3 467.9,251.0 469.6,251.4 470.4,251.2 471.2,250.4 471.7,248.4M471.4,362.8 471.7,360.4 471.2,357.1 470.4,355.0 469.6,353.7 468.7,353.0 467.9,352.8 467.1,353.1 466.3,354.2 465.6,357.2 465.5,358.8 465.8,360.4 466.3,362.0 466.9,362.8" fill="none" stroke="#04203a" stroke-width="0.32" stroke-opacity="0.5"/>
<path d="M465.5,275.6 467.1,274.9 467.9,274.8 470.4,275.2 473.6,276.9 477.5,279.6 480.1,282.0 482.0,284.4 483.8,287.6 485.1,290.8 486.8,297.2 487.8,302.8 488.8,310.8 489.5,321.2 489.5,327.6 489.1,331.6 488.2,334.2 487.3,335.1 486.5,335.6 484.9,335.8 482.5,335.2 472.0,330.3 469.6,329.4 467.9,329.3 466.3,329.6 461.5,332.1 459.8,332.7 459.0,332.6 458.2,332.1 457.4,330.5 457.0,328.4 456.7,325.2 456.3,314.0 456.3,295.6 456.4,290.0 456.8,286.0 457.4,283.2 458.6,281.2 462.1,278.0 465.5,275.6M465.7,276.4 467.9,275.7 468.7,275.8 470.4,276.2 472.8,277.6 476.3,280.4 478.6,282.8 480.4,285.2 482.1,288.4 483.6,292.4 485.2,298.0 486.4,304.4 487.6,313.2 488.0,320.4 488.0,326.0 487.5,330.0 486.5,332.4 485.7,333.3 484.9,333.7 483.3,333.9 480.9,333.3 476.0,331.3 471.2,329.1 469.6,328.5 467.9,328.3 466.3,328.6 462.3,330.2 460.7,330.6 459.8,330.5 459.0,329.9 458.2,328.4 457.6,326.0 457.2,322.8 456.7,313.2 456.7,297.2 456.9,291.6 457.3,287.6 458.1,284.4 459.4,282.0 462.4,278.8 463.9,277.5 465.7,276.4M465.9,277.2 467.9,276.7 468.7,276.7 470.4,277.2 472.8,278.8 475.5,281.2 477.7,283.6 479.8,286.8 481.3,290.0 482.8,294.0 484.5,300.4 485.5,306.0 486.4,313.2 486.9,321.2 486.7,326.0 486.0,329.2 484.9,331.2 484.1,331.8 483.3,332.1 481.7,332.1 479.3,331.5 475.2,330.0 471.2,328.1 468.7,327.4 466.3,327.6 462.3,328.8 460.7,328.8 459.8,328.3 459.3,327.6 458.5,326.0 457.9,323.6 457.5,320.4 457.0,310.8 457.0,298.0 457.2,293.2 457.7,289.2 458.7,285.2 459.9,282.8 462.6,279.6 464.5,278.0 465.9,277.2M466.2,278.0 467.9,277.6 468.7,277.7 470.4,278.2 472.4,279.6 474.9,282.0 476.9,284.4 479.0,287.6 480.5,290.8 481.9,294.8 483.6,301.2 484.6,306.8 485.5,313.2 485.8,319.6 485.6,324.4 485.0,327.6 484.1,329.3 483.3,330.0 482.5,330.4 480.9,330.6 477.6,329.9 475.2,329.0 470.4,326.9 468.7,326.5 467.1,326.4 463.1,327.3 461.5,327.3 460.7,326.9 459.8,326.2 459.0,324.4 458.4,322.0 457.9,318.8 457.4,310.0 457.4,298.0 457.7,293.2 458.1,290.0 459.1,286.0 460.8,282.8 462.1,281.2 463.7,279.6 466.2,278.0M466.5,278.8 467.9,278.5 468.7,278.6 470.4,279.3 472.0,280.4 474.4,282.8 476.3,285.2 478.3,288.4 479.8,291.6 481.2,295.6 482.7,301.2 483.8,306.8 484.6,313.2 484.9,318.8 484.7,322.8 484.1,325.8 483.3,327.6 482.5,328.4 481.7,328.8 480.1,329.1 476.8,328.6 474.4,327.8 470.4,326.0 468.7,325.5 467.1,325.4 463.1,326.0 461.5,325.7 460.7,325.1 460.1,324.4 459.1,322.0 458.1,316.4 457.7,307.6 457.8,298.0 458.5,290.8 459.5,286.8 461.2,283.6 462.4,282.0 463.9,280.4 465.5,279.2 466.5,278.8M466.9,279.6 467.9,279.5 468.7,279.6 470.4,280.3 472.5,282.0 474.6,284.4 476.3,286.8 478.1,290.0 479.8,294.0 481.1,298.0 482.2,302.8 483.3,309.2 483.8,314.8 483.9,319.6 483.6,322.8 482.9,325.2 481.7,326.9 480.1,327.6 478.4,327.7 476.0,327.3 468.7,324.6 467.1,324.4 463.9,324.7 462.3,324.5 461.5,324.1 460.7,323.3 459.8,321.8 459.4,320.4 458.9,318.0 458.5,314.8 458.0,306.8 458.2,298.0 458.9,291.6 459.9,287.6 461.5,284.4 463.9,281.4 465.5,280.2 466.9,279.6M465.4,281.2 467.1,280.5 468.7,280.5 470.4,281.3 472.8,283.5 474.8,286.0 476.8,289.2 478.3,292.4 479.8,296.4 481.1,301.2 482.2,306.8 482.9,312.4 483.1,317.2 482.8,321.2 482.1,323.6 481.7,324.5 480.9,325.4 479.3,326.2 477.6,326.4 475.2,326.0 470.4,324.1 467.9,323.5 463.1,323.4 462.3,323.1 461.5,322.5 460.7,321.4 459.8,319.4 458.9,314.8 458.4,307.6 458.5,299.6 459.0,293.6 460.0,289.2 461.3,286.0 463.1,283.3 465.4,281.2M465.7,282.0 467.1,281.4 468.7,281.5 470.4,282.4 472.8,284.7 474.9,287.6 476.7,290.8 478.1,294.0 479.5,298.0 480.7,302.8 481.6,307.6 482.1,312.4 482.2,317.2 481.8,320.4 481.0,322.8 480.1,324.1 478.4,324.9 476.8,325.1 475.2,324.9 468.7,322.6 463.9,322.2 463.1,322.0 462.3,321.6 461.5,320.8 460.7,319.4 460.2,318.0 459.2,313.2 458.8,306.8 458.9,299.6 459.4,294.0 460.3,290.0 461.6,286.8 462.6,285.2 463.8,283.6 465.7,282.0M466.1,282.8 467.1,282.4 467.9,282.4 469.6,282.9 471.2,284.1 472.8,285.9 474.5,288.4 476.3,291.6 477.7,294.8 479.0,298.8 480.2,303.6 481.0,308.4 481.3,312.4 481.3,316.4 481.1,318.8 480.4,321.2 479.3,322.8 477.6,323.7 476.0,323.9 474.4,323.6 468.7,321.6 464.7,321.1 463.1,320.7 462.3,320.1 461.5,319.0 460.4,316.4 459.6,312.4 459.2,306.0 459.3,299.6 459.8,294.5 460.7,290.8 462.3,286.9 463.9,284.6 464.7,283.8 466.1,282.8M466.7,283.6 467.9,283.4 469.6,283.9 471.2,285.2 472.8,287.1 474.6,290.0 476.2,293.2 477.5,296.4 478.7,300.4 479.6,304.4 480.2,308.4 480.5,312.4 480.5,315.6 480.1,318.5 479.3,320.4 478.4,321.5 476.8,322.4 476.0,322.6 474.4,322.5 468.7,320.6 463.9,319.7 463.1,319.2 461.9,318.0 461.5,317.2 460.7,314.9 459.8,310.0 459.6,304.4 459.8,298.8 460.4,294.0 461.5,290.2 463.1,286.9 464.7,284.9 465.5,284.2 466.7,283.6M465.6,285.2 467.1,284.5 468.7,284.6 470.4,285.6 472.0,287.3 473.6,289.7 475.2,292.7 476.5,295.6 477.8,299.6 478.8,303.6 479.4,307.6 479.7,311.6 479.7,314.8 479.3,317.3 478.4,319.3 477.5,320.4 476.0,321.2 475.2,321.3 473.6,321.2 468.7,319.6 465.5,318.9 463.9,318.3 463.1,317.7 462.3,316.8 461.1,314.0 460.4,310.0 460.0,305.2 460.1,300.4 460.6,295.6 461.5,292.0 462.5,289.2 463.9,286.9 465.6,285.2M466.1,286.0 467.1,285.6 468.7,285.7 470.4,286.8 472.0,288.6 473.6,291.1 475.1,294.0 476.3,297.2 477.3,300.4 478.2,304.4 478.7,307.6 478.9,310.8 478.8,314.0 478.4,316.4 477.6,318.1 476.8,319.0 476.0,319.6 475.2,319.9 474.4,320.0 472.8,319.8 464.7,317.4 463.9,316.9 462.7,315.6 461.5,312.8 460.7,308.4 460.5,304.4 460.6,299.6 461.2,295.6 461.9,292.4 463.1,289.6 464.7,287.2 466.1,286.0M467.0,286.8 467.9,286.7 469.6,287.3 470.7,288.4 472.0,290.0 473.6,292.6 475.0,295.6 476.1,298.8 477.0,302.0 477.6,305.2 478.0,308.4 478.1,311.6 477.8,314.0 477.4,315.6 476.6,317.2 475.7,318.0 474.4,318.6 473.6,318.6 472.0,318.4 466.3,316.7 464.7,316.0 463.9,315.4 463.1,314.4 462.3,312.8 461.7,310.8 461.2,307.6 461.0,303.6 461.1,299.6 461.7,295.6 462.6,292.4 463.9,289.6 465.5,287.6 467.0,286.8M466.2,288.4 467.1,288.0 467.9,287.9 468.7,288.1 470.3,289.2 471.2,290.2 472.6,292.4 473.6,294.3 475.6,299.6 476.9,305.2 477.2,308.4 477.2,310.8 476.9,313.2 476.4,314.8 475.3,316.4 474.4,316.9 473.6,317.2 472.0,317.1 465.5,315.0 464.7,314.5 463.5,313.2 463.0,312.4 462.3,310.3 461.7,306.8 461.5,303.6 461.7,299.6 462.1,296.4 463.0,293.2 463.9,291.1 464.7,289.8 466.2,288.4M467.8,289.2 468.7,289.4 469.6,289.9 470.5,290.8 472.0,292.9 473.4,295.6 474.3,298.0 475.7,302.8 476.3,307.6 476.1,311.6 475.2,314.1 474.4,315.0 473.2,315.6 472.0,315.7 470.4,315.3 467.1,314.3 465.5,313.5 464.7,312.9 463.9,311.9 463.1,310.2 462.6,308.4 462.2,305.2 462.1,302.0 462.3,298.8 463.1,295.1 463.9,292.9 465.1,290.8 466.3,289.6 467.1,289.3 467.8,289.2M466.9,290.8 467.9,290.6 468.7,290.8 469.8,291.6 471.2,293.2 472.9,296.4 474.5,301.2 475.3,306.0 475.2,310.0 474.4,312.6 473.6,313.5 472.8,313.9 472.0,314.1 470.4,313.9 467.9,313.2 466.3,312.4 465.5,311.9 464.5,310.8 463.9,309.7 463.2,307.6 462.8,305.2 462.7,302.8 462.9,299.6 463.3,297.2 463.9,295.0 464.7,293.1 465.5,291.9 466.9,290.8M466.9,292.4 467.9,292.2 468.7,292.4 470.4,293.8 472.0,296.6 473.6,301.2 474.3,305.2 474.2,308.4 473.6,310.8 472.8,311.8 472.0,312.2 471.2,312.3 469.6,312.1 467.9,311.6 466.3,310.7 465.5,310.0 464.7,308.8 463.9,306.5 463.6,304.4 463.5,302.0 463.9,298.0 464.6,295.6 465.4,294.0 466.3,292.8 466.9,292.4M466.4,294.8 467.1,294.2 467.9,294.0 468.7,294.3 469.6,294.9 471.1,297.2 472.1,299.6 473.0,303.6 473.1,306.8 472.8,308.4 472.4,309.2 472.0,309.7 471.2,310.2 469.6,310.3 468.6,310.0 467.1,309.3 466.3,308.6 465.6,307.6 464.9,306.0 464.4,302.8 464.5,299.6 465.4,296.4 466.4,294.8M467.9,296.4 468.7,296.6 469.4,297.2 470.4,298.6 471.2,300.7 471.6,302.8 471.6,305.2 471.2,306.8 470.4,307.6 469.6,307.8 468.5,307.6 467.1,306.7 466.2,305.2 465.6,302.8 465.6,300.4 466.2,298.0 467.1,296.7 467.9,296.4" fill="none" stroke="#050505" stroke-width="0.46" stroke-opacity="0.92"/>
<path d="M467.3,274.0 468.7,273.9 469.6,274.0 472.0,274.8 476.0,276.9 476.8,277.2 477.6,277.7 478.5,278.0 479.3,278.6 479.9,278.8 483.3,280.8 484.7,281.2 485.7,281.9 489.8,282.0 490.6,281.2 492.2,281.2 492.2,336.4 490.6,338.0 489.8,338.0 489.0,338.6 487.3,338.6 485.9,338.0 484.9,337.9 482.5,336.8 480.6,335.6 480.1,335.4 479.2,334.8 478.4,334.6 477.7,334.0 476.8,333.7 472.8,331.6 470.4,330.6 468.7,330.3 467.1,330.4 465.5,331.0 463.9,332.0 459.0,335.4 456.6,336.5 455.8,336.4 455.8,280.4 456.6,280.0 458.2,279.5 460.7,278.0 464.7,275.1 466.3,274.3 467.3,274.0" fill="none" stroke="#061006" stroke-width="0.85"/>
<g filter="url(#b15)">
<ellipse cx="455.8" cy="302.9" rx="3.0" ry="15" fill="#040404"/>
</g>
</g>
<rect x="455.8" y="248.4" width="36.4" height="114.4" fill="none" stroke="#0a0a0a" stroke-width="0.9"/>
<clipPath id="cp14"><rect x="499.6" y="248.4" width="36.4" height="114.4"/></clipPath>
<g clip-path="url(#cp14)">
<rect x="499.6" y="248.4" width="36.4" height="114.4" fill="#0000fa"/>
<path d="M520.5,302.0 521.4,301.6 522.2,301.7 523.5,302.0 524.7,302.7 525.5,303.4 526.1,304.4 526.7,306.0 527.1,309.2 527.0,310.8 526.6,313.2 525.5,315.5 524.7,316.3 523.9,316.5 523.1,316.2 522.2,315.6 521.4,314.5 520.6,313.0 519.6,310.0 519.2,307.6 519.1,305.2 519.7,302.8 520.5,302.0Z" fill="#0014fa" fill-rule="evenodd" stroke="#0014fa" stroke-width="0.3"/>
<path d="M518.8,298.8 519.8,298.3 521.4,298.3 524.7,299.4 526.1,300.4 526.8,301.2 528.0,303.6 528.4,306.0 528.6,308.4 528.5,310.8 528.0,314.0 527.2,316.4 526.4,318.0 525.5,319.0 524.7,319.5 523.9,319.6 523.1,319.3 521.4,317.9 519.8,315.3 518.1,310.8 517.3,306.8 517.2,302.8 517.7,300.4 518.2,299.4 518.8,298.8ZM520.6,301.9 519.7,302.8 519.2,304.4 519.1,306.8 519.4,309.2 520.4,312.4 521.4,314.5 522.2,315.6 523.1,316.2 523.9,316.5 524.7,316.3 525.4,315.6 526.3,314.0 526.9,311.6 527.1,310.0 526.9,306.8 526.1,304.4 525.5,303.4 524.7,302.7 523.5,302.0 522.2,301.7 521.4,301.6 520.6,301.9Z" fill="#003cfb" fill-rule="evenodd" stroke="#003cfb" stroke-width="0.3"/>
<path d="M518.6,295.6 519.8,295.5 521.4,295.9 524.7,296.9 526.3,297.7 527.1,298.3 527.9,299.3 528.7,301.0 529.2,302.8 529.6,306.0 529.7,309.2 529.5,312.4 528.9,315.6 528.1,318.0 527.1,319.8 525.9,321.2 524.7,321.9 523.9,322.0 523.1,321.8 522.2,321.3 521.4,320.5 520.1,318.8 518.1,314.8 516.3,309.2 515.8,306.3 515.5,303.6 515.7,299.6 516.6,297.1 517.4,296.2 518.6,295.6ZM519.0,298.6 518.2,299.4 517.7,300.4 517.2,302.8 517.3,306.8 518.1,310.8 519.8,315.3 521.4,317.9 523.1,319.3 523.9,319.6 524.7,319.5 525.5,319.0 526.4,318.0 527.2,316.4 528.0,314.0 528.5,310.8 528.6,308.4 528.4,306.0 528.0,303.6 526.8,301.2 526.1,300.4 525.0,299.6 523.1,298.8 521.4,298.3 519.8,298.3 519.0,298.6Z" fill="#0064fc" fill-rule="evenodd" stroke="#0064fc" stroke-width="0.3"/>
<path d="M517.3,293.2 518.2,293.1 519.8,293.3 525.5,295.0 527.1,295.7 527.9,296.3 528.7,297.4 529.5,299.1 529.9,300.4 530.4,303.6 530.7,307.6 530.5,311.6 529.9,315.6 529.0,318.8 527.9,321.1 526.3,323.2 524.7,324.1 523.9,324.1 522.2,323.5 520.6,321.9 519.5,320.4 518.2,318.1 517.1,315.6 515.9,312.4 515.1,309.2 514.4,306.0 514.1,302.8 514.0,300.4 514.2,298.0 514.5,296.4 515.3,294.8 515.9,294.0 517.3,293.2ZM519.0,295.5 518.2,295.7 517.1,296.4 516.5,297.2 515.8,299.2 515.5,301.2 515.5,303.6 516.1,308.4 517.5,313.2 518.4,315.6 519.8,318.3 521.3,320.4 522.2,321.3 523.1,321.8 523.9,322.0 524.7,321.9 525.9,321.2 527.1,319.8 528.1,318.0 528.9,315.6 529.5,312.4 529.7,309.2 529.6,306.0 529.2,302.8 528.7,301.0 527.9,299.3 527.1,298.3 526.3,297.7 524.7,296.9 521.4,295.9 519.0,295.5Z" fill="#008cfd" fill-rule="evenodd" stroke="#008cfd" stroke-width="0.3"/>
<path d="M517.0,290.8 519.0,291.0 523.1,292.4 526.3,293.1 527.9,293.8 528.7,294.5 529.5,295.6 530.6,298.8 531.3,302.8 531.5,307.6 531.2,313.2 530.5,317.2 529.5,320.4 527.9,323.4 526.3,325.2 524.7,326.0 523.1,325.8 521.4,324.8 519.8,323.0 518.6,321.2 517.2,318.8 515.8,315.5 514.7,312.4 513.7,308.4 513.0,304.4 512.7,301.2 512.6,298.0 512.9,295.6 513.4,293.9 514.2,292.3 515.0,291.5 515.8,291.1 517.0,290.8ZM517.4,293.2 515.9,294.0 515.3,294.8 514.5,296.4 514.2,298.0 514.0,300.4 514.1,302.8 514.4,306.0 515.1,309.2 515.9,312.4 517.1,315.6 518.2,318.1 519.5,320.4 520.6,321.9 522.2,323.5 523.9,324.1 524.7,324.1 526.3,323.2 527.9,321.1 529.0,318.8 529.9,315.6 530.5,311.6 530.7,307.6 530.4,303.6 529.9,300.4 529.5,299.1 528.7,297.4 527.9,296.3 527.1,295.7 525.5,295.0 519.8,293.3 518.2,293.1 517.4,293.2Z" fill="#00b4fe" fill-rule="evenodd" stroke="#00b4fe" stroke-width="0.3"/>
<path d="M514.0,289.2 515.8,288.6 517.4,288.7 523.1,290.6 527.9,291.5 528.7,292.0 529.9,293.2 530.3,294.0 531.1,296.3 532.0,301.2 532.2,306.8 532.0,312.4 531.4,317.2 530.3,321.0 528.7,324.3 527.1,326.3 525.5,327.5 524.7,327.7 523.1,327.6 521.6,326.8 519.9,325.2 518.7,323.6 517.2,321.2 515.6,318.0 514.3,314.8 513.3,311.6 512.3,307.6 511.7,303.6 511.3,299.6 511.3,296.4 511.5,294.0 512.1,291.6 513.1,290.0 514.0,289.2ZM517.4,290.8 515.8,291.1 514.9,291.6 513.6,293.2 513.1,294.8 512.7,297.2 512.6,300.4 512.9,303.6 513.5,307.6 514.5,311.6 515.5,314.8 516.9,318.0 518.6,321.2 519.8,323.0 521.4,324.8 523.1,325.8 524.7,326.0 526.3,325.2 527.9,323.4 529.5,320.4 530.5,317.2 531.2,313.2 531.5,308.4 531.3,303.6 530.8,299.6 530.3,297.6 529.5,295.6 528.7,294.5 527.9,293.8 526.3,293.1 523.1,292.4 519.0,291.0 517.4,290.8Z" fill="#00dcff" fill-rule="evenodd" stroke="#00dcff" stroke-width="0.3"/>
<path d="M513.3,286.8 515.0,286.5 516.6,286.6 523.1,288.9 527.1,289.3 528.7,289.6 529.5,290.1 530.3,291.0 531.1,292.5 531.6,294.0 532.2,296.4 532.6,299.6 532.9,306.0 532.7,312.4 532.0,318.5 530.7,322.8 529.0,326.0 527.1,328.1 525.5,329.2 524.7,329.4 523.1,329.3 521.4,328.5 519.6,326.8 517.7,324.4 516.2,322.0 514.6,318.8 513.3,315.6 512.1,311.6 511.0,306.8 510.3,302.0 509.9,298.0 509.9,294.0 510.2,291.6 510.9,289.1 512.0,287.6 513.3,286.8ZM514.2,289.1 513.1,290.0 512.1,291.6 511.5,294.0 511.3,296.4 511.3,299.6 511.7,303.6 512.3,307.6 513.3,311.6 514.3,314.8 515.6,318.0 517.2,321.2 518.7,323.6 519.9,325.2 521.6,326.8 523.1,327.6 524.7,327.7 525.5,327.5 527.1,326.3 528.7,324.3 530.3,321.0 531.4,317.2 532.0,312.4 532.2,306.8 532.0,301.2 531.1,296.3 530.3,294.0 529.9,293.2 528.7,292.0 527.9,291.5 523.1,290.6 517.4,288.7 515.8,288.6 514.2,289.1Z" fill="#02f0ec" fill-rule="evenodd" stroke="#02f0ec" stroke-width="0.3"/>
<path d="M513.0,284.4 515.0,284.5 516.6,284.8 523.1,287.3 524.7,287.5 527.9,287.3 529.5,287.6 530.3,288.2 531.1,289.2 532.0,291.0 532.3,292.4 533.2,298.0 533.5,306.0 533.3,314.0 532.6,319.6 531.4,323.6 530.7,325.2 529.5,327.2 527.1,329.8 525.5,330.8 524.7,331.0 523.1,331.0 521.1,330.0 519.0,328.1 516.7,325.2 514.7,322.0 513.2,318.8 512.0,315.6 510.6,310.8 509.6,306.0 508.8,300.4 508.4,294.8 508.6,290.8 509.2,287.6 510.0,286.0 510.9,285.1 511.7,284.7 513.0,284.4ZM513.4,286.8 512.0,287.6 510.9,289.1 510.2,291.6 509.9,294.0 509.9,298.0 510.3,302.0 511.0,306.8 512.1,311.6 513.3,315.6 514.6,318.8 516.2,322.0 517.7,324.4 519.6,326.8 521.4,328.5 523.1,329.3 524.7,329.4 525.5,329.2 527.1,328.1 529.0,326.0 530.7,322.8 532.0,318.5 532.7,312.4 532.9,306.0 532.6,299.6 532.2,296.4 531.6,294.0 531.1,292.5 530.3,291.0 529.5,290.1 528.7,289.6 527.1,289.3 523.1,288.9 516.6,286.6 515.0,286.5 513.4,286.8Z" fill="#05f0c7" fill-rule="evenodd" stroke="#05f0c7" stroke-width="0.3"/>
<path d="M509.3,282.8 510.9,282.2 512.5,282.1 514.2,282.4 517.4,283.4 521.4,285.2 523.9,285.8 529.5,285.3 530.3,285.5 531.1,286.1 532.0,287.2 532.7,289.2 533.7,294.8 534.1,303.6 534.0,313.2 533.3,320.4 532.3,324.4 530.6,327.6 529.4,329.2 527.9,330.8 525.5,332.4 523.9,332.7 523.1,332.6 521.4,331.9 519.8,330.8 517.4,328.4 515.5,326.0 513.5,322.8 512.0,319.6 510.6,315.6 509.1,310.0 508.2,305.2 507.4,299.6 507.0,294.0 507.0,290.0 507.3,286.8 508.1,284.4 508.5,283.6 509.3,282.8ZM513.4,284.4 511.7,284.7 510.9,285.1 510.1,285.9 509.2,287.6 508.6,290.8 508.4,294.8 508.8,300.4 509.6,306.0 510.6,310.8 512.0,315.6 513.2,318.8 514.7,322.0 516.7,325.2 519.0,328.1 521.1,330.0 523.1,331.0 524.7,331.0 525.5,330.8 527.1,329.8 529.5,327.2 530.7,325.2 531.4,323.6 532.6,319.6 533.3,314.0 533.5,306.0 533.2,298.0 532.3,292.4 532.0,291.0 531.1,289.2 530.3,288.2 529.5,287.6 527.9,287.3 524.7,287.5 523.1,287.3 516.6,284.8 515.0,284.5 513.4,284.4Z" fill="#08f0a1" fill-rule="evenodd" stroke="#08f0a1" stroke-width="0.3"/>
<path d="M510.0,279.6 511.7,279.9 514.2,280.6 520.6,283.4 523.1,284.1 525.5,284.0 529.5,282.9 531.1,283.0 532.0,283.6 532.5,284.4 533.4,286.8 533.9,289.2 534.3,293.2 534.7,303.6 534.6,315.6 534.3,319.6 533.8,322.8 532.9,326.0 532.1,327.6 531.0,329.2 529.6,330.8 527.9,332.4 526.3,333.5 524.7,334.1 523.1,334.2 520.6,333.2 518.2,331.3 515.3,328.4 513.5,326.0 511.6,322.8 510.0,318.8 508.7,314.8 507.2,308.4 506.2,302.0 505.4,294.8 505.3,288.4 505.7,284.4 506.1,282.7 506.8,281.2 507.7,280.2 508.5,279.8 510.0,279.6ZM510.1,282.4 509.3,282.8 508.5,283.6 507.7,285.4 507.1,288.4 506.9,292.4 507.2,298.0 507.9,303.6 508.9,309.2 510.3,314.8 511.4,318.0 513.1,322.0 514.9,325.2 516.7,327.6 519.0,330.1 521.4,331.9 523.1,332.6 524.7,332.6 525.5,332.4 527.1,331.4 528.7,330.0 530.3,328.0 531.6,326.0 532.3,324.4 533.3,320.4 534.0,313.2 534.1,303.6 533.7,294.8 532.8,289.4 532.0,287.2 531.1,286.1 530.3,285.5 528.7,285.2 524.7,285.8 523.1,285.7 521.4,285.2 517.4,283.4 515.0,282.6 511.7,282.1 510.1,282.4Z" fill="#0cf07c" fill-rule="evenodd" stroke="#0cf07c" stroke-width="0.3"/>
<path d="M505.8,277.2 506.9,276.8 507.7,276.7 509.3,277.0 514.2,278.9 520.6,281.8 523.1,282.5 525.5,282.3 529.5,280.5 531.1,280.0 532.0,280.0 532.8,280.4 533.8,282.0 534.4,284.3 534.8,287.6 535.3,298.0 535.3,314.8 535.0,320.4 534.6,324.4 533.7,327.6 532.2,330.0 528.7,333.3 527.1,334.5 525.5,335.4 523.9,335.8 523.1,335.7 521.4,335.3 518.2,333.4 514.8,330.8 512.5,328.4 510.8,326.0 509.1,322.8 507.9,319.6 506.3,314.0 504.9,306.8 504.0,299.6 503.4,291.6 503.3,285.2 503.7,281.2 504.5,278.8 505.0,278.0 505.8,277.2ZM510.1,279.6 508.5,279.8 507.7,280.2 506.8,281.2 505.8,283.6 505.3,287.6 505.4,293.2 506.0,300.4 507.2,308.4 508.7,314.8 510.0,318.8 511.6,322.8 513.5,326.0 515.3,328.4 518.2,331.3 520.6,333.2 523.1,334.2 524.7,334.1 526.3,333.5 527.9,332.4 529.6,330.8 531.0,329.2 532.1,327.6 532.9,326.0 533.8,322.8 534.3,319.6 534.6,315.6 534.7,303.6 534.3,293.2 533.9,289.2 533.4,286.8 532.5,284.4 532.0,283.6 531.1,283.0 529.5,282.9 525.5,284.0 523.1,284.1 520.6,283.4 514.2,280.6 510.1,279.6Z" fill="#0ff056" fill-rule="evenodd" stroke="#0ff056" stroke-width="0.3"/>
<path d="M499.6,248.4 499.6,274.0 500.4,274.0 501.2,273.2 502.0,273.2 502.8,272.6 504.5,272.6 505.9,273.2 506.9,273.3 507.7,273.6 511.7,275.8 512.6,276.4 513.4,276.6 514.1,277.2 519.0,279.6 521.4,280.6 523.1,280.9 524.7,280.8 526.3,280.2 532.8,275.8 535.2,274.7 536.0,274.0 536.0,248.4 536.0,362.8 536.0,331.6 535.2,331.2 533.6,331.7 531.1,333.2 528.7,335.0 526.3,336.5 524.7,337.2 523.1,337.3 521.4,337.0 519.8,336.4 514.2,333.5 513.3,333.2 508.5,330.4 507.1,330.0 506.1,329.3 503.6,329.2 502.0,329.2 501.2,330.0 500.4,330.0 499.6,330.8 499.6,362.8 499.6,248.4ZM506.1,277.0 505.3,277.6 504.5,278.8 503.7,281.2 503.3,285.2 503.4,291.6 504.0,299.6 504.9,306.8 506.3,314.0 507.9,319.6 509.1,322.8 510.8,326.0 512.5,328.4 514.8,330.8 518.2,333.4 521.4,335.3 523.1,335.7 523.9,335.8 525.5,335.4 527.1,334.5 528.7,333.3 532.2,330.0 533.7,327.6 534.6,324.4 535.0,320.4 535.3,314.8 535.3,298.0 534.8,287.6 534.4,284.3 533.8,282.0 532.8,280.4 532.0,280.0 531.1,280.0 529.5,280.5 525.5,282.3 523.9,282.5 522.2,282.4 520.6,281.8 515.8,279.6 510.1,277.2 507.7,276.7 506.1,277.0Z" fill="#12f031" fill-rule="evenodd" stroke="#12f031" stroke-width="0.3"/>
<path d="M499.6,248.4 504.6,248.4 505.8,255.6 507.5,262.0 509.7,267.6 512.2,271.6 515.3,274.8 519.0,277.6 521.4,278.9 523.1,279.3 523.9,279.4 524.7,279.3 526.3,278.6 529.4,276.4 532.5,273.2 533.9,270.8 534.6,268.4 535.0,264.4 535.3,257.2 535.3,248.4 536.0,248.4 536.0,274.0 535.2,274.7 532.8,275.8 526.3,280.2 524.7,280.8 523.1,280.9 521.4,280.6 519.0,279.6 514.1,277.2 513.4,276.6 512.6,276.4 511.7,275.8 507.7,273.6 506.9,273.3 505.9,273.2 504.5,272.6 502.8,272.6 502.0,273.2 501.2,273.2 500.4,274.0 499.6,274.0 499.6,248.4ZM501.2,330.0 502.0,329.2 506.1,329.3 507.1,330.0 508.5,330.4 513.3,333.2 514.2,333.5 519.8,336.4 521.4,337.0 523.1,337.3 524.7,337.2 526.3,336.5 528.7,335.0 531.1,333.2 533.6,331.7 535.2,331.2 536.0,331.6 536.0,362.8 535.3,362.8 535.1,350.0 534.6,342.0 533.9,338.8 533.6,337.9 532.8,336.8 532.0,336.4 531.1,336.4 529.5,336.9 525.5,338.7 523.1,338.9 520.6,338.2 510.9,333.9 509.3,333.4 507.7,333.1 506.1,333.4 505.3,334.0 504.7,334.8 504.0,336.4 503.5,339.6 503.3,343.6 503.4,349.2 504.0,356.4 504.8,362.8 499.6,362.8 499.6,330.8 500.4,330.0 501.2,330.0Z" fill="#27f01c" fill-rule="evenodd" stroke="#27f01c" stroke-width="0.3"/>
<path d="M504.6,248.4 506.6,248.4 508.0,255.6 509.5,261.2 511.4,266.0 513.2,269.2 515.6,272.4 519.0,275.6 521.4,277.2 523.1,277.8 523.9,277.8 524.7,277.7 526.3,277.1 528.7,275.3 531.3,272.4 532.3,270.8 533.0,269.2 533.9,266.0 534.4,262.0 534.7,256.4 534.7,248.4 535.3,248.4 535.2,260.4 534.7,267.6 534.2,270.0 533.6,271.6 532.5,273.2 531.1,274.8 528.4,277.2 526.3,278.6 524.7,279.3 523.1,279.3 521.4,278.9 519.0,277.6 516.2,275.6 513.6,273.2 512.2,271.6 510.6,269.2 509.0,266.0 508.0,263.6 506.2,257.2 504.6,248.4ZM506.8,333.2 508.5,333.2 510.1,333.6 515.0,335.6 520.6,338.2 523.1,338.9 525.5,338.7 529.5,336.9 531.1,336.4 532.0,336.4 532.8,336.8 533.6,337.9 533.9,338.8 534.4,340.7 534.8,343.6 535.2,350.8 535.3,362.8 534.7,362.8 534.5,352.4 533.8,345.2 533.1,342.0 532.0,340.0 531.1,339.4 529.5,339.3 525.5,340.4 523.1,340.5 520.6,339.8 514.2,337.0 511.7,336.3 510.1,336.0 508.5,336.2 507.7,336.6 507.1,337.2 506.2,338.8 505.7,340.4 505.3,344.4 505.4,350.0 505.9,356.4 506.8,362.8 504.8,362.8 504.0,356.4 503.5,350.0 503.3,344.4 503.4,340.4 503.8,337.2 504.5,335.2 505.3,334.0 506.1,333.4 506.8,333.2Z" fill="#4ef119" fill-rule="evenodd" stroke="#4ef119" stroke-width="0.3"/>
<path d="M506.6,248.4 508.1,248.4 509.2,254.0 510.7,259.6 512.5,264.4 514.7,268.4 517.0,271.6 519.8,274.4 522.2,275.9 523.9,276.3 524.7,276.2 526.3,275.6 528.3,274.0 530.4,271.6 532.1,268.4 532.9,266.0 533.6,262.2 534.0,256.4 534.1,248.4 534.7,248.4 534.5,260.4 534.1,264.4 533.5,267.6 532.7,270.0 531.3,272.4 529.2,274.8 527.1,276.6 525.5,277.5 523.9,277.8 523.1,277.8 521.4,277.2 519.8,276.2 518.0,274.8 516.4,273.2 514.3,270.8 511.8,266.8 509.8,262.0 508.0,255.6 506.6,248.4ZM508.0,336.4 509.3,336.0 510.1,336.0 512.5,336.5 516.6,337.9 521.4,340.1 523.1,340.5 525.5,340.4 529.5,339.3 531.1,339.4 532.0,340.0 532.8,341.2 533.3,342.8 534.0,346.8 534.5,353.2 534.7,362.8 534.1,362.8 533.9,354.0 533.2,347.6 532.3,344.4 531.1,342.5 530.3,341.9 528.7,341.6 524.7,342.2 523.1,342.1 521.4,341.6 515.8,339.3 513.4,338.7 511.7,338.5 510.1,338.8 508.9,339.6 507.9,341.2 507.4,342.8 507.0,346.8 507.0,351.6 507.5,357.2 508.4,362.8 506.8,362.8 505.6,353.2 505.3,348.4 505.3,344.4 505.6,341.2 506.1,339.2 506.9,337.4 508.0,336.4Z" fill="#74f216" fill-rule="evenodd" stroke="#74f216" stroke-width="0.3"/>
<path d="M508.1,248.4 509.4,248.4 510.5,254.0 511.9,258.8 513.7,263.6 515.4,266.8 517.6,270.0 519.8,272.5 522.2,274.3 523.9,274.7 525.5,274.4 526.3,274.0 527.9,272.7 530.0,270.0 531.6,266.8 532.5,263.6 533.1,259.6 533.5,254.0 533.5,248.4 534.1,248.4 533.9,258.8 533.5,262.8 532.9,266.0 532.1,268.4 530.9,270.8 529.1,273.2 527.1,275.0 525.5,276.0 524.7,276.2 523.1,276.2 521.6,275.6 519.8,274.4 518.5,273.2 515.2,269.2 512.9,265.2 511.3,261.2 509.6,255.6 508.1,248.4ZM510.0,338.8 511.7,338.5 514.2,338.8 516.6,339.5 521.4,341.6 523.1,342.1 524.7,342.2 528.7,341.6 530.3,341.9 531.1,342.5 532.0,343.6 532.6,345.2 533.4,349.2 533.9,354.8 534.1,362.8 533.5,362.8 533.3,355.6 532.6,350.0 531.7,346.8 531.1,345.6 530.3,344.6 529.5,344.0 528.7,343.8 524.7,343.9 523.1,343.7 516.6,341.2 515.0,340.9 513.4,340.8 511.7,341.1 510.4,342.0 509.4,343.6 508.9,345.2 508.5,348.4 508.5,352.4 508.9,357.2 509.7,362.8 508.4,362.8 507.2,354.0 507.0,350.0 507.0,346.0 507.3,343.6 507.9,341.2 508.9,339.6 510.0,338.8Z" fill="#9af312" fill-rule="evenodd" stroke="#9af312" stroke-width="0.3"/>
<path d="M509.4,248.4 510.7,248.4 511.6,253.2 512.9,258.0 514.4,262.0 516.4,266.0 518.6,269.2 520.6,271.4 522.2,272.6 523.9,273.1 525.5,272.8 526.3,272.3 527.9,270.9 529.5,268.7 530.8,266.0 531.8,262.8 532.5,258.8 532.8,254.0 532.9,248.4 533.5,248.4 533.3,258.0 532.8,262.0 532.1,265.2 530.9,268.4 529.5,270.8 527.9,272.7 526.3,274.0 524.7,274.6 523.9,274.7 523.1,274.6 521.7,274.0 520.6,273.3 519.0,271.7 516.4,268.4 514.1,264.4 512.1,259.6 510.5,254.0 509.4,248.4ZM511.4,341.2 513.4,340.8 515.0,340.9 517.4,341.5 523.1,343.7 524.7,343.9 528.7,343.8 529.5,344.0 530.3,344.6 531.1,345.6 532.0,347.4 532.8,350.8 533.3,356.4 533.5,362.8 532.9,362.8 532.6,356.4 531.9,351.6 531.1,348.9 530.3,347.4 529.8,346.8 528.7,346.0 527.9,345.8 523.1,345.3 517.4,343.2 515.0,342.9 513.4,343.2 512.5,343.6 511.7,344.2 510.9,345.5 510.4,346.8 510.0,349.2 509.9,353.2 510.2,358.0 510.9,362.8 509.7,362.8 508.6,354.8 508.4,350.8 508.5,347.6 508.9,345.2 509.4,343.6 510.1,342.3 511.4,341.2Z" fill="#c0f40f" fill-rule="evenodd" stroke="#c0f40f" stroke-width="0.3"/>
<path d="M510.7,248.4 511.8,248.4 512.8,253.2 513.9,257.2 515.4,261.2 517.4,265.2 519.0,267.7 520.6,269.6 522.2,270.9 523.9,271.4 525.5,271.1 527.1,269.9 528.7,267.9 530.1,265.2 531.1,261.9 531.8,258.0 532.2,253.2 532.2,248.4 532.9,248.4 532.6,257.2 532.3,260.4 531.6,263.6 530.8,266.0 529.5,268.7 527.9,270.9 526.3,272.3 524.7,273.0 523.9,273.1 522.2,272.6 519.8,270.7 517.4,267.5 515.1,263.6 513.2,258.8 511.8,254.0 510.7,248.4ZM512.5,343.6 514.2,343.0 516.6,343.0 523.1,345.3 527.9,345.8 529.5,346.5 530.3,347.4 531.1,348.9 532.0,351.6 532.6,356.4 532.9,362.8 532.2,362.8 531.9,357.2 531.1,352.7 530.3,350.4 529.5,349.1 528.7,348.4 527.1,347.7 523.1,347.0 518.2,345.3 516.6,345.0 515.0,345.2 513.4,346.0 512.5,347.1 512.0,348.4 511.4,350.8 511.2,354.0 511.4,358.0 512.1,362.8 510.9,362.8 510.0,355.6 509.9,350.0 510.3,347.6 510.7,346.0 511.6,344.4 512.5,343.6Z" fill="#e7f50c" fill-rule="evenodd" stroke="#e7f50c" stroke-width="0.3"/>
<path d="M511.8,248.4 513.0,248.4 514.0,253.2 515.1,257.2 516.6,261.0 518.2,264.2 519.8,266.6 521.4,268.4 522.6,269.2 523.9,269.6 525.5,269.3 527.1,268.0 528.5,266.0 529.5,263.9 530.4,261.2 531.1,257.2 531.4,253.2 531.4,248.4 532.2,248.4 532.0,256.4 531.6,259.6 530.9,262.8 530.1,265.2 528.9,267.6 527.9,269.1 526.3,270.6 524.7,271.3 523.9,271.4 522.2,270.9 520.3,269.2 518.2,266.5 516.1,262.8 514.4,258.8 513.0,254.0 511.8,248.4ZM514.9,345.2 515.8,345.0 517.4,345.1 523.1,347.0 527.1,347.7 528.7,348.4 529.5,349.1 530.5,350.8 531.4,354.0 532.0,358.0 532.2,362.8 531.5,362.8 531.1,358.0 530.6,354.8 529.7,352.4 528.7,350.9 527.9,350.2 526.3,349.5 523.1,348.8 519.0,347.4 517.4,347.2 515.8,347.5 515.0,347.9 514.2,348.7 513.4,350.3 512.8,352.4 512.6,355.6 512.8,358.8 513.3,362.8 512.1,362.8 511.5,358.8 511.3,355.6 511.3,352.4 511.5,350.0 512.0,348.4 512.7,346.8 513.4,346.0 514.9,345.2Z" fill="#fae109" fill-rule="evenodd" stroke="#fae109" stroke-width="0.3"/>
<path d="M513.0,248.4 514.3,248.4 515.0,252.4 515.8,255.6 517.3,259.6 518.8,262.8 519.8,264.4 521.4,266.4 523.1,267.5 523.9,267.7 524.8,267.6 526.3,266.8 527.9,264.7 528.8,262.8 529.6,260.4 530.4,256.4 530.6,252.4 530.5,248.4 531.4,248.4 531.3,255.6 530.9,258.8 530.2,262.0 529.3,264.4 528.1,266.8 527.1,268.0 525.5,269.3 523.9,269.6 522.2,269.0 520.6,267.6 518.3,264.4 516.6,261.0 515.1,257.2 514.0,253.2 513.0,248.4ZM515.5,347.6 517.4,347.2 519.0,347.4 523.1,348.8 527.1,349.8 528.7,350.9 529.7,352.4 530.6,354.8 531.1,358.0 531.5,362.8 530.6,362.8 530.3,359.1 529.8,356.4 528.8,354.0 527.9,352.7 527.1,352.1 525.5,351.4 519.8,349.7 518.2,349.5 516.6,349.9 515.8,350.5 514.7,352.4 514.2,354.6 514.0,357.2 514.5,362.8 513.3,362.8 512.6,357.2 512.6,354.8 512.8,352.4 513.2,350.8 513.9,349.2 514.4,348.4 515.5,347.6Z" fill="#fab808" fill-rule="evenodd" stroke="#fab808" stroke-width="0.3"/>
<path d="M514.3,248.4 515.6,248.4 516.1,251.6 516.8,254.8 518.2,258.7 519.4,261.2 521.4,264.1 522.8,265.2 523.9,265.6 524.7,265.5 525.4,265.2 526.3,264.5 527.1,263.4 528.2,261.2 528.9,258.8 529.5,255.5 529.7,251.6 529.5,248.4 530.5,248.4 530.5,254.8 530.1,258.0 529.5,260.7 528.7,263.1 527.9,264.7 527.0,266.0 525.5,267.3 524.7,267.7 523.9,267.7 522.2,267.1 520.6,265.5 519.0,263.1 517.4,259.9 516.1,256.4 515.0,252.4 514.3,248.4ZM516.4,350.0 517.4,349.6 518.2,349.5 519.8,349.7 526.1,351.6 527.9,352.7 528.8,354.0 529.8,356.4 530.3,359.1 530.6,362.8 529.7,362.8 529.4,360.4 528.7,357.4 527.9,355.7 527.1,354.7 526.2,354.0 524.4,353.2 520.6,352.1 519.0,351.9 518.2,352.1 517.4,352.5 516.3,354.0 515.8,355.6 515.5,358.0 515.8,362.8 514.5,362.8 514.0,358.0 514.2,354.6 515.0,351.7 515.8,350.5 516.4,350.0Z" fill="#fa8f06" fill-rule="evenodd" stroke="#fa8f06" stroke-width="0.3"/>
<path d="M515.6,248.4 517.1,248.4 517.5,251.6 518.2,254.7 519.1,257.2 520.2,259.6 521.4,261.5 522.2,262.4 523.1,262.9 523.9,263.2 524.7,263.1 525.5,262.6 526.3,261.7 527.4,259.6 528.1,257.2 528.5,254.0 528.5,250.8 528.2,248.4 529.5,248.4 529.7,254.0 528.9,258.8 528.2,261.2 527.5,262.8 526.3,264.5 525.5,265.2 524.7,265.5 523.9,265.6 523.1,265.4 521.4,264.1 519.8,261.9 518.2,258.8 517.1,255.6 516.1,251.6 515.6,248.4ZM517.6,352.4 519.0,351.9 521.4,352.2 525.5,353.6 527.1,354.7 527.9,355.7 528.7,357.4 529.4,360.4 529.7,362.8 528.5,362.8 527.8,359.6 527.1,358.0 526.3,357.0 525.5,356.3 523.9,355.5 522.2,354.9 520.6,354.7 519.8,354.7 519.0,355.0 518.2,355.8 517.5,357.2 517.2,358.8 517.2,362.8 515.8,362.8 515.5,358.8 515.8,355.6 516.6,353.5 517.6,352.4Z" fill="#fa6604" fill-rule="evenodd" stroke="#fa6604" stroke-width="0.3"/>
<path d="M517.1,248.4 519.1,248.4 519.1,250.0 519.4,252.4 519.8,254.4 520.5,256.4 521.4,258.1 522.2,259.2 523.1,259.8 523.9,260.1 524.7,259.9 525.5,259.1 526.3,257.6 526.8,255.6 527.1,253.4 527.1,251.6 526.3,248.4 528.2,248.4 528.5,250.8 528.6,253.2 527.9,258.0 527.1,260.3 526.3,261.7 525.5,262.6 524.7,263.1 523.9,263.2 523.1,262.9 522.2,262.4 521.2,261.2 519.8,258.9 519.0,257.1 518.0,254.0 517.4,251.1 517.1,248.4ZM519.6,354.8 521.4,354.7 523.1,355.2 524.7,355.8 526.3,357.0 527.1,358.0 527.8,359.6 528.5,362.8 526.8,362.8 526.3,361.2 525.9,360.4 524.7,359.1 523.1,358.2 521.4,358.0 520.6,358.3 519.8,359.1 519.6,359.6 519.1,361.2 519.1,362.8 517.2,362.8 517.1,359.6 517.5,357.2 518.2,355.8 519.0,355.0 519.6,354.8Z" fill="#fa3d02" fill-rule="evenodd" stroke="#fa3d02" stroke-width="0.3"/>
<path d="M519.1,248.4 526.3,248.4 527.1,251.6 527.0,254.8 526.3,257.6 525.5,259.1 524.7,259.9 523.9,260.1 522.7,259.6 521.4,258.1 520.6,256.6 519.8,254.4 519.4,252.4 519.1,250.0 519.1,248.4ZM520.0,358.8 520.6,358.3 521.4,358.0 523.1,358.2 524.2,358.8 525.2,359.6 525.9,360.4 526.3,361.2 526.8,362.8 519.1,362.8 519.3,360.4 520.0,358.8Z" fill="#fa1401" fill-rule="evenodd" stroke="#fa1401" stroke-width="0.3"/>
<path d="M506.1,275.4 505.3,275.6 504.5,276.1 503.6,277.0 503.2,278.0 502.5,281.2 502.3,286.8 502.6,294.8 503.5,304.4 504.8,313.2 506.5,319.6 508.0,323.6 509.3,326.0 511.0,328.4 513.3,330.8 516.5,333.2 520.5,335.6 523.1,336.4 524.7,336.3 526.3,335.6 527.9,334.6 532.4,330.8 533.8,329.2 534.2,328.4 534.9,326.0 535.3,322.0 535.5,317.2 535.6,298.0 535.1,286.0 534.8,282.8 534.4,280.7 533.6,279.1 532.8,278.6 532.0,278.5 530.3,279.1 525.5,281.6 523.9,281.9 522.2,281.8 519.8,280.9 509.3,276.0 507.7,275.5 506.1,275.4M506.1,277.9 505.3,278.8 504.8,279.6 504.0,282.8 503.7,286.8 503.8,292.4 504.6,301.2 505.5,307.6 506.6,313.2 508.2,318.8 509.7,322.8 511.4,326.0 513.2,328.4 515.5,330.8 519.0,333.6 521.4,335.0 523.1,335.4 523.9,335.5 525.5,335.1 527.1,334.2 528.7,333.0 531.1,330.8 532.4,329.2 533.7,326.8 534.5,323.6 534.9,319.6 535.1,314.0 535.1,298.0 534.6,288.4 534.2,285.2 533.6,282.8 532.8,281.3 532.0,280.7 531.1,280.6 529.5,281.0 525.5,282.6 523.1,282.8 520.6,282.1 515.0,279.5 510.1,277.7 507.7,277.3 506.9,277.5 506.1,277.9M507.7,279.4 506.9,280.0 506.1,281.2 505.4,283.6 505.0,286.8 504.9,291.6 505.5,298.8 506.3,305.2 507.3,310.8 509.0,317.2 510.5,321.2 512.0,324.4 514.1,327.6 516.3,330.0 519.0,332.4 521.4,334.0 523.1,334.5 523.9,334.5 525.5,334.2 527.1,333.3 528.3,332.4 531.3,329.2 532.4,327.6 533.1,326.0 534.1,322.0 534.6,318.0 534.8,313.2 534.8,300.4 534.3,290.8 533.9,287.6 533.3,285.2 532.5,283.6 532.0,282.9 531.1,282.4 529.5,282.4 525.5,283.6 523.1,283.8 521.4,283.4 515.8,280.9 511.7,279.5 509.3,279.0 507.7,279.4M508.5,281.2 507.7,281.9 507.2,282.8 506.4,285.2 506.0,288.4 506.0,293.2 506.4,298.8 507.3,305.2 508.4,310.8 509.9,316.4 511.3,320.4 512.8,323.6 514.9,326.8 516.9,329.2 519.4,331.6 521.4,333.0 523.1,333.5 523.9,333.6 525.5,333.3 527.1,332.4 528.1,331.6 529.7,330.0 531.0,328.4 532.7,325.2 533.7,321.2 534.1,318.0 534.4,313.2 534.4,301.2 533.9,292.4 533.4,289.2 532.8,286.8 532.0,285.0 531.1,284.3 530.3,283.9 528.7,283.9 524.7,284.8 523.1,284.7 521.4,284.3 516.6,282.2 513.4,281.1 511.7,280.7 510.1,280.6 508.5,281.2M510.1,282.4 509.3,282.8 508.5,283.6 507.7,285.4 507.1,288.4 506.9,292.4 507.2,298.0 507.9,303.6 508.9,309.2 510.3,314.8 511.4,318.0 513.1,322.0 514.9,325.2 516.7,327.6 519.0,330.1 521.4,331.9 523.1,332.6 524.7,332.6 525.5,332.4 527.1,331.4 528.7,330.0 530.3,328.0 531.6,326.0 532.3,324.4 533.3,320.4 534.0,313.2 534.1,303.6 533.7,294.8 532.8,289.4 532.0,287.2 531.1,286.1 530.3,285.5 528.7,285.2 524.7,285.8 523.1,285.7 521.4,285.2 517.4,283.4 515.0,282.6 511.7,282.1 510.1,282.4M511.7,283.6 510.1,284.3 508.9,286.0 508.2,288.4 507.9,291.6 508.0,296.4 508.4,301.2 509.3,306.8 510.5,312.4 511.5,315.6 513.0,319.6 514.5,322.8 516.6,326.0 518.5,328.4 520.6,330.4 522.2,331.3 523.1,331.6 524.7,331.7 525.5,331.4 527.1,330.5 528.5,329.2 529.8,327.6 531.6,324.4 532.4,322.0 532.9,319.6 533.6,313.2 533.8,304.4 533.3,296.4 532.9,293.2 532.4,290.8 532.0,289.4 531.1,287.9 530.3,287.1 529.5,286.7 527.9,286.5 524.7,286.8 523.1,286.6 515.8,283.9 513.4,283.5 511.7,283.6M512.5,285.0 510.9,285.8 510.1,286.8 509.2,289.2 508.8,292.4 508.8,297.2 509.3,302.0 510.2,307.6 511.3,312.4 512.6,316.4 513.8,319.6 515.5,322.8 517.0,325.2 519.0,327.7 521.4,329.9 523.1,330.7 524.7,330.7 525.5,330.5 527.1,329.5 528.2,328.4 529.5,326.8 531.2,323.6 532.4,319.6 533.2,314.0 533.4,306.0 533.0,298.0 532.1,292.4 531.1,289.8 530.3,288.7 529.5,288.1 527.9,287.7 524.7,287.8 523.1,287.6 516.6,285.2 514.2,284.8 512.5,285.0M512.5,286.6 511.3,287.6 510.4,289.2 509.8,291.6 509.6,294.8 509.7,298.8 510.2,303.6 511.1,308.4 512.1,312.4 513.4,316.4 514.7,319.6 516.4,322.8 518.0,325.2 519.8,327.4 521.4,328.8 523.1,329.7 524.7,329.8 526.1,329.2 527.1,328.5 529.2,326.0 530.9,322.8 532.1,318.8 532.8,313.2 533.0,306.0 532.7,299.6 531.9,294.0 531.1,291.8 530.3,290.4 529.5,289.6 528.7,289.2 527.9,289.0 523.1,288.6 518.2,286.7 515.8,286.1 514.2,286.1 512.5,286.6M514.2,287.5 512.6,288.4 511.7,289.4 510.9,291.5 510.5,294.0 510.4,298.0 510.7,302.0 511.5,306.8 512.4,310.8 513.6,314.8 514.8,318.0 516.3,321.2 517.8,323.6 519.8,326.3 521.4,327.8 523.1,328.7 524.7,328.8 525.7,328.4 527.1,327.4 529.0,325.2 530.6,322.0 531.7,318.0 532.4,312.4 532.6,306.0 532.3,299.6 531.4,294.8 530.3,292.2 529.5,291.1 528.7,290.5 527.1,290.1 523.1,289.6 517.4,287.6 515.8,287.3 514.2,287.5M514.2,289.1 513.1,290.0 512.1,291.6 511.5,294.0 511.3,296.4 511.3,299.6 511.7,303.6 512.3,307.6 513.3,311.6 514.3,314.8 515.6,318.0 517.2,321.2 518.7,323.6 519.9,325.2 521.6,326.8 523.1,327.6 524.7,327.7 525.5,327.5 527.1,326.3 528.7,324.3 530.3,321.0 531.4,317.2 532.0,312.4 532.2,306.8 532.0,301.2 531.1,296.3 530.3,294.0 529.9,293.2 528.7,292.0 527.9,291.5 523.1,290.6 517.4,288.7 515.8,288.6 514.2,289.1M516.6,289.9 515.0,290.4 514.2,290.9 513.1,292.4 512.4,294.8 512.1,298.0 512.2,301.2 512.5,304.4 513.2,308.4 514.2,312.4 515.3,315.6 516.7,318.8 518.5,322.0 519.8,323.9 521.4,325.6 523.1,326.6 524.7,326.7 526.3,325.9 527.1,325.2 528.4,323.6 529.6,321.2 530.8,317.2 531.5,313.2 531.8,308.4 531.7,303.6 531.1,298.8 530.4,296.4 529.7,294.8 528.7,293.5 527.9,292.9 526.3,292.3 523.1,291.6 519.0,290.2 516.6,289.9M516.6,291.3 515.8,291.6 515.0,292.2 514.2,293.1 513.4,294.8 513.1,296.4 512.9,298.8 513.0,302.0 513.3,305.2 514.1,309.2 515.0,312.4 516.1,315.6 517.5,318.8 519.0,321.4 520.6,323.6 522.2,325.0 523.9,325.6 524.7,325.6 526.3,324.8 528.0,322.8 529.5,319.8 530.5,316.4 531.1,312.4 531.3,307.6 531.1,302.8 530.4,298.8 529.9,297.2 529.1,295.6 527.9,294.3 527.1,293.8 519.0,291.4 517.4,291.2 516.6,291.3M516.6,292.9 515.8,293.4 514.7,294.8 514.1,296.4 513.8,298.8 513.7,301.2 514.0,304.4 515.0,310.0 515.9,313.2 517.2,316.4 518.3,318.8 519.8,321.2 521.1,322.8 522.2,323.9 523.9,324.5 524.7,324.5 526.3,323.6 527.9,321.6 528.9,319.6 529.9,316.4 530.6,312.4 530.8,308.4 530.7,304.4 530.1,300.4 529.5,298.4 528.7,296.8 527.9,295.8 527.1,295.2 525.5,294.5 519.8,292.8 518.2,292.6 516.6,292.9M516.6,294.7 515.8,295.7 515.1,297.2 514.6,300.4 514.8,305.2 516.0,310.8 518.0,316.4 520.2,320.4 521.4,321.9 522.2,322.6 523.9,323.3 524.7,323.2 525.5,322.9 526.3,322.3 527.7,320.4 528.7,318.3 529.5,315.5 530.1,311.6 530.3,307.6 530.1,304.4 529.5,300.9 528.8,298.8 528.3,298.0 527.1,296.7 526.3,296.2 519.8,294.1 518.2,294.0 517.4,294.3 516.6,294.7M519.0,295.5 518.2,295.7 517.1,296.4 516.5,297.2 515.8,299.2 515.5,301.2 515.5,303.6 516.1,308.4 517.5,313.2 518.4,315.6 519.8,318.3 521.3,320.4 522.2,321.3 523.1,321.8 523.9,322.0 524.7,321.9 525.9,321.2 527.1,319.8 528.1,318.0 528.9,315.6 529.5,312.4 529.7,309.2 529.6,306.0 529.2,302.8 528.7,301.0 527.9,299.3 527.1,298.3 526.3,297.7 524.7,296.9 521.4,295.9 519.0,295.5M519.8,297.1 519.0,297.3 517.9,298.0 517.3,298.8 516.7,300.4 516.5,302.0 516.5,304.4 517.0,308.4 518.3,313.2 519.3,315.6 520.6,318.0 522.0,319.6 523.1,320.4 523.9,320.6 524.7,320.5 526.0,319.6 527.1,318.1 528.3,314.8 528.8,312.4 529.1,309.2 529.0,306.8 528.7,304.2 527.9,301.5 527.1,300.2 526.3,299.3 524.7,298.4 523.1,297.8 521.4,297.3 519.8,297.1M519.0,299.4 518.2,300.4 517.9,301.2 517.5,303.6 517.6,306.8 518.4,310.8 519.8,314.6 521.4,317.4 523.1,318.8 523.9,319.0 524.7,318.9 525.5,318.4 526.4,317.2 527.2,315.6 527.9,313.2 528.2,310.8 528.3,308.4 527.8,304.4 527.1,302.4 526.3,301.2 524.7,300.0 523.1,299.3 521.4,298.9 519.8,299.0 519.0,299.4M520.6,301.0 519.8,301.5 519.4,302.0 518.8,303.6 518.6,306.0 519.0,309.1 520.0,312.4 521.4,315.3 522.3,316.4 523.1,316.9 523.9,317.2 524.7,317.0 525.5,316.4 526.3,315.1 527.0,313.2 527.3,311.6 527.4,309.2 527.1,306.0 526.3,303.7 525.5,302.6 524.8,302.0 523.9,301.5 522.2,300.9 520.6,301.0M521.4,303.6 520.6,304.4 520.2,306.0 520.1,307.6 520.5,310.0 521.4,312.4 522.2,313.9 523.1,314.6 523.9,314.8 524.7,314.5 525.1,314.0 525.8,312.4 526.3,310.0 526.1,307.6 525.5,305.6 524.6,304.4 523.1,303.5 522.2,303.4 521.4,303.6" fill="none" stroke="#04203a" stroke-width="0.32" stroke-opacity="0.5"/>
<path d="M535.6,248.4 535.4,265.2 535.0,269.2 534.4,271.6 534.0,272.4 532.8,274.0 529.2,277.2 526.3,279.2 524.7,279.9 523.9,280.0 522.2,279.8 520.6,279.3 515.9,276.4 513.8,274.8 512.0,273.2 509.5,270.0 507.5,266.0 505.9,261.2 504.8,256.4 503.5,248.4M503.7,362.8 503.1,357.2 502.5,349.2 502.3,342.8 502.5,338.0 503.0,334.8 503.8,333.2 504.5,332.5 505.3,332.0 506.9,331.8 509.3,332.4 520.6,337.6 523.1,338.3 523.9,338.3 525.5,338.0 531.1,335.1 532.0,334.9 532.8,335.0 533.6,335.5 534.1,336.4 534.6,338.0 535.1,342.0 535.5,350.0 535.6,362.8M535.2,248.4 534.9,262.8 534.6,266.8 533.9,270.0 532.7,272.4 531.4,274.0 529.9,275.6 527.9,277.3 526.3,278.3 524.7,279.0 523.9,279.1 522.2,278.9 520.6,278.2 516.9,275.6 513.5,272.4 511.2,269.2 509.2,265.2 507.6,260.4 506.3,255.6 505.1,248.4M505.3,362.8 504.6,358.0 504.0,350.8 503.7,345.2 503.9,340.4 504.2,338.0 505.0,335.6 506.1,334.3 506.9,333.9 507.7,333.7 509.3,333.9 510.9,334.3 515.8,336.3 520.6,338.5 523.1,339.2 525.5,339.0 530.3,337.1 531.1,337.0 532.0,337.1 532.8,337.7 533.6,339.1 534.0,340.4 534.6,344.4 535.0,351.6 535.2,362.8M534.9,248.4 534.8,256.4 534.5,262.0 534.1,266.0 533.3,269.2 532.6,270.8 531.6,272.4 528.7,275.6 526.3,277.4 524.7,278.0 523.9,278.1 523.1,278.1 521.4,277.6 518.5,275.6 515.1,272.4 513.8,270.8 512.3,268.4 510.7,265.2 508.9,260.4 507.4,254.8 506.2,248.4M506.5,362.8 505.7,357.2 505.1,350.8 504.9,346.0 505.1,342.0 505.4,339.6 506.3,337.2 506.9,336.4 507.7,335.8 509.3,335.4 510.9,335.7 513.4,336.4 516.6,337.6 520.6,339.5 523.1,340.2 525.5,340.0 528.7,339.0 530.3,338.7 531.1,338.8 532.0,339.3 532.8,340.4 533.4,342.0 534.1,346.0 534.7,353.2 534.9,362.8M534.5,248.4 534.4,255.6 534.1,261.2 533.6,265.2 532.8,268.5 531.2,271.6 528.7,274.6 526.3,276.5 524.7,277.1 523.9,277.2 523.1,277.1 521.4,276.6 519.0,274.8 515.8,271.6 513.1,267.6 511.2,263.6 509.8,259.6 508.3,254.0 507.2,248.4M507.5,362.8 506.7,357.2 506.1,351.6 506.0,346.8 506.2,342.8 506.7,340.4 507.7,338.3 508.5,337.6 509.3,337.2 510.9,337.0 515.0,338.0 521.4,340.7 523.1,341.1 525.5,341.1 529.5,340.2 530.6,340.4 531.7,341.2 532.3,342.0 532.9,343.6 533.8,347.6 534.3,354.0 534.5,362.8M534.1,248.4 534.1,254.8 533.8,260.4 533.2,264.4 532.4,267.6 530.9,270.8 528.7,273.6 526.3,275.6 524.7,276.2 523.9,276.3 523.1,276.2 521.4,275.5 519.0,273.7 516.4,270.8 513.7,266.8 512.2,263.6 510.5,258.8 509.0,253.2 508.1,248.4M508.4,362.8 507.5,357.2 507.1,352.4 506.9,347.6 507.2,344.4 507.7,341.8 508.5,340.1 509.3,339.2 510.0,338.8 511.7,338.5 513.4,338.7 515.8,339.3 521.4,341.6 523.1,342.1 524.7,342.2 528.7,341.6 530.3,341.9 531.1,342.5 532.0,343.6 532.6,345.2 533.4,349.2 533.9,354.8 534.1,362.8M533.8,248.4 533.7,254.8 533.4,259.6 532.9,263.6 532.0,267.0 530.3,270.4 528.1,273.2 526.3,274.6 524.7,275.3 523.9,275.3 522.0,274.8 519.7,273.2 516.9,270.0 514.7,266.8 512.8,262.8 511.3,258.8 509.8,253.2 508.9,248.4M509.2,362.8 508.4,358.0 508.0,353.2 507.9,348.4 508.1,345.2 508.8,342.8 509.7,341.2 510.9,340.2 512.5,339.9 514.2,340.0 516.6,340.5 521.4,342.5 523.1,343.0 524.7,343.2 527.9,342.9 529.5,343.1 530.3,343.5 531.1,344.3 532.3,346.8 533.1,350.8 533.6,355.7 533.8,362.8M533.4,248.4 533.4,254.0 533.0,259.6 532.3,263.6 531.4,266.8 529.8,270.0 527.9,272.4 526.9,273.2 525.5,274.1 523.9,274.4 522.2,274.0 519.8,272.2 517.3,269.2 515.2,266.0 513.3,262.0 511.9,258.0 510.6,253.2 509.7,248.4M510.0,362.8 509.2,358.0 508.8,353.2 508.8,349.2 509.1,346.0 509.9,343.6 510.9,342.2 512.5,341.4 514.2,341.2 517.4,341.8 523.1,344.0 524.7,344.2 528.7,344.2 529.5,344.5 530.3,345.1 531.1,346.2 531.8,347.6 532.6,350.8 533.2,356.4 533.4,362.8M533.0,248.4 533.0,254.0 532.6,258.8 532.0,262.8 531.1,266.0 529.5,269.2 527.9,271.3 526.7,272.4 525.5,273.1 523.9,273.4 522.2,272.9 519.8,271.0 517.7,268.4 515.7,265.2 514.1,262.0 512.7,258.0 511.4,253.2 510.4,248.4M510.7,362.8 510.0,358.0 509.6,353.2 509.6,350.0 510.1,346.8 510.9,344.5 511.7,343.5 513.4,342.7 515.0,342.5 517.4,342.9 523.1,345.0 524.7,345.2 527.1,345.3 528.7,345.6 529.5,346.0 530.3,346.8 531.5,349.2 532.3,352.4 532.8,357.2 533.0,362.8M532.6,248.4 532.6,253.2 532.3,258.0 531.6,262.0 530.7,265.2 529.5,267.9 527.9,270.2 526.4,271.6 525.5,272.1 523.9,272.4 522.2,271.9 519.9,270.0 518.0,267.6 516.1,264.4 514.6,261.2 513.2,257.2 512.1,253.2 511.1,248.4M511.4,362.8 510.8,358.8 510.5,354.8 510.4,351.6 510.8,348.4 511.6,346.0 512.5,344.8 514.2,343.9 515.8,343.7 518.2,344.2 523.1,346.0 527.9,346.6 528.7,346.9 529.6,347.6 530.3,348.6 531.0,350.0 531.9,353.2 532.4,358.0 532.6,362.8M532.2,248.4 532.2,253.2 531.9,257.2 531.3,261.2 530.3,264.6 528.7,267.9 527.1,269.9 525.5,271.1 523.9,271.4 522.2,270.9 520.3,269.2 518.4,266.8 516.5,263.6 515.0,260.4 513.6,256.4 512.6,252.4 511.8,248.4M512.1,362.8 511.5,358.8 511.2,354.8 511.3,351.6 511.7,349.2 512.5,347.1 513.4,346.1 515.0,345.2 516.6,345.0 518.2,345.3 523.1,347.0 527.1,347.7 528.7,348.4 529.5,349.1 530.5,350.8 531.4,354.0 532.0,358.0 532.2,362.8M531.7,248.4 531.7,253.2 531.4,257.2 530.9,260.4 530.1,263.6 528.7,266.6 527.1,268.8 525.5,270.0 523.9,270.3 522.2,269.8 520.6,268.4 518.8,266.0 516.9,262.8 515.5,259.6 514.4,256.4 513.3,252.4 512.6,248.4M512.8,362.8 512.1,356.4 512.1,353.2 512.4,350.8 512.9,349.2 513.9,347.6 515.0,346.7 516.6,346.3 518.2,346.4 523.1,348.0 527.1,348.9 527.9,349.3 528.9,350.0 529.5,350.8 530.3,352.4 531.0,354.8 531.6,358.8 531.8,362.8M531.3,248.4 531.3,252.4 531.0,256.4 530.4,260.4 529.5,263.4 528.7,265.2 527.1,267.6 525.5,268.9 523.9,269.3 522.2,268.6 520.6,267.2 519.0,265.0 517.4,262.2 515.9,258.8 514.8,255.6 514.0,252.4 513.3,248.4M513.5,362.8 513.1,359.6 512.9,356.4 513.0,354.0 513.3,351.6 514.2,349.5 515.0,348.6 515.8,348.0 517.4,347.6 519.0,347.8 523.1,349.1 526.3,349.9 527.9,350.7 528.7,351.4 529.8,353.2 530.5,355.6 531.1,358.8 531.3,362.8M530.7,248.4 530.8,251.6 530.6,255.6 530.2,258.8 529.4,262.0 528.3,264.4 527.1,266.4 525.5,267.7 524.7,268.1 523.9,268.1 523.1,267.9 521.4,266.8 519.8,264.9 518.1,262.0 516.7,258.8 515.6,255.6 514.7,252.4 514.0,248.4M514.3,362.8 513.7,357.2 513.8,354.8 514.3,352.4 514.9,350.8 515.8,349.8 516.6,349.3 518.2,349.0 519.8,349.2 526.3,351.2 527.1,351.6 528.1,352.4 529.2,354.0 530.0,356.4 530.5,358.8 530.8,362.8M530.2,248.4 530.3,251.6 530.1,255.6 529.5,259.1 528.7,261.9 527.9,263.7 526.3,265.9 524.8,266.8 523.9,266.9 522.2,266.2 521.2,265.2 519.8,263.5 518.2,260.5 517.1,258.0 516.1,254.8 515.3,251.6 514.8,248.4M515.0,362.8 514.6,359.6 514.6,357.2 514.8,354.8 515.2,353.2 515.8,352.1 516.6,351.1 517.4,350.7 519.0,350.4 520.6,350.7 525.5,352.2 527.1,353.1 527.9,353.9 528.7,355.1 529.5,357.3 530.0,359.6 530.3,362.8M529.5,248.4 529.7,251.6 529.6,254.8 529.1,258.0 528.5,260.4 527.5,262.8 526.3,264.5 525.4,265.2 524.7,265.5 523.9,265.6 522.8,265.2 521.4,264.1 520.4,262.8 519.0,260.4 517.9,258.0 516.8,254.8 516.1,251.6 515.6,248.4M515.8,362.8 515.5,358.0 516.0,354.8 516.6,353.5 517.4,352.5 518.2,352.1 519.0,351.9 520.6,352.1 524.4,353.2 526.2,354.0 527.1,354.7 527.9,355.7 528.7,357.4 529.4,360.4 529.7,362.8M528.8,248.4 529.0,250.8 529.0,254.0 528.7,256.6 528.0,259.6 527.1,261.7 526.3,262.9 525.5,263.7 524.7,264.1 523.9,264.2 522.5,263.6 521.4,262.6 520.4,261.2 519.1,258.8 517.4,253.9 516.7,250.8 516.5,248.4M516.6,362.8 516.4,359.6 516.8,356.4 517.4,355.0 518.2,354.1 519.0,353.7 519.8,353.5 521.4,353.7 523.1,354.1 524.8,354.8 526.3,355.7 527.1,356.6 527.9,358.0 528.7,360.4 529.0,362.8M527.9,248.4 528.3,250.8 528.3,253.2 528.1,255.6 527.6,258.0 527.1,259.5 526.2,261.2 525.5,262.0 524.7,262.5 523.9,262.6 523.1,262.4 521.7,261.2 520.6,259.8 519.8,258.2 519.0,256.3 518.1,253.2 517.5,248.4M517.6,362.8 517.5,359.6 518.1,357.2 519.0,355.8 519.8,355.4 520.6,355.3 522.2,355.5 523.9,356.0 525.5,356.9 526.3,357.6 527.4,359.6 527.9,361.1 528.2,362.8M526.8,248.4 527.2,250.0 527.4,252.4 527.1,256.4 526.3,258.7 525.5,259.9 524.7,260.6 523.9,260.8 523.1,260.5 522.2,259.9 521.4,258.8 520.1,256.4 519.0,252.4 518.7,248.4M518.7,362.8 518.8,360.4 519.2,358.8 519.8,357.9 520.6,357.4 521.4,357.3 522.2,357.3 523.9,357.9 525.5,359.0 526.4,360.4 527.2,362.8M524.9,248.4 525.5,249.2 526.0,250.8 526.3,252.4 526.2,254.0 525.5,257.0 524.7,258.1 523.9,258.4 523.1,258.2 522.2,257.5 521.4,256.2 520.6,254.1 520.1,250.8 520.4,248.4M520.1,362.8 520.6,360.8 521.4,360.0 522.2,359.8 523.9,360.2 524.7,360.9 525.5,362.0 525.8,362.8" fill="none" stroke="#050505" stroke-width="0.46" stroke-opacity="0.92"/>
<path d="M536.0,248.4 536.0,274.0 535.2,274.7 532.8,275.8 527.9,279.2 526.3,280.2 524.7,280.8 523.1,280.9 521.4,280.6 519.0,279.6 515.0,277.5 514.1,277.2 513.4,276.6 512.6,276.4 511.7,275.8 507.7,273.6 506.9,273.3 505.9,273.2 504.5,272.6 502.8,272.6 502.0,273.2 501.2,273.2 500.4,274.0 499.6,274.0 499.6,248.4M499.6,362.8 499.6,330.8 500.4,330.0 501.2,330.0 502.0,329.2 503.6,329.2 506.1,329.3 507.1,330.0 508.5,330.4 511.9,332.4 512.5,332.6 513.3,333.2 514.2,333.5 515.0,334.0 515.8,334.3 519.8,336.4 521.4,337.0 523.1,337.3 524.7,337.2 526.3,336.5 528.7,335.0 531.1,333.2 533.6,331.7 535.2,331.2 536.0,331.6 536.0,362.8" fill="none" stroke="#061006" stroke-width="0.85"/>
<g filter="url(#b15)">
<ellipse cx="536.0" cy="249.4" rx="3.0" ry="15" fill="#040404"/>
<ellipse cx="536.0" cy="363.8" rx="3.2" ry="20" fill="#040404"/>
</g>
</g>
<rect x="499.6" y="248.4" width="36.4" height="114.4" fill="none" stroke="#0a0a0a" stroke-width="0.9"/>
<text x="474.4" y="241.6" font-size="11.5" font-family='"Liberation Serif", "DejaVu Serif", serif' fill="#111" text-anchor="middle">Ψ<tspan font-size="5.4" dy="2.6" font-style="italic">p</tspan></text>
<text x="517.8" y="241.6" font-size="11.5" font-family='"Liberation Serif", "DejaVu Serif", serif' fill="#111" text-anchor="middle">Ψ<tspan font-size="5.4" dy="2.6" font-style="italic">p</tspan></text>
<text x="434.8" y="223.4" font-size="9.4" font-style="italic" font-family='"Liberation Serif", "DejaVu Serif", serif' fill="#111">R</text>
<text x="440.2" y="225.6" font-size="4.4" font-style="italic" font-family='"Liberation Serif", "DejaVu Serif", serif' fill="#111">TC</text>
<text x="440.6" y="219.6" font-size="4.4" font-style="italic" font-family='"Liberation Serif", "DejaVu Serif", serif' fill="#111">Hopf</text>
<text x="453.2" y="223.4" font-size="9.2" font-family='"Liberation Serif", "DejaVu Serif", serif' fill="#111">=</text>
<text x="460.4" y="223.4" font-size="9.0" font-family='"Liberation Serif", "DejaVu Serif", serif' fill="#111">863.5</text>
<text x="483.2" y="223.4" font-size="9.0" font-family='"Liberation Serif", "DejaVu Serif", serif' fill="#111">,</text>
<text x="488.8" y="223.4" font-size="9.4" font-style="italic" font-family='"Liberation Serif", "DejaVu Serif", serif' fill="#111">f</text>
<text x="492.4" y="225.6" font-size="4.6" font-style="italic" font-family='"Liberation Serif", "DejaVu Serif", serif' fill="#111">r</text>
<text x="498.6" y="223.4" font-size="9.2" font-family='"Liberation Serif", "DejaVu Serif", serif' fill="#111">=</text>
<text x="506.6" y="223.4" font-size="9.0" font-family='"Liberation Serif", "DejaVu Serif", serif' fill="#111" textLength="22.8" lengthAdjust="spacing">±4.32</text>
<text x="0" y="0" font-size="8.8" font-family='"Liberation Serif", "DejaVu Serif", serif' fill="#ff28e0" font-weight="normal" font-style="normal" text-anchor="start" transform="translate(437.2,363.2) rotate(-90)">Linear stability stream function</text>
<text x="0" y="0" font-size="8.8" font-family='"Liberation Serif", "DejaVu Serif", serif' fill="#ff28e0" font-weight="normal" font-style="normal" text-anchor="middle" transform="translate(449.2,307.6) rotate(-90)">perturbation</text>
</g>
<g id="redlines">
<path d="M306.2,87.6 L350.3,70.7 L412.4,70.7" fill="none" stroke="#f01820" stroke-width="1.3"/>
<polygon points="303.6,88.7 309.5,84.2 311.0,88.0" fill="#f01820"/>
<path d="M492.4,161.8 L472.2,161.8 L472.2,193.4 L365,218.4 L300.2,218.4 L275.2,268.8" fill="none" stroke="#f01820" stroke-width="1.2" stroke-linejoin="miter"/>
<polygon points="273.8,271.6 274.2,265.4 278.0,267.2" fill="#f01820"/>
</g>
</svg>
</body></html>
